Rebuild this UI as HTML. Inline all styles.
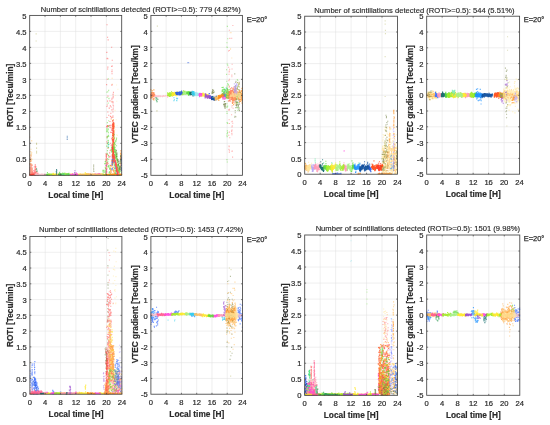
<!DOCTYPE html>
<html lang="en"><head><meta charset="utf-8"><title>ROTI and VTEC gradient</title><style>html,body{margin:0;padding:0;background:#fff}svg{display:block}text{font-family:"Liberation Sans", sans-serif}</style></head>
<body><svg width="550" height="425" viewBox="0 0 550 425"><defs><filter id="soft" x="-2%" y="-2%" width="104%" height="104%"><feGaussianBlur stdDeviation="0.35"/></filter></defs><rect width="550" height="425" fill="#fff"/><g><path d="M45.03 15.40V175.30M60.37 15.40V175.30M75.70 15.40V175.30M91.03 15.40V175.30M106.37 15.40V175.30M29.70 159.31H121.70M29.70 143.32H121.70M29.70 127.33H121.70M29.70 111.34H121.70M29.70 95.35H121.70M29.70 79.36H121.70M29.70 63.37H121.70M29.70 47.38H121.70M29.70 31.39H121.70" stroke="#dedede" stroke-width="0.5" fill="none"/><path d="M166.15 15.40V175.30M181.40 15.40V175.30M196.65 15.40V175.30M211.90 15.40V175.30M227.15 15.40V175.30M150.90 159.31H242.40M150.90 143.32H242.40M150.90 127.33H242.40M150.90 111.34H242.40M150.90 95.35H242.40M150.90 79.36H242.40M150.90 63.37H242.40M150.90 47.38H242.40M150.90 31.39H242.40" stroke="#dedede" stroke-width="0.5" fill="none"/><g filter="url(#soft)"><path d="M30.2 175.2h1.1M31.3 173.6h1.1M30.1 173.8h1.1M30.6 174.3h1.1M29.5 170.8h1.1M30.6 174.2h1.1M30.6 172.7h1.1M31.7 174.9h1.1M31.8 173.1h1.1M30.5 174.3h1.1M31.1 174.2h1.1M30.0 175.1h1.1M31.8 169.8h1.1M31.5 168.6h1.1M29.6 174.5h1.1M30.2 161.0h1.1M30.7 167.5h1.1M29.7 169.8h1.1M31.0 166.1h1.1M31.3 174.0h1.1M31.5 174.2h1.1M31.3 171.4h1.1M29.6 168.5h1.1M30.5 155.8h1.1M29.2 173.8h1.1M31.8 168.1h1.1M29.5 173.3h1.1M30.6 174.3h1.1M30.0 174.9h1.1M31.0 174.9h1.1M31.8 165.2h1.1M31.2 168.0h1.1M30.1 167.6h1.1M31.2 172.0h1.1M29.3 167.3h1.1M30.0 168.7h1.1M29.7 164.3h1.1M31.0 171.0h1.1M29.3 173.8h1.1M31.7 174.2h1.1M29.6 172.7h1.1M30.6 170.9h1.1M29.1 175.3h1.1M30.5 174.0h1.1M30.8 166.1h1.1M29.4 169.7h1.1M30.2 164.9h1.1M31.7 173.1h1.1M29.8 159.8h1.1M29.2 172.0h1.1M30.2 174.0h1.1M30.9 171.4h1.1M29.8 171.4h1.1M31.0 173.2h1.1M29.3 170.3h1.1M29.6 167.9h1.1M29.7 174.2h1.1M31.5 173.5h1.1M29.9 169.8h1.1M31.0 169.4h1.1M31.3 173.8h1.1M30.3 172.3h1.1M30.5 170.1h1.1M30.8 174.9h1.1M30.1 166.9h1.1M29.2 163.9h1.1M31.0 172.5h1.1M30.3 173.3h1.1M31.1 171.9h1.1M29.8 175.1h1.1M30.1 157.8h1.1M30.9 170.0h1.1M31.6 175.2h1.1M30.7 174.1h1.1M30.2 174.0h1.1M30.1 159.4h1.1M31.1 165.6h1.1M29.3 172.4h1.1M31.2 175.1h1.1M29.6 174.7h1.1M31.3 174.0h1.1M30.3 175.2h1.1M29.4 169.6h1.1M31.2 173.3h1.1M30.0 175.0h1.1M29.4 174.0h1.1M29.7 169.0h1.1M29.9 161.4h1.1M29.4 169.3h1.1M30.6 168.9h1.1M30.2 170.4h1.1M31.2 174.5h1.1M30.6 169.9h1.1M31.2 174.4h1.1M30.2 175.1h1.1M30.9 164.2h1.1M30.1 163.7h1.1M30.9 175.2h1.1M30.4 175.0h1.1M30.0 163.9h1.1M29.5 168.7h1.1M29.3 174.3h1.1M31.7 174.9h1.1M30.0 173.6h1.1M29.4 169.8h1.1M29.3 173.3h1.1M29.7 165.1h1.1M29.6 168.5h1.1M31.8 165.0h1.1M31.5 171.7h1.1M31.6 170.9h1.1M29.6 165.1h1.1M31.4 175.2h1.1M29.6 163.7h1.1" stroke="#ff7a5c" stroke-width="1.1" stroke-opacity="0.72" fill="none"/><path d="M30.9 156.2h1.1M29.6 161.1h1.1M29.8 159.7h1.1M30.8 153.7h1.1M30.5 154.0h1.1M31.1 140.6h1.1M29.5 163.8h1.1M31.2 141.0h1.1M30.1 159.2h1.1M30.8 158.9h1.1M29.6 161.4h1.1M30.0 156.1h1.1M29.7 151.6h1.1M31.4 159.4h1.1M30.5 154.4h1.1M31.0 154.6h1.1M30.4 151.9h1.1M29.4 137.1h1.1M31.2 152.8h1.1M29.7 154.7h1.1M29.4 159.2h1.1M29.8 156.2h1.1M29.8 163.2h1.1M31.0 161.3h1.1M30.5 163.9h1.1M30.5 149.2h1.1M31.0 160.3h1.1M29.6 155.1h1.1M30.0 160.9h1.1M110.6 119.5h1.1M111.3 101.7h1.1M111.8 121.9h1.1M111.6 78.2h1.1M111.6 126.4h1.1M111.8 84.3h1.1M111.3 117.0h1.1" stroke="#ffbf66" stroke-width="1.1" stroke-opacity="0.5" fill="none"/><path d="M32.8 174.2h1.1M35.9 174.0h1.1M35.6 171.8h1.1M36.7 173.9h1.1M37.9 175.0h1.1M34.9 171.6h1.1M37.8 174.6h1.1M37.4 175.1h1.1M34.2 171.0h1.1M36.2 171.5h1.1M33.2 174.4h1.1M34.1 173.6h1.1M32.0 174.6h1.1M35.6 171.6h1.1M32.9 173.1h1.1M36.3 175.0h1.1M31.5 175.1h1.1M35.8 169.2h1.1M33.9 174.1h1.1M35.5 174.2h1.1M31.7 175.0h1.1M35.3 173.5h1.1M33.7 173.8h1.1M32.3 172.9h1.1M33.9 171.5h1.1M35.1 167.9h1.1M36.6 175.1h1.1M34.4 175.3h1.1M36.3 174.8h1.1M37.8 175.2h1.1M34.7 172.9h1.1M36.8 173.9h1.1M37.2 174.9h1.1M32.1 175.0h1.1M31.7 174.0h1.1M35.9 171.9h1.1M36.5 175.1h1.1M31.8 174.0h1.1M31.4 175.0h1.1M35.3 172.1h1.1M35.4 166.7h1.1M37.8 175.1h1.1M33.5 175.2h1.1M32.2 174.4h1.1M35.6 174.6h1.1M32.1 173.7h1.1M35.8 173.5h1.1M32.3 174.9h1.1M33.2 170.5h1.1M37.5 175.3h1.1M37.5 173.4h1.1M36.6 174.8h1.1M37.7 174.3h1.1M32.3 175.2h1.1M33.9 172.5h1.1M31.6 172.4h1.1M35.8 173.5h1.1M34.6 174.9h1.1M36.3 172.6h1.1M31.6 173.8h1.1M33.7 167.0h1.1M33.7 174.6h1.1M32.7 174.5h1.1M31.9 175.1h1.1M34.5 172.2h1.1M35.1 174.8h1.1M31.6 175.2h1.1M37.3 175.1h1.1M35.9 173.3h1.1M35.3 167.0h1.1M33.1 172.3h1.1M34.8 173.7h1.1M34.0 174.5h1.1M32.1 171.7h1.1M35.6 174.8h1.1M36.7 175.0h1.1M35.7 173.0h1.1M36.6 174.4h1.1M37.6 174.4h1.1M34.4 174.8h1.1M33.1 175.0h1.1M34.8 169.6h1.1M36.3 173.2h1.1M34.2 174.1h1.1M36.7 173.4h1.1M35.7 173.2h1.1M36.6 173.7h1.1M33.1 174.1h1.1M33.4 174.3h1.1M37.3 174.0h1.1" stroke="#ff5a5a" stroke-width="1.1" stroke-opacity="0.61" fill="none"/><path d="M34.5 168.8h1.1M34.7 174.2h1.1M34.6 170.3h1.1M34.6 169.9h1.1M34.7 164.8h1.1M34.7 165.3h1.1M34.8 166.9h1.1M34.4 173.1h1.1M34.5 173.9h1.1M34.5 174.2h1.1M35.0 175.1h1.1M34.6 172.5h1.1M34.6 166.6h1.1M35.0 175.2h1.1M105.6 163.3h1.1M106.0 171.5h1.1M105.6 169.4h1.1M105.5 155.7h1.1M105.8 172.8h1.1M105.8 174.1h1.1M105.8 157.2h1.1M106.0 156.4h1.1M105.5 169.7h1.1M105.9 171.0h1.1M106.0 170.6h1.1M105.9 166.4h1.1M106.1 166.5h1.1M105.3 173.6h1.1M105.5 160.2h1.1M105.8 165.5h1.1M106.2 171.9h1.1M105.8 157.7h1.1M106.0 159.6h1.1M105.7 172.4h1.1M106.2 169.1h1.1M106.3 168.8h1.1M105.5 153.8h1.1M105.5 165.1h1.1M106.0 168.5h1.1M105.7 154.5h1.1M106.3 159.4h1.1M105.9 171.2h1.1M105.4 159.1h1.1M106.0 166.1h1.1M106.0 154.8h1.1M105.6 156.1h1.1M106.1 175.1h1.1M105.6 161.1h1.1M105.7 171.3h1.1M105.8 174.4h1.1M106.1 168.2h1.1M105.8 173.4h1.1M105.8 173.0h1.1M106.0 171.1h1.1M106.2 154.9h1.1M105.5 167.1h1.1M106.2 160.1h1.1M105.9 162.9h1.1M105.7 164.3h1.1M105.9 171.4h1.1M111.7 137.3h1.1M111.9 155.8h1.1M112.8 125.7h1.1M112.2 162.4h1.1M113.1 124.1h1.1M112.1 125.1h1.1M112.3 156.5h1.1M113.0 156.1h1.1M112.9 155.7h1.1M112.0 146.8h1.1M112.3 146.8h1.1M111.8 147.2h1.1M112.3 158.5h1.1M112.9 155.6h1.1M113.1 140.0h1.1M112.3 160.5h1.1M113.8 157.2h1.1M112.0 148.0h1.1M112.4 145.1h1.1M113.2 127.7h1.1M112.5 140.0h1.1M112.4 129.5h1.1M112.9 141.3h1.1M112.6 134.2h1.1M112.7 154.6h1.1M111.9 137.8h1.1M112.9 128.3h1.1M112.3 157.2h1.1M112.5 135.8h1.1M112.1 146.9h1.1" stroke="#ff5a5a" stroke-width="1.1" stroke-opacity="0.72" fill="none"/><path d="M36.4 171.5h1.1M36.4 170.2h1.1M36.0 168.9h1.1" stroke="#2f9e5a" stroke-width="1.1" stroke-opacity="0.72" fill="none"/><path d="M36.0 152.9h1.1M36.0 151.3h1.1M36.0 148.1h1.1M36.0 143.3h1.1M36.0 144.3h1.1" stroke="#a6a64a" stroke-width="1.1" stroke-opacity="0.5" fill="none"/><path d="M35.6 41.0h1.1M35.6 33.9h1.1" stroke="#a6a64a" stroke-width="1.1" stroke-opacity="0.4" fill="none"/><path d="M32.4 174.8h1.1M29.3 174.3h1.1M32.6 174.6h1.1M29.5 174.7h1.1M31.2 174.7h1.1M31.6 174.6h1.1M32.7 174.6h1.1M33.7 174.5h1.1M31.3 174.5h1.1M31.0 174.4h1.1M34.1 174.9h1.1M31.0 174.9h1.1M34.3 174.2h1.1M31.1 174.8h1.1M32.4 174.7h1.1M29.7 174.8h1.1M31.3 174.7h1.1M32.6 174.4h1.1M30.4 174.9h1.1M29.8 174.8h1.1M31.2 174.7h1.1M31.3 174.8h1.1M29.2 174.5h1.1M30.9 174.7h1.1M31.2 174.9h1.1M30.1 174.5h1.1M32.9 174.1h1.1M31.1 174.5h1.1M29.2 174.9h1.1M32.1 174.5h1.1M32.6 174.7h1.1M31.5 174.5h1.1M29.8 174.7h1.1" stroke="#ff3b30" stroke-width="1.1" stroke-opacity="0.94" fill="none"/><path d="M36.2 174.9h1.1M44.6 174.8h1.1M37.9 174.9h1.1M38.9 174.7h1.1M40.4 174.5h1.1M37.3 174.8h1.1M42.9 174.8h1.1M39.7 174.9h1.1M35.4 174.4h1.1M37.4 174.6h1.1M38.2 174.3h1.1M44.9 174.7h1.1M40.2 174.3h1.1M41.9 174.8h1.1M43.7 174.8h1.1M39.4 174.3h1.1M40.7 174.7h1.1M39.1 174.8h1.1M38.3 174.6h1.1M37.9 174.5h1.1M35.5 174.0h1.1M34.8 174.5h1.1M39.2 174.4h1.1M42.6 174.3h1.1M41.6 174.8h1.1M36.0 174.4h1.1M36.6 174.6h1.1M34.8 174.3h1.1M41.4 173.7h1.1M36.6 174.7h1.1M38.2 174.7h1.1M43.2 174.7h1.1M44.0 174.0h1.1M34.5 174.8h1.1M37.0 174.4h1.1M43.6 174.9h1.1M44.6 174.2h1.1M42.1 174.5h1.1M35.9 174.8h1.1M40.0 174.4h1.1M37.9 174.7h1.1M35.5 174.8h1.1M42.1 174.8h1.1M38.0 173.9h1.1M38.1 174.5h1.1M41.5 174.7h1.1M39.1 174.6h1.1M39.3 174.5h1.1M40.5 174.5h1.1M35.7 173.7h1.1M37.4 174.7h1.1M38.1 174.8h1.1M40.6 174.4h1.1M42.7 174.9h1.1M39.7 174.6h1.1M43.2 174.3h1.1M43.1 174.4h1.1M41.6 174.5h1.1M42.1 174.9h1.1M37.1 174.4h1.1M42.7 174.7h1.1M45.2 174.9h1.1M34.8 174.5h1.1M41.8 174.5h1.1M40.5 174.6h1.1M35.5 174.7h1.1M43.1 174.4h1.1" stroke="#ffc4cc" stroke-width="1.1" stroke-opacity="0.94" fill="none"/><path d="M46.7 174.6h1.1M47.5 174.4h1.1M46.3 174.8h1.1M47.1 174.7h1.1M48.7 174.2h1.1M46.3 174.2h1.1M48.7 174.7h1.1M48.7 174.9h1.1M48.9 174.5h1.1M46.4 174.9h1.1M48.8 174.7h1.1M48.1 174.0h1.1M49.0 174.8h1.1M48.8 174.2h1.1M47.1 174.5h1.1M48.9 174.7h1.1M47.5 174.9h1.1M46.8 174.9h1.1M46.6 174.6h1.1M46.5 174.9h1.1M46.0 174.9h1.1" stroke="#5fdc3c" stroke-width="1.1" stroke-opacity="0.94" fill="none"/><path d="M49.4 174.1h1.1M52.0 174.9h1.1M52.1 174.9h1.1M49.0 174.8h1.1M53.2 174.6h1.1M53.0 174.3h1.1M48.7 174.5h1.1M50.2 174.1h1.1M48.9 174.9h1.1M51.3 174.4h1.1M52.9 174.6h1.1M51.3 174.1h1.1M49.2 174.6h1.1M48.6 174.8h1.1M52.0 174.4h1.1M52.9 174.8h1.1M51.5 174.3h1.1M51.8 174.4h1.1M52.8 174.6h1.1M52.9 174.8h1.1M48.7 174.3h1.1M50.1 174.6h1.1M49.4 174.8h1.1M50.3 174.8h1.1M53.3 174.6h1.1M48.3 174.3h1.1M52.3 174.6h1.1M48.4 174.8h1.1M51.3 174.8h1.1M48.8 174.6h1.1M48.8 174.7h1.1M50.3 174.4h1.1M50.1 174.7h1.1" stroke="#a4ec2a" stroke-width="1.1" stroke-opacity="0.94" fill="none"/><path d="M53.8 174.6h1.1M52.2 174.4h1.1M64.9 174.1h1.1M56.9 174.8h1.1M65.2 174.5h1.1M71.6 174.6h1.1M74.6 174.7h1.1M52.3 174.1h1.1M71.9 174.1h1.1M76.6 174.7h1.1M69.7 174.4h1.1M54.3 174.5h1.1M73.3 174.7h1.1M58.8 174.8h1.1M69.0 174.6h1.1M64.4 174.7h1.1M70.6 174.5h1.1M59.1 174.2h1.1M53.4 174.7h1.1M70.4 174.8h1.1M54.2 174.9h1.1M69.0 174.9h1.1M58.2 174.5h1.1M68.2 174.4h1.1M53.9 174.5h1.1M74.4 174.9h1.1M63.5 174.9h1.1M72.3 174.4h1.1M57.2 174.3h1.1M62.5 174.3h1.1M63.0 174.8h1.1M73.3 174.6h1.1M71.8 174.9h1.1M74.7 174.2h1.1M62.4 174.7h1.1M72.7 174.9h1.1M73.0 174.9h1.1M58.8 174.6h1.1M55.5 174.7h1.1M71.5 174.3h1.1M67.9 174.9h1.1M58.5 174.7h1.1M71.5 174.4h1.1M60.0 174.9h1.1M59.2 174.6h1.1M56.3 174.4h1.1M56.0 174.5h1.1M61.0 174.4h1.1M58.2 174.1h1.1M71.5 174.4h1.1M63.0 174.7h1.1M69.5 174.6h1.1M64.8 174.3h1.1M73.5 174.8h1.1M64.0 174.7h1.1M56.8 174.6h1.1M72.7 174.9h1.1M59.5 174.6h1.1M55.2 173.9h1.1M70.7 174.5h1.1M75.1 174.1h1.1M74.5 174.5h1.1M72.0 174.3h1.1M76.1 174.3h1.1M70.3 174.5h1.1M73.7 174.9h1.1M66.8 174.8h1.1M52.6 174.8h1.1M69.3 174.9h1.1M59.7 174.7h1.1M63.5 174.6h1.1M55.3 174.5h1.1M72.5 174.7h1.1M74.2 174.5h1.1M62.1 174.8h1.1M69.2 174.8h1.1M67.4 174.9h1.1M62.3 174.9h1.1M62.9 174.8h1.1M72.1 174.9h1.1M53.2 174.7h1.1M62.5 174.6h1.1M72.7 174.8h1.1M58.7 174.4h1.1M67.1 174.3h1.1M54.5 174.7h1.1M67.6 174.8h1.1M75.9 174.8h1.1M73.0 174.7h1.1M64.4 174.2h1.1M74.6 174.5h1.1M76.1 174.3h1.1M53.7 174.3h1.1M55.6 174.0h1.1M65.8 174.7h1.1M57.3 174.7h1.1M69.7 174.6h1.1M68.1 174.0h1.1M53.4 174.8h1.1M65.9 174.6h1.1M69.8 174.4h1.1M55.7 174.8h1.1M64.7 174.3h1.1M56.8 174.7h1.1M65.7 173.8h1.1M52.7 174.5h1.1M65.4 174.8h1.1M62.0 174.6h1.1M58.3 174.9h1.1M64.4 174.6h1.1M75.6 174.9h1.1M53.2 174.7h1.1M74.6 174.8h1.1M55.8 174.1h1.1M63.0 174.7h1.1M70.1 174.5h1.1M56.9 174.5h1.1M67.1 174.6h1.1M66.5 174.9h1.1M56.1 174.9h1.1M63.9 174.4h1.1M56.8 174.6h1.1M68.9 174.4h1.1M58.6 174.6h1.1M55.2 174.5h1.1M57.3 174.2h1.1M53.0 174.4h1.1M70.9 174.4h1.1M71.5 174.0h1.1M71.9 174.4h1.1M70.7 174.1h1.1M66.0 174.6h1.1M53.5 174.5h1.1M52.5 174.7h1.1M59.8 174.7h1.1M74.9 174.4h1.1M70.7 174.7h1.1M53.3 174.3h1.1M73.5 174.6h1.1M53.3 173.9h1.1M70.3 174.2h1.1M72.2 174.4h1.1M64.7 174.6h1.1M61.1 174.8h1.1M55.8 174.7h1.1M67.7 174.8h1.1M64.2 174.7h1.1M75.5 174.6h1.1M75.4 174.5h1.1M54.1 174.9h1.1M56.1 174.7h1.1M55.7 174.6h1.1M75.6 174.8h1.1M77.1 174.9h1.1M76.9 174.3h1.1M78.5 174.6h1.1M82.3 174.5h1.1M84.8 174.7h1.1M78.5 174.0h1.1M79.3 174.7h1.1M84.5 174.6h1.1M84.4 174.8h1.1M85.3 174.8h1.1M80.0 174.5h1.1M78.6 174.5h1.1M82.4 174.2h1.1M85.1 174.4h1.1M82.2 174.6h1.1M78.8 174.5h1.1M78.9 174.9h1.1M79.8 174.0h1.1M86.3 174.4h1.1M82.1 174.9h1.1M79.6 174.5h1.1M86.2 174.4h1.1M81.8 174.4h1.1M81.5 174.8h1.1M83.8 174.0h1.1M86.1 174.3h1.1M82.7 174.4h1.1M82.1 174.7h1.1M85.1 174.5h1.1M79.2 174.3h1.1M78.6 174.8h1.1M83.5 174.9h1.1M78.0 174.7h1.1M81.0 174.6h1.1M82.1 174.8h1.1M81.0 174.6h1.1M79.7 174.4h1.1M77.1 174.5h1.1M77.1 174.3h1.1M81.2 174.7h1.1M79.8 174.4h1.1M83.6 174.0h1.1M83.1 174.7h1.1M80.6 174.6h1.1M79.8 174.3h1.1M77.6 174.6h1.1M85.3 174.6h1.1M78.2 174.5h1.1M78.7 174.2h1.1M79.2 174.7h1.1M81.5 174.7h1.1M82.0 174.7h1.1M79.5 174.8h1.1M84.7 174.9h1.1M83.6 174.7h1.1M85.4 174.1h1.1M82.5 174.2h1.1M81.3 174.5h1.1M83.2 174.6h1.1M86.5 174.7h1.1M85.6 174.6h1.1M83.5 174.7h1.1M94.8 174.3h1.1M99.2 174.4h1.1M95.5 174.5h1.1M92.0 174.8h1.1M95.3 174.7h1.1M101.6 174.9h1.1M100.8 174.9h1.1M102.0 174.8h1.1M92.1 174.9h1.1M98.3 174.1h1.1M96.6 174.7h1.1M98.3 174.0h1.1M102.5 174.5h1.1M99.6 174.7h1.1M101.6 174.3h1.1M94.8 174.8h1.1M100.2 173.8h1.1M97.7 174.3h1.1M93.6 174.8h1.1M92.8 174.5h1.1M103.0 174.7h1.1M93.7 174.9h1.1M94.3 174.2h1.1M91.7 174.6h1.1M99.8 174.7h1.1M100.3 174.5h1.1M94.8 174.7h1.1M100.9 174.0h1.1M101.4 174.9h1.1M100.5 173.9h1.1M100.4 174.8h1.1M102.7 174.3h1.1M98.2 174.9h1.1M96.9 174.7h1.1M97.7 174.9h1.1M94.1 174.4h1.1M103.3 174.7h1.1M101.5 174.9h1.1M95.7 174.8h1.1M100.6 174.9h1.1M99.6 174.9h1.1M97.4 174.8h1.1M97.4 174.9h1.1M98.7 174.7h1.1M95.7 174.6h1.1M96.0 174.9h1.1M99.3 174.8h1.1M92.3 174.7h1.1M101.6 174.9h1.1M94.7 174.7h1.1M99.4 174.8h1.1M93.5 174.9h1.1M100.8 174.9h1.1M93.2 174.2h1.1M99.0 174.6h1.1M93.4 174.4h1.1M96.9 174.9h1.1M95.3 174.5h1.1M102.4 174.8h1.1M100.8 174.5h1.1M92.2 174.8h1.1M98.8 174.0h1.1M102.6 174.2h1.1M103.4 174.7h1.1M97.3 173.9h1.1M99.8 174.6h1.1M97.4 174.4h1.1M103.2 174.5h1.1M97.4 174.4h1.1M91.7 174.8h1.1M101.3 174.8h1.1M99.8 174.3h1.1M101.1 174.4h1.1M94.2 174.7h1.1M98.1 174.6h1.1M93.6 174.5h1.1M119.7 174.7h1.1M113.6 174.4h1.1M113.9 174.9h1.1M115.4 174.6h1.1M114.3 174.5h1.1M108.0 174.8h1.1M114.2 174.2h1.1M109.6 174.7h1.1M104.2 174.7h1.1M113.1 174.6h1.1M120.8 174.5h1.1M113.7 174.4h1.1M103.9 174.8h1.1M109.7 174.1h1.1M110.4 174.9h1.1M106.9 174.7h1.1M107.4 174.8h1.1M118.5 174.5h1.1M119.9 174.2h1.1M121.0 174.6h1.1M115.4 174.3h1.1M106.2 174.8h1.1M105.4 174.3h1.1M110.9 174.8h1.1M107.5 174.5h1.1M106.8 174.3h1.1M108.7 174.9h1.1M108.9 174.5h1.1M110.8 174.4h1.1M120.6 174.7h1.1M117.4 174.7h1.1M110.8 174.5h1.1M104.9 174.3h1.1M118.9 174.6h1.1M110.3 174.3h1.1M113.0 174.7h1.1M109.9 174.1h1.1M105.5 174.2h1.1M109.1 174.6h1.1M111.1 174.7h1.1M117.5 174.8h1.1M116.8 174.8h1.1M110.0 174.7h1.1M115.5 174.3h1.1M109.5 174.5h1.1M103.5 174.4h1.1M109.9 174.2h1.1M109.1 174.6h1.1M105.2 174.7h1.1M103.7 174.5h1.1M110.5 174.3h1.1M120.1 174.4h1.1M112.0 174.9h1.1M119.2 174.5h1.1M108.7 174.9h1.1M112.4 174.5h1.1M119.4 174.7h1.1M104.0 174.7h1.1M109.9 174.9h1.1M118.5 174.5h1.1M114.6 174.8h1.1M107.5 174.8h1.1M114.2 174.9h1.1M113.6 174.6h1.1M107.0 174.3h1.1M104.7 174.9h1.1M117.6 174.6h1.1M113.2 174.8h1.1M109.8 174.7h1.1M119.2 174.5h1.1M111.0 174.6h1.1M120.0 174.7h1.1M106.4 174.4h1.1M111.5 174.8h1.1M116.6 174.7h1.1M111.2 174.8h1.1M105.6 174.1h1.1M119.8 174.5h1.1M104.1 174.8h1.1M108.1 174.7h1.1M108.4 174.8h1.1M113.3 174.1h1.1M111.7 174.4h1.1M108.0 174.4h1.1M117.7 174.8h1.1M118.6 174.5h1.1M103.8 174.6h1.1M110.4 174.7h1.1M118.1 174.9h1.1M114.8 174.7h1.1M110.6 174.5h1.1M117.2 174.8h1.1M103.5 174.4h1.1M111.2 174.9h1.1M112.6 174.7h1.1M110.4 174.6h1.1M118.7 174.9h1.1M106.2 174.5h1.1M104.0 174.8h1.1M105.2 174.2h1.1M104.0 174.6h1.1" stroke="#ffe92e" stroke-width="1.1" stroke-opacity="0.94" fill="none"/><path d="M60.0 174.4h1.1M58.3 174.4h1.1M60.8 174.4h1.1M62.8 174.7h1.1M60.1 174.9h1.1M61.4 174.6h1.1M62.5 174.7h1.1M62.7 174.8h1.1M62.0 174.7h1.1M61.2 174.9h1.1M60.9 174.2h1.1M59.8 174.4h1.1M63.3 174.1h1.1M59.4 174.9h1.1M61.7 174.7h1.1M63.4 174.9h1.1M60.8 174.5h1.1M60.0 174.5h1.1M61.1 174.8h1.1M63.5 174.8h1.1M60.1 173.9h1.1M58.4 174.8h1.1M62.2 174.6h1.1M58.9 174.0h1.1M60.1 174.6h1.1M58.9 174.0h1.1M57.9 174.2h1.1M62.5 174.6h1.1M59.7 174.9h1.1M58.7 174.8h1.1M60.2 174.2h1.1M59.4 174.3h1.1M63.6 174.2h1.1M59.5 174.9h1.1M62.3 174.6h1.1M63.1 174.8h1.1M59.5 174.7h1.1M62.6 174.3h1.1" stroke="#2f9e5a" stroke-width="1.1" stroke-opacity="0.94" fill="none"/><path d="M65.3 174.1h1.1M62.4 174.2h1.1M65.0 174.7h1.1M63.4 174.9h1.1M69.1 174.7h1.1M65.4 174.6h1.1M66.1 174.9h1.1M64.0 174.1h1.1M67.6 174.6h1.1M66.4 174.9h1.1M64.9 174.7h1.1M68.8 174.8h1.1M65.0 174.6h1.1M63.2 173.9h1.1M63.5 174.9h1.1M68.2 174.7h1.1M66.3 174.5h1.1M63.5 174.9h1.1M62.1 174.7h1.1M64.9 174.8h1.1M65.4 174.7h1.1M65.1 174.6h1.1M62.5 174.9h1.1M64.6 174.4h1.1M65.6 174.8h1.1M64.3 174.9h1.1M66.8 174.7h1.1M65.9 174.5h1.1M64.7 174.7h1.1M62.2 174.6h1.1M62.9 174.8h1.1M67.4 174.5h1.1M67.5 174.8h1.1M68.8 174.6h1.1M68.9 174.5h1.1M64.1 174.5h1.1M64.9 174.8h1.1M66.4 174.7h1.1M65.3 174.1h1.1M64.3 174.8h1.1M64.2 174.3h1.1M65.5 174.9h1.1M63.7 174.4h1.1M62.6 174.9h1.1M64.4 174.7h1.1M64.6 174.6h1.1M67.9 174.0h1.1M64.1 174.5h1.1" stroke="#5ce6a0" stroke-width="1.1" stroke-opacity="0.94" fill="none"/><path d="M69.9 174.6h1.1M73.4 174.6h1.1M77.1 174.7h1.1M73.8 174.5h1.1M72.3 174.9h1.1M71.5 174.9h1.1M74.3 174.2h1.1M76.4 174.1h1.1M76.7 174.8h1.1M70.3 174.8h1.1M72.5 174.8h1.1M70.7 174.8h1.1M70.4 174.8h1.1M75.4 174.6h1.1M76.7 174.2h1.1M75.2 174.8h1.1M73.3 174.6h1.1M73.9 174.5h1.1M73.5 174.6h1.1M73.7 174.7h1.1M75.7 174.9h1.1M76.4 174.9h1.1M71.6 174.7h1.1M76.5 173.8h1.1M73.6 174.5h1.1M70.6 174.9h1.1M75.1 174.7h1.1M77.4 174.9h1.1M73.0 174.2h1.1M70.2 174.8h1.1M75.8 174.1h1.1M74.2 174.8h1.1M76.0 174.5h1.1M70.6 174.8h1.1M75.3 174.8h1.1M69.9 174.7h1.1M74.0 174.6h1.1M70.1 174.2h1.1M72.1 173.7h1.1M76.2 174.9h1.1M74.9 174.8h1.1M71.8 174.9h1.1M70.8 174.8h1.1M72.2 174.6h1.1M70.7 174.9h1.1M70.6 174.8h1.1M73.9 174.8h1.1M70.0 174.6h1.1M96.9 174.5h1.1M99.8 174.4h1.1M95.5 174.0h1.1M95.4 174.9h1.1M94.6 174.7h1.1M94.5 174.8h1.1M96.7 174.5h1.1M99.5 174.5h1.1M96.0 174.8h1.1M94.6 174.0h1.1M97.9 174.5h1.1M95.0 174.4h1.1M99.4 174.7h1.1M98.2 174.0h1.1M99.0 174.7h1.1M98.3 174.3h1.1M96.7 174.4h1.1M99.5 174.7h1.1M100.4 174.7h1.1M94.9 174.5h1.1M98.2 174.6h1.1M95.1 174.9h1.1M95.5 174.5h1.1M95.5 174.7h1.1M99.7 174.3h1.1M97.6 174.4h1.1M97.0 174.7h1.1M97.8 174.5h1.1M94.7 174.4h1.1M95.6 174.8h1.1M95.4 174.1h1.1M100.4 174.6h1.1M98.6 174.7h1.1M100.0 174.6h1.1M95.9 174.4h1.1M96.0 174.5h1.1M100.0 174.9h1.1M98.6 173.6h1.1" stroke="#ff4ade" stroke-width="1.1" stroke-opacity="0.94" fill="none"/><path d="M85.5 174.4h1.1M86.1 174.1h1.1M86.0 174.7h1.1M87.7 174.6h1.1M85.6 174.4h1.1M85.2 174.7h1.1M87.5 174.4h1.1M85.6 174.8h1.1M90.1 174.6h1.1M90.0 174.1h1.1M85.8 174.8h1.1M87.8 174.8h1.1M85.8 174.9h1.1M90.2 174.6h1.1M91.8 174.2h1.1M91.2 174.7h1.1M89.6 174.3h1.1M86.7 174.9h1.1M89.2 174.0h1.1M90.5 174.8h1.1M87.4 174.1h1.1M87.2 174.4h1.1M88.3 174.7h1.1M90.8 174.9h1.1M91.2 174.4h1.1M87.9 174.0h1.1M87.3 174.2h1.1M86.0 174.5h1.1M87.3 174.4h1.1M90.7 174.7h1.1M88.7 174.5h1.1M91.6 174.7h1.1M88.1 174.9h1.1M87.2 174.5h1.1M87.9 174.8h1.1M90.4 174.9h1.1M89.8 174.7h1.1M91.5 174.6h1.1M91.5 174.8h1.1M85.5 174.6h1.1M88.9 174.9h1.1M87.9 174.8h1.1M88.3 174.8h1.1M115.1 174.6h1.1M120.6 174.6h1.1M105.4 174.5h1.1M119.7 174.8h1.1M111.2 174.6h1.1M112.7 174.7h1.1M116.5 174.5h1.1M111.0 174.7h1.1M120.2 174.4h1.1M113.3 174.6h1.1M114.0 174.4h1.1M114.5 174.7h1.1M119.3 174.5h1.1M113.5 174.5h1.1M116.6 174.9h1.1M115.6 174.8h1.1M110.4 174.7h1.1M106.9 174.8h1.1M113.4 174.0h1.1M113.3 174.4h1.1M108.9 174.9h1.1M117.6 174.8h1.1M103.5 174.9h1.1M106.0 174.8h1.1M108.0 174.9h1.1M110.6 174.7h1.1M104.6 174.7h1.1M108.7 174.8h1.1M104.8 174.6h1.1M118.3 174.5h1.1M104.1 174.8h1.1M120.7 174.8h1.1M106.4 174.8h1.1M119.1 173.9h1.1M118.1 174.8h1.1M103.9 174.9h1.1M112.7 174.7h1.1M109.1 174.8h1.1M112.1 174.0h1.1M108.5 174.6h1.1M109.7 174.8h1.1M109.1 174.5h1.1M113.2 174.8h1.1M120.8 174.6h1.1M105.2 174.8h1.1M108.6 174.4h1.1M112.4 174.8h1.1M106.5 174.7h1.1M107.4 174.8h1.1M121.0 174.4h1.1M109.5 174.7h1.1M120.5 174.9h1.1M115.8 174.8h1.1M117.8 174.7h1.1M118.3 174.8h1.1M118.8 174.8h1.1M113.0 174.9h1.1M117.2 173.9h1.1M106.3 174.6h1.1M114.6 174.3h1.1M118.8 174.9h1.1M114.3 174.6h1.1M114.3 173.8h1.1M112.5 174.6h1.1M111.5 174.6h1.1M111.3 174.5h1.1M106.8 174.7h1.1M110.7 174.5h1.1M112.6 174.9h1.1M108.2 174.7h1.1M117.4 174.8h1.1M119.4 174.6h1.1M103.8 174.7h1.1M120.8 174.7h1.1M120.0 174.5h1.1M113.5 174.6h1.1M114.2 174.8h1.1M118.8 174.2h1.1M114.2 174.3h1.1M110.9 174.6h1.1M112.6 174.9h1.1M115.3 174.0h1.1M114.5 174.8h1.1M116.1 174.9h1.1M105.2 174.6h1.1M109.9 174.8h1.1M118.2 174.5h1.1M114.6 174.1h1.1M119.4 174.5h1.1M113.2 174.5h1.1M119.6 174.7h1.1M107.3 174.9h1.1M119.2 174.7h1.1M108.5 174.9h1.1M111.8 174.9h1.1M106.7 174.6h1.1M117.7 174.6h1.1M118.6 174.5h1.1M107.4 174.8h1.1M105.6 174.9h1.1M111.1 174.7h1.1" stroke="#ff8c1a" stroke-width="1.1" stroke-opacity="0.94" fill="none"/><path d="M85.4 174.5h1.1M92.3 174.8h1.1M87.1 174.7h1.1M89.8 174.6h1.1M83.6 174.6h1.1M84.0 174.9h1.1M88.8 174.6h1.1M84.2 174.5h1.1M92.1 174.8h1.1M81.7 174.6h1.1M98.9 174.6h1.1M90.2 174.5h1.1M90.7 174.8h1.1M95.0 174.7h1.1M94.6 174.5h1.1M98.5 174.7h1.1M90.5 174.7h1.1M85.9 174.9h1.1M96.7 174.4h1.1M99.3 174.7h1.1M83.9 174.8h1.1M93.2 174.9h1.1M100.7 174.9h1.1M88.8 174.4h1.1M90.3 174.5h1.1M92.4 174.1h1.1M89.8 174.5h1.1M85.9 174.7h1.1M90.0 174.8h1.1M96.1 174.7h1.1M87.6 174.3h1.1M99.3 174.7h1.1M99.9 174.8h1.1M101.4 174.9h1.1M99.7 174.9h1.1M94.4 174.9h1.1M83.5 174.6h1.1M80.3 174.7h1.1M92.5 174.7h1.1M88.4 174.4h1.1M80.5 174.9h1.1M92.3 174.9h1.1M81.2 174.4h1.1M84.6 174.8h1.1M96.3 174.9h1.1M88.0 174.1h1.1M94.8 174.6h1.1M81.1 174.8h1.1M93.0 174.5h1.1M88.3 174.8h1.1M85.7 174.9h1.1M99.2 174.4h1.1M97.2 174.7h1.1M93.5 174.4h1.1M95.6 174.8h1.1M82.3 174.8h1.1M97.1 174.9h1.1M80.2 174.4h1.1M92.3 174.9h1.1M79.3 174.8h1.1M84.4 174.2h1.1M79.7 174.8h1.1M90.6 174.6h1.1M95.1 174.4h1.1M80.9 174.9h1.1M94.2 174.1h1.1M82.8 174.5h1.1M82.5 174.8h1.1M88.3 174.3h1.1M99.3 174.8h1.1M85.3 174.5h1.1M93.9 174.9h1.1M88.1 174.3h1.1M96.0 174.7h1.1M80.5 174.5h1.1M86.3 174.9h1.1M89.2 174.6h1.1M84.2 174.8h1.1M88.9 174.7h1.1M91.0 174.5h1.1M81.6 174.9h1.1M96.3 174.3h1.1M89.1 174.6h1.1M99.0 174.3h1.1M99.5 174.9h1.1M85.7 174.7h1.1M94.8 174.6h1.1M87.9 174.8h1.1M97.3 174.6h1.1M93.6 174.9h1.1M79.1 174.7h1.1M89.7 174.3h1.1M96.0 174.9h1.1M82.6 174.3h1.1M93.4 174.9h1.1M85.4 174.8h1.1M86.6 174.8h1.1M88.4 174.8h1.1M101.8 174.0h1.1M80.6 174.4h1.1M91.5 174.3h1.1M85.5 174.7h1.1M89.8 174.8h1.1M99.5 174.7h1.1M81.1 174.8h1.1M91.3 174.7h1.1M86.1 174.8h1.1M85.9 174.9h1.1M79.1 174.5h1.1M91.8 174.5h1.1M89.6 174.2h1.1M81.2 174.8h1.1M95.0 174.2h1.1M81.2 174.5h1.1M87.0 174.0h1.1M93.1 174.7h1.1M86.7 174.5h1.1M87.1 174.2h1.1M81.9 174.5h1.1M97.8 174.8h1.1M80.3 174.8h1.1M80.3 174.0h1.1M94.6 174.8h1.1M98.9 174.2h1.1M89.7 174.6h1.1M89.1 174.5h1.1M82.0 174.4h1.1M86.9 174.8h1.1M95.7 174.5h1.1M87.7 174.6h1.1M90.7 174.9h1.1M97.9 174.6h1.1M94.2 174.8h1.1M80.5 174.4h1.1M93.8 174.5h1.1M98.3 174.5h1.1M82.3 174.3h1.1M100.7 174.7h1.1M80.9 174.8h1.1M84.8 174.6h1.1M93.9 174.1h1.1M94.5 174.4h1.1M95.0 174.2h1.1M79.6 174.5h1.1" stroke="#ffbf66" stroke-width="1.1" stroke-opacity="0.94" fill="none"/><path d="M64.3 173.1h1.1M68.1 173.7h1.1M58.8 174.3h1.1M63.1 174.3h1.1M66.4 173.7h1.1M60.1 173.8h1.1M60.6 174.1h1.1M66.5 173.9h1.1M67.2 173.9h1.1M62.3 173.2h1.1M67.8 174.1h1.1M67.1 173.6h1.1M67.3 174.1h1.1M62.2 173.0h1.1M59.0 172.4h1.1M65.9 174.2h1.1M58.8 173.2h1.1M66.2 174.3h1.1M67.9 173.5h1.1M67.6 174.1h1.1M62.5 173.6h1.1M61.8 173.8h1.1M65.8 173.8h1.1M68.5 173.9h1.1M47.2 175.0h1.1M46.9 174.0h1.1M46.8 174.6h1.1M46.9 172.5h1.1M47.0 174.8h1.1M67.8 174.3h1.1M68.4 173.3h1.1M67.9 174.9h1.1M68.3 175.2h1.1M102.6 174.0h1.1M102.4 170.3h1.1M103.0 170.3h1.1M102.5 170.9h1.1M102.6 171.2h1.1M102.9 170.2h1.1M102.7 172.3h1.1M102.6 170.6h1.1M102.6 174.6h1.1M102.5 171.2h1.1M104.2 172.2h1.1M105.1 161.2h1.1M104.0 163.8h1.1M104.7 161.6h1.1M104.8 171.9h1.1M104.9 168.5h1.1M105.1 163.3h1.1M104.6 170.4h1.1M104.8 172.3h1.1M104.5 171.4h1.1M105.0 174.4h1.1M104.7 167.3h1.1M106.9 136.6h1.1M106.9 150.7h1.1M107.8 132.8h1.1M107.5 125.6h1.1M107.9 165.7h1.1M107.8 165.7h1.1M106.8 143.4h1.1M107.3 136.6h1.1M107.3 131.0h1.1M107.7 140.8h1.1M107.8 144.8h1.1M107.6 167.0h1.1M106.6 153.3h1.1M106.8 158.7h1.1M108.0 147.5h1.1M106.6 138.0h1.1M106.6 153.9h1.1M106.7 137.0h1.1M107.5 166.7h1.1M108.1 159.3h1.1M106.9 162.7h1.1M107.8 142.4h1.1M106.8 122.7h1.1M107.2 161.3h1.1M108.3 144.4h1.1M107.4 140.2h1.1M107.4 147.9h1.1M106.3 131.6h1.1M107.7 135.4h1.1M106.3 146.1h1.1M107.1 143.8h1.1M108.0 155.8h1.1M108.1 136.2h1.1M106.4 128.9h1.1M107.9 155.3h1.1M108.6 165.3h1.1M107.7 129.1h1.1M108.1 126.4h1.1M107.5 126.4h1.1M106.3 130.3h1.1M108.8 172.8h1.1M109.2 172.9h1.1M109.0 168.7h1.1M108.5 166.9h1.1M109.4 168.6h1.1M108.9 171.8h1.1M109.2 175.1h1.1M109.6 169.4h1.1M109.4 168.0h1.1M109.2 172.8h1.1M108.6 172.7h1.1M109.2 169.0h1.1M115.5 170.3h1.1M112.8 158.4h1.1M113.6 160.5h1.1M112.3 153.5h1.1M111.2 149.7h1.1M114.4 167.8h1.1M112.3 155.9h1.1M113.3 159.4h1.1M114.6 170.6h1.1M113.4 163.4h1.1M111.1 147.1h1.1M111.1 150.9h1.1M111.5 147.9h1.1M110.8 149.8h1.1M113.4 163.8h1.1M113.5 162.2h1.1M114.7 168.8h1.1M114.0 168.8h1.1M112.3 154.1h1.1M113.9 166.0h1.1M113.2 156.9h1.1M112.4 159.8h1.1M114.3 164.6h1.1M111.0 152.0h1.1M115.1 172.7h1.1M113.3 160.0h1.1M114.3 168.4h1.1M113.0 157.9h1.1M115.3 173.5h1.1M112.3 154.7h1.1M112.6 157.0h1.1M111.1 149.6h1.1M114.8 173.5h1.1M115.3 171.4h1.1M115.4 173.5h1.1M112.0 151.8h1.1M114.1 165.1h1.1M115.2 172.4h1.1M114.1 167.7h1.1" stroke="#5fdc3c" stroke-width="1.1" stroke-opacity="0.72" fill="none"/><path d="M56.2 170.8h1.1M56.0 169.6h1.1M56.1 173.2h1.1M56.0 172.1h1.1M55.9 171.2h1.1M55.9 174.2h1.1M55.7 171.8h1.1M56.1 172.7h1.1" stroke="#106a6a" stroke-width="1.1" stroke-opacity="0.72" fill="none"/><path d="M52.7 173.4h1.1M52.7 174.1h1.1M53.2 174.8h1.1M52.8 175.1h1.1M84.7 172.6h1.1M85.1 174.8h1.1M85.2 173.5h1.1M85.2 174.8h1.1M87.2 174.2h1.1M87.2 174.2h1.1M87.1 174.9h1.1M87.1 175.3h1.1" stroke="#ffe92e" stroke-width="1.1" stroke-opacity="0.72" fill="none"/><path d="M64.8 174.2h1.1M64.5 175.2h1.1M65.2 174.4h1.1M64.5 173.7h1.1" stroke="#a4ec2a" stroke-width="1.1" stroke-opacity="0.72" fill="none"/><path d="M74.1 172.5h1.1M74.5 172.9h1.1M74.3 174.9h1.1M74.4 170.7h1.1M74.0 174.7h1.1M74.2 173.3h1.1M112.0 163.3h1.1M111.7 159.3h1.1M111.7 156.6h1.1M111.6 157.1h1.1M111.7 159.0h1.1M111.8 163.7h1.1M111.7 162.5h1.1M111.9 162.2h1.1" stroke="#9a4cd0" stroke-width="1.1" stroke-opacity="0.72" fill="none"/><path d="M75.8 172.9h1.1M75.9 174.3h1.1M76.0 174.6h1.1M75.9 174.6h1.1" stroke="#ff4ade" stroke-width="1.1" stroke-opacity="0.72" fill="none"/><path d="M93.1 169.9h1.1M93.1 168.3h1.1M93.1 166.7h1.1M93.1 165.1h1.1M93.3 171.5h1.1" stroke="#6b7a3a" stroke-width="1.1" stroke-opacity="0.54" fill="none"/><path d="M66.7 139.5h1.1M66.7 137.9h1.1M66.7 136.3h1.1" stroke="#114c9c" stroke-width="1.1" stroke-opacity="0.54" fill="none"/><path d="M105.8 165.4h1.1M106.2 165.0h1.1M105.9 169.6h1.1M105.3 165.2h1.1M105.9 171.8h1.1M105.4 173.1h1.1" stroke="#9a4cd0" stroke-width="1.1" stroke-opacity="0.5" fill="none"/><path d="M106.6 92.0h1.1M108.5 98.6h1.1M108.1 90.4h1.1M108.1 120.8h1.1M107.3 91.8h1.1M107.8 78.9h1.1M106.6 97.5h1.1M107.6 103.1h1.1M108.3 98.4h1.1M106.3 92.2h1.1" stroke="#5fdc3c" stroke-width="1.1" stroke-opacity="0.47" fill="none"/><path d="M107.7 146.5h1.1M107.9 144.6h1.1M107.7 142.7h1.1" stroke="#35cdee" stroke-width="1.1" stroke-opacity="0.58" fill="none"/><path d="M106.2 52.5h1.1M106.5 58.8h1.1M107.0 37.3h1.1M106.7 58.4h1.1M106.3 141.7h1.1M107.3 58.8h1.1M106.5 24.8h1.1M107.0 101.1h1.1M106.3 52.2h1.1M106.1 84.6h1.1M107.0 125.6h1.1M107.3 112.0h1.1M107.6 39.9h1.1M106.4 106.5h1.1M107.3 67.1h1.1M107.4 96.1h1.1M106.8 143.0h1.1M106.8 105.0h1.1M107.1 69.0h1.1M106.7 79.2h1.1M106.1 126.6h1.1M106.5 117.5h1.1M111.3 85.3h1.1M111.5 73.7h1.1M110.7 107.0h1.1M111.4 98.2h1.1M111.5 101.9h1.1M111.1 66.4h1.1M111.4 71.6h1.1M111.2 129.2h1.1M111.5 70.0h1.1M110.9 132.5h1.1M111.3 99.8h1.1M111.0 138.6h1.1M110.7 118.1h1.1M111.4 84.8h1.1M110.7 145.4h1.1M111.3 109.9h1.1M111.8 66.0h1.1M111.7 60.2h1.1M111.2 130.2h1.1M110.7 125.3h1.1M111.3 117.3h1.1M111.1 47.3h1.1" stroke="#ff5a5a" stroke-width="1.1" stroke-opacity="0.58" fill="none"/><path d="M106.4 137.0h1.1M107.5 163.4h1.1M106.8 162.7h1.1M108.7 125.5h1.1M108.5 156.9h1.1M108.4 157.1h1.1M106.7 125.9h1.1M107.0 164.1h1.1M106.6 154.2h1.1M107.6 148.0h1.1M106.5 127.0h1.1M107.0 126.7h1.1M109.5 156.4h1.1M110.4 127.8h1.1M108.2 115.2h1.1M110.1 165.6h1.1M109.3 156.7h1.1M109.9 116.4h1.1M109.5 125.3h1.1M109.4 121.5h1.1M109.4 127.1h1.1M109.4 100.9h1.1M109.6 125.5h1.1M110.3 113.3h1.1M110.0 132.2h1.1M109.7 150.6h1.1M109.8 105.9h1.1M108.7 108.1h1.1M110.2 150.0h1.1M109.9 165.5h1.1M109.1 152.9h1.1M110.1 143.2h1.1" stroke="#ff5a5a" stroke-width="1.1" stroke-opacity="0.65" fill="none"/><path d="M110.6 165.2h1.1M110.4 169.0h1.1M110.0 170.7h1.1M110.7 170.1h1.1M110.2 173.7h1.1M110.5 172.4h1.1M110.6 174.3h1.1M110.1 165.3h1.1M109.9 168.2h1.1M110.4 169.0h1.1M110.6 166.2h1.1M110.2 173.1h1.1M110.6 171.8h1.1M110.2 171.3h1.1M112.5 135.6h1.1M112.3 141.9h1.1M112.6 134.3h1.1M113.1 160.8h1.1M112.0 134.6h1.1M112.1 160.7h1.1M112.3 138.9h1.1M112.8 119.9h1.1M112.4 139.9h1.1M112.0 124.0h1.1M111.8 155.4h1.1M112.6 155.1h1.1M111.9 156.3h1.1M112.5 124.8h1.1M112.5 134.8h1.1M112.9 126.5h1.1M112.3 155.5h1.1M112.9 136.6h1.1M112.8 131.6h1.1M112.9 125.3h1.1M113.1 134.1h1.1M111.8 139.8h1.1M112.3 150.6h1.1M113.0 123.4h1.1M112.6 150.4h1.1M112.2 152.2h1.1M111.8 160.2h1.1M113.0 144.5h1.1M112.8 135.7h1.1M112.7 139.9h1.1M112.3 161.9h1.1M113.3 158.1h1.1M112.3 128.5h1.1M112.2 154.8h1.1M112.1 133.6h1.1M112.3 127.7h1.1M112.9 139.0h1.1M112.3 143.3h1.1M112.2 126.6h1.1M113.2 128.8h1.1M113.5 146.5h1.1M113.0 145.3h1.1M113.1 142.3h1.1M112.9 139.8h1.1M113.4 132.7h1.1M113.3 150.0h1.1M113.2 132.0h1.1M112.9 133.8h1.1M113.0 142.7h1.1M113.3 148.5h1.1M113.4 128.3h1.1M113.4 130.3h1.1M113.6 126.7h1.1M113.5 145.6h1.1M113.9 125.2h1.1M113.7 144.5h1.1M113.4 145.2h1.1M113.1 148.0h1.1M113.6 143.7h1.1M113.1 138.1h1.1M113.5 135.8h1.1M113.5 131.3h1.1M113.5 152.8h1.1M113.8 137.9h1.1M113.1 144.9h1.1M113.1 151.4h1.1M113.1 123.9h1.1M113.5 142.0h1.1M113.1 128.3h1.1M113.5 139.2h1.1M113.3 123.3h1.1M113.2 124.6h1.1M113.4 134.8h1.1M113.5 132.4h1.1M111.7 164.7h1.1M112.2 165.1h1.1M111.8 162.0h1.1M112.9 169.8h1.1M112.3 167.0h1.1M111.2 161.0h1.1M113.8 172.8h1.1M113.4 171.6h1.1M112.8 167.8h1.1M111.4 161.5h1.1M112.1 164.7h1.1M113.2 169.9h1.1M111.4 163.5h1.1M112.2 165.2h1.1M112.4 167.8h1.1M113.7 172.4h1.1M111.1 160.4h1.1M113.4 170.8h1.1M112.2 163.9h1.1M112.6 170.5h1.1M111.1 160.5h1.1M111.7 163.1h1.1M113.1 171.2h1.1M112.2 164.8h1.1M113.9 174.6h1.1M112.1 165.1h1.1M120.5 154.9h1.1M120.2 150.7h1.1M120.1 153.1h1.1M119.9 158.7h1.1M120.0 157.0h1.1M120.2 157.4h1.1M120.3 163.7h1.1M120.2 150.9h1.1M120.4 156.2h1.1M120.0 153.9h1.1M120.1 158.0h1.1M120.1 164.2h1.1M120.1 165.5h1.1M120.2 163.2h1.1" stroke="#ff8c1a" stroke-width="1.1" stroke-opacity="0.72" fill="none"/><path d="M112.5 155.5h1.1M112.5 126.1h1.1M112.6 157.7h1.1M112.8 147.0h1.1M112.5 139.9h1.1M112.0 135.6h1.1M112.1 161.6h1.1M112.1 160.6h1.1M112.1 120.9h1.1M112.2 155.9h1.1M112.9 142.8h1.1M112.0 160.2h1.1M112.7 151.8h1.1M112.4 137.8h1.1M112.3 126.1h1.1M112.0 161.7h1.1M112.5 153.0h1.1M112.8 136.2h1.1M112.6 151.4h1.1M112.5 147.6h1.1M112.2 146.8h1.1M112.4 129.5h1.1M113.3 123.0h1.1M111.9 149.1h1.1M112.7 146.0h1.1M112.3 124.5h1.1M112.5 128.7h1.1M112.5 142.4h1.1M112.7 156.4h1.1M112.9 147.9h1.1M112.2 132.2h1.1M111.8 130.6h1.1M112.3 148.1h1.1M112.8 142.6h1.1M111.6 144.5h1.1M112.1 149.9h1.1M112.7 140.9h1.1M113.0 140.0h1.1M112.3 135.5h1.1M112.6 150.2h1.1M112.9 153.3h1.1M113.4 134.3h1.1M112.8 122.3h1.1M112.4 152.2h1.1M112.1 143.9h1.1M112.7 160.3h1.1M112.9 123.3h1.1M112.1 149.1h1.1M112.1 139.2h1.1M112.4 133.0h1.1M112.0 154.1h1.1M113.1 133.6h1.1M112.2 156.2h1.1M112.9 157.7h1.1M112.2 132.4h1.1M112.2 151.1h1.1M112.7 156.7h1.1M113.0 141.7h1.1M112.7 127.4h1.1M111.9 140.1h1.1M111.7 154.9h1.1M112.8 130.3h1.1M113.1 132.2h1.1M112.0 154.2h1.1M113.1 124.1h1.1M112.4 140.1h1.1M112.8 127.8h1.1M111.7 145.1h1.1M112.1 126.0h1.1M112.7 144.0h1.1M112.8 139.2h1.1M112.6 127.1h1.1M113.2 161.8h1.1M111.9 145.2h1.1M112.8 125.1h1.1M112.3 130.7h1.1M112.3 156.0h1.1M112.7 152.0h1.1M112.3 120.6h1.1M112.2 159.9h1.1M113.6 126.8h1.1M112.0 161.3h1.1M112.4 129.9h1.1M112.8 144.1h1.1M112.7 152.1h1.1M112.4 149.6h1.1M112.4 157.5h1.1M112.0 144.3h1.1M112.1 124.5h1.1M112.2 126.4h1.1M113.0 139.7h1.1M112.1 133.2h1.1M112.9 142.4h1.1M112.9 125.6h1.1M112.8 131.7h1.1M112.4 126.5h1.1M112.6 157.5h1.1M112.5 156.0h1.1M112.6 155.3h1.1M112.0 125.8h1.1M112.7 149.7h1.1M112.8 156.5h1.1M113.0 131.0h1.1M112.3 141.3h1.1M112.2 140.8h1.1M111.7 128.2h1.1M112.0 146.1h1.1M112.5 157.6h1.1M112.7 160.6h1.1M112.1 157.3h1.1M112.9 161.6h1.1M112.6 140.4h1.1M112.5 123.6h1.1M112.1 139.8h1.1M112.7 162.1h1.1M112.9 139.6h1.1M112.8 135.4h1.1M112.3 148.4h1.1M112.4 158.4h1.1M112.8 128.3h1.1" stroke="#ff3b30" stroke-width="1.1" stroke-opacity="0.72" fill="none"/><path d="M112.6 96.9h1.1M112.6 94.1h1.1M112.5 123.8h1.1M112.6 109.7h1.1M112.5 101.9h1.1M112.7 108.1h1.1M112.2 117.3h1.1M112.4 115.7h1.1M112.5 98.0h1.1M112.9 122.9h1.1M112.7 96.3h1.1M112.9 92.4h1.1M112.5 117.1h1.1M112.4 94.7h1.1M112.5 103.0h1.1M112.4 111.9h1.1M112.5 105.1h1.1M113.0 106.0h1.1" stroke="#ff5a5a" stroke-width="1.1" stroke-opacity="0.5" fill="none"/><path d="M111.8 160.0h1.1M111.6 165.1h1.1M111.5 161.9h1.1M111.6 169.8h1.1M111.8 168.6h1.1M111.8 162.7h1.1M111.5 164.4h1.1M111.8 168.7h1.1M111.4 168.6h1.1M111.4 168.4h1.1M111.8 164.5h1.1M111.8 159.5h1.1M111.8 161.8h1.1M111.5 169.7h1.1M115.4 166.9h1.1M116.7 171.6h1.1M117.3 175.2h1.1M116.9 173.4h1.1M116.7 169.8h1.1M114.9 162.1h1.1M114.9 166.5h1.1M117.0 175.1h1.1M115.7 169.2h1.1M117.2 175.0h1.1M115.5 168.6h1.1M116.3 173.2h1.1M115.4 168.0h1.1M115.0 166.9h1.1M114.2 161.6h1.1M114.2 162.8h1.1M114.2 162.1h1.1M113.3 159.6h1.1M116.1 169.9h1.1M115.8 167.7h1.1M120.9 170.5h1.1M120.8 168.4h1.1M120.7 159.1h1.1M120.7 167.9h1.1M120.8 157.8h1.1M120.9 165.5h1.1M120.8 161.0h1.1M120.8 165.2h1.1M120.8 163.1h1.1M120.6 165.0h1.1M120.7 160.1h1.1M120.8 169.8h1.1M120.8 170.1h1.1M120.8 168.5h1.1" stroke="#3a6cff" stroke-width="1.1" stroke-opacity="0.72" fill="none"/><path d="M113.4 155.2h1.1M116.9 173.8h1.1M112.2 147.9h1.1M116.9 174.2h1.1M115.7 168.2h1.1M113.3 152.0h1.1M115.2 163.4h1.1M111.8 148.4h1.1M116.8 169.8h1.1M114.3 161.2h1.1M115.1 161.9h1.1M113.3 155.7h1.1M111.4 148.2h1.1M112.7 152.9h1.1M115.9 168.1h1.1M114.4 161.0h1.1M115.8 169.0h1.1M116.8 167.6h1.1M116.0 169.7h1.1M115.9 166.8h1.1M116.2 167.6h1.1M116.0 168.8h1.1M114.1 156.8h1.1M113.7 156.3h1.1M114.3 161.4h1.1M113.2 155.7h1.1M114.3 160.8h1.1M113.1 152.6h1.1M116.5 171.5h1.1M117.4 174.8h1.1M115.0 163.4h1.1M115.6 163.6h1.1M115.8 168.4h1.1M113.4 156.6h1.1M114.4 157.4h1.1M112.8 149.1h1.1M115.0 161.0h1.1M112.4 151.0h1.1M112.2 149.3h1.1M115.0 165.4h1.1M116.2 171.6h1.1M115.9 164.6h1.1M116.4 174.8h1.1M113.5 154.5h1.1M112.1 149.7h1.1M115.2 163.7h1.1M114.0 156.8h1.1M113.9 157.0h1.1M114.8 164.2h1.1M113.7 159.7h1.1M116.0 166.6h1.1M112.2 148.3h1.1M116.8 171.0h1.1M113.0 154.0h1.1M117.0 172.2h1.1M113.7 158.7h1.1M116.3 169.8h1.1M113.6 159.1h1.1M114.1 158.2h1.1M114.1 157.6h1.1M117.2 172.7h1.1M115.0 162.6h1.1M113.5 154.8h1.1M116.9 172.6h1.1M116.1 170.8h1.1M114.8 163.5h1.1M113.6 156.6h1.1M115.1 164.8h1.1M116.8 170.1h1.1M113.0 154.3h1.1M112.4 151.3h1.1M115.8 170.9h1.1M113.9 159.1h1.1M116.3 168.9h1.1M115.6 165.5h1.1M114.8 163.1h1.1M115.3 165.7h1.1M111.8 147.0h1.1M115.2 163.5h1.1M116.4 172.0h1.1" stroke="#ff3b30" stroke-width="1.1" stroke-opacity="0.86" fill="none"/><path d="M117.5 169.1h1.1M117.1 170.7h1.1M118.1 171.7h1.1M115.1 164.0h1.1M115.9 166.9h1.1M116.7 169.5h1.1M113.8 160.1h1.1M117.6 175.3h1.1M113.5 154.6h1.1M116.6 167.5h1.1M117.9 171.1h1.1M116.5 166.2h1.1M116.3 169.4h1.1M115.8 166.1h1.1M116.3 168.5h1.1M116.8 167.5h1.1M117.0 173.0h1.1M114.4 159.8h1.1M117.2 169.9h1.1M113.7 155.0h1.1M115.7 166.4h1.1M116.6 166.4h1.1M116.7 169.0h1.1M117.7 175.0h1.1M116.9 167.5h1.1M115.6 162.9h1.1M116.8 168.5h1.1M118.0 172.2h1.1M116.0 166.0h1.1M114.9 161.8h1.1M117.2 167.6h1.1M115.8 164.3h1.1M114.9 160.4h1.1M116.4 165.9h1.1M115.7 165.0h1.1M114.2 157.6h1.1M115.1 160.7h1.1M114.1 156.5h1.1M114.9 165.8h1.1M114.3 157.7h1.1M113.8 158.9h1.1M113.5 156.0h1.1M115.5 166.8h1.1M116.8 171.2h1.1M117.6 170.4h1.1M115.1 163.1h1.1M117.7 172.5h1.1M117.0 171.7h1.1M118.1 173.2h1.1M116.9 171.0h1.1M113.3 157.3h1.1M114.0 155.8h1.1M115.9 167.5h1.1M113.0 155.0h1.1M116.4 171.2h1.1M114.1 158.5h1.1" stroke="#ff5a5a" stroke-width="1.1" stroke-opacity="0.86" fill="none"/><path d="M115.8 157.2h1.1M114.1 150.2h1.1M116.2 158.5h1.1M113.9 151.9h1.1M118.9 175.0h1.1M116.2 159.8h1.1M116.0 158.5h1.1M115.3 156.6h1.1M119.6 171.5h1.1M114.8 151.8h1.1M118.8 170.8h1.1M114.4 154.9h1.1M116.7 158.8h1.1M115.2 157.3h1.1M115.1 154.8h1.1M117.1 162.7h1.1M117.2 164.4h1.1M113.9 149.1h1.1M116.5 156.6h1.1M114.6 154.4h1.1M119.1 166.6h1.1M117.6 164.5h1.1M116.3 159.3h1.1M113.2 146.0h1.1M114.6 154.0h1.1M118.5 169.7h1.1M117.0 164.8h1.1M117.7 168.9h1.1M118.3 170.4h1.1M117.0 162.5h1.1M118.7 168.7h1.1M115.0 155.4h1.1M113.5 149.5h1.1M114.3 150.2h1.1M117.8 165.9h1.1M116.0 155.1h1.1M114.5 150.1h1.1M114.5 154.4h1.1M113.7 149.1h1.1M114.7 149.2h1.1M116.9 160.2h1.1M118.5 167.0h1.1M115.3 158.6h1.1M117.5 165.1h1.1M116.9 166.9h1.1M113.2 144.2h1.1M117.9 164.4h1.1M116.7 162.1h1.1M118.8 169.7h1.1M113.8 143.4h1.1M114.3 150.2h1.1M114.8 152.9h1.1M118.7 169.3h1.1M118.5 168.5h1.1M117.7 170.7h1.1M116.0 158.2h1.1M119.1 168.7h1.1M119.1 172.4h1.1M117.2 165.0h1.1M114.6 147.2h1.1M116.5 160.6h1.1M114.1 152.0h1.1M113.8 151.2h1.1M114.6 149.2h1.1M119.0 171.4h1.1M116.8 165.5h1.1M115.8 158.2h1.1M119.1 170.6h1.1M116.4 156.9h1.1M113.3 147.4h1.1" stroke="#5fdc3c" stroke-width="1.1" stroke-opacity="0.79" fill="none"/><path d="M118.2 161.0h1.1M116.4 153.0h1.1M115.6 152.8h1.1M116.2 153.9h1.1M117.4 161.1h1.1M118.3 162.8h1.1M116.3 154.3h1.1M116.9 159.2h1.1M115.2 151.0h1.1M118.6 163.5h1.1M116.3 155.3h1.1M118.9 167.6h1.1M117.1 160.7h1.1M118.6 167.4h1.1M117.9 161.4h1.1M116.0 154.4h1.1M118.4 165.6h1.1M116.0 156.6h1.1M118.4 163.8h1.1M119.1 168.4h1.1M119.2 167.2h1.1M117.3 159.6h1.1M117.7 161.4h1.1M117.9 164.6h1.1M119.0 169.1h1.1M115.8 150.4h1.1M118.1 161.3h1.1M117.4 159.5h1.1M119.9 160.5h1.1M120.0 159.4h1.1M120.0 169.1h1.1M120.1 155.5h1.1M119.6 161.8h1.1M120.1 161.5h1.1M120.0 156.6h1.1M120.2 162.7h1.1M119.9 166.6h1.1M119.8 169.9h1.1M120.2 163.1h1.1M120.2 159.7h1.1M120.1 159.6h1.1M120.2 167.8h1.1" stroke="#6b7a3a" stroke-width="1.1" stroke-opacity="0.72" fill="none"/><path d="M113.6 136.2h1.1M115.5 140.2h1.1M115.9 139.4h1.1M116.0 138.1h1.1M113.9 147.6h1.1M114.5 144.0h1.1M115.5 141.3h1.1M114.6 140.8h1.1M116.0 154.4h1.1M113.8 149.1h1.1M113.9 138.1h1.1M115.7 151.6h1.1M113.6 146.1h1.1M114.0 142.5h1.1M116.0 145.7h1.1M115.0 141.9h1.1M113.8 134.3h1.1M113.8 148.8h1.1M115.0 144.8h1.1M113.5 149.5h1.1" stroke="#5fdc3c" stroke-width="1.1" stroke-opacity="0.58" fill="none"/><path d="M117.3 89.3h1.1M115.6 137.7h1.1M115.1 129.8h1.1M114.7 110.8h1.1M116.9 135.4h1.1M116.0 134.8h1.1M114.4 110.3h1.1M116.6 125.7h1.1M116.0 85.0h1.1M115.8 119.7h1.1M114.9 95.5h1.1M116.2 101.2h1.1" stroke="#ffe9a0" stroke-width="1.1" stroke-opacity="0.43" fill="none"/><path d="M151.0 92.6h1.1M152.7 96.6h1.1M152.0 95.3h1.1M150.3 95.3h1.1M150.6 94.7h1.1M151.8 97.2h1.1M153.6 95.2h1.1M151.0 96.2h1.1M150.3 89.8h1.1M153.1 95.3h1.1M152.6 95.7h1.1M152.7 96.2h1.1M153.5 98.5h1.1M152.9 95.4h1.1M150.3 97.1h1.1M152.0 95.9h1.1M152.9 94.9h1.1M152.4 99.3h1.1M150.7 97.5h1.1M153.0 95.9h1.1M153.5 93.1h1.1M153.7 95.7h1.1M151.1 94.9h1.1M152.7 94.9h1.1M151.6 90.6h1.1M150.7 96.6h1.1M153.3 89.9h1.1M153.0 95.7h1.1M153.7 94.6h1.1M152.0 92.2h1.1M153.2 99.3h1.1M150.8 93.0h1.1M151.8 94.6h1.1M153.6 95.1h1.1M153.0 93.4h1.1M152.3 92.5h1.1M153.3 99.9h1.1M151.6 95.4h1.1M152.3 94.9h1.1M150.4 94.8h1.1M151.2 95.7h1.1M151.0 93.2h1.1M151.1 92.2h1.1M151.7 94.5h1.1M151.3 93.5h1.1M152.3 94.9h1.1M152.3 96.4h1.1M150.4 98.2h1.1M152.7 95.9h1.1M238.7 95.4h1.1M239.3 99.4h1.1M234.8 99.6h1.1M230.3 93.8h1.1M231.3 94.2h1.1M232.8 96.4h1.1M233.4 92.9h1.1M229.0 97.1h1.1M229.6 94.6h1.1M234.3 94.0h1.1M232.1 94.9h1.1M236.4 92.9h1.1M236.2 93.3h1.1M241.3 96.7h1.1M239.1 95.2h1.1M228.9 95.4h1.1M237.6 93.7h1.1M225.1 96.1h1.1M239.3 92.4h1.1M229.9 96.5h1.1M232.6 97.1h1.1M230.9 94.5h1.1M235.2 96.6h1.1M237.4 93.6h1.1M229.9 96.9h1.1M238.0 94.7h1.1M226.3 95.3h1.1M229.9 94.5h1.1M240.6 96.5h1.1M237.2 97.1h1.1M233.4 100.3h1.1M240.8 94.1h1.1M238.6 94.5h1.1M235.9 95.5h1.1M233.8 96.6h1.1M230.4 92.3h1.1M230.1 94.1h1.1M227.0 97.4h1.1M227.4 96.1h1.1M236.4 94.7h1.1M235.3 99.7h1.1M235.9 96.7h1.1M237.5 95.5h1.1M239.0 94.9h1.1M229.7 92.9h1.1M241.2 99.1h1.1M240.0 92.4h1.1M236.0 95.1h1.1M232.6 95.3h1.1M233.6 94.8h1.1M232.1 98.1h1.1M226.7 94.7h1.1M226.8 96.1h1.1M230.0 94.3h1.1M227.1 89.6h1.1M237.7 98.1h1.1M228.2 96.9h1.1M241.4 94.8h1.1M241.2 90.5h1.1M225.2 97.2h1.1M233.9 96.9h1.1M231.0 96.1h1.1M227.6 94.6h1.1M238.3 92.8h1.1M231.6 93.7h1.1M238.4 98.8h1.1M235.9 90.0h1.1M232.1 93.8h1.1M226.5 94.6h1.1M239.0 91.8h1.1M241.0 98.8h1.1M226.3 96.1h1.1M237.1 95.3h1.1M225.2 94.0h1.1M227.0 93.6h1.1M225.6 94.0h1.1M225.5 98.3h1.1M233.3 96.0h1.1M238.0 98.2h1.1M239.3 96.9h1.1M229.1 97.1h1.1M225.5 95.2h1.1M225.5 93.6h1.1M240.9 96.4h1.1M227.8 95.0h1.1M230.4 95.4h1.1M235.5 94.5h1.1M229.5 95.7h1.1M240.7 96.3h1.1M237.0 97.1h1.1M235.5 94.1h1.1M241.1 94.7h1.1M229.9 97.6h1.1M236.5 96.3h1.1M227.4 93.5h1.1M234.3 95.1h1.1M226.4 93.5h1.1M227.6 95.1h1.1M236.9 94.9h1.1M226.7 89.9h1.1M234.5 92.3h1.1M237.6 99.8h1.1M233.3 97.4h1.1M235.3 93.7h1.1M227.1 92.3h1.1M230.7 93.9h1.1M229.3 96.1h1.1M232.1 95.0h1.1M225.7 93.2h1.1M226.1 96.8h1.1M225.3 95.8h1.1M232.0 94.0h1.1M241.0 95.4h1.1M231.5 96.0h1.1M233.1 98.4h1.1M239.0 94.6h1.1M234.8 96.3h1.1M241.3 97.3h1.1M231.5 96.2h1.1M232.3 96.6h1.1M228.5 94.9h1.1M228.2 96.1h1.1M237.8 94.2h1.1M230.0 97.5h1.1M240.2 99.4h1.1M237.0 93.1h1.1M241.4 96.6h1.1M227.9 93.2h1.1M234.6 97.3h1.1M231.8 101.2h1.1M237.5 98.7h1.1M233.3 92.0h1.1M228.5 96.5h1.1M238.0 92.0h1.1M227.9 92.8h1.1M241.0 96.6h1.1M228.0 94.5h1.1M237.9 94.6h1.1M240.3 94.8h1.1M235.7 98.1h1.1M234.8 97.4h1.1M231.1 99.3h1.1M225.4 94.6h1.1M231.0 95.4h1.1M233.5 96.3h1.1M227.4 95.6h1.1M236.6 92.2h1.1M229.9 96.3h1.1M226.0 94.5h1.1M240.7 90.8h1.1M228.9 97.8h1.1M226.9 94.5h1.1M238.1 97.8h1.1M232.1 92.9h1.1M237.8 96.0h1.1M230.1 94.8h1.1M237.2 92.4h1.1M240.3 96.3h1.1M230.3 94.2h1.1M228.2 94.9h1.1M240.0 94.2h1.1M240.3 95.4h1.1M240.9 95.6h1.1M240.2 94.9h1.1M230.2 93.5h1.1M234.1 98.2h1.1M235.8 95.0h1.1M241.6 95.7h1.1M235.5 97.0h1.1M231.2 96.5h1.1M237.6 97.2h1.1M235.9 96.6h1.1M230.0 96.2h1.1M241.3 88.7h1.1M228.9 91.5h1.1M225.4 92.6h1.1M229.3 93.2h1.1M236.5 91.2h1.1M239.9 92.6h1.1M233.4 94.4h1.1M228.3 100.7h1.1M232.3 94.5h1.1M231.0 94.7h1.1M233.4 95.1h1.1M236.1 98.8h1.1M228.6 95.1h1.1M229.6 94.1h1.1M234.5 96.9h1.1M240.3 96.2h1.1M231.4 95.6h1.1M234.9 93.7h1.1M237.5 94.1h1.1M225.9 97.6h1.1M240.6 95.0h1.1M227.1 96.0h1.1M236.2 97.3h1.1M238.2 92.3h1.1M228.3 98.8h1.1M227.6 98.4h1.1M229.2 95.9h1.1M232.0 103.4h1.1M233.0 93.7h1.1M233.8 91.9h1.1M232.8 89.1h1.1M234.7 93.1h1.1M229.3 96.7h1.1M232.2 100.9h1.1M234.0 86.8h1.1M229.9 88.7h1.1M231.2 94.6h1.1M234.7 91.1h1.1M232.3 100.3h1.1M233.2 95.5h1.1M234.8 97.9h1.1M229.5 93.3h1.1M234.2 94.5h1.1M234.7 96.7h1.1M230.9 93.2h1.1M232.0 93.0h1.1M232.1 90.2h1.1M231.8 98.5h1.1M232.2 95.1h1.1M235.2 95.2h1.1M230.9 93.8h1.1M233.2 92.1h1.1M230.7 93.4h1.1M234.1 98.7h1.1M229.0 92.5h1.1M233.7 99.6h1.1M232.5 99.6h1.1M230.3 93.9h1.1M230.5 91.1h1.1M233.1 104.6h1.1M233.7 86.8h1.1M233.4 99.9h1.1M235.5 96.3h1.1M233.5 90.0h1.1M232.5 97.1h1.1M235.5 99.6h1.1M235.5 103.1h1.1M231.2 97.4h1.1M234.5 93.0h1.1M231.6 91.7h1.1M232.9 93.7h1.1M233.8 89.6h1.1M232.3 94.3h1.1M234.5 89.0h1.1M233.0 93.9h1.1M229.5 96.1h1.1M231.6 94.3h1.1M233.1 98.5h1.1M233.0 97.1h1.1M232.4 91.0h1.1M233.1 91.6h1.1M230.5 97.7h1.1M232.0 94.1h1.1M230.4 91.0h1.1M229.3 96.3h1.1M232.7 95.9h1.1M232.4 97.0h1.1M234.4 94.5h1.1M230.6 98.6h1.1M231.7 93.0h1.1M231.8 94.8h1.1M231.3 97.3h1.1M231.0 98.3h1.1M231.8 103.0h1.1M231.9 95.6h1.1M230.1 91.0h1.1M233.7 103.0h1.1M241.7 99.5h1.1M240.5 93.8h1.1M240.0 94.4h1.1M239.2 91.8h1.1M239.0 101.4h1.1M241.1 93.5h1.1M240.6 95.3h1.1M240.7 99.5h1.1M238.9 91.5h1.1M240.3 100.7h1.1M241.1 96.7h1.1M239.7 95.8h1.1M240.0 95.9h1.1M239.2 96.3h1.1M239.6 93.0h1.1M240.9 91.4h1.1M239.5 99.2h1.1M239.6 92.4h1.1M240.8 99.8h1.1M241.1 93.5h1.1M240.1 94.2h1.1M241.0 96.8h1.1M240.7 97.0h1.1M241.6 100.1h1.1M241.0 96.1h1.1M241.2 93.0h1.1M240.2 101.4h1.1M240.3 96.2h1.1M238.8 93.9h1.1M241.8 88.0h1.1M241.4 103.0h1.1M241.0 99.3h1.1M240.5 94.6h1.1M240.4 98.0h1.1M240.8 97.7h1.1M240.9 90.7h1.1M239.3 101.2h1.1M239.0 99.1h1.1M239.1 90.6h1.1M241.1 98.7h1.1" stroke="#ff8c1a" stroke-width="1.1" stroke-opacity="0.72" fill="none"/><path d="M150.6 96.0h1.1M151.0 95.7h1.1M152.8 96.1h1.1M151.5 94.7h1.1M152.3 95.5h1.1M152.7 98.3h1.1M151.8 94.6h1.1M151.2 93.7h1.1M151.1 96.5h1.1M150.6 96.0h1.1M150.3 94.5h1.1M154.1 95.3h1.1M154.0 96.1h1.1M152.3 92.8h1.1M153.0 95.4h1.1M151.2 95.9h1.1M154.2 95.5h1.1M152.4 93.5h1.1M151.8 93.8h1.1M150.7 95.9h1.1M151.6 95.1h1.1M153.2 92.7h1.1M151.3 95.8h1.1M150.4 95.0h1.1M152.8 96.2h1.1M154.1 94.8h1.1M153.9 94.3h1.1M154.6 96.7h1.1M154.2 96.9h1.1M151.3 94.4h1.1M150.7 94.1h1.1M151.5 95.3h1.1M152.0 95.4h1.1M153.4 95.6h1.1M152.1 94.1h1.1M153.8 95.0h1.1M151.0 95.9h1.1M151.3 97.7h1.1M154.5 95.4h1.1M153.4 94.3h1.1M231.4 99.7h1.1M234.3 90.4h1.1M235.5 92.0h1.1M232.3 93.2h1.1M232.4 96.9h1.1M231.8 98.0h1.1M235.7 96.6h1.1M234.8 87.3h1.1M232.1 93.3h1.1M233.8 96.3h1.1M234.1 94.4h1.1M232.4 95.5h1.1M234.4 93.7h1.1M230.4 95.4h1.1M233.0 88.0h1.1M234.8 95.1h1.1M230.0 95.4h1.1M233.5 95.6h1.1M235.6 95.6h1.1M235.6 92.0h1.1M233.4 92.6h1.1M235.7 92.2h1.1M230.2 95.1h1.1M232.7 99.2h1.1M233.3 97.8h1.1M231.5 94.3h1.1M229.8 94.2h1.1M235.6 96.6h1.1M235.3 98.0h1.1M229.4 100.3h1.1M231.4 97.1h1.1M234.9 98.5h1.1M229.8 99.7h1.1M232.6 100.6h1.1M234.9 88.6h1.1M234.8 97.8h1.1M232.5 92.1h1.1M234.0 93.9h1.1M229.1 100.3h1.1M230.5 91.2h1.1M231.1 98.7h1.1M229.5 91.0h1.1M233.7 96.7h1.1M231.8 97.8h1.1M232.1 96.7h1.1M235.6 94.9h1.1M234.5 95.1h1.1M235.1 90.6h1.1M228.9 94.2h1.1M230.0 90.1h1.1M229.9 92.2h1.1M229.0 92.2h1.1M229.3 100.1h1.1M230.5 98.3h1.1M229.6 93.4h1.1M230.9 95.9h1.1M233.1 102.1h1.1M230.7 92.6h1.1M229.7 97.1h1.1M234.1 96.1h1.1M231.2 95.9h1.1M230.7 94.6h1.1M230.7 97.5h1.1M231.6 90.5h1.1M230.8 90.5h1.1M229.6 92.8h1.1M233.9 92.3h1.1M231.4 95.2h1.1M234.0 91.9h1.1M231.7 99.2h1.1M233.9 91.4h1.1M233.4 96.8h1.1M235.3 92.4h1.1M235.2 92.6h1.1M234.1 96.8h1.1M233.3 92.5h1.1M233.8 100.7h1.1M235.3 95.0h1.1M229.4 95.1h1.1M231.1 95.7h1.1M231.7 92.8h1.1M233.6 97.5h1.1M231.7 97.5h1.1M232.3 95.0h1.1M233.5 95.7h1.1M230.5 97.4h1.1M233.0 94.2h1.1M233.9 96.5h1.1M229.1 92.3h1.1M233.3 93.4h1.1M230.8 93.8h1.1M234.5 99.4h1.1M229.3 98.3h1.1M231.7 95.7h1.1M230.2 96.1h1.1M230.5 91.9h1.1M231.3 97.7h1.1M231.1 88.0h1.1M229.4 94.8h1.1M229.4 99.4h1.1M230.0 95.2h1.1M231.0 92.9h1.1M231.9 93.5h1.1M229.7 101.2h1.1M234.2 96.9h1.1M231.7 96.6h1.1M231.7 94.5h1.1M233.0 97.1h1.1M232.3 100.3h1.1M231.2 93.2h1.1M231.9 102.6h1.1M230.7 95.1h1.1M234.2 93.6h1.1M229.1 94.0h1.1M230.5 92.3h1.1M232.2 91.8h1.1M232.0 98.5h1.1M235.5 91.9h1.1M232.9 95.1h1.1M233.2 94.2h1.1M229.3 95.3h1.1M235.4 96.2h1.1M229.7 92.7h1.1M229.4 91.5h1.1M230.8 93.8h1.1M233.3 94.3h1.1M231.5 96.1h1.1M230.8 92.7h1.1M235.4 94.6h1.1M228.9 95.5h1.1" stroke="#ff7a5c" stroke-width="1.1" stroke-opacity="0.72" fill="none"/><path d="M156.5 96.6h1.1M158.4 95.9h1.1M155.3 96.1h1.1M157.2 96.7h1.1M159.0 96.1h1.1M165.9 95.8h1.1M163.3 96.1h1.1M159.6 96.6h1.1M157.7 95.7h1.1M158.8 95.9h1.1M154.6 96.6h1.1M162.9 95.6h1.1M160.0 95.7h1.1M161.8 96.0h1.1M156.3 96.5h1.1M156.9 96.6h1.1M167.0 97.1h1.1M157.6 96.6h1.1M162.8 96.3h1.1M155.9 96.2h1.1M155.4 95.5h1.1M154.7 96.7h1.1M160.2 96.5h1.1M162.2 96.4h1.1M163.3 96.1h1.1M163.9 96.1h1.1M167.8 95.5h1.1M158.0 96.6h1.1M164.6 96.2h1.1M160.4 96.2h1.1M157.1 96.2h1.1M161.7 96.4h1.1M161.9 96.8h1.1M155.6 96.5h1.1M163.8 96.3h1.1M166.9 96.1h1.1M158.9 96.3h1.1M155.8 96.3h1.1M165.6 95.7h1.1M167.5 95.9h1.1M157.3 95.9h1.1M155.6 96.0h1.1M167.8 96.0h1.1M154.7 96.0h1.1M167.8 96.3h1.1M154.3 96.2h1.1M160.0 96.2h1.1M165.0 95.5h1.1M157.5 95.9h1.1M156.2 96.1h1.1" stroke="#ffc4cc" stroke-width="1.1" stroke-opacity="0.94" fill="none"/><path d="M155.5 99.7h1.1M156.1 97.8h1.1M157.3 99.4h1.1M156.2 101.8h1.1M156.3 98.5h1.1M156.1 100.4h1.1M155.3 97.9h1.1M156.7 101.8h1.1" stroke="#2f9e5a" stroke-width="1.1" stroke-opacity="0.72" fill="none"/><path d="M156.4 110.5h1.1M156.4 111.3h1.1M156.8 26.1h1.1" stroke="#a6a64a" stroke-width="1.1" stroke-opacity="0.4" fill="none"/><path d="M171.9 95.5h1.1M168.4 93.5h1.1M167.1 95.5h1.1M170.6 95.8h1.1M170.4 94.7h1.1M170.5 94.6h1.1M172.4 93.6h1.1M170.3 94.4h1.1M169.5 94.8h1.1M170.8 94.9h1.1M170.2 94.3h1.1M171.3 95.6h1.1M168.8 93.9h1.1M170.9 94.9h1.1M169.1 93.8h1.1M170.6 95.6h1.1M172.8 93.5h1.1M168.7 95.1h1.1M169.1 94.6h1.1M167.8 94.0h1.1M171.8 95.6h1.1M167.2 93.5h1.1M169.0 92.9h1.1M173.2 94.6h1.1M173.0 93.2h1.1M173.0 95.0h1.1M168.0 95.8h1.1M171.9 94.0h1.1M170.7 93.9h1.1M170.2 92.8h1.1M171.0 91.9h1.1M167.3 94.6h1.1M173.1 94.9h1.1M171.0 95.1h1.1M170.0 93.0h1.1M167.2 95.4h1.1M169.7 95.2h1.1M169.1 93.2h1.1M169.2 93.6h1.1M169.1 95.0h1.1M168.6 94.1h1.1M168.3 94.6h1.1M171.6 93.5h1.1M167.5 95.0h1.1M167.2 92.9h1.1M172.5 94.4h1.1M171.5 95.2h1.1M169.2 94.6h1.1M170.1 94.2h1.1M172.9 93.3h1.1M170.3 95.5h1.1M170.2 94.6h1.1M172.5 95.1h1.1M172.8 95.4h1.1M171.7 94.8h1.1M169.6 96.2h1.1M170.8 94.6h1.1M172.1 92.5h1.1M170.0 95.9h1.1M169.0 96.4h1.1M170.6 93.7h1.1M167.6 95.5h1.1M168.3 94.0h1.1M167.5 94.3h1.1M171.6 94.3h1.1M167.4 94.6h1.1M167.3 94.6h1.1M183.7 93.9h1.1M183.0 92.2h1.1M180.7 94.6h1.1M182.4 92.5h1.1M184.3 92.8h1.1M180.3 93.7h1.1M180.5 92.8h1.1M181.5 91.9h1.1M180.5 92.4h1.1M180.1 94.2h1.1M181.5 92.8h1.1M184.5 91.3h1.1M182.4 93.6h1.1M180.0 93.5h1.1M182.2 93.6h1.1M180.1 93.5h1.1M184.3 93.5h1.1M183.4 93.4h1.1M180.4 93.3h1.1M181.7 93.3h1.1M184.1 93.9h1.1M182.3 93.1h1.1M179.6 92.7h1.1M183.6 91.7h1.1M184.1 94.0h1.1M183.8 93.8h1.1M182.5 93.0h1.1M184.3 92.2h1.1M183.1 90.9h1.1M180.0 92.7h1.1M184.0 92.9h1.1M180.9 92.7h1.1M180.3 94.5h1.1M181.1 93.1h1.1M181.1 92.7h1.1M183.0 94.1h1.1M181.8 93.1h1.1M182.7 93.5h1.1M179.8 93.4h1.1M181.1 93.6h1.1M182.1 94.6h1.1M183.9 93.8h1.1M182.7 94.4h1.1M184.0 93.2h1.1M182.7 92.4h1.1M182.7 93.6h1.1M183.3 93.2h1.1M182.8 94.1h1.1M180.9 92.9h1.1M181.4 92.6h1.1M181.9 93.2h1.1M182.5 94.0h1.1M179.8 93.3h1.1M183.6 92.2h1.1M181.4 92.8h1.1M180.2 91.9h1.1M179.4 94.3h1.1M179.5 92.7h1.1" stroke="#a4ec2a" stroke-width="1.1" stroke-opacity="0.94" fill="none"/><path d="M173.4 94.4h1.1M176.1 93.4h1.1M171.4 95.0h1.1M176.2 94.9h1.1M175.3 95.5h1.1M175.6 94.8h1.1M174.8 94.8h1.1M172.0 94.3h1.1M176.6 92.3h1.1M172.2 94.0h1.1M174.5 93.3h1.1M176.3 92.5h1.1M174.1 92.2h1.1M171.6 95.2h1.1M173.6 94.2h1.1M176.4 93.0h1.1M174.4 93.9h1.1M173.3 95.5h1.1M173.9 94.0h1.1M171.8 94.6h1.1M173.3 94.3h1.1M175.6 93.8h1.1M172.4 93.6h1.1M171.4 94.9h1.1M175.5 94.1h1.1M171.7 93.5h1.1M174.8 93.1h1.1M172.9 93.2h1.1M174.8 92.6h1.1M174.0 93.5h1.1M174.8 93.3h1.1M172.1 95.9h1.1M173.6 94.7h1.1M174.4 94.4h1.1M174.4 93.8h1.1M171.8 92.8h1.1M176.6 94.9h1.1M176.3 93.7h1.1M175.6 92.6h1.1M173.8 94.5h1.1M171.7 95.5h1.1M171.6 92.8h1.1M175.4 95.0h1.1M174.3 93.5h1.1M175.6 95.7h1.1M175.2 93.2h1.1M173.2 94.0h1.1M173.9 94.5h1.1M177.0 92.1h1.1M173.5 93.9h1.1M175.8 94.5h1.1M172.8 94.6h1.1M174.3 93.5h1.1M173.1 93.8h1.1M176.4 94.0h1.1M172.5 94.0h1.1M175.2 92.6h1.1M172.1 95.0h1.1M174.8 94.4h1.1M173.7 94.5h1.1M171.8 94.3h1.1M176.2 92.7h1.1M173.1 92.9h1.1M203.4 93.8h1.1M200.3 94.1h1.1M200.9 94.5h1.1M205.0 96.5h1.1M200.8 93.9h1.1M201.7 95.0h1.1M202.8 95.2h1.1M202.2 94.3h1.1M206.7 96.7h1.1M207.5 96.5h1.1M201.4 94.3h1.1M203.8 94.9h1.1M202.8 94.7h1.1M200.5 94.5h1.1M203.0 94.9h1.1M204.6 96.1h1.1M203.9 94.4h1.1M205.6 95.2h1.1M205.6 95.4h1.1M201.1 94.4h1.1M205.2 97.3h1.1M203.5 96.1h1.1M200.7 94.9h1.1M203.2 95.3h1.1M202.9 93.9h1.1M201.3 93.8h1.1M201.8 94.6h1.1M199.9 96.5h1.1M205.0 96.3h1.1M200.2 94.5h1.1M202.8 95.4h1.1M206.6 96.1h1.1M203.9 94.3h1.1M205.1 97.2h1.1M199.9 94.1h1.1M204.7 96.6h1.1M201.1 94.1h1.1M205.3 95.7h1.1M205.8 96.3h1.1M206.2 96.0h1.1M201.7 95.2h1.1M202.1 94.4h1.1M200.1 96.3h1.1M204.1 94.4h1.1M205.7 95.9h1.1M206.8 96.4h1.1M199.9 96.1h1.1M202.8 95.0h1.1M205.4 95.7h1.1M204.3 95.2h1.1M202.2 95.5h1.1M205.0 97.1h1.1M203.0 95.7h1.1M205.5 94.9h1.1M203.6 95.0h1.1M201.7 93.6h1.1M207.5 97.1h1.1M206.8 95.9h1.1M205.4 94.0h1.1M200.5 94.4h1.1M205.0 95.3h1.1M200.8 95.0h1.1M200.5 94.2h1.1M201.9 93.8h1.1M207.0 94.6h1.1M200.9 94.1h1.1M202.5 93.1h1.1M202.0 94.5h1.1M205.9 96.7h1.1M206.1 94.9h1.1M202.5 94.5h1.1M205.3 96.6h1.1M206.4 96.1h1.1M206.4 95.2h1.1M201.5 96.5h1.1M202.4 94.0h1.1M200.3 95.3h1.1M207.3 97.2h1.1M205.1 95.1h1.1M207.4 97.5h1.1M201.6 95.2h1.1M200.7 94.5h1.1M200.4 94.6h1.1M203.3 95.9h1.1M213.5 98.7h1.1M204.1 94.5h1.1M203.4 94.6h1.1M206.5 95.7h1.1M208.7 96.5h1.1M222.9 95.9h1.1M218.5 96.5h1.1M222.4 95.7h1.1M211.6 99.2h1.1M209.9 97.2h1.1M210.7 97.1h1.1M223.7 94.5h1.1M210.1 97.3h1.1M220.8 96.5h1.1M209.1 96.1h1.1M216.2 97.6h1.1M220.2 95.1h1.1M200.4 94.0h1.1M211.3 98.4h1.1M214.2 98.2h1.1M219.1 95.8h1.1M207.5 97.8h1.1M210.8 98.4h1.1M224.0 94.7h1.1M221.4 95.7h1.1M202.9 94.8h1.1M224.4 94.6h1.1M217.1 97.8h1.1M207.3 95.9h1.1M223.9 95.4h1.1M224.9 94.9h1.1M221.6 95.9h1.1M226.0 95.0h1.1M205.1 94.7h1.1M221.2 95.4h1.1M225.1 93.9h1.1M216.7 97.2h1.1M203.3 94.2h1.1M210.8 97.4h1.1M218.7 96.2h1.1M206.3 95.8h1.1M205.2 95.0h1.1M226.4 94.0h1.1M204.0 95.3h1.1M216.0 98.5h1.1M225.1 95.0h1.1M203.1 94.8h1.1M204.5 94.4h1.1M218.2 96.9h1.1M205.7 95.3h1.1M214.0 97.9h1.1M211.5 98.4h1.1M222.1 95.1h1.1M219.2 96.8h1.1M223.9 95.6h1.1M214.3 99.1h1.1M218.4 97.5h1.1M204.2 94.9h1.1M205.2 95.3h1.1M213.1 97.9h1.1M226.2 95.3h1.1M218.0 97.5h1.1M211.3 98.4h1.1M205.5 96.0h1.1M207.0 95.8h1.1M203.8 95.2h1.1M213.6 98.2h1.1M223.9 95.0h1.1M215.9 98.5h1.1M200.4 93.9h1.1M210.9 98.4h1.1M224.4 94.8h1.1M224.7 94.4h1.1M223.3 95.2h1.1M206.9 94.8h1.1M214.0 97.8h1.1M203.0 94.5h1.1M220.1 96.1h1.1M210.2 97.5h1.1M219.0 96.8h1.1M225.4 94.7h1.1M213.9 98.1h1.1M212.7 98.5h1.1M217.2 97.7h1.1M224.9 94.5h1.1M225.2 94.7h1.1M209.1 97.2h1.1M223.7 94.6h1.1M221.7 95.5h1.1M203.1 93.9h1.1M212.4 98.3h1.1M214.0 98.9h1.1M212.0 98.2h1.1M201.2 94.5h1.1M215.8 98.5h1.1M222.1 95.1h1.1M212.3 99.1h1.1M208.5 96.7h1.1M218.6 97.2h1.1M221.6 94.0h1.1M212.5 98.4h1.1M202.2 94.8h1.1M209.8 97.1h1.1M208.8 97.9h1.1M207.8 95.0h1.1M217.6 97.3h1.1M204.5 94.9h1.1M203.6 95.3h1.1M203.7 94.4h1.1M215.1 98.5h1.1M219.8 96.2h1.1M207.5 96.6h1.1M205.8 95.8h1.1M225.2 94.1h1.1M209.8 98.0h1.1M223.9 94.4h1.1M201.1 94.6h1.1M216.1 97.6h1.1M224.6 95.4h1.1M215.0 98.5h1.1M207.6 96.2h1.1M202.2 95.1h1.1M216.5 97.3h1.1M219.4 95.6h1.1M224.2 94.9h1.1M223.1 95.1h1.1M219.8 95.8h1.1M216.5 98.1h1.1M213.9 97.7h1.1M211.7 98.3h1.1M201.6 94.2h1.1M212.1 97.8h1.1M223.7 95.0h1.1M226.5 94.8h1.1M205.9 95.2h1.1M209.3 96.5h1.1M221.8 95.3h1.1M204.6 95.4h1.1M212.5 98.3h1.1M223.3 94.8h1.1M210.9 97.2h1.1M211.3 98.4h1.1M217.2 97.0h1.1M221.6 96.2h1.1M211.6 98.6h1.1M216.9 98.1h1.1M215.6 97.5h1.1M205.5 94.6h1.1M212.5 97.9h1.1M213.3 97.7h1.1M220.5 96.0h1.1M207.7 96.4h1.1M211.2 97.7h1.1M203.7 94.7h1.1M211.3 97.8h1.1M201.8 94.5h1.1M210.6 97.8h1.1M214.4 98.3h1.1M212.7 98.2h1.1M212.4 97.9h1.1M220.6 96.1h1.1M218.1 97.6h1.1M201.3 94.3h1.1M204.3 95.0h1.1M213.5 97.6h1.1M216.2 97.6h1.1M225.9 94.3h1.1M208.5 97.3h1.1M207.7 95.6h1.1M226.5 94.8h1.1" stroke="#ffe92e" stroke-width="1.1" stroke-opacity="0.94" fill="none"/><path d="M179.5 94.2h1.1M176.7 93.1h1.1M177.0 92.8h1.1M175.2 92.6h1.1M180.8 93.0h1.1M176.4 94.4h1.1M180.4 93.7h1.1M178.6 93.1h1.1M181.1 92.4h1.1M178.7 94.2h1.1M179.9 93.4h1.1M178.5 93.2h1.1M175.8 94.0h1.1M178.6 92.7h1.1M175.4 93.8h1.1M180.6 93.0h1.1M181.5 93.1h1.1M175.9 94.0h1.1M180.0 94.6h1.1M177.4 93.4h1.1M181.1 93.5h1.1M178.8 92.3h1.1M176.8 94.1h1.1M181.1 91.0h1.1M180.6 93.3h1.1M177.2 94.7h1.1M175.8 92.4h1.1M176.8 94.3h1.1M180.8 93.5h1.1M177.2 93.8h1.1M176.6 93.5h1.1M179.2 95.0h1.1M177.9 92.9h1.1M176.0 94.5h1.1M179.3 91.8h1.1M180.5 94.2h1.1M177.9 94.7h1.1M178.6 93.3h1.1M181.1 93.9h1.1M179.1 94.9h1.1M175.5 93.3h1.1M178.9 93.0h1.1M180.8 92.2h1.1M176.8 94.4h1.1M178.9 93.3h1.1M178.3 92.4h1.1M181.2 92.9h1.1M180.4 93.3h1.1M179.0 94.1h1.1M180.9 93.7h1.1M180.1 92.7h1.1M176.7 93.0h1.1M176.5 93.3h1.1M177.5 92.3h1.1M176.7 94.5h1.1M176.1 92.3h1.1M180.7 94.0h1.1M176.2 94.3h1.1M181.6 92.5h1.1M178.6 94.5h1.1M179.1 93.5h1.1M176.3 93.6h1.1M177.3 92.4h1.1M178.7 92.5h1.1M180.6 92.3h1.1M179.4 94.1h1.1M176.5 92.6h1.1M180.8 92.3h1.1M176.5 93.2h1.1M178.9 94.1h1.1M180.8 91.8h1.1M210.9 97.4h1.1M210.5 98.5h1.1M209.7 97.8h1.1M210.1 97.0h1.1M208.7 96.6h1.1M210.7 97.8h1.1M211.2 99.1h1.1M211.7 98.8h1.1M209.6 97.3h1.1M210.8 97.9h1.1M212.0 99.1h1.1M208.7 96.3h1.1M212.1 99.5h1.1M211.3 96.9h1.1M211.4 99.7h1.1M209.4 98.5h1.1M209.2 97.1h1.1M211.8 98.7h1.1M209.6 97.1h1.1M209.0 96.2h1.1M209.7 95.7h1.1M209.0 96.4h1.1M209.0 96.2h1.1M211.6 99.1h1.1M209.0 97.0h1.1M210.9 98.7h1.1M209.3 97.9h1.1M208.9 96.8h1.1M208.7 96.3h1.1M208.9 97.3h1.1M212.0 99.5h1.1M209.5 97.9h1.1M210.7 98.5h1.1M209.5 97.9h1.1M208.7 93.6h1.1M211.1 98.9h1.1M210.7 96.8h1.1" stroke="#2a5be0" stroke-width="1.1" stroke-opacity="0.94" fill="none"/><path d="M183.7 92.7h1.1M185.4 92.8h1.1M188.4 93.0h1.1M187.8 92.4h1.1M183.9 92.6h1.1M183.6 93.9h1.1M184.5 93.3h1.1M185.6 93.2h1.1M183.2 93.0h1.1M185.1 93.4h1.1M185.0 94.5h1.1M182.8 92.9h1.1M184.3 93.1h1.1M186.1 93.7h1.1M186.2 92.9h1.1M183.7 92.9h1.1M182.9 93.2h1.1M184.6 92.4h1.1M188.0 94.7h1.1M185.1 92.2h1.1M185.7 93.4h1.1M183.9 93.4h1.1M187.8 93.6h1.1M184.6 92.0h1.1M184.9 93.5h1.1M186.5 92.9h1.1M185.3 91.9h1.1M184.1 92.5h1.1M187.3 93.0h1.1M182.8 93.3h1.1M183.3 92.5h1.1M185.6 92.3h1.1M188.2 93.8h1.1M184.2 92.9h1.1M183.7 93.1h1.1M187.0 92.1h1.1M185.5 92.7h1.1M187.3 94.0h1.1M183.1 94.1h1.1M183.7 93.9h1.1M188.0 93.6h1.1M188.1 92.4h1.1M184.3 94.3h1.1M186.0 94.3h1.1M184.3 93.0h1.1M185.2 92.8h1.1M182.9 91.5h1.1M187.4 92.8h1.1M187.5 93.4h1.1M183.8 93.1h1.1M184.3 93.2h1.1M186.0 91.8h1.1M183.8 93.3h1.1M183.0 92.7h1.1M185.3 93.6h1.1M186.8 93.2h1.1M185.7 93.5h1.1M188.3 93.7h1.1M185.1 91.9h1.1M182.9 92.2h1.1M188.4 93.5h1.1M185.5 93.7h1.1M183.1 93.2h1.1" stroke="#a8f08a" stroke-width="1.1" stroke-opacity="0.94" fill="none"/><path d="M189.1 93.3h1.1M188.6 91.5h1.1M189.6 93.7h1.1M188.7 92.5h1.1M188.1 92.3h1.1M189.2 93.6h1.1M187.1 93.3h1.1M188.3 92.0h1.1M187.1 92.7h1.1M187.5 93.0h1.1M187.5 94.0h1.1M187.4 92.7h1.1M186.9 92.9h1.1M189.8 92.3h1.1M189.8 92.7h1.1M187.4 93.4h1.1M187.1 92.1h1.1M189.8 94.4h1.1M186.7 92.1h1.1M186.5 92.9h1.1M188.0 95.3h1.1M187.9 94.6h1.1M189.0 93.2h1.1M188.3 94.5h1.1M188.6 92.8h1.1M186.3 93.5h1.1M188.9 92.3h1.1M187.8 91.9h1.1M189.7 93.7h1.1M186.7 93.7h1.1M186.3 92.2h1.1M188.9 92.7h1.1M189.9 93.4h1.1M188.4 94.2h1.1M188.4 92.0h1.1M186.4 92.6h1.1M186.8 92.4h1.1M188.7 93.7h1.1M187.4 92.8h1.1M188.4 92.2h1.1M189.7 93.7h1.1M186.2 93.2h1.1" stroke="#5fdc3c" stroke-width="1.1" stroke-opacity="0.94" fill="none"/><path d="M191.2 92.8h1.1M189.5 92.8h1.1M189.4 93.1h1.1M190.8 94.5h1.1M191.7 93.4h1.1M192.7 93.8h1.1M192.0 94.5h1.1M192.4 94.5h1.1M191.5 93.0h1.1M189.9 94.0h1.1M191.6 93.7h1.1M192.5 95.9h1.1M191.5 92.9h1.1M191.5 94.8h1.1M191.9 93.1h1.1M191.4 92.9h1.1M190.1 93.4h1.1M189.2 93.0h1.1M193.0 93.3h1.1M191.7 93.4h1.1M191.4 92.7h1.1M191.6 92.7h1.1M189.5 93.2h1.1M189.6 93.8h1.1M192.3 94.1h1.1M191.8 93.4h1.1M190.0 93.7h1.1M191.9 93.6h1.1M191.6 93.7h1.1M191.8 93.2h1.1M190.4 92.0h1.1M189.5 94.9h1.1M189.5 93.1h1.1M189.3 93.2h1.1M192.9 94.1h1.1M191.6 92.1h1.1M191.9 93.9h1.1M190.0 92.6h1.1M189.3 93.7h1.1M191.6 93.7h1.1M190.0 93.1h1.1M189.6 92.6h1.1" stroke="#106a6a" stroke-width="1.1" stroke-opacity="0.94" fill="none"/><path d="M193.8 93.7h1.1M195.1 94.4h1.1M191.7 93.5h1.1M193.4 93.1h1.1M195.6 93.2h1.1M193.5 93.7h1.1M193.0 93.4h1.1M194.5 93.4h1.1M196.0 93.5h1.1M191.8 94.0h1.1M193.0 93.9h1.1M193.7 94.6h1.1M192.6 92.8h1.1M193.9 94.8h1.1M194.1 93.0h1.1M196.2 93.8h1.1M194.7 94.3h1.1M193.9 94.6h1.1M195.1 94.7h1.1M192.3 93.6h1.1M193.2 94.6h1.1M192.4 92.8h1.1M196.0 93.9h1.1M195.0 92.8h1.1M195.4 93.6h1.1M192.2 94.9h1.1M193.5 91.9h1.1M193.1 92.6h1.1M194.6 93.1h1.1M196.5 95.2h1.1M194.0 93.2h1.1M193.3 94.8h1.1M193.6 94.0h1.1M195.0 94.4h1.1M194.3 94.2h1.1M195.0 93.8h1.1M191.7 92.3h1.1M191.7 91.2h1.1M196.5 95.0h1.1M192.3 93.6h1.1M196.3 93.7h1.1M194.1 92.7h1.1M192.3 93.3h1.1M191.9 93.1h1.1M196.8 94.1h1.1M192.9 91.6h1.1M194.2 93.3h1.1M193.1 92.6h1.1M191.6 93.0h1.1M191.9 92.8h1.1M192.0 94.4h1.1M192.8 92.8h1.1M194.8 94.7h1.1M196.8 95.5h1.1M196.6 94.8h1.1M196.5 93.3h1.1M195.8 94.0h1.1M194.2 95.7h1.1" stroke="#35cdee" stroke-width="1.1" stroke-opacity="0.94" fill="none"/><path d="M196.5 95.6h1.1M196.8 93.7h1.1M195.1 93.7h1.1M199.6 94.9h1.1M198.8 97.0h1.1M195.4 93.6h1.1M196.2 93.7h1.1M196.9 94.0h1.1M194.9 94.2h1.1M196.7 95.2h1.1M196.8 94.8h1.1M195.5 92.5h1.1M198.3 93.4h1.1M196.5 93.2h1.1M195.4 94.0h1.1M198.7 94.8h1.1M196.4 94.1h1.1M199.2 94.2h1.1M194.9 93.7h1.1M197.7 94.9h1.1M197.4 94.8h1.1M197.0 95.1h1.1M196.7 95.3h1.1M196.3 95.0h1.1M199.2 93.4h1.1M198.1 94.6h1.1M199.1 94.7h1.1M194.7 95.5h1.1M197.2 93.4h1.1M198.5 95.2h1.1M195.2 93.7h1.1M195.9 93.9h1.1M198.1 94.6h1.1M199.5 95.0h1.1M198.5 93.6h1.1M197.6 95.1h1.1M195.4 95.1h1.1M199.8 93.8h1.1M198.6 93.8h1.1M199.5 93.1h1.1M195.5 92.4h1.1M198.7 95.3h1.1M194.7 92.6h1.1M195.1 95.4h1.1M199.4 94.3h1.1M195.7 94.6h1.1M196.7 95.1h1.1M197.2 95.4h1.1M196.8 94.4h1.1M196.8 93.9h1.1M195.4 93.5h1.1M197.3 93.8h1.1M199.7 96.1h1.1M194.9 94.1h1.1M198.1 95.0h1.1M198.7 94.2h1.1M196.4 93.7h1.1M199.4 93.2h1.1" stroke="#a8e8f0" stroke-width="1.1" stroke-opacity="0.94" fill="none"/><path d="M198.6 94.6h1.1M200.9 95.9h1.1M199.2 94.7h1.1M199.0 96.5h1.1M200.7 96.0h1.1M199.2 93.5h1.1M200.8 94.5h1.1M200.1 93.5h1.1M199.0 93.5h1.1M201.2 94.8h1.1M200.4 93.5h1.1M199.5 95.3h1.1M201.1 95.3h1.1M200.3 95.6h1.1M198.9 95.5h1.1M201.1 95.1h1.1M199.3 95.1h1.1M201.1 94.4h1.1M199.6 94.3h1.1M200.9 94.9h1.1M200.4 93.9h1.1M199.4 94.7h1.1M200.1 95.0h1.1M200.8 93.5h1.1M200.2 94.0h1.1M201.1 93.6h1.1M200.9 95.2h1.1M198.6 95.4h1.1M200.4 94.8h1.1M198.5 94.2h1.1M199.8 93.9h1.1M199.8 93.9h1.1M201.3 94.4h1.1" stroke="#ff4ade" stroke-width="1.1" stroke-opacity="0.94" fill="none"/><path d="M207.8 97.4h1.1M205.2 94.2h1.1M209.2 98.3h1.1M207.7 97.8h1.1M209.0 96.7h1.1M204.8 95.1h1.1M204.9 95.4h1.1M208.2 95.3h1.1M207.7 96.6h1.1M207.6 97.1h1.1M204.7 95.1h1.1M208.7 96.1h1.1M204.9 95.5h1.1M205.2 95.2h1.1M206.2 96.8h1.1M208.5 96.4h1.1M207.3 96.0h1.1M206.4 97.2h1.1M205.3 95.4h1.1M208.2 97.0h1.1M208.7 96.2h1.1M206.1 95.0h1.1M207.9 96.9h1.1M209.2 97.2h1.1M205.5 95.9h1.1M209.7 98.0h1.1M208.1 96.0h1.1M207.8 97.1h1.1M207.5 98.0h1.1M206.0 96.0h1.1M206.0 97.0h1.1M206.4 96.8h1.1M208.4 96.4h1.1M208.6 95.5h1.1M204.8 93.7h1.1M208.4 96.0h1.1M207.2 96.8h1.1M206.6 97.7h1.1M209.8 96.6h1.1M206.6 95.6h1.1M208.6 97.2h1.1M204.8 94.9h1.1M204.7 95.9h1.1M207.7 96.1h1.1M206.7 97.2h1.1M209.7 98.4h1.1M205.9 95.7h1.1M206.8 96.1h1.1M207.5 97.3h1.1M207.0 97.2h1.1M206.8 98.1h1.1M209.5 97.4h1.1M207.3 96.0h1.1M204.6 96.6h1.1M205.4 95.7h1.1M205.6 96.6h1.1M209.1 96.0h1.1M204.6 97.9h1.1M223.2 95.0h1.1M222.7 96.9h1.1M224.9 95.9h1.1M223.9 96.1h1.1M222.5 94.9h1.1M222.3 94.4h1.1M224.5 94.6h1.1M224.2 95.0h1.1M221.8 95.8h1.1M223.2 94.0h1.1M224.3 94.6h1.1M221.7 96.6h1.1M223.9 95.8h1.1M221.6 94.5h1.1M223.3 95.5h1.1M221.8 95.7h1.1M223.1 93.2h1.1M224.8 94.3h1.1M221.8 95.6h1.1M224.5 95.2h1.1M221.9 96.4h1.1M222.8 95.9h1.1M225.0 95.4h1.1M223.6 97.0h1.1M223.6 96.8h1.1M223.9 94.2h1.1M223.5 94.1h1.1M224.4 94.4h1.1M223.5 95.8h1.1M222.2 94.7h1.1M224.0 96.3h1.1M223.2 96.0h1.1M221.7 95.5h1.1M222.6 95.8h1.1M222.6 96.9h1.1M222.2 96.4h1.1M222.5 96.9h1.1M223.2 96.2h1.1M224.8 96.2h1.1M223.1 95.4h1.1M222.0 94.6h1.1M224.2 94.9h1.1" stroke="#9a4cd0" stroke-width="1.1" stroke-opacity="0.94" fill="none"/><path d="M211.7 98.5h1.1M215.8 96.4h1.1M211.6 99.1h1.1M212.3 99.4h1.1M215.0 97.8h1.1M211.3 97.4h1.1M211.7 98.1h1.1M215.9 98.4h1.1M214.7 97.2h1.1M211.2 99.0h1.1M215.1 98.9h1.1M214.8 98.3h1.1M211.4 99.3h1.1M214.1 97.7h1.1M214.8 98.1h1.1M211.0 99.4h1.1M213.5 99.6h1.1M214.1 97.9h1.1M212.9 98.5h1.1M211.9 99.0h1.1M214.0 98.3h1.1M214.2 99.0h1.1M214.7 99.7h1.1M214.0 97.4h1.1M213.6 98.2h1.1M213.2 98.0h1.1M215.8 99.8h1.1M214.9 99.2h1.1M215.4 98.4h1.1M214.9 98.1h1.1M212.3 98.6h1.1M213.4 98.6h1.1M213.5 98.2h1.1M211.6 96.5h1.1M212.4 98.3h1.1M215.4 97.8h1.1M215.5 98.0h1.1M211.1 97.8h1.1M214.1 100.0h1.1M213.3 99.7h1.1M211.7 99.0h1.1M212.6 96.7h1.1M214.7 99.3h1.1M213.6 100.4h1.1M212.8 98.5h1.1M215.4 99.3h1.1M214.0 99.0h1.1M213.3 98.4h1.1M212.5 98.7h1.1M211.4 98.1h1.1M215.5 97.2h1.1M212.5 99.0h1.1M211.1 97.9h1.1M215.3 99.4h1.1" stroke="#114c9c" stroke-width="1.1" stroke-opacity="0.94" fill="none"/><path d="M216.9 98.5h1.1M218.1 97.5h1.1M216.7 97.1h1.1M219.7 96.6h1.1M215.5 99.7h1.1M218.1 97.5h1.1M215.1 98.0h1.1M218.8 97.2h1.1M217.2 98.1h1.1M216.5 98.6h1.1M215.9 98.3h1.1M216.2 98.1h1.1M218.3 96.1h1.1M218.1 97.3h1.1M214.9 98.2h1.1M218.0 98.6h1.1M219.2 97.3h1.1M217.4 98.1h1.1M216.5 99.0h1.1M214.4 97.5h1.1M218.3 96.5h1.1M214.7 98.7h1.1M216.6 98.0h1.1M216.6 96.8h1.1M218.2 97.2h1.1M215.5 98.1h1.1M217.5 99.8h1.1M215.1 99.0h1.1M219.0 95.9h1.1M214.6 100.2h1.1M217.9 95.6h1.1M215.2 98.0h1.1M216.6 98.3h1.1M216.9 97.7h1.1M217.5 97.5h1.1M214.6 98.5h1.1M216.1 97.9h1.1M217.0 98.3h1.1M217.2 99.5h1.1M216.3 97.2h1.1M216.2 97.9h1.1M218.4 97.3h1.1M217.7 98.4h1.1M216.6 98.9h1.1M215.7 99.2h1.1M217.8 98.0h1.1M218.4 98.1h1.1M214.8 99.5h1.1M216.7 98.7h1.1M216.4 97.9h1.1M216.5 99.3h1.1M218.2 98.1h1.1M217.9 95.8h1.1M218.4 96.8h1.1M215.5 97.1h1.1M215.3 99.5h1.1M214.8 97.2h1.1M214.7 98.1h1.1" stroke="#ffbf66" stroke-width="1.1" stroke-opacity="0.94" fill="none"/><path d="M221.6 96.7h1.1M219.0 96.5h1.1M221.0 94.9h1.1M219.8 96.7h1.1M220.1 97.5h1.1M219.1 97.1h1.1M221.3 96.7h1.1M220.1 96.4h1.1M221.3 96.4h1.1M222.8 96.4h1.1M217.9 98.3h1.1M222.6 95.5h1.1M222.4 98.0h1.1M221.9 95.2h1.1M219.7 97.7h1.1M218.7 98.3h1.1M220.8 95.2h1.1M221.2 94.9h1.1M219.3 97.8h1.1M220.3 97.1h1.1M220.0 95.7h1.1M221.9 93.7h1.1M220.4 96.2h1.1M222.0 95.4h1.1M222.5 95.8h1.1M219.3 97.0h1.1M220.3 96.3h1.1M221.0 95.8h1.1M222.2 95.2h1.1M222.4 94.9h1.1M218.1 97.4h1.1M222.6 95.3h1.1M219.2 96.1h1.1M219.6 96.1h1.1M222.2 95.4h1.1M218.5 96.5h1.1M220.9 95.4h1.1M220.0 95.7h1.1M222.2 95.4h1.1M217.6 98.5h1.1M221.0 96.4h1.1M219.3 95.2h1.1M218.3 100.2h1.1M222.0 95.9h1.1M222.3 95.9h1.1M219.4 97.1h1.1M221.9 95.1h1.1M222.4 94.5h1.1M220.2 96.8h1.1M221.6 95.7h1.1M219.0 96.4h1.1M219.2 96.3h1.1M217.8 95.6h1.1M219.4 97.9h1.1M222.0 96.3h1.1M218.1 96.8h1.1M222.1 95.1h1.1M220.7 96.1h1.1" stroke="#ff8c1a" stroke-width="1.1" stroke-opacity="0.94" fill="none"/><path d="M212.0 91.0h1.1M211.5 93.4h1.1M213.2 92.5h1.1M213.4 91.9h1.1M212.0 89.8h1.1M211.6 92.4h1.1M213.0 90.3h1.1M212.1 93.1h1.1M211.8 91.9h1.1M212.7 92.6h1.1M223.3 104.4h1.1M225.0 103.6h1.1M224.4 107.1h1.1M224.1 101.5h1.1M223.8 101.6h1.1M223.4 104.2h1.1M223.8 106.1h1.1M224.3 103.8h1.1M224.3 105.0h1.1M224.5 108.1h1.1M223.1 104.6h1.1M224.7 104.5h1.1M225.0 106.0h1.1M223.6 104.1h1.1M235.8 104.4h1.1M236.4 107.3h1.1M237.1 104.2h1.1M237.7 105.5h1.1M237.5 94.9h1.1M238.4 109.2h1.1M237.8 106.2h1.1M238.7 102.8h1.1M235.9 102.0h1.1M237.3 95.9h1.1M238.6 100.3h1.1M238.5 100.0h1.1M237.2 102.1h1.1M236.2 99.3h1.1M235.7 99.0h1.1M236.1 105.6h1.1M238.7 104.3h1.1M238.4 107.9h1.1M236.3 102.4h1.1M237.4 104.4h1.1M236.4 96.6h1.1M238.7 110.6h1.1M238.5 94.8h1.1M235.8 96.7h1.1" stroke="#6b7a3a" stroke-width="1.1" stroke-opacity="0.72" fill="none"/><path d="M176.6 98.3h1.1M177.0 98.6h1.1M173.4 97.7h1.1M176.1 100.3h1.1M176.1 98.4h1.1M173.3 100.7h1.1M176.3 100.7h1.1M173.9 99.7h1.1M225.4 95.5h1.1M223.6 92.7h1.1M225.5 88.0h1.1M225.9 92.4h1.1M224.4 90.1h1.1M224.0 89.6h1.1M224.5 91.7h1.1M226.4 89.1h1.1M225.5 93.9h1.1M225.2 94.8h1.1M224.1 90.1h1.1M225.0 95.6h1.1M225.3 96.8h1.1M224.3 92.0h1.1" stroke="#35cdee" stroke-width="1.1" stroke-opacity="0.72" fill="none"/><path d="M187.3 62.6h1.1M188.1 62.6h1.1" stroke="#2a5be0" stroke-width="1.1" stroke-opacity="0.47" fill="none"/><path d="M223.8 91.2h1.1M224.6 95.9h1.1M221.5 87.5h1.1M222.8 89.5h1.1M221.9 91.6h1.1M222.6 90.9h1.1M223.8 92.1h1.1M224.3 89.7h1.1M225.0 90.1h1.1M223.0 92.4h1.1M224.7 91.2h1.1M222.4 91.1h1.1M223.0 94.0h1.1M223.9 89.4h1.1M224.0 93.5h1.1M221.4 91.8h1.1M222.6 87.4h1.1M221.5 90.3h1.1M222.1 89.8h1.1M224.8 89.7h1.1M224.0 92.6h1.1M221.8 93.9h1.1M222.0 90.8h1.1M223.7 94.1h1.1M222.6 89.2h1.1M223.6 89.0h1.1M227.5 90.3h1.1M225.9 90.8h1.1M228.0 95.3h1.1M226.4 87.7h1.1M227.7 93.1h1.1M227.6 92.6h1.1M225.9 95.9h1.1M227.7 84.9h1.1M227.8 97.1h1.1M227.2 90.9h1.1M225.8 97.5h1.1M227.4 95.2h1.1M226.9 92.1h1.1M226.4 90.8h1.1M226.0 94.3h1.1M225.9 91.5h1.1M228.1 91.9h1.1M227.7 92.3h1.1M227.6 98.1h1.1M227.3 93.7h1.1M226.7 89.3h1.1M228.6 89.6h1.1M227.2 83.8h1.1M225.9 92.5h1.1" stroke="#5fdc3c" stroke-width="1.1" stroke-opacity="0.72" fill="none"/><path d="M222.1 96.9h1.1M222.4 99.1h1.1M223.4 98.0h1.1M224.1 99.3h1.1M222.2 97.5h1.1M222.5 98.0h1.1M224.4 99.3h1.1M224.8 98.4h1.1M224.2 98.1h1.1M224.9 97.7h1.1M222.5 97.3h1.1M224.7 98.2h1.1M224.4 97.8h1.1M223.5 98.5h1.1M223.7 99.1h1.1M224.0 99.3h1.1" stroke="#ff4ade" stroke-width="1.1" stroke-opacity="0.72" fill="none"/><path d="M226.9 95.2h1.1M227.2 65.3h1.1M226.7 95.3h1.1M226.7 64.0h1.1M226.4 47.0h1.1M226.0 69.7h1.1M226.1 74.4h1.1M226.2 81.2h1.1M226.3 88.5h1.1M226.7 47.5h1.1M226.8 26.4h1.1M226.5 86.1h1.1M226.4 42.8h1.1M226.9 88.6h1.1M226.8 95.2h1.1M227.2 38.8h1.1M225.8 95.4h1.1M226.5 113.5h1.1M226.4 103.8h1.1M226.7 162.0h1.1M226.2 97.6h1.1M226.8 130.9h1.1M226.4 135.2h1.1M226.6 98.4h1.1M226.8 98.3h1.1M226.6 136.6h1.1M226.4 107.5h1.1M226.5 95.4h1.1M226.4 111.7h1.1M227.0 132.6h1.1M227.1 123.4h1.1M226.6 133.6h1.1M227.1 106.1h1.1M226.6 106.6h1.1M226.4 159.6h1.1M226.6 122.6h1.1" stroke="#5fdc3c" stroke-width="1.1" stroke-opacity="0.5" fill="none"/><path d="M228.8 95.1h1.1M228.1 67.3h1.1M229.3 38.4h1.1M228.6 86.0h1.1M228.4 80.6h1.1M228.8 30.3h1.1M228.7 71.1h1.1M228.7 93.1h1.1M228.8 50.5h1.1M229.1 69.3h1.1M228.9 86.4h1.1M227.9 91.5h1.1M228.5 74.2h1.1M228.5 95.3h1.1M228.6 72.0h1.1M228.0 51.0h1.1M228.8 79.3h1.1M228.6 87.2h1.1M229.0 100.6h1.1M228.6 100.9h1.1M228.5 110.5h1.1M228.3 149.3h1.1M228.8 152.1h1.1M228.8 123.5h1.1M228.5 146.0h1.1M228.6 119.7h1.1M227.9 101.3h1.1M228.6 146.8h1.1M228.3 109.5h1.1M229.2 137.8h1.1M228.2 135.2h1.1M228.8 132.1h1.1M228.1 97.6h1.1M228.8 150.3h1.1M229.0 109.2h1.1M228.5 110.2h1.1" stroke="#ff5a5a" stroke-width="1.1" stroke-opacity="0.47" fill="none"/><path d="M231.0 94.5h1.1M231.5 69.0h1.1M232.1 88.4h1.1M232.3 25.5h1.1M231.1 87.7h1.1M231.2 90.2h1.1M232.0 89.8h1.1M231.8 93.9h1.1M231.3 75.1h1.1M231.6 64.2h1.1M231.1 38.3h1.1M231.2 38.2h1.1M231.8 90.2h1.1M231.3 76.8h1.1M231.3 133.4h1.1M230.8 99.4h1.1M231.3 121.8h1.1M231.2 130.3h1.1M231.8 151.1h1.1M231.3 151.2h1.1M231.4 134.7h1.1M231.7 125.9h1.1M232.6 108.2h1.1M231.0 114.8h1.1M231.4 127.0h1.1M231.8 121.2h1.1M232.0 157.1h1.1M231.1 131.4h1.1M231.7 105.5h1.1M232.2 123.3h1.1M231.6 130.0h1.1M231.3 107.0h1.1" stroke="#ff5a5a" stroke-width="1.1" stroke-opacity="0.43" fill="none"/><path d="M230.0 48.6h1.1M231.2 58.0h1.1M230.6 32.6h1.1M229.8 49.5h1.1M229.7 32.6h1.1" stroke="#ffbf66" stroke-width="1.1" stroke-opacity="0.36" fill="none"/><path d="M234.2 73.9h1.1M235.0 85.5h1.1M234.7 101.1h1.1M235.3 96.5h1.1M235.3 102.3h1.1M235.3 116.8h1.1M234.6 90.7h1.1M234.7 110.6h1.1M235.1 82.5h1.1M234.2 117.3h1.1M234.9 86.8h1.1M234.7 112.8h1.1M235.2 93.9h1.1M235.4 100.9h1.1M235.0 93.6h1.1M235.0 89.8h1.1M235.2 107.6h1.1M234.5 116.4h1.1M235.3 105.2h1.1M234.7 89.7h1.1M234.9 88.0h1.1M235.4 81.4h1.1" stroke="#6b7a3a" stroke-width="1.1" stroke-opacity="0.5" fill="none"/><path d="M236.8 102.5h1.1M237.1 97.1h1.1M236.4 96.9h1.1M237.0 110.2h1.1M236.4 103.5h1.1M236.7 95.3h1.1M236.8 79.5h1.1M236.8 86.9h1.1M237.2 80.5h1.1M236.6 98.7h1.1M237.5 107.5h1.1M236.8 107.9h1.1" stroke="#5fdc3c" stroke-width="1.1" stroke-opacity="0.47" fill="none"/><path d="M236.5 92.7h1.1M233.7 93.0h1.1M235.8 93.6h1.1M236.4 88.2h1.1M235.5 88.2h1.1M233.8 83.9h1.1M235.7 88.7h1.1M235.6 91.3h1.1M234.3 87.7h1.1M234.8 85.6h1.1M235.7 83.7h1.1M234.6 90.1h1.1M233.5 90.4h1.1M235.3 89.6h1.1M234.7 87.5h1.1M236.5 85.4h1.1M235.1 90.0h1.1M236.0 91.0h1.1M235.8 84.5h1.1M234.3 89.0h1.1M234.2 91.7h1.1M234.6 90.2h1.1M236.2 88.5h1.1M235.3 89.5h1.1M233.8 89.7h1.1M235.3 92.5h1.1M234.4 92.4h1.1M234.1 93.1h1.1M236.3 84.4h1.1M233.6 90.3h1.1M236.5 92.0h1.1M235.2 92.7h1.1M234.8 89.9h1.1M235.0 87.8h1.1M234.5 90.7h1.1M234.2 93.0h1.1M233.8 86.5h1.1M234.8 90.4h1.1M234.6 89.8h1.1M235.5 94.4h1.1M236.2 85.7h1.1M236.0 89.1h1.1M234.0 88.1h1.1M236.0 86.1h1.1M236.2 88.8h1.1M235.3 86.8h1.1M236.0 86.2h1.1M234.8 92.4h1.1M233.7 91.1h1.1M234.1 91.4h1.1" stroke="#b4a4ff" stroke-width="1.1" stroke-opacity="0.72" fill="none"/><path d="M238.0 86.1h1.1M239.5 92.2h1.1M238.2 84.7h1.1M237.3 89.5h1.1M238.6 86.9h1.1M238.6 82.4h1.1M238.1 84.0h1.1M238.6 92.9h1.1M238.8 84.0h1.1M236.9 82.6h1.1M239.0 94.9h1.1M238.5 89.6h1.1M236.8 87.8h1.1M239.1 96.7h1.1M239.5 92.9h1.1M236.5 88.6h1.1M236.6 88.8h1.1M237.7 86.1h1.1M238.3 95.1h1.1M238.6 83.1h1.1M236.8 94.4h1.1M238.4 90.2h1.1M237.6 86.0h1.1M236.9 88.9h1.1" stroke="#a6a64a" stroke-width="1.1" stroke-opacity="0.72" fill="none"/><path d="M236.3 96.1h1.1M236.1 96.7h1.1M239.2 94.8h1.1M235.0 94.4h1.1M238.6 94.9h1.1M232.2 93.7h1.1M233.0 96.5h1.1M231.0 95.0h1.1M230.0 95.2h1.1M232.2 95.0h1.1M234.8 96.8h1.1M234.7 96.0h1.1M233.2 97.1h1.1M229.7 95.7h1.1M230.3 98.3h1.1M236.5 96.3h1.1M231.9 95.8h1.1M231.1 95.2h1.1M232.4 93.6h1.1M235.0 94.2h1.1M236.6 96.0h1.1M238.1 93.2h1.1M232.5 95.7h1.1M239.3 94.4h1.1M235.2 95.7h1.1M229.8 96.6h1.1M239.7 96.5h1.1M232.8 96.0h1.1M236.9 94.4h1.1M236.3 96.2h1.1M236.8 94.9h1.1M231.6 96.0h1.1M229.9 95.8h1.1M239.8 95.4h1.1M238.2 96.1h1.1M231.9 94.0h1.1M231.9 94.7h1.1M233.3 95.3h1.1M235.3 93.3h1.1M237.0 95.4h1.1M234.5 94.3h1.1M237.6 94.5h1.1M239.2 95.3h1.1M234.9 96.5h1.1M239.0 93.2h1.1M239.5 95.1h1.1M238.9 93.8h1.1M231.4 93.3h1.1M239.6 94.1h1.1M235.5 94.7h1.1M233.8 95.8h1.1M231.0 94.7h1.1M236.9 94.4h1.1M230.4 95.5h1.1M230.8 95.4h1.1M235.4 95.0h1.1M236.5 95.5h1.1M233.4 96.4h1.1M236.6 95.3h1.1M237.5 95.0h1.1M231.8 96.1h1.1M230.6 94.7h1.1M234.9 94.0h1.1M238.4 97.1h1.1M232.3 95.4h1.1M234.7 94.4h1.1M235.0 94.2h1.1M238.3 94.9h1.1M237.1 95.1h1.1M237.4 93.3h1.1M233.2 93.8h1.1M231.3 95.5h1.1M231.9 92.6h1.1M232.8 95.6h1.1M238.4 94.7h1.1M234.7 93.9h1.1M231.8 94.9h1.1M231.4 94.9h1.1M235.2 95.4h1.1M235.8 97.6h1.1M239.3 95.9h1.1M235.5 95.1h1.1M238.0 95.2h1.1M234.8 95.8h1.1M236.8 94.6h1.1M232.7 95.2h1.1M230.4 96.3h1.1M233.4 95.1h1.1M236.7 97.2h1.1M232.7 94.4h1.1M230.3 94.9h1.1M232.9 94.5h1.1M236.7 96.5h1.1M233.7 96.2h1.1M238.3 97.0h1.1M231.0 95.9h1.1M235.5 94.9h1.1M230.6 96.4h1.1M234.4 96.4h1.1M239.9 94.0h1.1" stroke="#ffe9a0" stroke-width="1.1" stroke-opacity="0.72" fill="none"/></g><rect x="29.70" y="15.40" width="92.00" height="159.90" fill="none" stroke="#444444" stroke-width="0.85"/><path d="M45.03 175.30v-1.40M45.03 15.40v1.40M60.37 175.30v-1.40M60.37 15.40v1.40M75.70 175.30v-1.40M75.70 15.40v1.40M91.03 175.30v-1.40M91.03 15.40v1.40M106.37 175.30v-1.40M106.37 15.40v1.40M29.70 159.31h1.40M121.70 159.31h-1.40M29.70 143.32h1.40M121.70 143.32h-1.40M29.70 127.33h1.40M121.70 127.33h-1.40M29.70 111.34h1.40M121.70 111.34h-1.40M29.70 95.35h1.40M121.70 95.35h-1.40M29.70 79.36h1.40M121.70 79.36h-1.40M29.70 63.37h1.40M121.70 63.37h-1.40M29.70 47.38h1.40M121.70 47.38h-1.40M29.70 31.39h1.40M121.70 31.39h-1.40" stroke="#444444" stroke-width="0.7" fill="none"/><g font-size="7.60" fill="#2a2a2a" stroke="#2a2a2a" stroke-width="0.2"><g text-anchor="middle"><text x="29.70" y="186.20">0</text><text x="45.03" y="186.20">4</text><text x="60.37" y="186.20">8</text><text x="75.70" y="186.20">12</text><text x="91.03" y="186.20">16</text><text x="106.37" y="186.20">20</text><text x="121.70" y="186.20">24</text></g><g text-anchor="end"><text x="26.50" y="178.45">0</text><text x="26.50" y="162.46">0.5</text><text x="26.50" y="146.47">1</text><text x="26.50" y="130.48">1.5</text><text x="26.50" y="114.49">2</text><text x="26.50" y="98.50">2.5</text><text x="26.50" y="82.51">3</text><text x="26.50" y="66.52">3.5</text><text x="26.50" y="50.53">4</text><text x="26.50" y="34.54">4.5</text><text x="26.50" y="18.55">5</text></g></g><rect x="150.90" y="15.40" width="91.50" height="159.90" fill="none" stroke="#444444" stroke-width="0.85"/><path d="M166.15 175.30v-1.40M166.15 15.40v1.40M181.40 175.30v-1.40M181.40 15.40v1.40M196.65 175.30v-1.40M196.65 15.40v1.40M211.90 175.30v-1.40M211.90 15.40v1.40M227.15 175.30v-1.40M227.15 15.40v1.40M150.90 159.31h1.40M242.40 159.31h-1.40M150.90 143.32h1.40M242.40 143.32h-1.40M150.90 127.33h1.40M242.40 127.33h-1.40M150.90 111.34h1.40M242.40 111.34h-1.40M150.90 95.35h1.40M242.40 95.35h-1.40M150.90 79.36h1.40M242.40 79.36h-1.40M150.90 63.37h1.40M242.40 63.37h-1.40M150.90 47.38h1.40M242.40 47.38h-1.40M150.90 31.39h1.40M242.40 31.39h-1.40" stroke="#444444" stroke-width="0.7" fill="none"/><g font-size="7.60" fill="#2a2a2a" stroke="#2a2a2a" stroke-width="0.2"><g text-anchor="middle"><text x="150.90" y="186.20">0</text><text x="166.15" y="186.20">4</text><text x="181.40" y="186.20">8</text><text x="196.65" y="186.20">12</text><text x="211.90" y="186.20">16</text><text x="227.15" y="186.20">20</text><text x="242.40" y="186.20">24</text></g><g text-anchor="end"><text x="147.70" y="178.45">-5</text><text x="147.70" y="162.46">-4</text><text x="147.70" y="146.47">-3</text><text x="147.70" y="130.48">-2</text><text x="147.70" y="114.49">-1</text><text x="147.70" y="98.50">0</text><text x="147.70" y="82.51">1</text><text x="147.70" y="66.52">2</text><text x="147.70" y="50.53">3</text><text x="147.70" y="34.54">4</text><text x="147.70" y="18.55">5</text></g></g><g font-size="8.30" font-weight="bold" fill="#2a2a2a" stroke="#2a2a2a" stroke-width="0.18" text-anchor="middle"><text x="75.80" y="197.80">Local time [H]</text><text x="196.75" y="197.80">Local time [H]</text><text transform="translate(13.10 95.35) rotate(-90)">ROTI [Tecu/min]</text><text transform="translate(137.50 94.35) rotate(-90)">VTEC gradient [Tecu/km]</text></g><text x="140.80" y="11.60" font-size="7.60" fill="#2a2a2a" stroke="#2a2a2a" stroke-width="0.15" text-anchor="middle">Number of scintillations detected (ROTI&gt;=0.5): 779 (4.82%)</text><text x="246.80" y="21.80" font-size="7.45" fill="#2a2a2a" stroke="#2a2a2a" stroke-width="0.25">E=20°</text></g><g><path d="M320.17 16.20V174.20M335.63 16.20V174.20M351.10 16.20V174.20M366.57 16.20V174.20M382.03 16.20V174.20M304.70 158.40H397.50M304.70 142.60H397.50M304.70 126.80H397.50M304.70 111.00H397.50M304.70 95.20H397.50M304.70 79.40H397.50M304.70 63.60H397.50M304.70 47.80H397.50M304.70 32.00H397.50" stroke="#dedede" stroke-width="0.5" fill="none"/><path d="M442.18 16.20V174.20M457.67 16.20V174.20M473.15 16.20V174.20M488.63 16.20V174.20M504.12 16.20V174.20M426.70 158.40H519.60M426.70 142.60H519.60M426.70 126.80H519.60M426.70 111.00H519.60M426.70 95.20H519.60M426.70 79.40H519.60M426.70 63.60H519.60M426.70 47.80H519.60M426.70 32.00H519.60" stroke="#dedede" stroke-width="0.5" fill="none"/><g filter="url(#soft)"><path d="M307.8 168.0h1.1M304.9 166.9h1.1M305.0 163.6h1.1M308.1 170.0h1.1M305.8 168.4h1.1M305.5 166.6h1.1M304.9 166.7h1.1M304.8 168.9h1.1M307.5 171.9h1.1M305.3 165.9h1.1M305.3 168.5h1.1M304.2 168.1h1.1M305.5 167.5h1.1M305.6 165.1h1.1M309.4 164.8h1.1M304.6 165.5h1.1M306.1 167.8h1.1M306.0 170.1h1.1M309.3 166.6h1.1M308.5 168.4h1.1M309.0 167.3h1.1M308.4 167.6h1.1M306.9 167.0h1.1M304.9 165.3h1.1M306.0 168.4h1.1M305.8 168.7h1.1M307.3 167.6h1.1M305.1 169.6h1.1M309.4 167.2h1.1M307.6 167.8h1.1M306.1 166.9h1.1M307.1 167.7h1.1M309.0 167.7h1.1M304.6 167.7h1.1M308.4 168.2h1.1M305.2 166.6h1.1M308.3 167.7h1.1M309.1 165.6h1.1M306.5 166.5h1.1M307.3 170.2h1.1M306.9 166.8h1.1M306.0 167.5h1.1M305.1 166.3h1.1M306.4 166.2h1.1M306.8 166.7h1.1M308.1 169.8h1.1M309.0 166.1h1.1M309.2 168.1h1.1M307.1 169.6h1.1M309.2 166.4h1.1M308.9 166.5h1.1M306.5 167.9h1.1M307.1 167.7h1.1M304.4 166.6h1.1M305.9 166.2h1.1M304.3 167.6h1.1M306.2 166.8h1.1M305.8 168.0h1.1M307.3 167.9h1.1M308.3 170.7h1.1M308.9 168.6h1.1M304.6 165.7h1.1M304.6 166.5h1.1M309.1 166.4h1.1M307.6 168.9h1.1M306.3 167.0h1.1M306.3 167.1h1.1M305.9 165.6h1.1M308.3 168.9h1.1M306.7 166.3h1.1M306.3 168.3h1.1M306.9 167.9h1.1M306.2 166.5h1.1M305.6 167.8h1.1M308.7 168.7h1.1M309.4 166.5h1.1M307.1 168.9h1.1M308.0 168.3h1.1M305.7 166.9h1.1M304.7 168.5h1.1M306.2 167.9h1.1M306.1 166.6h1.1M306.0 166.1h1.1M308.0 168.8h1.1M306.7 168.0h1.1M306.5 167.3h1.1" stroke="#ffbf66" stroke-width="1.1" stroke-opacity="0.94" fill="none"/><path d="M308.2 165.8h1.1M307.3 166.4h1.1M306.7 165.9h1.1M309.5 166.2h1.1M304.3 163.1h1.1M307.5 166.5h1.1M308.4 165.6h1.1M304.1 166.5h1.1M308.0 165.9h1.1M309.2 166.5h1.1M383.3 151.7h1.1M383.3 156.0h1.1M382.8 171.2h1.1M383.9 157.0h1.1M383.3 151.9h1.1M382.8 154.0h1.1M383.3 158.9h1.1M383.5 173.2h1.1M383.1 150.0h1.1M383.1 167.3h1.1M382.4 148.7h1.1M383.7 161.5h1.1M383.4 167.7h1.1M383.4 165.7h1.1M383.0 169.8h1.1M383.6 152.0h1.1M383.3 168.2h1.1M383.0 170.2h1.1M383.8 157.5h1.1M383.7 150.4h1.1M382.7 150.4h1.1M382.9 162.9h1.1M382.6 161.8h1.1M382.5 165.0h1.1M382.9 166.6h1.1M383.0 151.1h1.1M383.0 169.0h1.1M383.4 156.7h1.1M383.4 173.0h1.1M383.5 161.3h1.1M384.7 151.9h1.1M385.3 154.3h1.1M385.7 170.7h1.1M385.3 166.2h1.1M385.5 165.5h1.1M385.0 161.4h1.1M385.2 148.5h1.1M384.7 153.1h1.1M385.3 157.1h1.1M385.5 158.6h1.1M385.3 160.9h1.1M385.1 170.1h1.1M384.8 156.1h1.1M385.3 154.4h1.1M385.0 157.7h1.1M384.8 157.3h1.1M384.9 165.9h1.1M384.7 171.2h1.1M385.8 157.2h1.1M384.6 161.2h1.1M385.9 167.6h1.1M385.0 161.4h1.1M385.1 167.2h1.1M385.7 168.4h1.1M384.5 156.0h1.1M385.5 168.4h1.1M385.2 152.2h1.1M385.4 147.8h1.1M385.1 152.3h1.1M384.7 151.7h1.1M387.1 152.3h1.1M387.3 165.1h1.1M386.8 168.4h1.1M386.8 164.7h1.1M387.2 158.2h1.1M387.2 156.1h1.1M386.8 168.0h1.1M387.6 151.4h1.1M387.0 151.9h1.1M387.3 168.5h1.1M387.2 157.8h1.1M386.9 159.3h1.1M386.6 162.5h1.1M386.9 163.8h1.1M387.3 162.4h1.1M387.3 152.3h1.1M387.1 153.5h1.1M387.1 160.4h1.1M386.9 173.2h1.1M387.4 148.0h1.1M386.6 155.9h1.1M387.7 153.2h1.1M387.0 152.6h1.1M387.0 156.9h1.1M387.2 173.3h1.1M387.8 149.3h1.1M386.9 164.9h1.1M387.3 162.9h1.1M387.4 173.2h1.1M387.2 155.1h1.1M388.9 151.2h1.1M389.0 163.0h1.1M389.0 161.9h1.1M388.8 173.4h1.1M389.3 164.3h1.1M388.6 161.0h1.1M389.5 158.6h1.1M388.6 149.3h1.1M388.6 155.1h1.1M389.7 158.6h1.1M389.3 164.6h1.1M389.7 150.2h1.1M388.9 159.5h1.1M389.4 167.3h1.1M388.8 148.4h1.1M389.0 148.4h1.1M388.3 157.5h1.1M388.8 168.7h1.1M388.4 170.2h1.1M389.3 157.7h1.1M388.5 148.8h1.1M388.8 148.8h1.1M389.5 147.7h1.1M388.7 173.4h1.1M388.9 160.4h1.1M388.7 152.7h1.1M389.4 159.1h1.1M389.6 168.2h1.1M389.0 172.9h1.1M388.9 167.3h1.1M390.6 170.9h1.1M390.9 161.6h1.1M390.2 148.7h1.1M391.0 167.8h1.1M391.2 155.3h1.1M391.3 148.6h1.1M391.3 173.3h1.1M390.9 159.9h1.1M390.7 164.8h1.1M390.7 149.1h1.1M390.9 158.7h1.1M390.8 153.9h1.1M391.0 152.8h1.1M391.3 150.1h1.1M390.6 161.7h1.1M391.7 150.0h1.1M390.9 161.2h1.1M390.7 157.7h1.1M391.4 163.6h1.1M390.6 170.3h1.1M390.9 151.4h1.1M390.8 155.5h1.1M390.6 156.3h1.1M391.5 148.9h1.1M390.6 164.6h1.1M390.9 168.9h1.1M391.5 150.7h1.1M390.6 155.3h1.1M391.1 168.8h1.1M391.3 166.5h1.1M393.1 158.8h1.1M392.8 162.0h1.1M393.3 170.9h1.1M392.8 160.9h1.1M392.3 159.8h1.1M392.7 154.2h1.1M393.1 162.1h1.1M393.5 170.1h1.1M393.2 152.4h1.1M393.2 150.7h1.1M392.9 159.0h1.1M392.9 161.1h1.1M393.0 157.5h1.1M393.0 170.7h1.1M392.4 157.4h1.1M393.0 160.6h1.1M392.7 164.3h1.1M392.8 159.9h1.1M392.7 164.7h1.1M393.1 162.5h1.1M392.5 166.9h1.1M393.2 155.6h1.1M393.4 165.8h1.1M393.2 156.4h1.1M392.6 148.8h1.1M392.6 169.4h1.1M393.1 152.3h1.1M393.5 147.6h1.1M392.6 167.1h1.1M393.3 149.5h1.1M394.8 173.2h1.1M395.0 158.2h1.1M394.8 172.9h1.1M394.3 160.8h1.1M394.2 170.1h1.1M394.8 170.9h1.1M394.7 162.5h1.1M394.8 154.0h1.1M394.2 160.5h1.1M395.0 169.6h1.1M395.1 173.5h1.1M394.8 150.8h1.1M394.4 161.3h1.1M394.9 153.0h1.1M395.2 162.0h1.1M394.7 160.4h1.1M395.4 162.3h1.1M395.2 160.0h1.1M395.1 173.2h1.1M395.0 171.5h1.1M394.4 173.4h1.1M395.0 147.7h1.1M394.9 164.4h1.1M394.9 163.0h1.1M395.3 147.5h1.1M394.6 160.4h1.1M395.0 162.1h1.1M394.1 159.1h1.1M395.3 148.5h1.1M395.1 150.2h1.1M396.8 165.6h1.1M396.5 154.5h1.1M396.8 152.8h1.1M396.7 156.5h1.1M396.6 162.2h1.1M396.4 169.6h1.1M395.6 155.1h1.1M396.8 165.5h1.1M396.6 149.1h1.1M396.0 148.0h1.1M396.9 162.0h1.1M396.9 153.6h1.1M396.9 172.1h1.1M396.6 151.4h1.1M396.6 165.1h1.1M396.7 156.8h1.1M396.8 159.7h1.1M396.8 168.9h1.1M396.7 164.9h1.1M396.8 169.1h1.1M396.5 162.8h1.1M396.6 159.5h1.1M396.7 151.6h1.1M396.5 164.2h1.1M388.6 161.8h1.1M388.3 163.1h1.1M389.4 144.5h1.1M388.5 164.7h1.1M388.5 152.6h1.1M388.8 144.6h1.1M388.5 154.6h1.1M389.3 164.6h1.1M388.5 152.9h1.1M388.4 156.4h1.1M388.8 161.3h1.1M388.6 147.0h1.1M388.0 145.4h1.1M389.4 129.1h1.1M387.9 155.1h1.1M388.4 167.2h1.1M389.6 148.5h1.1M388.8 160.6h1.1M389.0 139.4h1.1M388.8 147.0h1.1M389.2 146.5h1.1M388.8 148.0h1.1M388.7 135.7h1.1M388.9 149.3h1.1M388.5 153.2h1.1M388.4 144.6h1.1" stroke="#ffbf66" stroke-width="1.1" stroke-opacity="0.72" fill="none"/><path d="M310.6 166.7h1.1M309.9 167.5h1.1M306.6 169.1h1.1M307.5 168.5h1.1M309.4 166.7h1.1M312.2 169.4h1.1M306.6 166.7h1.1M309.3 167.0h1.1M311.9 171.4h1.1M307.3 168.5h1.1M309.0 167.5h1.1M306.5 167.6h1.1M307.4 169.2h1.1M311.4 167.1h1.1M307.6 170.0h1.1M308.7 168.0h1.1M310.5 167.5h1.1M309.4 165.8h1.1M310.3 166.9h1.1M311.3 167.6h1.1M307.9 166.7h1.1M308.2 169.4h1.1M308.6 168.6h1.1M308.3 170.4h1.1M310.4 166.0h1.1M311.4 167.0h1.1M309.5 166.8h1.1M308.7 166.7h1.1M308.3 168.8h1.1M306.8 168.6h1.1M311.8 169.1h1.1M309.4 168.1h1.1M310.8 166.0h1.1M312.4 170.6h1.1M308.6 167.6h1.1M311.1 168.4h1.1M312.5 169.4h1.1M310.2 166.3h1.1M308.4 169.2h1.1M311.3 166.5h1.1M308.7 167.2h1.1M307.9 169.8h1.1M309.7 168.6h1.1M312.0 169.1h1.1M308.0 168.7h1.1M312.3 170.4h1.1M310.4 166.6h1.1M307.2 167.7h1.1M309.4 167.5h1.1M307.9 170.4h1.1M310.2 168.5h1.1M312.3 167.0h1.1M307.3 170.1h1.1M307.5 168.8h1.1M309.5 167.1h1.1M311.1 167.1h1.1M311.9 169.9h1.1M307.3 170.1h1.1M308.7 167.3h1.1M311.9 169.1h1.1M312.6 168.3h1.1M312.3 169.9h1.1M312.4 170.4h1.1M309.6 166.5h1.1M312.1 169.1h1.1M309.5 166.6h1.1M309.4 167.8h1.1M309.2 169.1h1.1M306.7 166.5h1.1M307.0 167.8h1.1M307.6 169.2h1.1M307.7 169.3h1.1M309.9 165.8h1.1M308.2 168.2h1.1M307.2 168.4h1.1M311.2 167.8h1.1M311.7 167.4h1.1M308.7 167.7h1.1M310.6 167.4h1.1M310.1 168.2h1.1M309.6 166.9h1.1M311.6 168.1h1.1M308.7 165.0h1.1M310.4 167.5h1.1M310.4 168.0h1.1M307.7 170.2h1.1M311.3 168.1h1.1M312.0 167.4h1.1M307.1 169.4h1.1M309.0 168.3h1.1M309.3 166.4h1.1M311.6 168.2h1.1M307.6 168.5h1.1M311.6 166.9h1.1M307.4 168.5h1.1M309.1 168.4h1.1M312.5 169.5h1.1M309.8 167.5h1.1M310.7 166.2h1.1" stroke="#ffe9a0" stroke-width="1.1" stroke-opacity="0.94" fill="none"/><path d="M307.1 165.7h1.1M311.0 163.3h1.1M308.6 165.0h1.1M308.5 166.0h1.1M311.4 165.7h1.1M310.0 166.5h1.1M309.2 164.9h1.1M311.6 165.1h1.1M308.8 166.1h1.1M308.1 162.3h1.1M310.2 166.0h1.1M382.4 168.6h1.1M381.9 156.2h1.1M382.7 154.5h1.1M381.7 167.3h1.1M382.4 166.3h1.1M382.0 172.2h1.1M382.2 162.6h1.1M382.8 154.9h1.1M382.1 156.9h1.1M382.4 162.7h1.1M382.3 148.8h1.1M382.4 157.6h1.1M381.9 168.4h1.1M382.7 169.5h1.1M382.5 152.5h1.1M382.6 172.1h1.1M382.5 156.2h1.1M381.7 159.4h1.1M382.0 146.9h1.1M382.4 169.7h1.1M382.4 173.2h1.1M382.7 145.8h1.1M382.2 154.7h1.1M382.0 166.3h1.1M381.9 165.1h1.1M381.7 149.8h1.1M382.1 158.6h1.1M381.4 154.3h1.1M381.4 156.7h1.1M382.2 171.6h1.1M381.9 158.3h1.1M382.2 156.6h1.1M382.1 163.0h1.1M382.5 167.1h1.1M381.8 150.3h1.1M382.5 168.5h1.1M382.1 171.6h1.1M381.4 164.5h1.1M383.8 167.6h1.1M384.8 158.8h1.1M384.6 146.4h1.1M384.7 169.9h1.1M384.3 152.0h1.1M383.7 149.8h1.1M384.5 152.8h1.1M384.9 163.7h1.1M384.3 159.0h1.1M384.1 151.6h1.1M384.2 147.2h1.1M383.3 157.3h1.1M384.3 153.5h1.1M384.4 162.0h1.1M383.6 167.6h1.1M383.9 164.1h1.1M384.7 146.1h1.1M384.4 161.7h1.1M384.6 156.2h1.1M384.7 169.2h1.1M384.5 158.3h1.1M383.8 156.3h1.1M383.9 166.1h1.1M384.1 172.3h1.1M384.2 145.8h1.1M383.8 173.3h1.1M384.4 169.0h1.1M383.9 162.3h1.1M384.0 170.5h1.1M384.8 156.3h1.1M383.6 155.7h1.1M384.5 155.3h1.1M384.6 171.0h1.1M383.4 155.2h1.1M384.0 146.3h1.1M383.6 152.6h1.1M384.5 161.6h1.1M384.2 164.7h1.1M386.3 159.3h1.1M386.2 158.6h1.1M385.9 152.1h1.1M386.2 171.0h1.1M385.9 172.4h1.1M386.1 155.2h1.1M386.0 171.9h1.1M385.7 152.2h1.1M386.6 158.7h1.1M386.5 151.4h1.1M385.5 173.3h1.1M385.3 147.8h1.1M386.3 167.7h1.1M385.9 149.9h1.1M386.4 172.5h1.1M386.1 149.7h1.1M386.1 162.0h1.1M386.5 170.0h1.1M386.5 165.8h1.1M386.2 167.9h1.1M385.8 165.9h1.1M386.3 166.8h1.1M385.4 153.1h1.1M386.2 167.2h1.1M386.4 147.3h1.1M385.7 164.5h1.1M386.8 154.9h1.1M386.2 166.7h1.1M385.8 152.8h1.1M386.4 168.2h1.1M386.4 165.6h1.1M386.7 173.1h1.1M385.6 166.9h1.1M386.1 148.6h1.1M386.0 157.8h1.1M385.6 161.7h1.1M385.8 150.8h1.1M385.8 172.2h1.1M388.6 167.2h1.1M387.2 155.0h1.1M388.1 149.5h1.1M387.7 151.0h1.1M388.2 165.2h1.1M387.9 146.9h1.1M388.4 166.2h1.1M388.1 151.6h1.1M387.7 164.3h1.1M388.5 149.6h1.1M387.9 162.8h1.1M387.6 163.8h1.1M388.3 148.5h1.1M387.8 156.9h1.1M388.0 166.5h1.1M387.8 165.6h1.1M388.8 146.5h1.1M388.0 150.5h1.1M387.6 150.6h1.1M388.3 172.7h1.1M387.8 151.1h1.1M388.2 164.9h1.1M388.3 151.8h1.1M388.2 162.7h1.1M388.0 152.9h1.1M387.6 164.5h1.1M387.3 166.6h1.1M388.2 152.7h1.1M388.2 160.6h1.1M387.6 146.6h1.1M387.7 159.1h1.1M388.4 172.9h1.1M388.1 147.4h1.1M388.3 167.7h1.1M387.6 161.5h1.1M387.5 166.1h1.1M387.9 149.3h1.1M388.0 171.3h1.1M390.1 159.2h1.1M390.4 148.4h1.1M390.6 157.4h1.1M390.4 161.7h1.1M390.6 156.5h1.1M389.9 172.9h1.1M389.7 167.7h1.1M389.6 165.8h1.1M390.1 155.1h1.1M389.8 170.3h1.1M389.3 153.8h1.1M389.7 170.5h1.1M389.8 154.3h1.1M389.5 166.2h1.1M389.8 163.5h1.1M390.1 166.1h1.1M389.6 154.1h1.1M389.8 166.2h1.1M390.6 150.7h1.1M389.7 155.1h1.1M390.0 159.8h1.1M389.8 149.9h1.1M390.0 172.6h1.1M390.2 165.2h1.1M389.7 160.1h1.1M390.4 167.6h1.1M389.8 158.6h1.1M390.1 159.4h1.1M390.3 148.6h1.1M389.7 173.2h1.1M389.9 169.9h1.1M390.1 156.3h1.1M390.1 162.1h1.1M390.2 165.4h1.1M389.8 166.9h1.1M390.1 169.2h1.1M390.2 165.3h1.1M389.9 158.9h1.1M391.9 156.5h1.1M392.2 161.4h1.1M391.9 148.9h1.1M391.6 173.0h1.1M392.4 152.7h1.1M392.6 168.9h1.1M392.0 169.2h1.1M392.2 150.9h1.1M392.3 148.4h1.1M392.0 146.0h1.1M392.0 159.8h1.1M392.4 151.0h1.1M392.2 165.3h1.1M391.8 156.9h1.1M391.4 169.7h1.1M392.0 153.8h1.1M391.9 155.4h1.1M391.6 160.8h1.1M391.9 172.1h1.1M391.8 157.2h1.1M392.0 172.6h1.1M392.0 165.9h1.1M392.2 156.4h1.1M391.8 149.1h1.1M391.9 172.2h1.1M391.8 154.5h1.1M391.7 171.4h1.1M392.4 170.5h1.1M392.0 147.1h1.1M392.3 170.4h1.1M392.3 160.8h1.1M392.1 168.7h1.1M392.5 154.3h1.1M391.8 172.0h1.1M391.7 159.9h1.1M392.1 170.7h1.1M392.5 159.7h1.1M392.0 159.7h1.1M393.4 166.2h1.1M393.9 156.4h1.1M394.1 169.4h1.1M393.6 153.6h1.1M394.0 154.0h1.1M393.9 163.4h1.1M393.1 146.3h1.1M394.2 146.0h1.1M394.6 166.8h1.1M393.5 146.8h1.1M393.9 170.4h1.1M394.0 151.8h1.1M393.3 166.8h1.1M394.0 159.1h1.1M393.8 154.4h1.1M393.4 164.1h1.1M393.7 169.5h1.1M394.1 173.4h1.1M393.8 161.3h1.1M393.8 157.3h1.1M393.8 169.2h1.1M393.3 157.6h1.1M393.8 149.7h1.1M393.8 163.8h1.1M393.7 158.9h1.1M393.5 150.1h1.1M394.5 148.2h1.1M393.7 157.4h1.1M393.8 152.5h1.1M393.6 162.7h1.1M394.0 154.9h1.1M394.1 164.8h1.1M393.6 166.0h1.1M394.0 164.2h1.1M394.0 152.3h1.1M393.7 161.0h1.1M393.8 161.8h1.1M394.4 159.2h1.1M395.6 166.2h1.1M396.0 155.1h1.1M395.1 157.3h1.1M395.7 170.4h1.1M395.8 172.7h1.1M395.7 151.0h1.1M395.9 167.5h1.1M395.7 168.3h1.1M395.5 148.2h1.1M396.3 146.9h1.1M396.1 157.6h1.1M395.7 156.5h1.1M395.9 170.6h1.1M395.9 173.4h1.1M394.8 157.4h1.1M395.7 168.2h1.1M395.9 159.2h1.1M396.0 160.1h1.1M396.0 157.1h1.1M396.3 161.1h1.1M395.8 170.2h1.1M395.4 172.3h1.1M395.6 153.5h1.1M395.9 172.6h1.1M396.2 156.1h1.1M396.1 161.1h1.1M395.3 169.2h1.1M396.0 168.6h1.1M396.3 161.3h1.1M395.8 150.9h1.1M395.3 158.4h1.1M395.5 162.5h1.1M395.9 153.4h1.1M395.2 160.0h1.1M395.1 155.3h1.1M396.0 164.8h1.1M395.6 157.7h1.1M395.7 147.2h1.1" stroke="#ffe9a0" stroke-width="1.1" stroke-opacity="0.72" fill="none"/><path d="M312.0 170.5h1.1M313.1 168.6h1.1M312.5 168.5h1.1M312.7 168.4h1.1M311.5 169.6h1.1M313.5 168.8h1.1M311.5 167.1h1.1M311.9 167.6h1.1M312.0 169.6h1.1M314.8 166.9h1.1M314.0 167.0h1.1M312.6 170.1h1.1M311.6 168.6h1.1M314.5 166.4h1.1M312.7 167.2h1.1M314.3 168.4h1.1M314.2 165.7h1.1M314.7 166.0h1.1M311.8 171.5h1.1M313.9 167.9h1.1M313.7 167.2h1.1M313.4 167.1h1.1M314.5 166.3h1.1M312.8 169.1h1.1M312.0 169.5h1.1M314.4 167.6h1.1M312.6 169.7h1.1M312.5 170.4h1.1M311.1 167.1h1.1M311.2 166.6h1.1M312.0 170.7h1.1M313.5 167.6h1.1M313.3 167.1h1.1M312.7 168.1h1.1M311.4 166.9h1.1M311.3 167.3h1.1M311.7 167.8h1.1M311.3 167.2h1.1M311.3 167.7h1.1M314.3 169.2h1.1M311.2 166.2h1.1M312.6 171.2h1.1M314.8 168.2h1.1M312.3 169.9h1.1M314.2 168.2h1.1M313.4 167.4h1.1M313.1 168.5h1.1M314.2 167.2h1.1M311.8 168.2h1.1M314.9 164.7h1.1M312.0 167.5h1.1M311.8 167.2h1.1M312.6 168.2h1.1M313.4 165.1h1.1M311.9 167.9h1.1M312.3 169.8h1.1M313.0 167.9h1.1M312.0 168.3h1.1M314.3 167.2h1.1M314.5 166.8h1.1M312.2 167.3h1.1" stroke="#b4a4ff" stroke-width="1.1" stroke-opacity="0.94" fill="none"/><path d="M313.8 165.4h1.1M313.9 165.6h1.1M312.7 164.9h1.1M311.1 166.0h1.1M311.3 164.8h1.1M311.4 165.6h1.1M313.4 165.8h1.1" stroke="#b4a4ff" stroke-width="1.1" stroke-opacity="0.72" fill="none"/><path d="M317.1 171.7h1.1M318.9 166.9h1.1M317.5 167.6h1.1M319.1 167.0h1.1M315.0 168.8h1.1M313.9 168.6h1.1M315.4 164.6h1.1M317.1 167.6h1.1M317.6 168.0h1.1M315.2 166.0h1.1M318.1 169.1h1.1M314.4 166.1h1.1M315.2 165.5h1.1M313.8 167.8h1.1M314.6 168.3h1.1M317.8 167.8h1.1M314.6 166.9h1.1M316.3 168.2h1.1M314.6 165.2h1.1M316.6 168.0h1.1M313.9 167.3h1.1M317.5 168.2h1.1M318.0 165.8h1.1M315.6 166.0h1.1M318.7 167.9h1.1M318.3 169.5h1.1M319.3 167.1h1.1M317.8 170.0h1.1M318.6 167.4h1.1M316.3 170.5h1.1M316.4 167.8h1.1M317.9 168.2h1.1M319.5 167.1h1.1M318.6 169.4h1.1M316.3 167.8h1.1M313.6 167.4h1.1M314.0 168.2h1.1M318.5 169.6h1.1M319.4 167.4h1.1M319.0 166.5h1.1M316.3 170.9h1.1M316.6 168.1h1.1M315.8 166.4h1.1M315.4 168.5h1.1M315.3 167.2h1.1M315.3 167.6h1.1M317.3 169.9h1.1M317.1 168.9h1.1M316.8 170.1h1.1M317.6 166.5h1.1M318.8 169.5h1.1M318.4 168.1h1.1M319.5 166.9h1.1M319.6 166.6h1.1M316.1 169.1h1.1M313.5 165.9h1.1M315.3 165.2h1.1M316.3 168.7h1.1M317.2 168.7h1.1M315.6 166.9h1.1M319.6 167.3h1.1M318.2 166.8h1.1M314.6 167.2h1.1M317.8 168.8h1.1M316.3 168.5h1.1M316.0 166.8h1.1M316.5 169.4h1.1M317.5 168.7h1.1M314.1 168.2h1.1M314.3 169.0h1.1M316.2 169.2h1.1M314.4 167.9h1.1M314.3 167.7h1.1M317.5 169.2h1.1M317.9 165.5h1.1M316.2 168.3h1.1M319.1 167.4h1.1M318.9 165.5h1.1M318.1 167.2h1.1M314.1 168.7h1.1M319.3 165.9h1.1M315.8 166.2h1.1M317.4 169.4h1.1M314.7 165.1h1.1M317.7 169.2h1.1M319.4 165.0h1.1M318.6 167.9h1.1M317.3 166.8h1.1M319.2 166.7h1.1M315.6 167.1h1.1M313.5 168.0h1.1M316.5 171.4h1.1M315.3 167.7h1.1M315.6 165.4h1.1M316.5 169.8h1.1M316.9 169.9h1.1M318.0 168.1h1.1M317.3 169.6h1.1M314.9 166.7h1.1M346.2 167.8h1.1M345.8 168.0h1.1M343.5 166.0h1.1M344.4 168.8h1.1M345.5 169.3h1.1M344.5 166.7h1.1M343.0 167.5h1.1M344.3 167.7h1.1M344.4 167.8h1.1M343.3 165.3h1.1M344.7 169.9h1.1M344.6 169.4h1.1M347.7 167.3h1.1M343.1 164.9h1.1M343.3 164.9h1.1M345.3 168.5h1.1M343.8 167.7h1.1M344.7 169.4h1.1M344.5 168.5h1.1M344.2 167.5h1.1M343.3 165.7h1.1M345.4 166.0h1.1M346.9 168.9h1.1M345.9 168.6h1.1M345.8 169.1h1.1M345.0 168.3h1.1M344.4 167.1h1.1M343.0 165.6h1.1M343.2 167.8h1.1M344.3 169.0h1.1M346.0 170.0h1.1M345.4 168.0h1.1M345.4 169.2h1.1M346.2 170.6h1.1M344.5 169.7h1.1M344.2 168.1h1.1M344.1 167.4h1.1M342.9 166.6h1.1M347.2 167.1h1.1M343.6 168.1h1.1M344.0 167.8h1.1M346.7 168.3h1.1M343.1 164.9h1.1M344.6 167.7h1.1M343.2 167.0h1.1M344.6 169.3h1.1M343.6 166.4h1.1M344.8 166.6h1.1M345.9 169.9h1.1M346.9 168.1h1.1M345.6 168.0h1.1M343.2 166.6h1.1M346.0 169.3h1.1M344.5 169.3h1.1M346.7 169.0h1.1M347.0 167.5h1.1M345.2 169.3h1.1M343.7 166.4h1.1M343.2 166.7h1.1M342.9 166.6h1.1M344.7 167.2h1.1M342.9 165.7h1.1M346.2 169.3h1.1M347.1 167.2h1.1M346.0 168.4h1.1M344.3 167.2h1.1M343.1 169.3h1.1M344.9 170.9h1.1M347.8 167.4h1.1M343.4 166.0h1.1M344.8 167.7h1.1M344.1 167.3h1.1M343.7 165.4h1.1M343.6 167.1h1.1M346.0 169.7h1.1M343.2 167.4h1.1M346.2 168.8h1.1M343.6 167.4h1.1M347.8 165.9h1.1M346.5 169.1h1.1" stroke="#ff9ab4" stroke-width="1.1" stroke-opacity="0.94" fill="none"/><path d="M317.6 166.4h1.1M317.2 164.0h1.1M314.4 165.3h1.1M319.3 165.0h1.1M317.9 165.3h1.1M315.0 164.8h1.1M315.1 163.8h1.1M317.0 165.9h1.1M318.5 164.7h1.1M319.5 162.9h1.1M319.3 165.6h1.1M344.5 165.1h1.1M345.1 166.0h1.1M346.4 166.4h1.1M343.6 165.5h1.1M345.4 166.2h1.1M343.9 165.9h1.1M343.4 162.9h1.1M346.3 166.3h1.1M343.4 165.6h1.1" stroke="#ff9ab4" stroke-width="1.1" stroke-opacity="0.72" fill="none"/><path d="M319.9 166.8h1.1M322.2 168.5h1.1M322.7 169.6h1.1M322.4 170.0h1.1M322.6 168.0h1.1M320.1 167.3h1.1M320.5 166.4h1.1M322.6 167.5h1.1M319.3 165.5h1.1M321.8 167.5h1.1M322.7 169.6h1.1M320.0 167.9h1.1M321.2 167.9h1.1M319.2 167.0h1.1M322.1 169.4h1.1M323.3 170.4h1.1M320.7 169.0h1.1M319.6 164.8h1.1M319.2 167.0h1.1M321.0 169.8h1.1M319.2 166.6h1.1M322.5 169.1h1.1M321.1 168.6h1.1M320.2 165.5h1.1M322.0 167.4h1.1M321.3 167.5h1.1M319.7 167.2h1.1M319.9 167.3h1.1M319.5 165.5h1.1M319.4 166.1h1.1M320.1 165.1h1.1M320.0 166.4h1.1M323.3 167.5h1.1M323.1 168.9h1.1M319.8 165.5h1.1M321.5 168.3h1.1M320.0 167.4h1.1M323.0 168.5h1.1M322.6 168.7h1.1M320.7 168.5h1.1M321.4 169.3h1.1M320.4 166.9h1.1M319.9 165.4h1.1M322.5 168.4h1.1M321.0 167.9h1.1M322.7 169.7h1.1M319.7 166.3h1.1M323.2 168.8h1.1M323.0 168.2h1.1M323.1 168.4h1.1M321.9 170.2h1.1M320.2 166.4h1.1M321.6 168.9h1.1M321.0 168.8h1.1M323.4 168.4h1.1M322.0 167.4h1.1M321.1 167.9h1.1M322.2 168.0h1.1M320.9 168.3h1.1M322.8 168.8h1.1M320.4 168.4h1.1M323.0 167.2h1.1M323.0 171.5h1.1M322.8 168.7h1.1M319.4 165.2h1.1M321.5 167.4h1.1M322.7 170.9h1.1M320.5 166.4h1.1" stroke="#106a6a" stroke-width="1.1" stroke-opacity="0.94" fill="none"/><path d="M321.9 164.3h1.1M319.5 165.0h1.1M320.2 161.8h1.1M322.0 159.7h1.1M320.6 165.7h1.1M322.3 163.5h1.1M322.4 165.8h1.1M321.7 164.0h1.1" stroke="#106a6a" stroke-width="1.1" stroke-opacity="0.72" fill="none"/><path d="M324.6 166.0h1.1M324.6 166.5h1.1M324.6 167.6h1.1M325.7 167.0h1.1M323.7 166.9h1.1M324.0 167.3h1.1M323.6 166.7h1.1M323.6 167.5h1.1M326.1 168.3h1.1M323.9 165.9h1.1M324.9 169.3h1.1M326.5 168.4h1.1M323.3 167.7h1.1M326.1 167.8h1.1M323.5 167.5h1.1M326.4 168.3h1.1M324.6 167.6h1.1M323.3 169.1h1.1M326.4 169.7h1.1M326.2 167.1h1.1M325.2 167.6h1.1M324.5 165.8h1.1M326.1 169.1h1.1M325.1 167.7h1.1M326.1 168.4h1.1M323.5 167.1h1.1M325.2 166.3h1.1M324.4 166.9h1.1M326.2 169.3h1.1M323.5 166.6h1.1M324.5 167.5h1.1M325.7 167.7h1.1M326.2 168.4h1.1M323.7 166.1h1.1M323.3 166.6h1.1M323.8 167.1h1.1M326.1 170.0h1.1M324.8 167.5h1.1M325.2 167.5h1.1M325.7 165.6h1.1M324.1 165.9h1.1M323.6 167.9h1.1M324.7 168.6h1.1M326.0 169.0h1.1M325.7 168.3h1.1M323.8 167.9h1.1M326.0 166.4h1.1M325.1 167.4h1.1M326.4 167.9h1.1M326.5 170.8h1.1M325.9 168.6h1.1M323.6 167.4h1.1M323.5 166.4h1.1M325.7 166.4h1.1M324.3 166.5h1.1M353.4 166.7h1.1M353.7 167.7h1.1M350.6 168.5h1.1M352.0 166.8h1.1M351.1 168.6h1.1M351.1 169.0h1.1M351.8 166.0h1.1M354.4 167.9h1.1M351.1 170.7h1.1M351.8 168.4h1.1M352.3 166.1h1.1M354.2 166.5h1.1M354.3 167.9h1.1M351.4 167.9h1.1M352.5 164.7h1.1M352.5 167.5h1.1M352.4 167.2h1.1M353.9 165.6h1.1M351.6 167.6h1.1M353.1 166.0h1.1M352.5 167.9h1.1M354.2 169.0h1.1M351.2 170.6h1.1M351.6 167.4h1.1M350.7 168.8h1.1M352.5 168.2h1.1M351.9 166.3h1.1M352.1 165.2h1.1M352.0 166.0h1.1M353.6 166.3h1.1M351.1 171.2h1.1M354.3 166.6h1.1M353.4 166.4h1.1M354.3 168.4h1.1M350.9 170.8h1.1M350.7 169.6h1.1M354.1 167.4h1.1M351.2 169.6h1.1M351.2 168.0h1.1M350.7 171.4h1.1M353.7 167.4h1.1M353.7 167.0h1.1M352.6 166.6h1.1M354.3 166.2h1.1M352.0 167.9h1.1M352.1 166.7h1.1M353.1 165.9h1.1M351.2 168.6h1.1M353.4 166.9h1.1M351.2 168.5h1.1M351.8 168.8h1.1M353.4 166.9h1.1M351.3 169.2h1.1M354.0 167.3h1.1M352.3 166.1h1.1M352.0 168.6h1.1M353.6 167.7h1.1M353.6 169.0h1.1M353.7 166.5h1.1M352.9 167.0h1.1M351.1 168.4h1.1M352.9 166.5h1.1" stroke="#5fdc3c" stroke-width="1.1" stroke-opacity="0.94" fill="none"/><path d="M324.5 166.2h1.1M324.4 165.3h1.1M325.3 161.3h1.1M325.4 163.6h1.1M323.1 166.4h1.1M352.1 163.7h1.1M352.0 166.3h1.1M351.4 160.9h1.1M352.4 162.9h1.1M351.4 165.8h1.1M352.6 166.1h1.1M352.8 165.0h1.1" stroke="#5fdc3c" stroke-width="1.1" stroke-opacity="0.72" fill="none"/><path d="M330.9 168.4h1.1M326.1 167.5h1.1M331.7 171.1h1.1M326.7 170.0h1.1M327.2 166.9h1.1M331.1 168.9h1.1M331.4 169.8h1.1M329.2 166.5h1.1M329.4 169.4h1.1M327.7 168.4h1.1M330.7 168.7h1.1M328.0 168.7h1.1M329.5 167.2h1.1M331.8 170.4h1.1M327.9 168.0h1.1M331.9 169.7h1.1M327.7 168.3h1.1M325.9 167.5h1.1M328.6 167.8h1.1M331.2 168.6h1.1M331.7 169.1h1.1M327.2 167.3h1.1M326.7 169.5h1.1M329.9 168.8h1.1M328.6 166.4h1.1M330.5 168.2h1.1M330.2 168.4h1.1M331.0 169.0h1.1M328.3 166.8h1.1M326.9 169.2h1.1M329.5 167.1h1.1M328.8 166.8h1.1M329.9 167.5h1.1M328.8 168.2h1.1M331.5 168.3h1.1M330.8 166.5h1.1M327.0 170.2h1.1M326.9 168.6h1.1M328.5 167.8h1.1M327.6 169.4h1.1M329.0 167.2h1.1M331.5 169.9h1.1M329.1 167.3h1.1M330.4 169.0h1.1M331.9 170.4h1.1M330.4 167.7h1.1M327.9 170.8h1.1M327.7 165.7h1.1M327.3 169.2h1.1M326.5 170.4h1.1M328.0 168.0h1.1M327.9 167.5h1.1M326.8 169.7h1.1M328.0 167.6h1.1M331.1 168.3h1.1M326.9 171.1h1.1M326.1 169.8h1.1M331.7 168.4h1.1M330.9 168.0h1.1M328.0 168.1h1.1M327.4 169.1h1.1M329.7 168.8h1.1M329.7 167.9h1.1M326.3 168.4h1.1M326.5 167.5h1.1M326.3 168.3h1.1M327.9 167.2h1.1M326.6 168.4h1.1M330.6 167.6h1.1M330.2 167.7h1.1M330.0 166.2h1.1M326.5 167.2h1.1M331.9 170.8h1.1M330.4 167.5h1.1M330.7 169.8h1.1M328.0 169.1h1.1M331.7 167.5h1.1M329.7 168.4h1.1M326.0 166.8h1.1M328.3 167.4h1.1M329.9 167.2h1.1M326.0 168.4h1.1M329.0 166.8h1.1M331.9 168.2h1.1M331.0 169.2h1.1M326.8 169.6h1.1M329.9 166.5h1.1M331.8 172.2h1.1M329.5 168.1h1.1M330.8 167.1h1.1M330.6 168.7h1.1M328.5 166.2h1.1M331.1 169.3h1.1M330.2 167.1h1.1M328.1 167.1h1.1M330.8 170.0h1.1M328.7 166.4h1.1M326.6 167.4h1.1M330.8 168.0h1.1M340.6 168.6h1.1M339.1 165.4h1.1M343.0 164.8h1.1M339.7 168.6h1.1M340.9 168.3h1.1M343.5 166.7h1.1M343.4 167.8h1.1M339.6 168.9h1.1M341.0 168.4h1.1M341.7 167.8h1.1M342.8 167.3h1.1M342.6 170.1h1.1M343.4 167.6h1.1M342.2 167.7h1.1M341.9 170.2h1.1M342.7 167.4h1.1M341.2 167.7h1.1M342.0 167.3h1.1M341.9 170.2h1.1M339.8 169.4h1.1M343.5 167.6h1.1M339.6 166.9h1.1M343.0 167.0h1.1M341.4 168.9h1.1M341.1 168.6h1.1M343.1 167.1h1.1M339.5 167.9h1.1M340.9 168.7h1.1M342.9 168.7h1.1M340.1 168.8h1.1M340.8 168.1h1.1M342.3 169.1h1.1M339.6 167.6h1.1M339.5 167.8h1.1M343.1 165.2h1.1M342.1 169.3h1.1M341.6 168.5h1.1M343.3 165.4h1.1M339.5 168.7h1.1M339.0 167.5h1.1M340.3 167.1h1.1M342.1 167.8h1.1M339.4 166.4h1.1M340.1 169.2h1.1M340.5 167.7h1.1M343.0 166.3h1.1M342.5 168.1h1.1M340.8 168.7h1.1M340.4 170.5h1.1M343.0 166.7h1.1M342.9 167.6h1.1M341.1 167.7h1.1M340.7 168.3h1.1M341.8 166.9h1.1M343.4 166.7h1.1M343.0 166.6h1.1M339.4 163.9h1.1M339.8 167.6h1.1M343.1 165.0h1.1M342.2 168.4h1.1M339.7 165.3h1.1M343.1 167.8h1.1M341.7 167.1h1.1M342.1 168.7h1.1M343.4 165.8h1.1M339.2 168.1h1.1M338.9 164.7h1.1M342.9 166.7h1.1M341.7 167.1h1.1M342.0 168.3h1.1M341.5 168.6h1.1M343.1 166.0h1.1M342.8 167.0h1.1M342.1 169.5h1.1" stroke="#a4ec2a" stroke-width="1.1" stroke-opacity="0.94" fill="none"/><path d="M328.8 166.5h1.1M327.9 166.0h1.1M331.0 165.9h1.1M330.1 165.7h1.1M327.1 165.9h1.1M326.4 166.5h1.1M331.8 166.2h1.1M331.8 165.7h1.1M331.3 166.4h1.1M325.8 166.5h1.1M331.5 163.9h1.1M339.2 161.9h1.1M341.9 166.1h1.1M340.0 166.4h1.1M342.3 165.3h1.1M341.6 165.7h1.1M339.5 165.9h1.1M341.0 166.6h1.1M340.0 166.3h1.1" stroke="#a4ec2a" stroke-width="1.1" stroke-opacity="0.72" fill="none"/><path d="M332.7 168.1h1.1M331.6 170.0h1.1M334.9 164.9h1.1M333.1 165.8h1.1M332.5 168.4h1.1M334.7 167.5h1.1M336.3 168.0h1.1M330.8 166.6h1.1M334.0 167.3h1.1M335.3 166.4h1.1M331.5 169.9h1.1M335.8 168.9h1.1M333.8 168.4h1.1M330.5 166.1h1.1M331.8 169.8h1.1M332.5 165.3h1.1M333.2 167.4h1.1M332.7 166.6h1.1M336.6 169.0h1.1M333.2 167.7h1.1M335.4 168.1h1.1M332.5 168.2h1.1M331.2 166.9h1.1M331.4 170.6h1.1M333.6 167.7h1.1M330.7 166.3h1.1M331.4 171.3h1.1M336.5 169.9h1.1M331.6 170.9h1.1M332.8 169.0h1.1M333.9 167.7h1.1M332.7 167.1h1.1M331.7 169.2h1.1M330.6 168.8h1.1M335.0 167.3h1.1M330.8 169.8h1.1M331.4 168.0h1.1M335.9 168.7h1.1M336.3 168.5h1.1M332.5 168.0h1.1M335.9 169.2h1.1M336.0 169.7h1.1M333.2 167.9h1.1M334.5 168.0h1.1M332.5 167.5h1.1M331.7 170.2h1.1M333.0 167.2h1.1M335.8 167.4h1.1M331.2 168.9h1.1M334.3 165.4h1.1M333.8 166.1h1.1M330.9 169.2h1.1M332.0 168.2h1.1M333.1 167.5h1.1M333.5 167.1h1.1M331.7 168.2h1.1M335.4 170.3h1.1M335.6 169.0h1.1M331.0 167.8h1.1M336.4 168.9h1.1M330.6 168.1h1.1M336.4 168.0h1.1M335.3 168.0h1.1M331.7 169.1h1.1M335.0 166.1h1.1M332.7 168.0h1.1M332.1 168.5h1.1M336.5 168.1h1.1M332.5 165.8h1.1M336.5 168.3h1.1M333.0 167.0h1.1M334.3 167.5h1.1M335.4 168.5h1.1M332.3 168.7h1.1M332.7 167.1h1.1M332.8 168.4h1.1M331.5 168.8h1.1M332.1 169.1h1.1M336.4 170.4h1.1M333.5 167.9h1.1M332.9 167.4h1.1M331.8 168.9h1.1M332.0 169.1h1.1M334.2 166.5h1.1M333.8 166.5h1.1M336.1 169.4h1.1M331.2 170.5h1.1M335.2 167.6h1.1M334.5 166.2h1.1M335.0 167.3h1.1M330.6 167.5h1.1M332.2 167.7h1.1M336.3 169.4h1.1M332.6 166.1h1.1M330.5 168.4h1.1M332.8 167.1h1.1M336.5 169.3h1.1M332.8 169.5h1.1M332.8 168.5h1.1" stroke="#ffe92e" stroke-width="1.1" stroke-opacity="0.94" fill="none"/><path d="M334.9 166.2h1.1M330.7 166.1h1.1M331.9 165.7h1.1M335.1 163.0h1.1M332.1 165.5h1.1M331.0 164.5h1.1M335.0 164.5h1.1M334.7 164.4h1.1M336.2 165.0h1.1M331.1 164.9h1.1M336.0 165.8h1.1" stroke="#ffe92e" stroke-width="1.1" stroke-opacity="0.72" fill="none"/><path d="M337.3 167.9h1.1M337.3 166.1h1.1M338.5 165.9h1.1M339.2 166.1h1.1M336.5 169.0h1.1M338.1 167.3h1.1M336.5 169.6h1.1M339.2 166.0h1.1M338.5 168.3h1.1M336.7 167.0h1.1M335.1 167.3h1.1M337.1 165.3h1.1M336.1 170.2h1.1M335.6 168.9h1.1M335.9 169.3h1.1M336.1 169.5h1.1M336.7 168.2h1.1M336.5 168.5h1.1M336.0 170.4h1.1M335.8 168.7h1.1M339.6 166.3h1.1M338.0 166.7h1.1M337.3 166.4h1.1M336.6 169.1h1.1M337.3 167.3h1.1M336.8 169.6h1.1M336.8 166.7h1.1M339.6 165.7h1.1M336.4 169.1h1.1M335.4 167.7h1.1M336.2 167.5h1.1M336.9 170.4h1.1M335.3 168.5h1.1M338.6 168.2h1.1M336.5 168.5h1.1M339.5 166.4h1.1M336.3 167.3h1.1M339.7 166.5h1.1M339.0 166.0h1.1M338.9 167.2h1.1M339.2 167.4h1.1M335.9 168.3h1.1M338.0 169.9h1.1M335.7 170.4h1.1M339.7 166.3h1.1M336.3 170.2h1.1M336.0 169.3h1.1M339.5 166.2h1.1M338.8 166.7h1.1M339.4 167.0h1.1M339.6 168.3h1.1M336.9 167.0h1.1M338.4 166.4h1.1M338.9 165.8h1.1M336.3 168.5h1.1M337.6 168.2h1.1M339.4 167.2h1.1M335.3 169.0h1.1M337.3 168.1h1.1M335.6 169.6h1.1M336.7 169.2h1.1M337.0 168.2h1.1M336.9 166.5h1.1M336.7 167.7h1.1M335.6 168.2h1.1M337.8 166.0h1.1M339.1 166.2h1.1M339.3 167.5h1.1M338.9 166.2h1.1M338.5 166.5h1.1M336.0 168.5h1.1M336.8 168.2h1.1M335.1 167.0h1.1M338.9 165.5h1.1M348.5 166.6h1.1M350.9 170.5h1.1M349.5 167.7h1.1M349.9 167.7h1.1M348.0 166.3h1.1M350.0 168.2h1.1M346.9 170.1h1.1M348.1 167.8h1.1M348.3 164.8h1.1M349.2 165.8h1.1M349.7 166.6h1.1M347.8 166.3h1.1M349.2 166.1h1.1M350.0 168.7h1.1M348.5 167.1h1.1M351.1 169.8h1.1M347.0 167.5h1.1M347.5 167.1h1.1M346.8 168.0h1.1M349.3 169.7h1.1M347.5 166.8h1.1M348.5 168.1h1.1M346.8 167.4h1.1M347.3 167.8h1.1M347.1 168.7h1.1M349.6 167.1h1.1M350.5 168.4h1.1M348.0 164.4h1.1M348.0 165.9h1.1M348.1 168.3h1.1M349.7 168.1h1.1M350.0 170.6h1.1M348.9 168.3h1.1M347.9 165.3h1.1M350.4 170.5h1.1M347.1 169.2h1.1M348.0 167.7h1.1M349.9 168.8h1.1M349.6 166.8h1.1M350.2 170.7h1.1M348.8 167.9h1.1M347.4 165.5h1.1M351.1 168.8h1.1M348.4 166.7h1.1M347.0 167.7h1.1M347.7 166.6h1.1M349.9 167.6h1.1M350.0 167.2h1.1M348.3 168.0h1.1M348.8 168.8h1.1M348.5 167.9h1.1M349.4 170.0h1.1M350.0 169.2h1.1M350.5 167.4h1.1M347.5 168.1h1.1M350.5 170.2h1.1M348.9 168.3h1.1M347.1 167.2h1.1M349.6 168.7h1.1M349.5 167.9h1.1M346.9 169.1h1.1M350.4 169.3h1.1M348.2 166.5h1.1M347.9 166.4h1.1M348.5 167.9h1.1M348.9 168.2h1.1M349.7 168.1h1.1M348.9 168.5h1.1M350.1 168.1h1.1M349.0 168.1h1.1M347.9 166.7h1.1M350.3 170.0h1.1M351.1 168.9h1.1M348.0 165.5h1.1" stroke="#a8f08a" stroke-width="1.1" stroke-opacity="0.94" fill="none"/><path d="M335.6 165.9h1.1M337.2 165.1h1.1M338.7 165.5h1.1M338.9 165.6h1.1M335.5 165.7h1.1M336.0 164.7h1.1M338.2 166.5h1.1M335.5 164.6h1.1M346.7 165.8h1.1M349.8 166.5h1.1M346.7 164.3h1.1M350.3 165.9h1.1M347.0 166.1h1.1M348.7 163.8h1.1M347.0 164.7h1.1M349.9 166.6h1.1" stroke="#a8f08a" stroke-width="1.1" stroke-opacity="0.72" fill="none"/><path d="M354.7 169.0h1.1M359.7 170.3h1.1M358.2 165.5h1.1M355.0 169.5h1.1M357.1 168.0h1.1M357.5 167.2h1.1M359.5 168.2h1.1M354.3 167.9h1.1M358.3 167.4h1.1M355.2 169.2h1.1M354.9 167.5h1.1M354.5 167.6h1.1M356.5 166.8h1.1M359.5 169.1h1.1M355.4 169.6h1.1M357.0 167.4h1.1M354.1 166.9h1.1M359.3 167.3h1.1M353.9 166.1h1.1M353.8 165.1h1.1M358.8 167.3h1.1M356.7 166.6h1.1M356.1 167.7h1.1M357.5 169.4h1.1M354.3 165.9h1.1M356.2 167.6h1.1M354.7 168.9h1.1M359.3 167.7h1.1M353.7 167.8h1.1M357.2 167.9h1.1M359.1 170.3h1.1M356.5 168.1h1.1M358.9 168.4h1.1M356.9 168.7h1.1M355.1 169.4h1.1M358.4 167.1h1.1M359.8 167.5h1.1M355.7 167.9h1.1M359.8 168.9h1.1M356.0 169.2h1.1M354.4 167.2h1.1M356.3 168.0h1.1M356.3 167.1h1.1M355.7 168.5h1.1M354.6 168.4h1.1M355.1 172.4h1.1M357.8 168.6h1.1M359.6 171.6h1.1M358.5 166.1h1.1M355.4 168.5h1.1M359.5 168.9h1.1M357.4 168.3h1.1M353.7 165.2h1.1M354.6 168.2h1.1M354.9 169.3h1.1M354.0 168.8h1.1M358.8 168.6h1.1M359.7 170.2h1.1M359.3 168.4h1.1M355.7 167.2h1.1M358.9 167.0h1.1M359.5 168.5h1.1M354.7 167.9h1.1M356.8 166.8h1.1M356.6 168.8h1.1M357.3 166.0h1.1M355.6 169.4h1.1M359.3 169.7h1.1M359.3 168.7h1.1M357.6 164.5h1.1M358.7 166.8h1.1M358.2 166.5h1.1M358.5 164.9h1.1M353.7 166.8h1.1M358.0 166.3h1.1M357.9 167.0h1.1M355.8 169.4h1.1M354.9 169.3h1.1M358.5 167.1h1.1M354.0 166.9h1.1M355.1 169.4h1.1M353.7 167.0h1.1M359.0 168.7h1.1M355.6 169.1h1.1M355.3 171.8h1.1M358.2 166.9h1.1M359.1 169.2h1.1M354.3 167.7h1.1M357.7 166.6h1.1M356.6 166.9h1.1M354.9 168.1h1.1M358.8 166.6h1.1M356.5 167.8h1.1M357.1 168.0h1.1M359.2 169.3h1.1M356.4 168.7h1.1M358.4 168.6h1.1M359.3 169.4h1.1M358.7 166.3h1.1" stroke="#1e90ff" stroke-width="1.1" stroke-opacity="0.94" fill="none"/><path d="M357.2 165.4h1.1M359.4 163.3h1.1M359.4 164.1h1.1M357.0 166.2h1.1M354.4 166.2h1.1M359.0 164.0h1.1M354.2 165.2h1.1M354.9 166.1h1.1M354.6 164.1h1.1M356.1 166.0h1.1M355.4 166.1h1.1" stroke="#1e90ff" stroke-width="1.1" stroke-opacity="0.72" fill="none"/><path d="M360.5 169.5h1.1M366.9 166.8h1.1M366.6 168.8h1.1M360.5 168.4h1.1M367.7 167.3h1.1M360.0 168.4h1.1M362.1 168.9h1.1M359.7 170.2h1.1M361.0 168.3h1.1M360.0 169.0h1.1M359.4 170.5h1.1M363.9 168.0h1.1M368.4 168.4h1.1M364.5 170.4h1.1M368.1 168.1h1.1M367.3 166.4h1.1M365.2 169.2h1.1M359.7 170.9h1.1M363.1 166.0h1.1M367.2 165.8h1.1M360.9 167.0h1.1M362.2 167.6h1.1M366.9 166.5h1.1M368.0 167.9h1.1M364.2 171.0h1.1M366.6 167.1h1.1M361.9 167.3h1.1M360.7 168.4h1.1M359.3 169.6h1.1M359.1 168.9h1.1M365.1 168.3h1.1M360.5 167.7h1.1M362.5 165.6h1.1M369.0 167.8h1.1M369.0 169.0h1.1M359.4 168.6h1.1M360.6 168.1h1.1M364.1 168.9h1.1M360.9 168.4h1.1M363.8 169.9h1.1M367.5 167.9h1.1M360.3 169.1h1.1M364.8 170.2h1.1M366.1 168.8h1.1M360.7 167.8h1.1M368.4 168.6h1.1M368.3 168.5h1.1M363.5 167.3h1.1M361.3 167.9h1.1M368.9 167.7h1.1M363.2 166.8h1.1M359.6 169.1h1.1M361.2 168.6h1.1M368.8 169.1h1.1M366.0 166.6h1.1M364.7 168.5h1.1M361.5 167.2h1.1M362.2 168.6h1.1M366.8 166.6h1.1M363.7 167.6h1.1M362.2 167.0h1.1M364.5 170.1h1.1M364.4 170.3h1.1M363.8 167.8h1.1M363.2 166.3h1.1M359.9 169.6h1.1M359.1 170.2h1.1M360.7 168.2h1.1M360.4 167.2h1.1M361.1 168.3h1.1M366.1 168.9h1.1M364.9 168.8h1.1M367.1 165.9h1.1M368.9 169.6h1.1M368.7 168.7h1.1M361.9 166.1h1.1M365.1 166.1h1.1M361.2 168.7h1.1M363.5 167.0h1.1M361.4 168.2h1.1M364.3 168.8h1.1M361.3 168.1h1.1M364.4 168.2h1.1M361.3 169.0h1.1M364.9 167.3h1.1M361.6 168.4h1.1M362.4 165.4h1.1M366.7 166.5h1.1M366.8 166.3h1.1M365.3 168.2h1.1M368.2 169.2h1.1M365.8 169.6h1.1M364.3 169.1h1.1M366.6 167.2h1.1M361.4 167.5h1.1M363.8 167.7h1.1M361.1 166.4h1.1M368.2 168.3h1.1M360.1 170.8h1.1M361.2 168.8h1.1M368.0 169.2h1.1M367.1 165.8h1.1M362.6 166.0h1.1M361.6 168.0h1.1M362.1 165.9h1.1M360.2 167.7h1.1M361.2 169.6h1.1M368.4 168.4h1.1M361.3 165.2h1.1M368.2 167.4h1.1M365.4 167.2h1.1M359.3 170.0h1.1M359.6 170.2h1.1M364.3 169.7h1.1M361.4 168.4h1.1M361.9 167.6h1.1M364.4 167.4h1.1M363.8 169.4h1.1M362.4 164.8h1.1M364.6 169.7h1.1M360.1 168.2h1.1M366.7 166.5h1.1M361.3 168.5h1.1M359.1 167.8h1.1M359.1 168.5h1.1M359.2 168.0h1.1M368.9 167.7h1.1M360.2 170.0h1.1M361.3 166.3h1.1M362.9 165.6h1.1M368.5 166.6h1.1M365.2 168.8h1.1M366.0 169.6h1.1M367.7 165.0h1.1M360.3 168.3h1.1M367.7 165.4h1.1M364.0 168.5h1.1M366.4 167.8h1.1M360.9 167.5h1.1M359.9 169.1h1.1M365.2 169.0h1.1M367.2 169.1h1.1M363.4 166.3h1.1M365.3 168.1h1.1M363.1 168.2h1.1M366.7 169.0h1.1M366.3 166.9h1.1M367.0 166.5h1.1M362.4 164.7h1.1M368.9 168.5h1.1M366.5 167.3h1.1M366.3 167.9h1.1M366.6 167.5h1.1M360.2 169.6h1.1M363.8 168.0h1.1M367.3 167.1h1.1M366.2 168.9h1.1M369.0 167.2h1.1M361.3 168.9h1.1M363.6 167.7h1.1M360.5 168.9h1.1" stroke="#114c9c" stroke-width="1.1" stroke-opacity="0.94" fill="none"/><path d="M369.1 164.1h1.1M361.6 165.2h1.1M364.0 161.8h1.1M365.0 166.4h1.1M360.3 166.4h1.1M366.4 164.9h1.1M367.1 162.4h1.1M367.2 166.6h1.1M359.4 166.5h1.1M367.1 163.4h1.1M362.2 166.5h1.1M362.9 165.2h1.1M367.0 166.4h1.1M363.6 165.2h1.1M363.0 166.1h1.1M368.6 166.0h1.1M363.9 164.3h1.1M367.4 166.1h1.1" stroke="#114c9c" stroke-width="1.1" stroke-opacity="0.72" fill="none"/><path d="M370.2 169.2h1.1M369.2 168.1h1.1M370.3 171.6h1.1M370.5 169.8h1.1M370.0 169.7h1.1M370.5 169.2h1.1M369.8 168.0h1.1M370.3 167.9h1.1M370.5 168.6h1.1M369.1 169.0h1.1M369.6 169.1h1.1M370.0 169.3h1.1M369.4 169.8h1.1M370.0 169.4h1.1M369.4 169.1h1.1M369.7 168.5h1.1M370.2 169.2h1.1M370.2 169.7h1.1M369.6 170.1h1.1M369.8 170.7h1.1M369.5 167.9h1.1M369.9 169.0h1.1M369.9 169.2h1.1M369.3 167.9h1.1" stroke="#2a5be0" stroke-width="1.1" stroke-opacity="0.94" fill="none"/><path d="M369.1 165.3h1.1M369.2 166.5h1.1M332.5 173.6h1.1M336.8 173.8h1.1M333.6 173.7h1.1M335.1 173.6h1.1M332.1 173.7h1.1M340.3 173.9h1.1M337.6 174.0h1.1M334.4 174.0h1.1M335.3 173.7h1.1M339.9 173.8h1.1M334.0 173.8h1.1M335.7 173.9h1.1M335.4 173.9h1.1M338.3 173.9h1.1M339.5 173.8h1.1M337.0 174.0h1.1M333.7 173.9h1.1M340.5 173.9h1.1M333.6 173.9h1.1M332.4 173.9h1.1M332.9 173.9h1.1M336.0 173.8h1.1M336.2 173.3h1.1M338.6 174.0h1.1M332.5 173.8h1.1M340.3 173.3h1.1M335.8 173.9h1.1M332.6 173.9h1.1M333.2 173.9h1.1M334.4 173.7h1.1M333.7 173.8h1.1M337.1 173.0h1.1M332.6 173.7h1.1M333.1 174.0h1.1M340.2 174.0h1.1M334.9 173.7h1.1M333.8 173.5h1.1M339.2 173.7h1.1M335.1 173.6h1.1M332.2 174.0h1.1" stroke="#2a5be0" stroke-width="1.1" stroke-opacity="0.72" fill="none"/><path d="M378.6 169.8h1.1M378.7 169.2h1.1M375.4 167.5h1.1M379.3 169.0h1.1M371.6 166.2h1.1M380.6 167.7h1.1M380.7 166.6h1.1M379.0 169.2h1.1M373.6 166.1h1.1M371.8 167.6h1.1M374.7 169.4h1.1M374.2 170.4h1.1M380.4 168.2h1.1M371.6 166.7h1.1M372.6 167.6h1.1M380.1 167.6h1.1M373.9 168.8h1.1M377.3 166.2h1.1M373.5 167.8h1.1M375.0 168.5h1.1M380.0 169.3h1.1M378.9 167.9h1.1M381.8 165.1h1.1M376.8 167.7h1.1M382.2 165.8h1.1M378.3 167.3h1.1M378.8 169.5h1.1M372.5 169.1h1.1M372.0 168.6h1.1M374.3 170.6h1.1M380.8 167.1h1.1M373.7 168.0h1.1M381.7 167.3h1.1M380.8 168.0h1.1M378.5 165.8h1.1M378.2 167.1h1.1M377.6 167.5h1.1M371.9 167.2h1.1M382.0 165.1h1.1M373.7 168.5h1.1M375.8 166.6h1.1M379.1 170.1h1.1M377.9 166.5h1.1M374.9 169.1h1.1M373.7 167.9h1.1M376.7 167.2h1.1M373.5 167.2h1.1M373.1 168.3h1.1M375.7 167.5h1.1M378.2 165.2h1.1M377.5 167.2h1.1M371.5 167.4h1.1M375.4 167.4h1.1M376.9 166.1h1.1M376.3 167.2h1.1M380.4 168.0h1.1M376.8 167.8h1.1M372.4 168.1h1.1M380.1 167.2h1.1M376.3 167.8h1.1M372.2 167.1h1.1M379.8 168.4h1.1M380.1 165.7h1.1M375.1 167.6h1.1M373.9 167.5h1.1M373.0 169.4h1.1M371.0 167.3h1.1M377.3 165.6h1.1M380.5 169.3h1.1M378.2 169.2h1.1M377.0 166.9h1.1M372.2 168.9h1.1M378.4 168.2h1.1M372.5 167.3h1.1M375.1 168.7h1.1M376.7 167.7h1.1M377.7 165.1h1.1M377.2 166.4h1.1M375.2 168.6h1.1M374.9 169.5h1.1M379.2 170.1h1.1M377.8 168.7h1.1M379.6 168.1h1.1M375.0 169.1h1.1M377.8 167.3h1.1M375.7 167.1h1.1M381.5 166.7h1.1M381.3 165.7h1.1M378.1 167.8h1.1M372.8 169.2h1.1M381.5 166.8h1.1M375.8 166.6h1.1M371.6 166.3h1.1M377.0 165.6h1.1M379.9 166.4h1.1M378.3 168.6h1.1M372.5 167.1h1.1M378.7 168.4h1.1M376.0 167.9h1.1M381.0 170.3h1.1M373.0 166.9h1.1M371.3 167.1h1.1M376.6 168.4h1.1M380.0 168.7h1.1M375.7 167.1h1.1M378.5 168.3h1.1M376.0 166.7h1.1M382.1 165.8h1.1M375.9 167.4h1.1M374.0 168.2h1.1M375.5 167.5h1.1M372.2 167.9h1.1M371.8 167.1h1.1M377.5 167.4h1.1M381.6 166.7h1.1M371.3 167.4h1.1M380.3 168.7h1.1M371.7 167.0h1.1M378.2 168.1h1.1M375.5 165.0h1.1M371.7 164.7h1.1M375.4 167.6h1.1M379.3 168.1h1.1M371.7 166.2h1.1M373.9 168.4h1.1M379.9 168.3h1.1M371.4 167.3h1.1M371.7 166.8h1.1M372.5 168.9h1.1M378.2 166.9h1.1M379.6 170.3h1.1M375.4 166.1h1.1M378.2 167.3h1.1M381.0 168.3h1.1M375.3 168.2h1.1M378.4 170.3h1.1M381.1 167.6h1.1M372.8 166.5h1.1M378.3 167.7h1.1M380.6 168.6h1.1M378.0 169.9h1.1M380.8 167.6h1.1M374.8 170.0h1.1M371.9 165.2h1.1M380.1 167.5h1.1M376.4 168.3h1.1M374.8 168.8h1.1M375.9 168.2h1.1M379.1 167.3h1.1M373.0 167.5h1.1M378.3 169.3h1.1M375.4 166.7h1.1M380.4 166.5h1.1M377.4 168.6h1.1M377.5 166.4h1.1M375.7 166.5h1.1M376.1 167.7h1.1M374.3 169.7h1.1M376.6 166.2h1.1M377.2 166.3h1.1M379.6 166.8h1.1M380.9 169.4h1.1M375.0 169.9h1.1M379.6 167.8h1.1M379.1 169.6h1.1M378.1 168.2h1.1M379.6 167.7h1.1M374.6 168.0h1.1M373.8 168.8h1.1M380.5 168.0h1.1M372.6 166.2h1.1M373.6 166.8h1.1M379.1 169.5h1.1M381.7 164.9h1.1M381.2 166.6h1.1M378.4 169.6h1.1M374.2 169.2h1.1M374.0 167.6h1.1M381.4 164.3h1.1" stroke="#ff4a14" stroke-width="1.1" stroke-opacity="0.94" fill="none"/><path d="M380.6 165.6h1.1M375.5 165.5h1.1M373.8 166.2h1.1M372.5 164.7h1.1M373.5 165.5h1.1M371.5 164.0h1.1M381.8 166.4h1.1M377.2 165.6h1.1M377.3 164.9h1.1M371.3 166.5h1.1M380.9 166.0h1.1M380.3 165.6h1.1M376.8 166.4h1.1M380.7 165.6h1.1M379.7 165.9h1.1M373.4 160.9h1.1M378.9 161.7h1.1M375.5 166.1h1.1M376.3 164.8h1.1M378.2 165.5h1.1M377.8 166.4h1.1" stroke="#ff4a14" stroke-width="1.1" stroke-opacity="0.72" fill="none"/><path d="M378.7 169.8h1.1M378.4 168.5h1.1M377.6 167.1h1.1M376.9 168.3h1.1M378.6 169.8h1.1M379.7 165.1h1.1M379.5 168.2h1.1M378.4 168.4h1.1M378.6 169.6h1.1M377.8 165.7h1.1M379.6 167.2h1.1M377.5 166.8h1.1M378.8 167.8h1.1M377.4 165.9h1.1M379.9 167.9h1.1M379.4 167.7h1.1M377.1 166.4h1.1M378.2 169.0h1.1M377.8 166.4h1.1M378.3 167.6h1.1M377.7 168.3h1.1M378.9 168.8h1.1M379.4 169.3h1.1M379.8 168.8h1.1M378.6 170.6h1.1M378.0 167.5h1.1M379.8 168.8h1.1M378.0 167.2h1.1M379.5 168.1h1.1M378.1 167.1h1.1M379.2 169.0h1.1M378.1 167.6h1.1M379.6 168.3h1.1M379.5 166.7h1.1M377.8 166.5h1.1M377.1 167.2h1.1M379.8 165.9h1.1M379.6 167.8h1.1M379.6 168.8h1.1M378.5 168.5h1.1M376.9 166.6h1.1M378.6 169.9h1.1M379.1 169.9h1.1M377.9 166.2h1.1M377.1 167.0h1.1M378.8 173.3h1.1M379.9 168.0h1.1M377.7 166.8h1.1M378.1 169.6h1.1" stroke="#ff3b30" stroke-width="1.1" stroke-opacity="0.94" fill="none"/><path d="M379.8 163.5h1.1M379.5 165.5h1.1M376.9 166.3h1.1M377.9 163.3h1.1" stroke="#ff3b30" stroke-width="1.1" stroke-opacity="0.72" fill="none"/><path d="M314.6 160.9h1.1M314.6 159.0h1.1M314.8 162.8h1.1M323.1 162.8h1.1M331.2 162.8h1.1M358.3 163.1h1.1" stroke="#5ce6a0" stroke-width="1.1" stroke-opacity="0.72" fill="none"/><path d="M343.6 151.4h1.1M343.8 150.5h1.1M343.4 150.8h1.1" stroke="#ff4ade" stroke-width="1.1" stroke-opacity="0.43" fill="none"/><path d="M387.0 174.0h1.1M384.8 173.9h1.1M382.1 174.0h1.1M386.6 174.0h1.1M390.8 173.7h1.1M386.8 173.9h1.1M385.8 173.4h1.1M389.3 173.8h1.1M380.1 173.9h1.1M383.2 173.7h1.1M379.6 173.6h1.1M382.6 174.0h1.1M384.4 174.0h1.1M389.9 174.0h1.1M384.1 173.9h1.1M390.1 174.0h1.1M385.8 174.0h1.1M378.0 173.9h1.1M383.2 174.0h1.1M378.9 174.0h1.1M387.9 173.5h1.1M388.9 173.8h1.1M382.7 173.7h1.1M380.7 173.8h1.1M389.2 173.4h1.1M386.3 173.6h1.1M387.4 174.0h1.1M386.3 173.7h1.1M377.6 173.9h1.1M389.2 173.8h1.1M384.5 174.0h1.1M384.2 173.8h1.1M391.1 174.0h1.1M382.5 173.4h1.1M380.9 173.9h1.1M387.2 173.9h1.1M381.2 173.4h1.1M385.9 173.7h1.1M383.0 173.8h1.1M385.6 173.9h1.1M380.1 173.9h1.1M381.0 174.0h1.1M382.5 174.0h1.1M384.9 173.4h1.1M385.8 173.6h1.1M388.6 174.0h1.1M379.1 173.8h1.1M385.8 173.8h1.1M391.0 173.8h1.1M384.8 173.8h1.1M379.3 173.7h1.1M384.3 173.4h1.1M378.2 173.8h1.1M378.4 174.0h1.1M388.1 174.0h1.1M378.1 173.6h1.1M389.5 173.4h1.1M385.9 173.7h1.1M386.7 173.9h1.1M387.3 174.0h1.1M357.5 174.0h1.1M358.0 174.0h1.1M357.8 173.7h1.1M359.2 173.5h1.1M359.8 173.4h1.1M357.7 174.0h1.1M357.8 173.4h1.1M359.4 173.8h1.1" stroke="#ff8c1a" stroke-width="1.1" stroke-opacity="0.72" fill="none"/><path d="M382.4 137.7h1.1M383.0 137.0h1.1M382.9 148.4h1.1M381.9 141.0h1.1M382.4 147.3h1.1M382.3 140.9h1.1M383.0 135.0h1.1M381.8 148.6h1.1M382.5 134.5h1.1M382.5 139.5h1.1M384.3 144.1h1.1M385.2 141.2h1.1M383.9 135.5h1.1M384.5 127.6h1.1M383.6 142.9h1.1M384.8 127.1h1.1M384.5 129.9h1.1M384.9 135.4h1.1M385.0 131.4h1.1M383.9 129.7h1.1M386.8 127.1h1.1M386.6 133.5h1.1M387.4 134.5h1.1M386.7 134.0h1.1M387.5 143.1h1.1M386.2 137.1h1.1M386.5 142.2h1.1M386.3 132.3h1.1M385.7 129.3h1.1M386.6 128.5h1.1M389.3 130.0h1.1M388.5 134.7h1.1M388.4 143.9h1.1M388.9 132.9h1.1M388.9 132.0h1.1M388.0 138.7h1.1M387.9 140.4h1.1M387.5 139.5h1.1M388.5 141.8h1.1M388.7 136.6h1.1M389.8 142.1h1.1M390.8 143.3h1.1M390.6 128.9h1.1M390.2 143.2h1.1M389.6 138.0h1.1M391.3 146.5h1.1M390.1 138.9h1.1M389.7 134.0h1.1M390.1 144.6h1.1M390.3 135.4h1.1M393.2 140.3h1.1M392.1 140.5h1.1M391.6 141.9h1.1M392.9 143.2h1.1M393.3 133.7h1.1M392.7 146.2h1.1M393.0 143.2h1.1M392.5 141.6h1.1M391.8 138.2h1.1M392.8 133.3h1.1M394.2 134.2h1.1M394.2 144.3h1.1M394.0 127.9h1.1M394.4 135.0h1.1M394.6 140.0h1.1M394.2 136.6h1.1M393.9 142.2h1.1M393.9 144.1h1.1M394.5 140.0h1.1M394.5 143.9h1.1M396.2 129.6h1.1M396.7 135.3h1.1M396.2 134.5h1.1M396.1 143.0h1.1M396.7 148.9h1.1M395.7 127.7h1.1M396.1 143.1h1.1M395.4 145.9h1.1M395.4 143.8h1.1" stroke="#ffe9a0" stroke-width="1.1" stroke-opacity="0.5" fill="none"/><path d="M382.7 154.3h1.1M381.1 166.6h1.1M384.1 156.3h1.1M381.5 158.7h1.1M383.3 160.5h1.1M382.7 161.9h1.1M383.6 167.9h1.1M383.6 170.1h1.1M382.5 168.5h1.1M384.2 154.3h1.1M381.9 169.2h1.1M381.8 154.4h1.1M383.1 167.3h1.1M382.6 152.1h1.1M382.9 161.1h1.1M383.3 169.3h1.1M383.5 163.3h1.1M382.2 161.0h1.1M383.8 154.4h1.1M382.9 158.7h1.1M383.5 162.6h1.1M383.1 161.2h1.1M383.0 159.8h1.1M382.1 170.2h1.1M384.8 152.8h1.1M383.5 166.8h1.1" stroke="#6b7a3a" stroke-width="1.1" stroke-opacity="0.61" fill="none"/><path d="M384.8 135.4h1.1M386.1 160.9h1.1M386.4 151.9h1.1M385.1 148.5h1.1M386.0 157.3h1.1M385.9 116.6h1.1M385.4 115.3h1.1M385.3 146.3h1.1M385.9 117.6h1.1M386.4 137.3h1.1M386.8 146.8h1.1M385.4 130.9h1.1M386.9 140.6h1.1M385.9 155.0h1.1M385.8 131.0h1.1M386.0 131.3h1.1M386.6 124.3h1.1M386.4 158.0h1.1M385.8 145.6h1.1M385.4 145.2h1.1M385.4 139.0h1.1M385.7 156.8h1.1M385.2 130.4h1.1M386.4 140.3h1.1M385.9 127.6h1.1M387.2 121.3h1.1M385.6 150.8h1.1M386.3 122.5h1.1M385.4 127.0h1.1M385.3 125.0h1.1M385.9 142.8h1.1M385.3 127.2h1.1M386.4 149.7h1.1M385.5 151.4h1.1" stroke="#6b7a3a" stroke-width="1.1" stroke-opacity="0.54" fill="none"/><path d="M385.4 144.1h1.1M383.8 151.7h1.1M384.3 143.1h1.1M384.0 145.4h1.1M384.3 151.4h1.1M383.7 157.2h1.1M384.5 167.3h1.1M385.3 166.4h1.1M385.1 155.3h1.1M384.0 154.7h1.1M384.1 148.3h1.1M384.5 140.9h1.1M385.0 164.2h1.1M384.6 163.6h1.1M385.1 167.8h1.1M384.6 145.8h1.1M384.5 141.7h1.1M384.8 158.9h1.1M384.5 151.8h1.1M385.0 163.5h1.1" stroke="#a6a64a" stroke-width="1.1" stroke-opacity="0.58" fill="none"/><path d="M388.8 140.9h1.1M389.3 136.7h1.1M389.2 140.3h1.1M389.4 133.6h1.1M389.2 135.1h1.1M389.0 141.2h1.1M389.2 141.5h1.1M389.2 142.5h1.1M388.9 139.9h1.1M389.4 128.0h1.1M389.1 138.7h1.1M389.0 133.9h1.1M389.1 127.2h1.1M389.1 139.8h1.1M393.8 170.2h1.1M393.8 150.6h1.1M393.7 148.1h1.1M393.4 158.2h1.1M393.9 159.7h1.1M393.4 159.1h1.1M393.7 163.5h1.1M393.0 134.1h1.1M393.7 144.1h1.1M393.8 149.3h1.1M393.8 165.6h1.1M394.3 144.9h1.1M393.6 147.2h1.1M393.5 153.9h1.1M393.7 158.0h1.1M393.6 151.8h1.1M394.1 162.5h1.1M393.6 133.9h1.1M393.9 166.5h1.1M393.5 153.5h1.1M393.9 167.8h1.1M393.7 136.6h1.1M393.8 138.8h1.1M393.9 157.0h1.1M393.9 136.4h1.1M394.4 168.0h1.1" stroke="#ff8c1a" stroke-width="1.1" stroke-opacity="0.5" fill="none"/><path d="M393.3 131.2h1.1M393.0 128.5h1.1M393.3 162.1h1.1M393.3 144.7h1.1M393.0 152.4h1.1M392.9 156.2h1.1M393.1 143.3h1.1M393.2 143.7h1.1M393.1 135.3h1.1M393.1 131.8h1.1M392.6 129.7h1.1M393.2 137.7h1.1M393.1 155.6h1.1M393.0 143.9h1.1M393.2 134.7h1.1M393.4 157.0h1.1M392.7 161.1h1.1M393.8 146.6h1.1M393.2 161.4h1.1M393.1 152.1h1.1M393.3 141.4h1.1M392.8 159.3h1.1M392.7 145.7h1.1M393.0 147.3h1.1M392.9 163.6h1.1M393.0 148.0h1.1M393.3 157.8h1.1M392.9 161.1h1.1M392.7 135.3h1.1M392.8 162.3h1.1" stroke="#b4a4ff" stroke-width="1.1" stroke-opacity="0.61" fill="none"/><path d="M392.9 170.3h1.1M393.5 166.0h1.1M393.5 163.0h1.1M393.3 168.8h1.1M393.2 163.2h1.1M393.2 167.2h1.1M393.2 159.0h1.1M393.3 166.7h1.1M392.6 165.1h1.1M392.7 168.0h1.1M393.0 165.8h1.1M393.0 168.0h1.1" stroke="#3a6cff" stroke-width="1.1" stroke-opacity="0.58" fill="none"/><path d="M393.3 121.1h1.1M393.2 125.1h1.1M393.1 110.4h1.1M393.4 127.4h1.1M393.3 122.3h1.1M393.8 117.5h1.1M393.5 118.5h1.1M393.4 110.4h1.1M393.4 125.3h1.1M393.0 111.0h1.1M393.5 116.7h1.1M393.2 111.1h1.1M393.2 112.1h1.1M393.3 113.6h1.1M392.9 125.8h1.1M393.2 124.0h1.1M393.2 113.0h1.1M393.3 120.0h1.1" stroke="#ff8c1a" stroke-width="1.1" stroke-opacity="0.58" fill="none"/><path d="M390.3 156.4h1.1M390.9 168.8h1.1M390.1 168.6h1.1M390.0 168.5h1.1M390.5 162.5h1.1M390.8 159.4h1.1M391.2 167.8h1.1M390.8 165.2h1.1M390.8 155.4h1.1M390.4 158.6h1.1M391.7 166.9h1.1M390.3 158.4h1.1" stroke="#1e90ff" stroke-width="1.1" stroke-opacity="0.5" fill="none"/><path d="M395.9 164.8h1.1M396.2 162.2h1.1M396.0 156.4h1.1M396.2 153.3h1.1M395.8 152.7h1.1M396.3 166.0h1.1M395.7 162.1h1.1M396.2 157.7h1.1M396.2 169.7h1.1M396.0 151.1h1.1M396.3 164.0h1.1M395.9 155.2h1.1M396.1 169.8h1.1M396.1 163.8h1.1M396.2 152.3h1.1M396.1 159.2h1.1" stroke="#6b7a3a" stroke-width="1.1" stroke-opacity="0.58" fill="none"/><path d="M387.2 164.1h1.1M387.1 167.0h1.1M387.2 168.1h1.1M387.1 165.7h1.1M386.7 154.9h1.1M386.8 152.3h1.1M387.6 165.5h1.1M387.5 166.3h1.1M387.4 155.9h1.1M386.7 156.4h1.1M386.8 152.5h1.1M386.6 170.6h1.1M387.7 152.3h1.1M386.4 170.5h1.1" stroke="#b8742a" stroke-width="1.1" stroke-opacity="0.5" fill="none"/><path d="M384.6 20.9h1.1M384.6 24.1h1.1M384.9 30.4h1.1M384.9 33.6h1.1M384.6 56.6h1.1M384.6 96.5h1.1" stroke="#a6a64a" stroke-width="1.1" stroke-opacity="0.36" fill="none"/><path d="M434.8 96.5h1.1M433.6 96.8h1.1M431.4 97.6h1.1M431.4 97.8h1.1M435.4 98.8h1.1M432.5 95.2h1.1M434.5 94.1h1.1M431.3 96.1h1.1M431.2 95.5h1.1M430.6 94.9h1.1M430.2 93.2h1.1M426.5 97.2h1.1M427.3 94.2h1.1M427.3 93.2h1.1M432.4 98.7h1.1M431.6 94.9h1.1M427.9 94.8h1.1M428.1 93.8h1.1M435.3 94.1h1.1M427.9 93.6h1.1M434.5 97.1h1.1M428.2 95.7h1.1M428.7 95.3h1.1M428.0 94.1h1.1M435.1 92.5h1.1M429.9 97.1h1.1M429.5 92.7h1.1M432.4 94.5h1.1M427.9 94.6h1.1M436.2 94.1h1.1M430.5 93.3h1.1M432.8 94.8h1.1M435.7 93.8h1.1M426.5 93.4h1.1M429.9 96.2h1.1M430.6 93.4h1.1M433.0 93.4h1.1M434.1 96.6h1.1M435.9 97.7h1.1M428.6 93.4h1.1M434.4 97.0h1.1M435.4 92.4h1.1M433.3 98.5h1.1M431.7 97.9h1.1M427.1 94.9h1.1M429.1 95.1h1.1M433.0 94.8h1.1M426.2 94.3h1.1M428.8 94.3h1.1M431.3 95.6h1.1M430.2 95.3h1.1M429.0 95.0h1.1M432.0 96.7h1.1M433.3 98.0h1.1M435.1 94.7h1.1M433.3 96.0h1.1M433.9 95.9h1.1M433.0 95.4h1.1M431.7 97.7h1.1M426.7 93.4h1.1M428.9 95.4h1.1M429.5 96.7h1.1M431.3 94.4h1.1M435.4 95.1h1.1M427.2 94.3h1.1M432.9 95.9h1.1M433.1 93.8h1.1M428.2 93.9h1.1M435.6 92.1h1.1M430.5 94.8h1.1M433.0 93.5h1.1M435.9 94.8h1.1M433.1 98.8h1.1M434.3 95.1h1.1M432.3 95.3h1.1M434.7 94.7h1.1M435.0 96.3h1.1M435.2 93.3h1.1M430.6 94.0h1.1M428.1 95.4h1.1M434.4 93.5h1.1M428.9 93.1h1.1M431.3 93.0h1.1M431.0 95.3h1.1M436.2 97.0h1.1M435.9 94.2h1.1M435.2 94.0h1.1M434.4 94.3h1.1M433.6 93.5h1.1M433.3 96.0h1.1M429.3 95.8h1.1M434.7 97.9h1.1M426.5 93.3h1.1M426.6 93.5h1.1M429.2 97.9h1.1M432.1 94.0h1.1M426.8 96.0h1.1M431.4 95.0h1.1M430.8 97.3h1.1M433.5 94.8h1.1M432.0 97.2h1.1M435.5 91.8h1.1M433.5 98.0h1.1M426.5 95.6h1.1M428.8 97.3h1.1M429.8 99.8h1.1M436.0 94.7h1.1M428.8 99.4h1.1M436.0 96.9h1.1M429.4 95.3h1.1M429.4 96.9h1.1M434.4 96.8h1.1M428.6 99.8h1.1M435.1 93.8h1.1M428.6 97.7h1.1M434.2 95.3h1.1M435.7 92.6h1.1M427.2 95.8h1.1M426.9 95.0h1.1M429.4 98.4h1.1M426.8 94.5h1.1M428.4 93.0h1.1M426.4 95.7h1.1M430.8 96.8h1.1M435.2 96.8h1.1M433.6 93.9h1.1M435.1 94.7h1.1M435.6 94.2h1.1M430.7 97.2h1.1M426.4 94.4h1.1M429.2 98.8h1.1M426.9 97.1h1.1M428.9 96.6h1.1M434.6 92.2h1.1M431.2 93.1h1.1M432.0 97.8h1.1M429.1 95.0h1.1M435.3 95.0h1.1M430.8 95.5h1.1M428.3 95.6h1.1M435.8 95.4h1.1M432.9 96.5h1.1M430.7 96.0h1.1M431.4 96.1h1.1M426.9 94.9h1.1M434.5 95.0h1.1M435.8 94.3h1.1M429.6 94.9h1.1M430.1 95.1h1.1M429.5 96.8h1.1M435.0 97.0h1.1M427.3 95.4h1.1M428.0 94.6h1.1M427.5 92.5h1.1M431.8 92.4h1.1M431.9 97.6h1.1M432.7 95.1h1.1M432.2 90.9h1.1M431.2 95.8h1.1M433.2 97.9h1.1M436.1 98.1h1.1M431.1 93.0h1.1M429.8 95.2h1.1M429.2 94.1h1.1M427.8 91.9h1.1M427.7 96.7h1.1M432.9 94.8h1.1M429.6 94.4h1.1M427.3 97.1h1.1M432.2 97.3h1.1M429.4 94.1h1.1M426.3 94.4h1.1M426.2 95.3h1.1M430.7 92.8h1.1M429.4 91.9h1.1M431.6 99.0h1.1M435.9 94.0h1.1M427.7 92.6h1.1M429.9 96.5h1.1M430.4 97.1h1.1M431.9 93.6h1.1M436.2 94.1h1.1" stroke="#ffe9a0" stroke-width="1.1" stroke-opacity="0.94" fill="none"/><path d="M428.9 96.9h1.1M427.9 95.7h1.1M427.7 95.5h1.1M428.4 93.8h1.1M426.6 95.3h1.1M431.0 94.6h1.1M428.0 94.0h1.1M427.7 95.5h1.1M432.0 96.6h1.1M427.6 95.2h1.1M433.4 96.1h1.1M433.5 93.6h1.1M434.3 94.2h1.1M431.0 94.6h1.1M430.7 94.5h1.1M428.3 97.7h1.1M433.1 93.6h1.1M431.8 94.6h1.1M433.1 95.8h1.1M430.0 95.3h1.1M433.8 94.6h1.1M429.4 96.6h1.1M432.7 96.3h1.1M430.3 92.9h1.1M428.7 96.0h1.1M427.7 93.8h1.1M433.9 96.1h1.1M426.3 95.2h1.1M430.2 93.1h1.1M430.7 96.5h1.1M428.2 96.3h1.1M433.5 95.2h1.1M434.6 97.5h1.1M426.9 95.6h1.1M433.0 96.4h1.1M432.4 94.4h1.1M431.7 98.2h1.1M432.6 91.8h1.1M433.3 95.8h1.1" stroke="#ffbf66" stroke-width="1.1" stroke-opacity="0.94" fill="none"/><path d="M430.5 90.8h1.1M429.3 99.6h1.1M429.6 92.1h1.1M428.3 96.5h1.1M428.5 92.5h1.1M428.0 93.0h1.1M428.2 94.9h1.1M429.6 96.5h1.1M430.7 96.2h1.1M428.7 96.0h1.1M429.1 96.4h1.1M430.7 92.1h1.1M428.9 94.5h1.1M429.0 94.5h1.1M505.6 76.9h1.1M506.4 70.1h1.1M505.5 88.0h1.1M506.6 93.7h1.1M505.8 93.1h1.1M505.9 91.9h1.1M507.5 82.8h1.1M504.3 95.1h1.1M504.9 68.1h1.1M506.1 79.9h1.1M506.1 78.2h1.1M506.3 87.4h1.1M505.1 77.4h1.1M505.6 75.4h1.1M506.8 86.5h1.1M505.4 85.1h1.1M505.8 71.4h1.1M505.5 94.2h1.1M506.0 102.1h1.1M507.1 104.6h1.1M506.0 114.3h1.1M505.7 96.8h1.1M505.9 102.8h1.1M505.4 108.2h1.1M506.9 95.6h1.1M506.3 106.7h1.1M505.4 102.9h1.1M505.3 111.8h1.1M506.2 96.3h1.1M506.3 108.3h1.1M505.8 99.7h1.1M506.0 117.8h1.1M506.0 110.9h1.1M506.0 101.8h1.1M505.6 99.1h1.1M505.6 99.5h1.1" stroke="#6b7a3a" stroke-width="1.1" stroke-opacity="0.5" fill="none"/><path d="M435.0 96.0h1.1M436.0 95.6h1.1M436.2 94.2h1.1M437.5 96.6h1.1M435.1 95.7h1.1M437.3 95.2h1.1M434.8 96.5h1.1M435.9 95.8h1.1M434.9 95.3h1.1M436.6 95.2h1.1M435.5 96.1h1.1M435.1 93.2h1.1M437.7 95.7h1.1M434.9 92.4h1.1M436.9 94.3h1.1M436.0 93.7h1.1M436.1 95.1h1.1M436.9 95.0h1.1M435.5 93.8h1.1M435.1 95.0h1.1M436.2 96.1h1.1M437.7 96.0h1.1M436.1 96.5h1.1M435.4 94.5h1.1M435.7 95.1h1.1M435.5 94.2h1.1M436.5 94.7h1.1M435.3 94.7h1.1M434.7 95.7h1.1M437.3 95.4h1.1M436.6 95.5h1.1M435.3 95.3h1.1M437.1 95.9h1.1M436.3 94.1h1.1M436.5 95.5h1.1M436.3 95.1h1.1M436.9 94.5h1.1M435.2 94.2h1.1M434.8 95.4h1.1M437.4 95.3h1.1M436.0 96.8h1.1M437.4 95.8h1.1M437.2 94.6h1.1M437.3 97.6h1.1M435.3 96.3h1.1M437.5 94.8h1.1M436.0 95.3h1.1M437.0 97.0h1.1M435.9 93.9h1.1M436.2 95.1h1.1M436.1 95.7h1.1M435.2 95.6h1.1" stroke="#3a6cff" stroke-width="1.1" stroke-opacity="0.94" fill="none"/><path d="M438.0 94.1h1.1M438.1 94.7h1.1M437.8 95.3h1.1M439.2 94.5h1.1M439.0 93.9h1.1M437.7 94.6h1.1M440.2 95.6h1.1M439.0 95.5h1.1M439.0 95.5h1.1M439.1 94.3h1.1M437.5 95.8h1.1M442.0 96.0h1.1M440.1 95.9h1.1M440.4 95.6h1.1M441.5 93.3h1.1M438.6 97.1h1.1M437.3 95.4h1.1M439.7 94.3h1.1M438.7 94.9h1.1M439.6 94.3h1.1M438.9 93.9h1.1M442.0 93.8h1.1M438.0 95.5h1.1M440.3 94.2h1.1M441.5 95.0h1.1M437.6 95.5h1.1M440.4 94.4h1.1M440.3 95.6h1.1M442.1 95.2h1.1M437.4 94.9h1.1M441.5 95.2h1.1M441.2 95.5h1.1M440.9 95.6h1.1M440.9 94.4h1.1M439.3 94.4h1.1M440.1 94.0h1.1M442.1 96.4h1.1M439.8 95.6h1.1M438.4 96.6h1.1M440.2 93.5h1.1M441.4 95.1h1.1M441.8 94.6h1.1M438.4 94.8h1.1M438.1 94.7h1.1M440.9 94.3h1.1M437.3 96.5h1.1M439.3 94.4h1.1M441.3 95.5h1.1M439.3 95.2h1.1M439.6 96.6h1.1M440.2 95.9h1.1M440.9 96.1h1.1M439.1 96.3h1.1M437.6 93.8h1.1M441.0 94.4h1.1M437.5 96.1h1.1M439.0 94.3h1.1M438.8 95.5h1.1M437.3 95.3h1.1M437.5 96.4h1.1M441.8 95.5h1.1M441.9 94.6h1.1M438.8 96.9h1.1M439.4 94.1h1.1M439.4 94.7h1.1M438.8 94.9h1.1M441.7 95.3h1.1M438.2 96.7h1.1M442.3 94.1h1.1M437.9 94.9h1.1M441.5 94.5h1.1M439.4 95.0h1.1M442.3 95.7h1.1M437.8 95.0h1.1M440.0 94.1h1.1M437.2 95.0h1.1M437.0 94.4h1.1M441.9 96.4h1.1M437.9 94.7h1.1M438.6 95.6h1.1M441.6 94.9h1.1M437.0 94.6h1.1M437.1 94.3h1.1M441.1 96.2h1.1M439.7 95.8h1.1M437.5 95.6h1.1M437.2 95.3h1.1M439.5 95.3h1.1M437.9 96.6h1.1M441.9 96.6h1.1M438.5 92.8h1.1M441.3 96.7h1.1M467.4 94.9h1.1M468.7 94.3h1.1M466.2 96.5h1.1M470.7 94.6h1.1M470.4 94.6h1.1M465.8 96.7h1.1M468.6 94.1h1.1M466.0 94.5h1.1M464.5 95.1h1.1M466.0 95.3h1.1M467.4 95.5h1.1M467.8 94.5h1.1M468.1 93.5h1.1M470.0 95.0h1.1M466.3 95.9h1.1M468.7 95.9h1.1M464.6 96.9h1.1M465.9 96.1h1.1M470.0 95.9h1.1M467.6 95.3h1.1M466.1 94.2h1.1M464.9 93.2h1.1M470.1 93.7h1.1M465.0 96.7h1.1M465.6 95.1h1.1M470.0 93.9h1.1M468.4 94.4h1.1M465.7 95.2h1.1M468.2 94.5h1.1M464.2 96.0h1.1M469.5 94.3h1.1M468.4 96.0h1.1M469.7 96.9h1.1M470.1 96.4h1.1M465.1 95.2h1.1M468.3 95.1h1.1M465.0 95.5h1.1M466.0 95.6h1.1M470.5 95.0h1.1M469.4 95.6h1.1M467.6 95.7h1.1M468.1 95.7h1.1M466.8 96.7h1.1M470.9 97.1h1.1M464.3 93.7h1.1M469.8 94.2h1.1M469.1 96.5h1.1M467.7 96.4h1.1M468.6 95.7h1.1M468.5 94.5h1.1M469.5 95.3h1.1M466.4 93.9h1.1M468.8 95.6h1.1M464.8 95.3h1.1M465.2 95.1h1.1M465.7 96.1h1.1M465.4 94.9h1.1M466.2 94.9h1.1M470.2 95.7h1.1M464.8 94.8h1.1M467.6 95.8h1.1M469.0 95.6h1.1M469.2 96.0h1.1M470.3 94.4h1.1M466.7 95.0h1.1M471.0 95.9h1.1M467.7 94.1h1.1M465.0 97.6h1.1M466.2 96.3h1.1M468.4 95.9h1.1M465.9 96.3h1.1M467.1 95.9h1.1M467.9 94.3h1.1M468.0 93.5h1.1M469.7 94.6h1.1M468.8 94.5h1.1M466.0 95.1h1.1M466.4 96.5h1.1M464.6 94.5h1.1M469.5 95.0h1.1M468.7 96.1h1.1M468.1 93.6h1.1M470.4 95.7h1.1M467.8 96.2h1.1M467.3 94.9h1.1M465.2 93.8h1.1M469.7 96.1h1.1M469.8 95.6h1.1M465.7 95.9h1.1M466.4 95.2h1.1M466.4 95.7h1.1M467.0 95.8h1.1M471.0 94.6h1.1M468.7 94.6h1.1M469.6 95.2h1.1M466.7 93.4h1.1M466.5 95.5h1.1M467.7 95.1h1.1M466.1 95.3h1.1M470.7 95.6h1.1M465.1 97.2h1.1M471.0 96.2h1.1M465.6 94.7h1.1M466.0 94.3h1.1M470.6 94.5h1.1M470.2 94.6h1.1M467.9 93.7h1.1M468.3 95.2h1.1M470.1 94.4h1.1M470.3 96.7h1.1M467.1 94.4h1.1M470.1 95.1h1.1M465.6 94.1h1.1M470.0 94.4h1.1M466.7 94.1h1.1M465.7 94.4h1.1M469.7 94.6h1.1M465.1 96.1h1.1" stroke="#ff9ab4" stroke-width="1.1" stroke-opacity="0.94" fill="none"/><path d="M440.9 95.5h1.1M441.0 94.7h1.1M443.3 95.4h1.1M441.1 95.2h1.1M442.8 94.4h1.1M442.2 95.5h1.1M445.5 96.8h1.1M444.1 93.8h1.1M444.6 95.6h1.1M444.5 95.0h1.1M440.9 96.6h1.1M444.6 94.9h1.1M442.3 93.3h1.1M443.9 95.0h1.1M441.8 94.6h1.1M445.1 95.9h1.1M445.3 94.4h1.1M444.5 95.9h1.1M445.1 96.0h1.1M444.7 95.9h1.1M444.0 95.4h1.1M442.1 95.2h1.1M442.1 96.1h1.1M441.4 94.7h1.1M442.4 93.5h1.1M442.8 93.4h1.1M444.1 95.3h1.1M443.8 96.0h1.1M441.6 94.9h1.1M443.7 95.2h1.1M442.7 95.9h1.1M440.9 94.1h1.1M441.4 96.4h1.1M443.8 95.7h1.1M441.4 93.5h1.1M444.5 95.7h1.1M442.9 95.7h1.1M442.0 95.5h1.1M442.9 95.7h1.1M445.3 95.6h1.1M444.9 93.7h1.1M444.7 95.5h1.1M441.7 94.5h1.1M443.4 96.4h1.1M445.3 95.6h1.1M442.5 95.1h1.1M442.0 92.1h1.1M444.9 94.6h1.1M440.9 94.9h1.1M442.8 96.8h1.1M444.6 93.7h1.1M443.1 95.4h1.1M443.8 95.5h1.1M442.2 94.8h1.1M441.4 93.6h1.1M444.7 95.4h1.1M441.6 96.7h1.1M445.0 95.1h1.1M445.3 95.5h1.1M442.3 94.7h1.1M441.9 95.9h1.1M443.2 95.8h1.1M443.9 93.7h1.1M442.9 95.6h1.1M441.6 95.6h1.1M444.5 94.4h1.1M445.3 95.6h1.1M444.7 95.9h1.1M444.3 95.1h1.1M444.2 95.6h1.1M443.0 94.5h1.1M445.4 93.7h1.1M441.8 95.5h1.1M442.3 95.4h1.1M445.3 95.3h1.1M445.0 95.9h1.1M444.3 95.5h1.1M442.4 95.0h1.1M444.0 94.4h1.1" stroke="#106a6a" stroke-width="1.1" stroke-opacity="0.94" fill="none"/><path d="M448.0 95.3h1.1M448.4 95.4h1.1M448.1 95.4h1.1M445.0 93.9h1.1M445.7 95.4h1.1M446.5 94.9h1.1M448.7 93.4h1.1M447.8 94.2h1.1M447.1 94.3h1.1M448.7 94.9h1.1M445.2 94.6h1.1M446.7 94.6h1.1M447.4 95.3h1.1M447.3 94.5h1.1M449.1 95.5h1.1M449.2 93.0h1.1M445.3 95.6h1.1M448.9 94.4h1.1M445.5 95.0h1.1M448.9 95.1h1.1M446.2 96.3h1.1M446.2 95.2h1.1M447.6 95.6h1.1M445.0 97.2h1.1M448.4 94.8h1.1M444.8 94.6h1.1M446.8 94.0h1.1M446.8 95.3h1.1M448.4 94.2h1.1M446.2 96.3h1.1M448.0 96.1h1.1M447.0 94.4h1.1M445.5 95.1h1.1M448.2 92.9h1.1M446.1 96.1h1.1M445.8 95.1h1.1M445.5 96.8h1.1M445.7 94.5h1.1M447.6 94.8h1.1M449.1 95.2h1.1M446.1 96.2h1.1M447.1 94.1h1.1M445.8 95.8h1.1M448.1 95.4h1.1M447.2 95.7h1.1M445.8 96.9h1.1M445.8 94.4h1.1M447.5 95.6h1.1M448.3 95.1h1.1M445.0 93.3h1.1M446.3 94.7h1.1M446.4 96.2h1.1M445.3 95.5h1.1M446.5 95.0h1.1M449.1 96.6h1.1M447.9 96.2h1.1M446.3 94.7h1.1M445.9 97.3h1.1M446.6 94.3h1.1M445.4 95.4h1.1M447.6 95.5h1.1M445.5 94.4h1.1M447.8 95.8h1.1M447.6 96.0h1.1M444.8 95.5h1.1M448.0 94.3h1.1M448.3 95.1h1.1M448.2 94.2h1.1M446.2 96.1h1.1M445.7 95.6h1.1M445.1 94.8h1.1M445.3 92.2h1.1M447.2 95.6h1.1M446.8 93.8h1.1M448.0 96.7h1.1M446.6 96.0h1.1M447.1 95.6h1.1M446.9 95.3h1.1M445.3 95.4h1.1M474.1 95.5h1.1M475.2 95.2h1.1M474.1 95.8h1.1M472.1 95.2h1.1M475.7 94.3h1.1M475.0 96.3h1.1M472.9 97.3h1.1M474.0 94.0h1.1M475.8 94.1h1.1M475.1 95.3h1.1M474.6 94.7h1.1M476.2 95.0h1.1M474.8 95.7h1.1M475.9 93.4h1.1M472.0 96.4h1.1M474.1 93.4h1.1M473.0 95.4h1.1M472.8 96.6h1.1M475.2 93.3h1.1M474.6 95.6h1.1M473.4 96.0h1.1M474.9 94.5h1.1M472.3 94.8h1.1M473.0 95.6h1.1M474.8 93.1h1.1M472.3 95.5h1.1M475.8 93.5h1.1M475.7 94.6h1.1M476.0 93.8h1.1M474.8 95.4h1.1M474.5 95.6h1.1M472.5 94.0h1.1M473.4 95.6h1.1M473.0 95.4h1.1M472.2 96.2h1.1M474.2 96.8h1.1M475.9 96.2h1.1M472.1 95.7h1.1M472.9 96.8h1.1M473.7 96.5h1.1M474.1 95.0h1.1M475.5 95.3h1.1M473.9 94.9h1.1M473.6 94.8h1.1M473.1 95.9h1.1M475.6 95.1h1.1M476.1 95.1h1.1M476.4 95.3h1.1M473.8 96.3h1.1M473.7 95.9h1.1M475.3 94.1h1.1M476.1 94.5h1.1M475.7 93.9h1.1M475.8 94.6h1.1M472.3 95.2h1.1M473.7 95.9h1.1M474.3 96.5h1.1M475.9 96.0h1.1M476.2 96.5h1.1M472.3 96.2h1.1M474.1 96.0h1.1M474.2 95.3h1.1M472.1 94.8h1.1M472.3 95.0h1.1M475.1 95.0h1.1M475.0 95.6h1.1M475.2 95.9h1.1M471.9 96.1h1.1M475.4 94.3h1.1M473.3 94.1h1.1M474.8 94.7h1.1M471.8 93.4h1.1M472.3 94.0h1.1M474.3 94.2h1.1M476.4 94.3h1.1M473.3 95.9h1.1M472.8 94.4h1.1M475.6 95.3h1.1M475.1 95.9h1.1" stroke="#5fdc3c" stroke-width="1.1" stroke-opacity="0.94" fill="none"/><path d="M448.9 94.9h1.1M447.3 96.8h1.1M448.7 94.1h1.1M450.2 93.3h1.1M449.2 96.5h1.1M448.3 94.8h1.1M449.1 94.9h1.1M452.8 95.2h1.1M448.4 95.3h1.1M452.3 95.9h1.1M454.3 94.4h1.1M451.7 94.4h1.1M450.7 96.3h1.1M447.1 94.4h1.1M454.5 95.3h1.1M449.3 94.5h1.1M452.5 94.2h1.1M448.8 94.2h1.1M452.5 95.3h1.1M452.8 94.6h1.1M449.1 96.8h1.1M452.4 95.7h1.1M452.3 96.2h1.1M449.7 95.9h1.1M450.9 92.3h1.1M448.0 94.8h1.1M451.1 92.8h1.1M447.2 94.4h1.1M450.3 95.0h1.1M450.2 93.4h1.1M447.5 93.6h1.1M450.4 95.5h1.1M453.5 95.6h1.1M447.0 95.9h1.1M448.4 97.5h1.1M448.2 93.3h1.1M450.2 96.1h1.1M447.6 95.7h1.1M450.2 95.9h1.1M448.0 94.4h1.1M452.2 96.3h1.1M454.0 95.7h1.1M453.3 94.0h1.1M447.8 96.6h1.1M449.5 94.6h1.1M450.8 94.8h1.1M454.2 97.3h1.1M454.1 96.3h1.1M452.2 96.6h1.1M452.1 94.3h1.1M449.7 95.0h1.1M452.2 96.3h1.1M447.3 95.7h1.1M453.3 94.8h1.1M454.6 96.6h1.1M452.2 94.4h1.1M452.2 95.6h1.1M447.5 95.3h1.1M451.4 95.6h1.1M450.3 95.5h1.1M452.4 93.4h1.1M451.6 93.7h1.1M451.4 96.1h1.1M449.3 94.0h1.1M453.5 95.7h1.1M447.0 94.1h1.1M447.6 96.8h1.1M454.2 95.7h1.1M451.4 94.5h1.1M447.0 94.9h1.1M451.8 95.0h1.1M448.5 95.6h1.1M451.0 95.9h1.1M448.3 95.9h1.1M454.3 94.0h1.1M452.0 94.2h1.1M453.8 94.6h1.1M450.0 96.6h1.1M448.8 96.4h1.1M447.2 95.3h1.1M453.2 96.2h1.1M447.5 95.6h1.1M448.4 94.1h1.1M452.1 94.4h1.1M454.4 94.8h1.1M453.7 95.0h1.1M452.1 95.0h1.1M449.9 95.3h1.1M451.7 95.4h1.1M447.8 93.9h1.1M452.7 96.8h1.1M453.9 95.4h1.1M453.0 96.3h1.1M449.0 95.0h1.1M450.3 95.6h1.1M453.8 94.9h1.1M449.0 97.2h1.1M448.3 94.9h1.1M452.3 95.3h1.1M454.3 95.3h1.1M449.5 94.1h1.1M447.5 97.4h1.1M450.3 95.3h1.1M450.6 96.4h1.1M450.1 96.6h1.1M450.6 93.2h1.1M451.3 96.1h1.1M447.8 95.0h1.1M449.3 94.6h1.1M452.5 93.6h1.1M453.5 95.7h1.1M452.3 95.9h1.1M451.5 95.4h1.1M448.9 95.4h1.1M453.8 96.1h1.1M450.1 96.2h1.1M453.5 95.2h1.1M453.2 95.7h1.1M447.7 94.8h1.1M451.4 96.6h1.1M454.8 95.0h1.1M452.4 94.6h1.1M448.6 94.6h1.1M451.9 95.3h1.1M448.4 94.5h1.1M450.5 96.1h1.1M447.6 94.0h1.1M452.0 94.8h1.1M452.1 95.2h1.1M448.6 96.3h1.1M448.1 96.0h1.1M449.9 96.2h1.1M469.7 94.5h1.1M472.4 95.1h1.1M470.9 95.7h1.1M471.5 94.2h1.1M470.8 96.2h1.1M472.5 95.6h1.1M472.5 95.7h1.1M471.8 93.4h1.1M470.3 94.6h1.1M470.3 95.6h1.1M471.1 96.9h1.1M472.9 96.2h1.1M471.4 95.4h1.1M470.8 96.9h1.1M470.6 93.1h1.1M470.4 94.4h1.1M471.7 93.2h1.1M469.5 95.5h1.1M472.9 97.0h1.1M472.5 97.2h1.1M472.9 95.7h1.1M470.3 93.5h1.1M469.9 95.2h1.1M469.6 94.7h1.1M469.8 95.3h1.1M472.7 93.6h1.1M470.8 95.2h1.1M469.9 94.5h1.1M472.3 94.0h1.1M472.8 95.1h1.1M469.8 94.7h1.1M471.9 96.3h1.1M472.4 95.3h1.1M473.3 95.7h1.1M472.0 95.0h1.1M471.0 92.4h1.1M472.1 96.1h1.1M470.9 94.2h1.1M469.5 93.8h1.1M472.9 96.2h1.1M470.5 95.3h1.1M473.0 95.5h1.1M471.7 94.1h1.1M470.4 96.1h1.1M473.3 95.3h1.1M471.0 94.5h1.1M471.3 94.6h1.1M473.1 95.6h1.1M470.1 93.0h1.1M472.3 95.0h1.1M472.9 96.5h1.1M471.7 94.3h1.1M473.0 97.0h1.1M472.7 95.3h1.1M471.5 95.6h1.1M469.7 96.5h1.1M469.6 96.2h1.1M471.2 94.8h1.1M471.7 97.2h1.1M472.4 96.3h1.1M472.9 94.6h1.1M470.8 94.1h1.1M472.5 94.8h1.1M471.1 96.1h1.1M469.7 95.0h1.1M469.7 95.8h1.1" stroke="#a4ec2a" stroke-width="1.1" stroke-opacity="0.94" fill="none"/><path d="M453.5 95.0h1.1M458.4 94.4h1.1M454.8 94.7h1.1M452.3 95.4h1.1M453.9 93.6h1.1M457.5 95.3h1.1M457.8 95.4h1.1M457.8 94.9h1.1M453.8 95.9h1.1M458.3 94.6h1.1M458.6 95.8h1.1M452.4 94.8h1.1M453.5 95.8h1.1M453.9 94.4h1.1M458.1 93.8h1.1M456.1 94.7h1.1M452.6 96.7h1.1M457.8 95.8h1.1M457.6 94.2h1.1M452.8 94.6h1.1M453.9 94.7h1.1M456.6 95.0h1.1M457.7 95.3h1.1M456.3 94.4h1.1M457.6 94.8h1.1M458.3 95.3h1.1M458.1 94.5h1.1M454.1 95.9h1.1M455.2 94.6h1.1M457.1 94.6h1.1M454.4 93.8h1.1M454.3 95.4h1.1M455.4 94.6h1.1M457.5 95.4h1.1M455.4 96.4h1.1M458.2 94.1h1.1M452.0 95.2h1.1M456.2 96.7h1.1M457.9 94.7h1.1M457.1 94.5h1.1M458.6 95.0h1.1M457.1 95.7h1.1M457.8 96.0h1.1M456.1 94.5h1.1M455.2 94.0h1.1M452.5 94.2h1.1M455.0 95.2h1.1M454.8 95.0h1.1M452.5 95.1h1.1M454.8 94.5h1.1M456.8 95.3h1.1M457.6 95.7h1.1M454.8 96.4h1.1M457.3 95.5h1.1M453.9 94.6h1.1M454.4 94.3h1.1M455.2 95.8h1.1M455.0 95.9h1.1M452.5 95.0h1.1M457.1 96.5h1.1M456.4 95.1h1.1M457.4 95.1h1.1M452.5 96.7h1.1M452.6 93.2h1.1M453.4 95.6h1.1M452.8 97.1h1.1M452.8 96.8h1.1M453.0 94.5h1.1M452.4 94.9h1.1M455.0 92.4h1.1M453.3 95.0h1.1M451.7 95.5h1.1M455.0 94.8h1.1M453.7 94.9h1.1M453.0 97.6h1.1M457.4 95.3h1.1M456.0 94.4h1.1M452.1 94.6h1.1M457.4 97.7h1.1M452.6 97.1h1.1M457.3 94.6h1.1M452.2 95.4h1.1M456.6 95.0h1.1M458.0 96.8h1.1M455.5 95.3h1.1M453.9 94.0h1.1M455.6 95.1h1.1M456.2 95.2h1.1M456.3 93.9h1.1M457.8 96.1h1.1M454.5 95.5h1.1M457.0 95.7h1.1M455.7 95.4h1.1M456.6 95.4h1.1M457.7 96.5h1.1M452.8 93.5h1.1M452.9 94.6h1.1M458.6 94.7h1.1M452.0 94.9h1.1M451.8 94.9h1.1M453.7 94.9h1.1M454.8 96.0h1.1M455.3 94.2h1.1M457.7 95.5h1.1M458.0 95.7h1.1M457.3 95.2h1.1M454.1 95.7h1.1M453.5 94.1h1.1M455.7 95.4h1.1M453.5 95.7h1.1M454.6 97.1h1.1M454.7 94.8h1.1M454.3 95.3h1.1M452.3 94.6h1.1M455.1 94.7h1.1M453.7 94.5h1.1M454.1 94.3h1.1M453.7 94.3h1.1M462.3 94.5h1.1M462.2 96.6h1.1M460.7 94.4h1.1M463.7 95.3h1.1M465.4 94.7h1.1M464.8 95.2h1.1M460.2 94.8h1.1M465.0 94.9h1.1M461.7 95.0h1.1M460.8 95.4h1.1M465.2 94.3h1.1M460.6 95.1h1.1M465.0 94.4h1.1M463.9 95.5h1.1M460.6 96.4h1.1M461.0 94.3h1.1M462.9 95.4h1.1M461.9 96.0h1.1M460.4 93.5h1.1M464.8 94.0h1.1M463.3 96.6h1.1M465.1 95.2h1.1M463.6 94.4h1.1M463.9 95.1h1.1M465.5 94.9h1.1M461.0 94.2h1.1M464.1 95.2h1.1M461.7 93.7h1.1M461.5 94.6h1.1M463.9 95.1h1.1M463.2 94.8h1.1M465.5 96.0h1.1M461.2 94.8h1.1M460.9 95.2h1.1M460.5 95.7h1.1M462.1 95.4h1.1M463.9 95.0h1.1M463.2 93.6h1.1M463.6 95.3h1.1M464.4 95.8h1.1M462.3 96.7h1.1M463.7 93.3h1.1M464.0 95.5h1.1M460.9 94.0h1.1M465.5 95.3h1.1M464.5 94.9h1.1M461.5 95.9h1.1M460.2 92.7h1.1M464.9 94.2h1.1M463.2 96.2h1.1M461.5 96.1h1.1M461.6 95.3h1.1M462.1 96.5h1.1M461.0 95.1h1.1M465.6 94.6h1.1M460.3 95.0h1.1M463.0 95.4h1.1M464.9 95.2h1.1M461.1 93.8h1.1M464.8 96.4h1.1M462.5 93.8h1.1M461.1 97.3h1.1M460.5 94.9h1.1M462.9 96.3h1.1M460.4 96.5h1.1M461.4 94.6h1.1M461.2 93.6h1.1M465.5 95.3h1.1M460.9 96.0h1.1M461.1 95.2h1.1M462.0 94.8h1.1M464.9 95.2h1.1M462.7 95.0h1.1M462.7 96.5h1.1M464.8 96.2h1.1M462.0 96.0h1.1M463.0 94.0h1.1M462.3 94.9h1.1M464.8 94.8h1.1M462.0 95.9h1.1M464.0 94.5h1.1M464.3 96.1h1.1M463.2 96.6h1.1M465.6 94.7h1.1M462.7 93.6h1.1M462.0 95.9h1.1M461.2 96.2h1.1M462.6 93.5h1.1M464.8 96.1h1.1M463.1 94.2h1.1M464.7 95.1h1.1M463.3 96.2h1.1" stroke="#ffe92e" stroke-width="1.1" stroke-opacity="0.94" fill="none"/><path d="M460.1 95.3h1.1M459.9 93.9h1.1M456.7 95.2h1.1M460.4 94.5h1.1M461.0 96.9h1.1M457.7 96.0h1.1M461.5 94.4h1.1M456.9 94.7h1.1M458.1 95.1h1.1M459.7 95.4h1.1M458.7 94.1h1.1M456.3 95.6h1.1M458.3 94.6h1.1M457.7 96.4h1.1M460.1 94.1h1.1M461.7 94.4h1.1M460.7 95.9h1.1M456.8 95.7h1.1M458.9 95.0h1.1M459.3 96.1h1.1M459.1 95.3h1.1M461.3 94.5h1.1M456.5 95.9h1.1M460.2 94.7h1.1M457.3 95.5h1.1M456.8 96.1h1.1M457.7 94.9h1.1M460.8 94.3h1.1M457.8 93.9h1.1M456.9 95.2h1.1M457.5 96.0h1.1M460.5 95.0h1.1M457.9 97.1h1.1M461.2 95.3h1.1M457.8 93.9h1.1M456.0 95.3h1.1M459.4 94.8h1.1M456.5 95.6h1.1M456.4 96.3h1.1M459.1 95.5h1.1M460.2 94.9h1.1M457.6 94.4h1.1M457.7 96.6h1.1M461.3 93.9h1.1M458.9 95.3h1.1M457.7 96.8h1.1M459.9 95.7h1.1M461.1 95.2h1.1M460.5 96.2h1.1M456.5 96.2h1.1M458.8 94.4h1.1M456.9 95.2h1.1M457.5 93.6h1.1M460.8 93.4h1.1M458.1 96.4h1.1M455.7 95.7h1.1M456.9 93.3h1.1M456.6 95.8h1.1M461.0 94.2h1.1M455.6 96.1h1.1M456.0 96.3h1.1M461.4 97.4h1.1M456.0 94.9h1.1M459.4 95.1h1.1M459.1 96.5h1.1M460.7 96.9h1.1M457.3 95.4h1.1M461.7 96.1h1.1M457.7 96.2h1.1M461.7 95.3h1.1M456.9 93.9h1.1M456.9 95.6h1.1M458.0 94.8h1.1M459.6 94.4h1.1M457.3 96.1h1.1M458.0 95.3h1.1M461.0 94.9h1.1M460.3 95.0h1.1M460.8 94.7h1.1M460.9 94.0h1.1M459.4 94.4h1.1M461.0 95.4h1.1M459.7 94.7h1.1M461.3 95.8h1.1M458.5 93.8h1.1M461.1 94.4h1.1M459.0 94.5h1.1M459.7 92.6h1.1M461.5 94.0h1.1M456.1 95.2h1.1M455.7 94.9h1.1M460.1 95.7h1.1M459.8 94.4h1.1M458.2 92.9h1.1M456.9 96.2h1.1M456.0 94.1h1.1M461.0 94.7h1.1M459.3 94.5h1.1M460.0 95.8h1.1M455.9 94.8h1.1M456.8 95.0h1.1M455.9 95.8h1.1M456.8 95.2h1.1M459.7 94.5h1.1M459.4 94.2h1.1" stroke="#a8f08a" stroke-width="1.1" stroke-opacity="0.94" fill="none"/><path d="M479.1 94.8h1.1M475.6 95.4h1.1M479.4 95.3h1.1M476.7 95.3h1.1M480.2 95.6h1.1M478.3 95.9h1.1M481.1 94.8h1.1M476.6 94.1h1.1M480.8 94.4h1.1M477.6 96.5h1.1M481.6 96.0h1.1M481.8 94.7h1.1M475.1 94.9h1.1M480.8 96.3h1.1M477.1 94.5h1.1M476.0 95.5h1.1M475.5 96.9h1.1M478.2 95.0h1.1M481.7 96.1h1.1M476.9 94.6h1.1M481.3 94.4h1.1M481.0 94.6h1.1M476.5 95.4h1.1M481.3 96.6h1.1M481.4 97.3h1.1M479.8 95.6h1.1M476.7 95.0h1.1M475.5 95.8h1.1M477.6 96.5h1.1M476.9 95.3h1.1M477.0 94.8h1.1M480.8 94.6h1.1M479.9 97.5h1.1M481.1 94.3h1.1M476.5 95.8h1.1M481.4 94.5h1.1M481.2 96.3h1.1M477.5 95.0h1.1M480.9 95.4h1.1M477.7 94.9h1.1M476.1 92.5h1.1M475.1 94.7h1.1M480.8 93.8h1.1M480.3 94.8h1.1M476.3 94.9h1.1M478.3 96.7h1.1M481.3 96.3h1.1M475.4 95.9h1.1M476.0 95.7h1.1M476.0 94.4h1.1M475.7 94.1h1.1M480.7 95.2h1.1M480.7 95.2h1.1M481.7 95.4h1.1M477.9 95.7h1.1M476.6 95.5h1.1M476.4 94.7h1.1M479.4 95.1h1.1M479.0 95.5h1.1M476.3 94.2h1.1M475.6 95.0h1.1M477.4 93.9h1.1M481.4 97.8h1.1M477.4 94.6h1.1M480.1 95.1h1.1M476.8 95.0h1.1M478.8 94.5h1.1M478.9 95.5h1.1M477.4 94.0h1.1M475.7 95.2h1.1M476.5 94.2h1.1M481.6 94.0h1.1M479.8 96.3h1.1M476.5 96.1h1.1M481.1 94.4h1.1M481.5 96.5h1.1M478.3 94.1h1.1M481.2 96.1h1.1M481.9 95.1h1.1M476.0 95.0h1.1M476.5 96.7h1.1M477.4 94.4h1.1M477.3 94.0h1.1M475.1 95.3h1.1M477.0 95.3h1.1M477.2 95.3h1.1M481.8 94.3h1.1M474.9 94.9h1.1M477.9 95.6h1.1M478.5 95.9h1.1M481.4 96.8h1.1M479.8 93.9h1.1M475.8 96.5h1.1M475.6 95.9h1.1M476.0 94.8h1.1M479.2 96.6h1.1M475.6 96.5h1.1M476.6 95.7h1.1M475.9 95.8h1.1M481.2 93.8h1.1M478.1 94.3h1.1M479.6 95.2h1.1M475.4 94.4h1.1M480.6 95.3h1.1M475.6 95.8h1.1M477.6 95.3h1.1M480.4 94.0h1.1M479.2 95.6h1.1M479.5 96.4h1.1M480.4 95.0h1.1M475.5 95.1h1.1M478.2 96.9h1.1M478.7 93.9h1.1M475.1 95.2h1.1M476.0 96.2h1.1M479.9 96.0h1.1M475.0 96.2h1.1M475.1 94.4h1.1" stroke="#1e90ff" stroke-width="1.1" stroke-opacity="0.94" fill="none"/><path d="M484.9 94.2h1.1M488.2 96.5h1.1M485.1 95.2h1.1M488.4 96.4h1.1M481.7 95.5h1.1M490.4 95.6h1.1M483.3 95.1h1.1M486.9 94.1h1.1M484.6 95.8h1.1M488.3 93.9h1.1M484.7 95.4h1.1M490.1 94.9h1.1M482.6 96.8h1.1M490.8 95.5h1.1M481.7 94.9h1.1M490.7 96.1h1.1M482.6 95.0h1.1M485.8 94.9h1.1M490.9 94.8h1.1M481.7 96.0h1.1M484.7 94.7h1.1M488.6 94.0h1.1M486.9 96.2h1.1M487.0 94.9h1.1M483.6 94.8h1.1M481.3 96.3h1.1M491.8 95.9h1.1M481.2 95.7h1.1M481.6 95.0h1.1M482.8 95.6h1.1M486.4 94.1h1.1M481.8 94.5h1.1M485.7 95.8h1.1M482.3 96.9h1.1M488.8 95.7h1.1M490.6 94.3h1.1M489.1 95.6h1.1M486.8 95.0h1.1M488.9 95.8h1.1M488.8 95.4h1.1M490.5 96.5h1.1M488.7 94.1h1.1M483.4 93.6h1.1M486.6 94.5h1.1M488.9 94.5h1.1M485.6 95.4h1.1M482.1 95.9h1.1M483.1 95.1h1.1M490.1 94.6h1.1M484.0 94.8h1.1M481.5 97.3h1.1M482.5 95.3h1.1M483.9 97.0h1.1M484.7 95.8h1.1M489.2 95.9h1.1M488.4 96.8h1.1M484.6 95.1h1.1M488.5 93.5h1.1M483.4 94.9h1.1M489.0 95.1h1.1M487.4 96.6h1.1M484.9 95.3h1.1M482.8 94.2h1.1M483.9 95.6h1.1M485.8 94.4h1.1M489.9 94.4h1.1M490.3 95.9h1.1M488.2 95.7h1.1M484.5 95.2h1.1M482.9 94.4h1.1M487.0 94.7h1.1M482.3 94.3h1.1M482.0 95.3h1.1M489.3 95.0h1.1M483.1 94.2h1.1M489.3 94.7h1.1M491.4 95.5h1.1M490.8 94.3h1.1M485.9 94.0h1.1M486.7 96.0h1.1M485.0 96.3h1.1M485.8 94.5h1.1M488.8 96.5h1.1M482.2 95.1h1.1M484.0 95.0h1.1M488.2 96.0h1.1M488.6 95.2h1.1M481.2 96.1h1.1M485.4 94.4h1.1M481.1 96.1h1.1M482.6 96.4h1.1M482.6 95.3h1.1M482.2 95.6h1.1M491.5 95.1h1.1M489.3 95.6h1.1M485.6 96.3h1.1M486.7 94.9h1.1M487.7 96.2h1.1M486.2 95.2h1.1M487.4 95.4h1.1M490.0 94.9h1.1M482.0 95.7h1.1M486.9 93.9h1.1M485.2 95.4h1.1M488.9 94.9h1.1M487.9 94.9h1.1M491.5 94.9h1.1M490.7 95.5h1.1M490.5 95.7h1.1M486.5 95.4h1.1M483.2 94.5h1.1M482.1 95.4h1.1M489.9 95.0h1.1M482.2 96.1h1.1M482.1 96.2h1.1M481.7 96.4h1.1M484.2 95.5h1.1M486.5 95.1h1.1M487.9 95.4h1.1M489.1 95.0h1.1M485.6 96.0h1.1M483.0 95.9h1.1M482.8 94.2h1.1M489.0 95.3h1.1M484.7 96.0h1.1M489.8 94.7h1.1M490.2 95.7h1.1M488.0 94.5h1.1M482.7 96.5h1.1M486.1 95.7h1.1M487.3 96.0h1.1M481.8 94.6h1.1M483.0 94.8h1.1M484.4 94.1h1.1M481.3 94.3h1.1M487.0 94.9h1.1M483.2 96.0h1.1M484.8 94.7h1.1M485.0 94.8h1.1M486.2 96.1h1.1M488.5 95.9h1.1M489.3 95.5h1.1M482.8 96.3h1.1M483.1 94.2h1.1M484.7 93.5h1.1M484.7 94.6h1.1M488.4 94.4h1.1M484.4 94.5h1.1M491.5 94.4h1.1M488.6 95.8h1.1M484.7 95.5h1.1M488.5 93.3h1.1M489.8 95.4h1.1M482.7 94.2h1.1M490.5 97.1h1.1M483.0 95.6h1.1M488.8 95.8h1.1M481.8 94.7h1.1M481.7 95.2h1.1M482.5 94.3h1.1M482.2 96.4h1.1M491.9 94.1h1.1M490.6 95.3h1.1M489.6 95.5h1.1M488.5 94.5h1.1M488.9 94.6h1.1M483.3 96.5h1.1M491.1 95.1h1.1M486.5 95.7h1.1M483.6 93.6h1.1M485.2 94.2h1.1M490.1 96.4h1.1M486.0 93.7h1.1M484.3 95.5h1.1M483.7 95.7h1.1M486.8 93.7h1.1M485.6 94.9h1.1M485.4 96.0h1.1M490.2 95.5h1.1M487.2 95.6h1.1M485.2 95.2h1.1M487.0 95.9h1.1M488.9 95.1h1.1M484.8 94.4h1.1" stroke="#114c9c" stroke-width="1.1" stroke-opacity="0.94" fill="none"/><path d="M494.1 95.0h1.1M499.4 95.8h1.1M497.8 94.8h1.1M501.9 94.7h1.1M497.8 94.7h1.1M496.1 95.5h1.1M498.6 94.7h1.1M496.7 93.4h1.1M500.4 94.2h1.1M501.4 95.1h1.1M499.0 95.1h1.1M499.5 95.1h1.1M497.3 95.4h1.1M496.9 95.7h1.1M498.7 96.2h1.1M493.9 95.0h1.1M501.1 95.8h1.1M499.0 95.1h1.1M495.1 94.9h1.1M494.6 94.5h1.1M500.3 95.3h1.1M501.5 95.6h1.1M501.6 97.3h1.1M498.7 96.1h1.1M501.5 93.8h1.1M495.8 97.3h1.1M501.3 94.7h1.1M502.0 96.2h1.1M496.4 95.1h1.1M499.4 95.7h1.1M499.7 93.7h1.1M493.8 97.1h1.1M501.4 94.9h1.1M497.3 95.8h1.1M495.6 94.0h1.1M499.7 95.2h1.1M499.7 95.3h1.1M493.9 94.4h1.1M497.9 92.8h1.1M496.1 94.7h1.1M501.8 95.1h1.1M498.0 94.8h1.1M497.5 95.5h1.1M494.0 95.8h1.1M501.3 93.6h1.1M494.7 95.9h1.1M501.3 94.9h1.1M501.8 95.5h1.1M501.7 94.4h1.1M501.6 95.4h1.1M501.6 96.8h1.1M493.9 94.8h1.1M497.7 95.4h1.1M496.9 95.5h1.1M497.8 93.7h1.1M496.8 95.3h1.1M500.9 94.6h1.1M497.9 93.5h1.1M501.5 95.8h1.1M497.4 95.2h1.1M498.4 95.5h1.1M501.0 97.7h1.1M501.8 95.5h1.1M497.3 94.6h1.1M501.8 95.7h1.1M494.6 93.7h1.1M500.2 95.0h1.1M495.3 95.4h1.1M500.2 95.4h1.1M497.7 95.3h1.1M501.8 95.3h1.1M500.5 94.8h1.1M494.1 95.3h1.1M499.7 96.9h1.1M499.2 95.8h1.1M496.0 94.2h1.1M494.2 93.3h1.1M499.5 93.4h1.1M495.6 96.1h1.1M494.2 96.2h1.1M497.4 96.9h1.1M499.5 94.5h1.1M496.7 95.7h1.1M495.4 94.6h1.1M496.7 95.0h1.1M501.8 94.2h1.1M496.3 96.2h1.1M500.4 94.4h1.1M496.1 95.0h1.1M497.1 96.3h1.1M495.9 95.6h1.1M498.4 95.4h1.1M499.0 94.8h1.1M499.5 95.8h1.1M497.1 95.7h1.1M498.9 96.4h1.1M495.8 95.0h1.1M495.4 92.7h1.1M498.0 94.4h1.1M501.8 94.5h1.1M499.4 94.3h1.1M501.1 94.2h1.1M495.6 94.9h1.1M496.3 96.1h1.1M497.2 95.3h1.1M496.3 95.4h1.1M500.2 95.1h1.1M496.4 96.3h1.1M493.7 94.7h1.1M497.4 95.5h1.1M497.0 94.0h1.1M500.9 94.9h1.1M499.0 95.4h1.1M497.2 92.5h1.1M498.9 95.4h1.1M497.4 94.2h1.1M501.5 95.8h1.1M496.5 96.3h1.1M500.5 96.7h1.1M498.0 95.2h1.1M495.5 94.4h1.1M497.9 96.0h1.1M494.8 95.0h1.1M493.7 96.8h1.1M498.2 98.2h1.1M499.2 95.5h1.1M496.7 95.1h1.1M496.4 93.5h1.1M494.5 95.5h1.1M495.0 94.5h1.1M498.3 95.2h1.1M493.7 95.7h1.1M495.3 96.0h1.1M497.1 93.7h1.1M497.2 96.4h1.1M496.8 95.4h1.1M500.7 95.0h1.1M497.0 95.0h1.1M496.4 95.0h1.1M496.9 93.6h1.1M497.8 94.8h1.1M499.4 96.6h1.1M497.9 95.4h1.1M494.9 96.0h1.1M495.7 93.9h1.1" stroke="#ff4a14" stroke-width="1.1" stroke-opacity="0.94" fill="none"/><path d="M502.4 95.1h1.1M501.8 93.2h1.1M501.6 95.6h1.1M499.9 95.5h1.1M501.8 96.1h1.1M499.2 94.0h1.1M502.5 94.6h1.1M500.8 95.9h1.1M502.4 94.8h1.1M499.4 96.5h1.1M498.6 95.1h1.1M498.4 95.4h1.1M500.5 95.1h1.1M499.8 95.7h1.1M498.8 94.5h1.1M501.8 96.0h1.1M502.6 95.6h1.1M498.3 96.2h1.1M499.3 95.8h1.1M499.2 92.3h1.1M499.8 93.4h1.1M501.7 95.0h1.1M501.5 95.5h1.1M501.2 96.4h1.1M502.8 94.0h1.1M502.6 95.9h1.1M498.2 95.1h1.1M500.4 94.5h1.1M501.2 93.8h1.1M502.0 94.9h1.1M500.4 93.1h1.1M499.8 93.4h1.1M501.0 96.0h1.1M501.2 95.6h1.1M501.7 95.6h1.1M501.2 96.8h1.1M501.1 93.7h1.1M499.4 94.8h1.1M500.2 94.5h1.1M499.4 96.0h1.1M501.7 96.9h1.1M500.0 95.4h1.1M498.5 96.0h1.1M499.7 97.5h1.1M500.1 95.2h1.1M498.4 94.9h1.1M502.2 95.2h1.1M499.9 94.2h1.1M501.6 93.2h1.1M501.1 93.5h1.1M502.5 97.7h1.1M498.6 94.6h1.1M500.7 95.8h1.1M500.1 93.9h1.1M499.1 94.7h1.1M502.4 95.4h1.1M501.8 96.7h1.1M500.9 95.4h1.1M499.8 94.2h1.1M501.6 95.9h1.1M499.6 96.3h1.1M501.7 94.4h1.1M498.6 96.2h1.1M499.3 93.9h1.1M499.5 93.5h1.1M501.6 94.2h1.1M501.0 94.1h1.1M501.9 95.5h1.1M499.9 94.9h1.1M502.2 93.9h1.1M498.9 95.3h1.1M501.6 95.3h1.1M500.9 95.2h1.1M502.6 95.6h1.1M499.0 94.7h1.1M499.2 94.3h1.1M499.0 94.2h1.1M500.5 95.8h1.1M500.3 94.6h1.1" stroke="#ff8c1a" stroke-width="1.1" stroke-opacity="0.94" fill="none"/><path d="M502.9 96.0h1.1M503.8 94.3h1.1M502.8 93.4h1.1M501.3 95.6h1.1M502.0 94.4h1.1M500.7 95.7h1.1M501.6 95.6h1.1M503.8 93.6h1.1M502.9 94.6h1.1M502.8 96.1h1.1M502.8 95.4h1.1M503.2 97.4h1.1M500.6 94.5h1.1M499.9 93.8h1.1M500.4 95.8h1.1M502.7 93.6h1.1M503.7 96.1h1.1M499.8 95.8h1.1M504.2 94.3h1.1M501.5 95.4h1.1M502.1 94.6h1.1M501.7 96.2h1.1M503.2 96.5h1.1M502.4 95.3h1.1M502.2 94.9h1.1M499.9 94.3h1.1M500.8 95.1h1.1M500.8 95.9h1.1M503.8 95.2h1.1M502.5 95.8h1.1M500.6 94.0h1.1M503.7 95.0h1.1M499.8 95.6h1.1M501.6 94.9h1.1M500.4 97.1h1.1M500.1 95.8h1.1M500.2 95.8h1.1M502.7 94.9h1.1M500.7 95.3h1.1M501.2 96.4h1.1M502.3 95.1h1.1M501.7 96.5h1.1M502.6 96.6h1.1M503.2 98.3h1.1M499.9 94.5h1.1M504.3 94.7h1.1M504.1 96.5h1.1M501.9 95.6h1.1M503.6 94.5h1.1M503.1 95.8h1.1M499.9 97.5h1.1M500.1 93.4h1.1M503.9 95.4h1.1M502.3 96.5h1.1M500.1 94.5h1.1M500.2 94.2h1.1M500.4 95.9h1.1M499.8 94.6h1.1M502.4 95.9h1.1M503.6 96.9h1.1M502.2 96.3h1.1M500.7 96.3h1.1M503.1 95.2h1.1M501.2 95.2h1.1M504.1 95.3h1.1M502.9 95.0h1.1M501.1 94.6h1.1M503.1 93.8h1.1M502.3 94.4h1.1M500.0 95.6h1.1M500.0 93.9h1.1M504.2 95.0h1.1M502.4 93.8h1.1M501.8 95.1h1.1M501.8 94.7h1.1M499.7 97.0h1.1M504.0 97.6h1.1M502.9 94.3h1.1M503.1 94.9h1.1" stroke="#a6a64a" stroke-width="1.1" stroke-opacity="0.94" fill="none"/><path d="M478.0 95.7h1.1M476.9 96.0h1.1M479.1 100.3h1.1M477.4 93.7h1.1M475.9 93.2h1.1M479.4 99.9h1.1M477.0 95.9h1.1M478.6 94.3h1.1M476.5 95.1h1.1M477.0 97.9h1.1M478.3 92.5h1.1M477.1 93.6h1.1M478.1 92.3h1.1M476.8 91.5h1.1M479.3 93.4h1.1M476.2 96.9h1.1M479.6 95.0h1.1M480.4 99.0h1.1M476.8 94.7h1.1M477.2 94.0h1.1M477.1 95.1h1.1M480.5 104.0h1.1M479.3 95.2h1.1M480.0 93.1h1.1M476.4 95.1h1.1M479.9 97.8h1.1M479.7 89.4h1.1M477.7 95.6h1.1M475.9 89.2h1.1M479.3 93.6h1.1M477.3 93.0h1.1M477.8 100.6h1.1M476.1 89.5h1.1M480.8 94.6h1.1M480.7 100.8h1.1M476.1 98.9h1.1M478.4 96.6h1.1M479.9 94.6h1.1M476.6 93.2h1.1M477.9 93.4h1.1M477.1 88.8h1.1M480.4 96.1h1.1M477.6 100.4h1.1M476.8 95.4h1.1" stroke="#1e90ff" stroke-width="1.1" stroke-opacity="0.72" fill="none"/><path d="M454.2 93.8h1.1M452.5 93.3h1.1M453.2 90.8h1.1M453.8 92.3h1.1M453.4 94.5h1.1M451.8 90.4h1.1M453.3 92.1h1.1M454.1 93.8h1.1M452.0 91.2h1.1M452.1 92.5h1.1M454.0 91.5h1.1M454.3 90.4h1.1M454.0 93.3h1.1M453.3 94.6h1.1M451.9 92.4h1.1M453.1 91.4h1.1M453.8 92.4h1.1M452.8 95.3h1.1M454.5 92.5h1.1M452.4 93.4h1.1" stroke="#5ce6a0" stroke-width="1.1" stroke-opacity="0.72" fill="none"/><path d="M502.1 100.8h1.1M500.8 99.9h1.1M502.3 98.7h1.1M501.3 98.2h1.1M501.1 98.5h1.1M501.4 101.5h1.1M502.6 97.8h1.1M500.6 99.9h1.1M501.7 100.8h1.1M500.5 95.9h1.1M501.4 102.0h1.1M501.6 98.3h1.1M500.8 99.2h1.1M502.7 103.2h1.1" stroke="#9a4cd0" stroke-width="1.1" stroke-opacity="0.72" fill="none"/><path d="M507.0 90.0h1.1M508.5 95.7h1.1M510.2 93.0h1.1M507.3 93.5h1.1M509.8 97.3h1.1M508.7 96.9h1.1M512.2 99.8h1.1M506.7 97.6h1.1M515.1 92.9h1.1M518.6 99.6h1.1M509.4 99.9h1.1M503.5 92.7h1.1M510.2 92.2h1.1M507.1 95.7h1.1M512.4 94.7h1.1M508.9 95.9h1.1M518.5 91.6h1.1M503.3 98.5h1.1M509.9 96.2h1.1M510.3 93.9h1.1M515.8 94.1h1.1M513.1 97.4h1.1M504.1 95.0h1.1M507.6 100.4h1.1M506.3 93.5h1.1M504.8 96.0h1.1M502.9 94.1h1.1M511.2 92.0h1.1M509.9 94.8h1.1M513.4 97.2h1.1M517.6 96.2h1.1M504.5 99.5h1.1M509.0 96.1h1.1M517.7 94.4h1.1M505.9 92.9h1.1M507.7 91.4h1.1M513.4 99.1h1.1M510.8 90.2h1.1M515.7 92.6h1.1M512.9 90.1h1.1M512.1 92.4h1.1M504.6 98.6h1.1M508.3 95.9h1.1M511.6 92.5h1.1M518.9 99.8h1.1M507.3 99.3h1.1M508.1 104.8h1.1M515.6 97.6h1.1M503.0 93.0h1.1M517.5 96.4h1.1M503.3 97.7h1.1M512.8 98.1h1.1M504.9 92.8h1.1M504.4 93.8h1.1M511.6 93.6h1.1M503.0 91.1h1.1M516.2 88.4h1.1M518.7 96.0h1.1M515.8 92.0h1.1M516.8 90.7h1.1M504.8 101.8h1.1M503.8 91.1h1.1M515.1 99.3h1.1M503.9 91.8h1.1M503.5 93.2h1.1M503.3 95.2h1.1M509.5 97.0h1.1M517.6 100.0h1.1M508.2 95.9h1.1M506.5 97.4h1.1M506.7 98.4h1.1M516.3 96.9h1.1M516.2 92.2h1.1M513.3 94.6h1.1M512.7 95.5h1.1M512.2 93.3h1.1M517.4 95.8h1.1M513.6 100.4h1.1M508.5 91.7h1.1M508.3 96.9h1.1M517.4 96.4h1.1M518.3 94.9h1.1M512.4 99.1h1.1M511.2 90.9h1.1M512.3 95.4h1.1M514.4 88.0h1.1M516.0 97.8h1.1M503.4 98.5h1.1M513.1 93.4h1.1M508.4 94.3h1.1M509.9 91.8h1.1M504.0 94.2h1.1M504.1 98.5h1.1M503.9 94.2h1.1M509.1 96.3h1.1M503.7 93.2h1.1M510.7 97.2h1.1M512.8 91.0h1.1M509.5 101.5h1.1M509.4 93.9h1.1M509.3 94.5h1.1M506.0 95.1h1.1M506.8 90.6h1.1M511.9 96.6h1.1M512.8 95.7h1.1M505.3 90.5h1.1M505.2 102.2h1.1M515.6 88.9h1.1M506.0 93.5h1.1M506.1 96.6h1.1M515.0 97.5h1.1M513.7 96.1h1.1M511.7 95.6h1.1M516.1 96.3h1.1M516.8 91.9h1.1M507.2 97.7h1.1M510.2 95.0h1.1M514.8 92.3h1.1M507.8 95.5h1.1M510.4 92.2h1.1M514.1 92.2h1.1M517.2 99.1h1.1M509.1 95.8h1.1M509.6 98.2h1.1M507.2 93.3h1.1M508.9 89.6h1.1M512.9 92.4h1.1M513.5 93.6h1.1M503.8 96.8h1.1M513.4 92.4h1.1M511.4 103.5h1.1M505.8 95.6h1.1M502.9 92.9h1.1M514.1 97.8h1.1M514.7 96.9h1.1M503.7 95.8h1.1M506.7 91.2h1.1M503.1 92.6h1.1M508.3 94.9h1.1M517.6 92.1h1.1M504.6 95.0h1.1M507.4 97.5h1.1M514.8 98.5h1.1M514.5 91.4h1.1M503.5 89.0h1.1M505.5 93.7h1.1M504.5 95.8h1.1M518.1 92.7h1.1M507.8 97.4h1.1M518.2 98.4h1.1M509.3 96.8h1.1M505.1 91.7h1.1M517.0 94.8h1.1M505.0 94.0h1.1M518.2 95.0h1.1M508.4 92.0h1.1M513.2 96.3h1.1M515.1 96.2h1.1M507.6 90.9h1.1M504.2 100.9h1.1M518.7 102.0h1.1M507.2 95.8h1.1M510.0 97.0h1.1M510.3 91.0h1.1M511.5 96.3h1.1M505.8 93.8h1.1M516.7 96.5h1.1M517.2 93.6h1.1M510.5 93.8h1.1M512.0 93.8h1.1M510.9 95.7h1.1M505.0 95.6h1.1M509.3 94.2h1.1M516.0 91.9h1.1M510.1 94.7h1.1M508.3 101.9h1.1M505.8 95.7h1.1M509.8 95.8h1.1M516.7 94.6h1.1M513.7 91.6h1.1M516.4 92.1h1.1M503.3 94.7h1.1M514.9 98.3h1.1M507.3 97.5h1.1M510.5 99.9h1.1M502.9 98.1h1.1M503.1 99.4h1.1M504.6 96.7h1.1M513.6 96.7h1.1M505.0 93.2h1.1M514.8 95.9h1.1M504.8 96.9h1.1M518.3 100.9h1.1M510.9 92.1h1.1M509.2 90.8h1.1M507.6 96.6h1.1M509.9 92.9h1.1M509.6 93.5h1.1M506.3 93.8h1.1M517.9 93.3h1.1M517.7 96.9h1.1M513.5 97.9h1.1M509.6 99.2h1.1M506.3 96.3h1.1M515.3 97.0h1.1M515.7 99.2h1.1M503.9 90.8h1.1M517.3 97.2h1.1M503.1 96.3h1.1M508.9 96.2h1.1M513.0 95.4h1.1M514.7 92.6h1.1M513.1 89.5h1.1M508.8 89.9h1.1M510.4 92.2h1.1M515.2 95.2h1.1M504.9 96.5h1.1M516.5 91.7h1.1M504.4 95.7h1.1M516.4 97.7h1.1M514.3 97.6h1.1M513.5 96.3h1.1M503.1 99.2h1.1M506.6 93.0h1.1M513.1 95.2h1.1M507.0 95.7h1.1M505.8 96.8h1.1M515.0 99.7h1.1M513.7 91.6h1.1M516.4 92.1h1.1M509.5 92.1h1.1M504.3 97.7h1.1M506.4 98.7h1.1M516.5 100.9h1.1M519.0 94.0h1.1M502.9 95.1h1.1M514.8 96.3h1.1M518.7 96.5h1.1M508.7 96.4h1.1M503.2 93.8h1.1M518.4 97.1h1.1M508.7 99.7h1.1M515.5 96.5h1.1M516.0 97.5h1.1M518.7 96.4h1.1M515.3 89.9h1.1M509.6 86.8h1.1M511.1 94.5h1.1M503.0 99.4h1.1M507.9 95.1h1.1M513.9 91.9h1.1M506.5 93.8h1.1M508.1 94.0h1.1M504.8 90.3h1.1M503.5 95.4h1.1M503.5 91.5h1.1M504.4 90.7h1.1M510.2 98.8h1.1M503.2 93.1h1.1M515.3 92.6h1.1M509.0 96.3h1.1M508.7 91.4h1.1M514.6 92.6h1.1M503.5 95.3h1.1M517.8 93.3h1.1M509.9 93.9h1.1M517.7 97.7h1.1M512.2 95.6h1.1M516.5 90.6h1.1M508.8 91.6h1.1M516.8 97.6h1.1M515.6 99.7h1.1M509.8 97.2h1.1M512.3 97.2h1.1M508.5 95.5h1.1M511.8 97.3h1.1M503.0 89.3h1.1M518.9 100.4h1.1M504.4 93.3h1.1M506.8 99.4h1.1M515.6 93.1h1.1M518.1 92.3h1.1M516.3 93.0h1.1M517.2 96.6h1.1M517.4 99.4h1.1M503.9 95.2h1.1M507.5 95.4h1.1M513.3 94.1h1.1M506.7 95.2h1.1M514.9 95.6h1.1M508.2 101.0h1.1M515.4 94.4h1.1M505.3 93.8h1.1M508.5 96.8h1.1M509.8 91.9h1.1M509.6 94.3h1.1M502.8 93.9h1.1M507.1 90.3h1.1M509.4 96.9h1.1M505.4 98.1h1.1M517.2 97.6h1.1M503.4 92.3h1.1M508.8 99.3h1.1M513.9 91.2h1.1M512.6 95.5h1.1M518.7 93.0h1.1M514.8 96.5h1.1M518.6 94.5h1.1M502.8 96.1h1.1M510.5 93.6h1.1M510.2 97.0h1.1M514.8 96.1h1.1M513.9 98.3h1.1M513.5 95.2h1.1M512.4 97.2h1.1M510.1 92.8h1.1M514.0 94.3h1.1M518.5 97.4h1.1M516.9 96.7h1.1M508.9 93.3h1.1M515.4 96.2h1.1M514.0 96.1h1.1M506.8 94.1h1.1M514.4 93.9h1.1M505.8 87.3h1.1M514.8 89.4h1.1M517.8 94.0h1.1M511.3 97.6h1.1M516.5 102.2h1.1M510.9 91.6h1.1M518.8 98.1h1.1M515.9 90.4h1.1M514.6 96.7h1.1M514.4 112.9h1.1M515.2 96.5h1.1M507.5 93.4h1.1M506.4 87.9h1.1M505.5 94.4h1.1M516.4 95.8h1.1M516.1 97.2h1.1M506.3 101.2h1.1M518.2 110.7h1.1M507.6 97.7h1.1M517.6 96.0h1.1M513.6 102.3h1.1M509.6 92.1h1.1M509.2 90.6h1.1M511.9 96.8h1.1M519.0 96.2h1.1M509.3 101.1h1.1M508.4 88.0h1.1M506.2 95.3h1.1M518.6 95.0h1.1M513.9 83.2h1.1M514.2 102.6h1.1M517.6 89.1h1.1M508.2 93.3h1.1M516.8 90.9h1.1M516.5 95.9h1.1M517.1 96.6h1.1M515.6 94.0h1.1M507.4 96.8h1.1M509.5 104.5h1.1M514.5 103.8h1.1M510.6 91.3h1.1M518.2 88.5h1.1M507.7 97.4h1.1M510.0 98.3h1.1M510.4 95.8h1.1M514.5 94.3h1.1M518.9 96.5h1.1M511.7 91.0h1.1M509.8 97.0h1.1M504.4 94.3h1.1M515.6 96.2h1.1M516.3 101.4h1.1M507.1 105.5h1.1M507.6 99.3h1.1M515.7 92.5h1.1M513.4 94.7h1.1M506.2 79.6h1.1M509.6 91.3h1.1M506.7 87.7h1.1M514.9 99.7h1.1M511.4 100.1h1.1M510.3 96.8h1.1M513.7 96.9h1.1M510.6 93.0h1.1M511.0 99.6h1.1M515.3 96.4h1.1M514.2 96.0h1.1M511.9 97.3h1.1M516.5 95.0h1.1M505.8 88.6h1.1M517.2 87.8h1.1M507.8 85.8h1.1M514.0 86.0h1.1M511.3 93.5h1.1M512.2 111.7h1.1M508.1 98.9h1.1M511.0 100.4h1.1M508.8 99.4h1.1M505.6 100.2h1.1M517.1 79.8h1.1M507.2 92.1h1.1M516.5 103.0h1.1M515.3 92.9h1.1M508.5 110.1h1.1M517.4 96.0h1.1M511.5 96.5h1.1M515.4 99.3h1.1M518.7 93.4h1.1M505.5 94.3h1.1M505.9 98.6h1.1M515.2 95.1h1.1M510.3 104.8h1.1M506.8 88.1h1.1M514.4 81.6h1.1M517.5 109.4h1.1M505.4 97.6h1.1M515.6 79.0h1.1M509.7 98.9h1.1M509.2 97.8h1.1M517.2 100.4h1.1M514.8 106.2h1.1M513.1 96.0h1.1M510.5 92.0h1.1M506.5 95.6h1.1M513.5 97.6h1.1M506.6 106.2h1.1M508.8 102.3h1.1M509.0 82.0h1.1M514.4 97.8h1.1M509.5 105.6h1.1M510.4 95.2h1.1M516.9 91.5h1.1M513.7 93.0h1.1" stroke="#ffe9a0" stroke-width="1.1" stroke-opacity="0.72" fill="none"/><path d="M515.6 96.0h1.1M516.2 94.3h1.1M516.2 95.5h1.1M517.2 95.7h1.1M510.3 93.3h1.1M505.1 98.6h1.1M503.4 94.5h1.1M516.7 95.3h1.1M518.3 93.3h1.1M515.6 91.8h1.1M509.5 95.5h1.1M505.9 95.6h1.1M503.9 96.9h1.1M506.2 95.1h1.1M508.5 95.8h1.1M513.2 97.2h1.1M507.1 93.1h1.1M517.0 94.9h1.1M503.2 92.9h1.1M504.3 97.0h1.1M507.2 97.5h1.1M518.8 99.5h1.1M514.1 99.3h1.1M518.9 91.6h1.1M516.0 96.1h1.1M503.6 93.7h1.1M512.3 93.7h1.1M510.2 93.9h1.1M509.5 95.4h1.1M512.0 93.9h1.1M504.0 94.1h1.1M510.8 89.8h1.1M509.8 98.4h1.1M518.0 95.6h1.1M508.2 94.8h1.1M508.3 93.5h1.1M507.7 97.9h1.1M506.6 91.0h1.1M514.0 96.1h1.1M507.0 94.0h1.1M511.6 96.1h1.1M513.9 97.2h1.1M515.3 97.0h1.1M503.9 95.2h1.1M517.8 98.1h1.1M503.4 95.5h1.1M503.8 91.1h1.1M504.4 96.6h1.1M504.0 96.4h1.1M516.4 92.0h1.1M505.1 92.7h1.1M509.4 94.6h1.1M515.2 93.2h1.1M511.7 94.8h1.1M515.3 95.6h1.1M513.3 97.1h1.1M503.4 93.2h1.1M515.0 95.8h1.1M517.9 93.3h1.1M516.5 97.2h1.1" stroke="#ffbf66" stroke-width="1.1" stroke-opacity="0.72" fill="none"/><path d="M506.3 85.1h1.1M506.2 100.3h1.1M504.8 84.6h1.1M505.6 92.4h1.1M506.5 80.6h1.1M506.1 94.6h1.1M505.4 84.1h1.1M506.6 83.7h1.1M504.8 92.3h1.1M506.6 85.5h1.1M506.6 84.2h1.1M505.1 92.4h1.1" stroke="#9a4cd0" stroke-width="1.1" stroke-opacity="0.58" fill="none"/><path d="M515.1 98.9h1.1M513.0 97.0h1.1M514.7 93.0h1.1M516.6 98.3h1.1M515.6 101.9h1.1M515.4 97.6h1.1M514.4 100.7h1.1M513.9 98.9h1.1M513.6 96.0h1.1M516.2 97.6h1.1M514.4 98.2h1.1M515.7 99.2h1.1M514.0 99.3h1.1M516.4 101.3h1.1M515.7 96.3h1.1M514.6 94.3h1.1M514.5 96.3h1.1M514.5 100.2h1.1M512.9 97.2h1.1M514.2 96.0h1.1M515.4 97.3h1.1M516.0 98.9h1.1M514.1 97.9h1.1M514.9 93.7h1.1" stroke="#b4a4ff" stroke-width="1.1" stroke-opacity="0.72" fill="none"/><path d="M512.2 99.3h1.1M512.1 98.0h1.1M513.1 102.7h1.1M513.8 97.8h1.1M513.5 95.3h1.1M512.4 100.0h1.1M511.7 102.6h1.1M513.0 98.1h1.1M513.2 99.7h1.1M512.0 100.4h1.1M510.7 97.1h1.1M513.1 97.1h1.1M511.6 100.4h1.1M511.5 94.7h1.1M512.9 98.7h1.1M510.6 97.8h1.1" stroke="#ff8c1a" stroke-width="1.1" stroke-opacity="0.72" fill="none"/><path d="M507.0 36.7h1.1M507.0 50.2h1.1M506.3 126.0h1.1M506.6 77.8h1.1M504.3 79.4h1.1" stroke="#a6a64a" stroke-width="1.1" stroke-opacity="0.36" fill="none"/></g><rect x="304.70" y="16.20" width="92.80" height="158.00" fill="none" stroke="#444444" stroke-width="0.85"/><path d="M320.17 174.20v-1.40M320.17 16.20v1.40M335.63 174.20v-1.40M335.63 16.20v1.40M351.10 174.20v-1.40M351.10 16.20v1.40M366.57 174.20v-1.40M366.57 16.20v1.40M382.03 174.20v-1.40M382.03 16.20v1.40M304.70 158.40h1.40M397.50 158.40h-1.40M304.70 142.60h1.40M397.50 142.60h-1.40M304.70 126.80h1.40M397.50 126.80h-1.40M304.70 111.00h1.40M397.50 111.00h-1.40M304.70 95.20h1.40M397.50 95.20h-1.40M304.70 79.40h1.40M397.50 79.40h-1.40M304.70 63.60h1.40M397.50 63.60h-1.40M304.70 47.80h1.40M397.50 47.80h-1.40M304.70 32.00h1.40M397.50 32.00h-1.40" stroke="#444444" stroke-width="0.7" fill="none"/><g font-size="7.60" fill="#2a2a2a" stroke="#2a2a2a" stroke-width="0.2"><g text-anchor="middle"><text x="304.70" y="185.10">0</text><text x="320.17" y="185.10">4</text><text x="335.63" y="185.10">8</text><text x="351.10" y="185.10">12</text><text x="366.57" y="185.10">16</text><text x="382.03" y="185.10">20</text><text x="397.50" y="185.10">24</text></g><g text-anchor="end"><text x="301.50" y="177.35">0</text><text x="301.50" y="161.55">0.5</text><text x="301.50" y="145.75">1</text><text x="301.50" y="129.95">1.5</text><text x="301.50" y="114.15">2</text><text x="301.50" y="98.35">2.5</text><text x="301.50" y="82.55">3</text><text x="301.50" y="66.75">3.5</text><text x="301.50" y="50.95">4</text><text x="301.50" y="35.15">4.5</text><text x="301.50" y="19.35">5</text></g></g><rect x="426.70" y="16.20" width="92.90" height="158.00" fill="none" stroke="#444444" stroke-width="0.85"/><path d="M442.18 174.20v-1.40M442.18 16.20v1.40M457.67 174.20v-1.40M457.67 16.20v1.40M473.15 174.20v-1.40M473.15 16.20v1.40M488.63 174.20v-1.40M488.63 16.20v1.40M504.12 174.20v-1.40M504.12 16.20v1.40M426.70 158.40h1.40M519.60 158.40h-1.40M426.70 142.60h1.40M519.60 142.60h-1.40M426.70 126.80h1.40M519.60 126.80h-1.40M426.70 111.00h1.40M519.60 111.00h-1.40M426.70 95.20h1.40M519.60 95.20h-1.40M426.70 79.40h1.40M519.60 79.40h-1.40M426.70 63.60h1.40M519.60 63.60h-1.40M426.70 47.80h1.40M519.60 47.80h-1.40M426.70 32.00h1.40M519.60 32.00h-1.40" stroke="#444444" stroke-width="0.7" fill="none"/><g font-size="7.60" fill="#2a2a2a" stroke="#2a2a2a" stroke-width="0.2"><g text-anchor="middle"><text x="426.70" y="185.10">0</text><text x="442.18" y="185.10">4</text><text x="457.67" y="185.10">8</text><text x="473.15" y="185.10">12</text><text x="488.63" y="185.10">16</text><text x="504.12" y="185.10">20</text><text x="519.60" y="185.10">24</text></g><g text-anchor="end"><text x="423.50" y="177.35">-5</text><text x="423.50" y="161.55">-4</text><text x="423.50" y="145.75">-3</text><text x="423.50" y="129.95">-2</text><text x="423.50" y="114.15">-1</text><text x="423.50" y="98.35">0</text><text x="423.50" y="82.55">1</text><text x="423.50" y="66.75">2</text><text x="423.50" y="50.95">3</text><text x="423.50" y="35.15">4</text><text x="423.50" y="19.35">5</text></g></g><g font-size="8.30" font-weight="bold" fill="#2a2a2a" stroke="#2a2a2a" stroke-width="0.18" text-anchor="middle"><text x="351.20" y="196.70">Local time [H]</text><text x="473.25" y="196.70">Local time [H]</text><text transform="translate(288.10 95.20) rotate(-90)">ROTI [Tecu/min]</text><text transform="translate(413.30 94.20) rotate(-90)">VTEC gradient [Tecu/km]</text></g><text x="414.40" y="12.60" font-size="7.60" fill="#2a2a2a" stroke="#2a2a2a" stroke-width="0.15" text-anchor="middle">Number of scintillations detected (ROTI&gt;=0.5): 544 (5.51%)</text><text x="523.80" y="22.20" font-size="7.45" fill="#2a2a2a" stroke="#2a2a2a" stroke-width="0.25">E=20°</text></g><g><path d="M45.23 236.50V394.20M60.57 236.50V394.20M75.90 236.50V394.20M91.23 236.50V394.20M106.57 236.50V394.20M29.90 378.43H121.90M29.90 362.66H121.90M29.90 346.89H121.90M29.90 331.12H121.90M29.90 315.35H121.90M29.90 299.58H121.90M29.90 283.81H121.90M29.90 268.04H121.90M29.90 252.27H121.90" stroke="#dedede" stroke-width="0.5" fill="none"/><path d="M166.17 236.50V394.20M181.43 236.50V394.20M196.70 236.50V394.20M211.97 236.50V394.20M227.23 236.50V394.20M150.90 378.43H242.50M150.90 362.66H242.50M150.90 346.89H242.50M150.90 331.12H242.50M150.90 315.35H242.50M150.90 299.58H242.50M150.90 283.81H242.50M150.90 268.04H242.50M150.90 252.27H242.50" stroke="#dedede" stroke-width="0.5" fill="none"/><g filter="url(#soft)"><path d="M31.5 387.7h1.1M31.8 369.9h1.1M31.6 386.2h1.1M31.6 371.8h1.1M31.8 388.2h1.1M31.6 388.1h1.1M31.5 388.8h1.1M31.5 385.5h1.1M31.3 379.9h1.1M32.0 383.8h1.1M31.4 373.7h1.1M31.6 374.5h1.1M31.7 364.1h1.1M31.4 367.2h1.1M31.7 384.5h1.1M31.5 382.9h1.1M31.6 375.2h1.1M32.0 379.8h1.1M31.7 382.0h1.1M31.2 383.6h1.1M31.4 386.7h1.1M31.5 389.8h1.1M31.7 389.6h1.1M31.6 365.5h1.1M31.7 373.0h1.1M31.4 382.5h1.1M31.7 385.6h1.1M31.4 374.6h1.1M31.7 379.4h1.1M31.5 372.7h1.1M31.5 369.9h1.1M31.8 390.1h1.1M34.1 385.6h1.1M34.3 361.6h1.1M34.1 388.6h1.1M34.1 380.1h1.1M34.0 377.2h1.1M34.3 371.8h1.1M33.8 365.7h1.1M34.0 380.3h1.1M34.0 380.8h1.1M34.0 369.7h1.1M33.7 363.7h1.1M33.9 389.8h1.1M34.0 378.0h1.1M33.7 364.2h1.1M34.1 367.4h1.1M34.0 383.5h1.1M34.0 369.6h1.1M34.0 378.4h1.1M34.2 373.7h1.1M34.0 382.6h1.1M34.0 367.7h1.1M34.0 367.8h1.1M34.1 379.1h1.1M34.2 372.5h1.1M33.9 379.7h1.1M34.2 378.4h1.1M34.0 388.6h1.1M33.9 380.5h1.1M35.5 385.5h1.1M32.5 388.1h1.1M35.3 392.1h1.1M35.2 382.5h1.1M31.3 393.5h1.1M35.9 391.7h1.1M34.2 389.1h1.1M33.5 388.8h1.1M30.7 393.7h1.1M32.7 393.0h1.1M32.2 391.0h1.1M35.6 394.1h1.1M32.9 393.0h1.1M35.2 390.5h1.1M34.7 391.6h1.1M36.9 393.9h1.1M31.6 389.6h1.1M35.9 391.8h1.1M33.2 394.1h1.1M33.8 387.4h1.1M36.2 385.6h1.1M31.1 392.3h1.1M30.6 391.9h1.1M36.2 393.2h1.1M35.0 386.9h1.1M35.4 393.7h1.1M30.3 380.7h1.1M32.2 385.0h1.1M52.1 390.3h1.1M52.5 391.1h1.1M52.5 391.4h1.1M52.5 393.9h1.1M52.5 391.0h1.1M53.0 391.7h1.1M53.1 393.7h1.1M52.5 393.3h1.1M53.2 391.9h1.1M52.6 393.1h1.1M52.8 393.2h1.1M52.3 393.8h1.1M60.3 392.3h1.1M59.6 393.9h1.1M59.9 393.9h1.1M59.8 392.0h1.1M60.3 392.8h1.1M60.2 394.1h1.1M60.5 392.3h1.1M60.0 392.6h1.1M115.5 389.1h1.1M114.5 379.7h1.1M114.1 387.3h1.1M117.7 382.8h1.1M120.1 376.4h1.1M120.1 388.5h1.1M118.6 378.5h1.1M116.0 386.0h1.1M113.7 375.6h1.1M115.7 390.1h1.1M116.4 391.3h1.1M116.7 388.7h1.1M121.0 381.3h1.1M120.0 391.0h1.1M116.8 378.8h1.1M118.8 382.7h1.1M116.5 382.1h1.1M120.9 376.7h1.1M120.5 393.3h1.1M117.0 382.9h1.1M116.5 380.9h1.1M113.0 381.8h1.1M119.9 383.5h1.1M117.2 380.1h1.1M120.6 392.8h1.1M114.9 392.5h1.1M114.9 387.5h1.1M118.4 390.4h1.1M115.3 384.3h1.1M120.0 391.9h1.1M114.0 393.5h1.1M112.2 391.3h1.1M118.0 379.1h1.1M119.7 387.2h1.1M117.7 376.1h1.1M118.7 386.1h1.1M117.0 385.3h1.1M112.4 376.9h1.1M114.7 377.0h1.1M117.4 379.5h1.1" stroke="#3a6cff" stroke-width="1.1" stroke-opacity="0.72" fill="none"/><path d="M29.6 370.2h1.1M30.2 373.9h1.1M29.8 371.4h1.1M29.9 382.1h1.1M29.7 381.5h1.1M29.8 379.9h1.1M29.8 373.7h1.1M29.7 371.2h1.1M29.8 391.5h1.1M29.8 379.2h1.1M29.7 390.5h1.1M29.8 375.9h1.1M29.7 377.7h1.1M29.9 387.5h1.1M29.6 375.6h1.1M29.9 373.3h1.1M29.9 385.3h1.1M30.3 384.9h1.1M29.9 382.5h1.1M29.6 377.2h1.1M30.1 376.0h1.1M30.1 376.8h1.1M29.8 376.5h1.1M29.9 377.3h1.1M29.8 375.5h1.1M30.1 376.5h1.1" stroke="#3a6cff" stroke-width="1.1" stroke-opacity="0.43" fill="none"/><path d="M37.5 390.5h1.1M35.2 384.5h1.1M34.9 382.1h1.1M34.3 378.3h1.1M35.7 384.8h1.1M34.5 378.6h1.1M34.5 379.5h1.1M37.4 390.0h1.1M36.7 387.3h1.1M35.4 384.3h1.1M34.2 379.8h1.1M36.3 382.9h1.1M34.5 379.4h1.1M37.9 391.3h1.1M34.9 381.0h1.1M36.3 384.9h1.1M35.2 383.2h1.1M35.1 379.7h1.1M37.3 387.1h1.1M37.7 388.6h1.1M36.8 386.8h1.1M35.1 386.4h1.1M34.9 384.6h1.1M34.7 379.4h1.1M36.4 383.3h1.1M35.0 382.0h1.1M34.7 381.1h1.1M35.9 384.7h1.1M38.2 391.8h1.1M36.2 387.6h1.1M35.5 381.3h1.1M35.1 382.0h1.1M35.8 385.0h1.1M36.2 384.9h1.1" stroke="#3a6cff" stroke-width="1.1" stroke-opacity="0.86" fill="none"/><path d="M33.5 382.2h1.1M36.1 388.4h1.1M33.3 385.1h1.1M32.8 377.4h1.1M35.4 387.9h1.1M33.2 381.9h1.1M37.0 392.6h1.1M32.7 381.3h1.1M35.0 385.4h1.1M34.5 382.9h1.1M34.0 384.6h1.1M34.3 382.4h1.1M34.5 385.2h1.1M32.7 382.0h1.1M35.3 390.8h1.1M32.8 381.8h1.1M36.3 392.6h1.1M33.3 384.1h1.1M35.9 390.3h1.1M33.2 383.8h1.1M35.1 385.4h1.1M36.2 389.2h1.1M35.8 387.9h1.1M35.1 388.1h1.1M33.0 381.0h1.1M36.4 390.2h1.1" stroke="#2a5be0" stroke-width="1.1" stroke-opacity="0.72" fill="none"/><path d="M30.2 393.3h1.1M30.4 389.2h1.1M32.1 391.6h1.1M30.4 393.4h1.1M30.6 391.0h1.1M31.8 387.6h1.1M30.2 393.3h1.1M32.3 390.6h1.1M30.3 390.3h1.1M31.1 393.4h1.1M30.4 393.3h1.1M31.3 394.1h1.1M32.4 393.3h1.1M32.4 392.6h1.1M29.6 392.5h1.1M30.9 389.8h1.1M31.0 392.0h1.1M31.6 393.2h1.1M31.7 388.5h1.1M31.1 391.6h1.1M29.6 390.1h1.1M30.8 394.0h1.1M32.1 390.9h1.1M31.3 391.3h1.1M29.6 392.8h1.1M32.3 391.5h1.1M29.5 391.7h1.1M31.6 391.0h1.1M30.8 392.3h1.1M31.4 393.0h1.1" stroke="#ffc4cc" stroke-width="1.1" stroke-opacity="0.72" fill="none"/><path d="M33.6 393.4h1.1M32.1 393.3h1.1M31.5 393.7h1.1M31.0 393.7h1.1M29.6 393.7h1.1M32.3 393.5h1.1M33.2 393.7h1.1M32.3 393.2h1.1M33.7 393.7h1.1M33.8 393.5h1.1M32.2 393.5h1.1M33.7 393.1h1.1M32.1 393.7h1.1M32.4 393.6h1.1M30.9 393.5h1.1M29.9 393.4h1.1M31.7 393.4h1.1M33.6 393.5h1.1M32.0 393.3h1.1M29.8 393.5h1.1M30.8 393.5h1.1M33.4 393.6h1.1M32.8 393.4h1.1M33.4 392.9h1.1M32.0 393.1h1.1M30.0 393.0h1.1M32.2 392.9h1.1M33.4 393.7h1.1M33.6 393.8h1.1M33.7 393.1h1.1M31.4 393.0h1.1M31.6 393.2h1.1M30.6 393.7h1.1" stroke="#ff5a5a" stroke-width="1.1" stroke-opacity="0.94" fill="none"/><path d="M37.9 393.7h1.1M40.0 393.4h1.1M37.5 393.6h1.1M37.3 393.5h1.1M34.1 393.5h1.1M39.5 393.0h1.1M40.1 393.8h1.1M34.4 393.8h1.1M33.3 393.8h1.1M35.2 393.7h1.1M37.3 393.2h1.1M37.8 393.8h1.1M35.3 392.9h1.1M37.8 393.5h1.1M34.5 393.0h1.1M36.4 393.5h1.1M40.4 393.1h1.1M40.1 393.6h1.1M34.2 393.3h1.1M34.0 393.3h1.1M34.4 392.2h1.1M36.8 393.6h1.1M33.6 393.6h1.1M36.4 393.2h1.1M39.9 393.1h1.1M33.8 393.5h1.1M40.2 393.8h1.1M36.8 393.6h1.1M34.3 393.2h1.1M36.4 393.3h1.1M35.5 392.5h1.1M34.0 393.6h1.1M40.7 393.5h1.1M40.6 393.2h1.1M33.6 393.8h1.1M38.9 393.5h1.1M40.2 393.5h1.1M36.2 393.7h1.1M39.7 393.4h1.1M35.0 393.7h1.1M39.7 393.3h1.1M39.8 392.6h1.1M33.6 393.3h1.1M37.2 393.7h1.1M40.7 393.5h1.1M33.3 393.0h1.1M36.9 393.7h1.1M33.6 393.4h1.1M40.2 393.8h1.1M36.0 393.7h1.1M35.9 393.2h1.1M40.6 393.7h1.1M36.4 393.4h1.1M35.1 393.5h1.1M37.3 393.0h1.1M35.9 393.8h1.1M44.8 393.5h1.1M44.2 393.6h1.1M43.7 393.4h1.1M45.3 393.7h1.1M43.5 392.9h1.1M43.5 393.0h1.1M43.3 393.3h1.1M43.4 393.7h1.1M42.4 393.1h1.1M44.6 393.8h1.1M44.3 393.5h1.1M44.2 393.6h1.1M43.1 393.6h1.1M43.0 393.7h1.1M44.0 393.2h1.1M45.0 393.1h1.1M44.2 393.4h1.1M42.7 393.1h1.1M45.3 393.5h1.1M43.5 393.1h1.1M43.3 393.5h1.1M43.8 393.4h1.1" stroke="#ff5f8f" stroke-width="1.1" stroke-opacity="0.94" fill="none"/><path d="M40.1 393.5h1.1M41.5 393.5h1.1M40.5 393.5h1.1M42.4 393.6h1.1M40.3 392.7h1.1M40.6 393.5h1.1M42.4 393.6h1.1M42.5 393.6h1.1M40.5 393.8h1.1M41.8 393.5h1.1M41.8 393.3h1.1M42.3 393.3h1.1M40.6 393.3h1.1M41.5 393.6h1.1M43.1 393.2h1.1M42.3 393.6h1.1M41.8 393.6h1.1M41.4 393.0h1.1M42.0 393.4h1.1M40.7 393.3h1.1M41.7 393.4h1.1M42.0 393.2h1.1" stroke="#106a6a" stroke-width="1.1" stroke-opacity="0.94" fill="none"/><path d="M47.6 393.6h1.1M46.4 393.5h1.1M49.3 393.7h1.1M45.0 393.5h1.1M50.4 393.1h1.1M46.7 393.5h1.1M48.2 393.7h1.1M44.8 393.6h1.1M48.7 393.7h1.1M46.9 393.4h1.1M47.5 392.5h1.1M48.7 393.5h1.1M46.8 392.8h1.1M47.6 393.6h1.1M48.6 393.8h1.1M49.9 393.4h1.1M47.9 393.6h1.1M49.5 393.6h1.1M48.8 393.6h1.1M48.7 393.2h1.1M45.6 393.5h1.1M47.6 393.2h1.1M49.1 393.6h1.1M50.7 392.9h1.1M47.8 393.6h1.1M47.7 393.1h1.1M45.2 393.4h1.1M46.2 393.5h1.1M49.8 393.3h1.1M45.1 393.7h1.1M46.0 393.6h1.1M46.7 393.0h1.1M44.8 393.5h1.1M45.9 393.3h1.1M45.8 393.3h1.1M50.0 393.0h1.1M45.6 393.5h1.1M48.1 393.1h1.1M49.3 393.2h1.1M45.2 393.3h1.1M49.4 393.0h1.1M50.6 393.4h1.1M46.7 393.7h1.1M47.6 393.7h1.1M63.5 393.7h1.1M64.4 393.3h1.1M65.5 393.6h1.1M61.2 393.8h1.1M66.1 393.3h1.1M63.3 393.5h1.1M63.9 393.3h1.1M65.1 393.6h1.1M59.5 393.8h1.1M63.9 393.2h1.1M59.5 393.5h1.1M66.6 393.5h1.1M61.7 393.5h1.1M62.3 393.8h1.1M58.4 393.4h1.1M62.4 393.4h1.1M61.3 393.0h1.1M62.5 393.7h1.1M59.3 393.7h1.1M65.2 393.3h1.1M60.7 393.8h1.1M59.7 392.9h1.1M60.1 393.3h1.1M60.8 393.7h1.1M60.3 393.0h1.1M62.9 393.0h1.1M63.7 393.8h1.1M59.4 393.7h1.1M57.7 393.6h1.1M62.4 393.8h1.1M59.8 393.7h1.1M64.0 393.7h1.1M64.6 393.8h1.1M66.0 393.2h1.1M59.7 393.2h1.1M64.0 392.9h1.1M58.8 392.8h1.1M65.7 393.0h1.1M58.7 393.2h1.1M66.1 393.6h1.1M58.1 393.8h1.1M64.9 393.4h1.1M60.6 393.1h1.1M62.6 393.7h1.1M66.1 392.8h1.1M61.6 393.5h1.1M64.1 393.2h1.1M58.6 393.7h1.1M62.2 393.5h1.1M58.8 393.7h1.1M62.2 393.5h1.1M64.5 393.5h1.1M65.2 393.8h1.1M67.2 393.5h1.1M65.5 392.9h1.1M60.9 392.7h1.1M67.4 393.5h1.1M66.2 393.7h1.1M64.6 393.6h1.1M63.3 393.8h1.1M60.5 393.3h1.1M63.4 393.6h1.1M61.7 393.1h1.1M65.5 393.4h1.1M58.6 393.6h1.1M64.5 393.8h1.1M60.9 393.4h1.1M67.5 393.6h1.1M66.1 393.6h1.1M63.8 393.8h1.1M58.5 393.2h1.1M64.8 393.4h1.1M78.5 393.6h1.1M85.4 393.2h1.1M85.5 393.7h1.1M84.1 393.8h1.1M88.5 393.7h1.1M88.1 393.7h1.1M80.7 393.6h1.1M89.0 393.8h1.1M82.1 393.7h1.1M78.9 393.5h1.1M84.3 393.8h1.1M79.9 393.5h1.1M87.2 392.8h1.1M88.4 393.7h1.1M81.7 393.2h1.1M82.8 393.3h1.1M87.7 393.7h1.1M83.9 393.0h1.1M78.7 393.7h1.1M84.8 393.6h1.1M78.7 393.7h1.1M86.3 393.0h1.1M84.8 393.0h1.1M85.4 393.6h1.1M82.7 393.3h1.1M82.9 393.7h1.1M83.7 393.6h1.1M87.5 393.6h1.1M88.1 393.3h1.1M82.8 393.4h1.1M83.6 393.8h1.1M81.1 392.9h1.1M81.6 393.2h1.1M83.1 393.6h1.1M82.8 393.4h1.1M79.8 393.7h1.1M80.7 393.5h1.1M83.7 393.6h1.1M85.6 393.3h1.1M82.7 393.5h1.1M78.4 393.6h1.1M82.1 392.9h1.1M87.9 392.9h1.1M83.5 393.2h1.1M87.8 393.4h1.1M81.3 393.6h1.1M87.6 393.4h1.1M82.8 393.1h1.1M86.1 393.7h1.1M80.3 393.8h1.1M87.5 393.8h1.1M87.2 393.6h1.1M78.4 393.7h1.1M86.8 393.8h1.1M83.4 393.6h1.1M87.4 393.1h1.1M87.1 393.5h1.1M79.7 393.2h1.1M77.9 393.5h1.1M85.5 393.2h1.1M86.9 393.7h1.1M78.9 393.6h1.1M81.6 393.8h1.1M83.4 393.3h1.1M81.8 393.8h1.1M83.6 393.4h1.1M83.4 393.6h1.1M87.0 393.3h1.1M81.7 393.0h1.1M80.7 392.6h1.1M80.3 392.9h1.1M82.3 393.2h1.1M78.7 392.4h1.1M78.6 392.8h1.1M83.5 393.0h1.1M79.2 392.9h1.1M85.6 393.6h1.1M86.3 393.7h1.1M81.7 393.5h1.1M86.1 393.3h1.1M82.5 393.6h1.1M78.0 393.6h1.1M80.6 393.4h1.1M87.2 392.9h1.1M103.3 393.2h1.1M101.4 393.7h1.1M101.5 393.6h1.1M101.7 393.8h1.1M103.3 393.8h1.1M98.9 392.6h1.1M103.7 393.3h1.1M101.3 393.8h1.1M99.9 393.7h1.1M100.3 393.3h1.1M103.1 393.7h1.1M99.3 393.2h1.1M101.3 393.6h1.1M100.5 393.6h1.1M102.3 393.6h1.1M99.4 393.8h1.1M101.4 393.5h1.1M100.3 393.3h1.1M98.7 393.4h1.1M99.5 393.1h1.1M98.6 393.2h1.1M100.2 392.5h1.1M101.8 393.3h1.1M103.3 393.1h1.1M101.5 393.4h1.1M102.1 393.8h1.1M98.4 393.4h1.1M103.3 393.4h1.1M99.4 393.4h1.1M102.5 393.5h1.1M102.1 393.4h1.1M103.4 393.8h1.1M103.6 393.5h1.1M99.5 393.8h1.1M102.5 393.5h1.1M99.8 393.3h1.1M102.2 393.7h1.1M100.8 393.5h1.1M98.7 393.1h1.1" stroke="#ffe92e" stroke-width="1.1" stroke-opacity="0.94" fill="none"/><path d="M55.3 392.9h1.1M56.0 393.4h1.1M53.2 393.7h1.1M54.9 393.4h1.1M53.2 393.0h1.1M52.6 393.3h1.1M50.2 393.6h1.1M53.6 393.5h1.1M51.6 393.4h1.1M51.9 393.5h1.1M54.3 393.5h1.1M52.0 393.8h1.1M55.0 393.7h1.1M55.1 393.4h1.1M52.7 392.5h1.1M52.8 393.5h1.1M54.6 393.7h1.1M53.6 392.9h1.1M51.0 393.4h1.1M53.3 393.4h1.1M50.9 393.2h1.1M55.4 393.6h1.1M55.0 393.2h1.1M52.0 393.5h1.1M54.8 393.6h1.1M50.9 393.7h1.1M55.2 393.2h1.1M51.4 393.6h1.1M55.4 393.2h1.1M53.7 393.6h1.1M53.3 392.6h1.1M54.4 393.7h1.1M53.4 393.8h1.1M54.7 393.6h1.1M54.9 393.3h1.1M52.7 393.3h1.1M55.1 393.6h1.1M55.6 393.8h1.1M52.3 393.5h1.1M55.9 393.6h1.1M51.5 392.9h1.1M50.2 393.8h1.1M51.6 393.4h1.1M52.0 393.5h1.1M97.2 393.0h1.1M99.3 393.3h1.1M99.8 393.7h1.1M98.1 393.1h1.1M94.7 393.5h1.1M93.6 393.8h1.1M94.7 393.6h1.1M96.2 393.5h1.1M93.0 393.8h1.1M95.3 393.4h1.1M99.3 393.6h1.1M96.1 393.5h1.1M98.6 393.7h1.1M99.6 393.6h1.1M95.9 393.3h1.1M98.6 393.7h1.1M98.2 393.8h1.1M96.2 393.6h1.1M99.6 393.6h1.1M94.5 393.7h1.1M95.3 393.8h1.1M98.9 393.7h1.1M99.4 393.3h1.1M98.5 393.7h1.1M95.6 393.4h1.1M99.8 393.5h1.1M96.7 393.1h1.1M96.8 393.5h1.1M98.5 393.4h1.1M99.2 393.6h1.1M93.8 393.7h1.1M97.3 393.3h1.1M94.6 393.8h1.1M96.7 393.0h1.1M95.1 393.8h1.1M96.2 393.4h1.1M97.5 393.3h1.1M93.8 393.5h1.1M95.6 393.0h1.1M99.2 393.6h1.1M94.6 393.5h1.1M96.5 393.8h1.1M94.3 393.3h1.1M93.9 393.6h1.1M94.9 392.8h1.1M98.2 393.4h1.1M97.1 393.3h1.1M95.2 393.6h1.1M98.5 393.4h1.1M93.3 393.5h1.1" stroke="#ff4ade" stroke-width="1.1" stroke-opacity="0.94" fill="none"/><path d="M55.1 393.7h1.1M55.8 393.3h1.1M58.7 393.7h1.1M56.3 393.7h1.1M59.2 393.6h1.1M55.3 393.2h1.1M54.7 393.8h1.1M59.0 393.7h1.1M58.2 393.7h1.1M54.4 392.7h1.1M55.4 393.5h1.1M57.0 393.7h1.1M55.8 393.3h1.1M59.7 393.2h1.1M57.3 393.1h1.1M55.9 393.0h1.1M57.9 393.7h1.1M57.7 392.9h1.1M55.1 393.7h1.1M56.8 393.3h1.1M56.1 393.5h1.1M54.0 393.6h1.1M56.3 393.4h1.1M58.3 393.1h1.1M55.8 393.0h1.1M59.5 393.4h1.1M58.0 393.7h1.1M56.4 392.6h1.1M55.2 393.8h1.1M55.4 393.4h1.1M58.6 393.6h1.1M55.0 393.2h1.1M57.7 393.3h1.1M56.4 393.5h1.1M57.4 393.7h1.1M54.6 393.4h1.1M56.4 393.2h1.1M54.6 393.7h1.1M59.6 393.1h1.1M55.1 393.3h1.1M57.8 393.2h1.1M59.6 393.7h1.1M57.7 393.4h1.1M58.1 393.5h1.1" stroke="#a4ec2a" stroke-width="1.1" stroke-opacity="0.94" fill="none"/><path d="M70.0 393.4h1.1M70.4 393.1h1.1M68.0 393.7h1.1M69.2 393.6h1.1M70.6 393.3h1.1M70.3 393.6h1.1M68.5 393.8h1.1M68.1 393.2h1.1M66.3 393.3h1.1M67.2 393.5h1.1M70.3 393.7h1.1M66.4 393.7h1.1M70.8 393.5h1.1M69.8 393.4h1.1M68.6 393.1h1.1M71.4 393.4h1.1M66.2 393.8h1.1M66.6 393.4h1.1M69.8 393.6h1.1M70.5 393.5h1.1M67.1 393.7h1.1M67.9 393.7h1.1M68.7 393.6h1.1M70.4 393.7h1.1M70.1 393.4h1.1M71.4 393.1h1.1M69.9 393.6h1.1M68.1 393.0h1.1M66.3 392.7h1.1M69.7 393.8h1.1M66.5 392.6h1.1M68.6 393.8h1.1M66.1 393.8h1.1M69.7 393.7h1.1M70.5 393.1h1.1M69.2 393.7h1.1M68.0 393.3h1.1M71.5 393.8h1.1M70.4 393.7h1.1" stroke="#9a4cd0" stroke-width="1.1" stroke-opacity="0.94" fill="none"/><path d="M72.6 393.7h1.1M74.7 393.2h1.1M78.1 393.4h1.1M78.7 393.1h1.1M75.2 393.8h1.1M74.6 393.4h1.1M78.1 393.6h1.1M76.9 392.9h1.1M77.8 393.7h1.1M74.1 393.7h1.1M70.9 393.8h1.1M78.8 393.2h1.1M76.2 393.5h1.1M75.6 393.7h1.1M77.6 393.4h1.1M78.9 393.5h1.1M73.0 393.4h1.1M73.5 393.7h1.1M76.4 393.1h1.1M70.8 393.5h1.1M77.2 393.7h1.1M78.0 393.5h1.1M73.9 393.6h1.1M74.2 393.4h1.1M77.2 393.3h1.1M74.7 392.9h1.1M76.2 393.2h1.1M78.3 393.5h1.1M74.5 393.3h1.1M78.9 393.4h1.1M74.2 393.3h1.1M73.2 393.1h1.1M76.0 393.6h1.1M77.6 393.8h1.1M77.3 393.8h1.1M71.5 393.2h1.1M72.1 393.5h1.1M76.5 393.3h1.1M73.8 393.8h1.1M74.9 393.6h1.1M75.1 393.7h1.1M72.6 393.7h1.1M71.7 393.8h1.1M77.9 393.1h1.1M79.0 393.3h1.1M76.6 393.8h1.1M76.1 393.3h1.1M77.6 393.4h1.1M73.2 393.6h1.1M74.6 393.0h1.1M74.5 393.7h1.1M73.3 393.8h1.1M72.3 393.5h1.1M75.0 393.8h1.1M73.5 393.2h1.1M75.7 392.6h1.1M78.6 393.2h1.1M71.4 393.8h1.1M75.3 393.8h1.1M76.3 393.6h1.1M71.6 393.5h1.1" stroke="#ffbf66" stroke-width="1.1" stroke-opacity="0.94" fill="none"/><path d="M91.4 393.7h1.1M92.7 393.5h1.1M87.0 392.9h1.1M91.8 393.6h1.1M88.6 393.1h1.1M92.9 393.7h1.1M91.5 393.3h1.1M88.1 393.7h1.1M87.1 393.3h1.1M93.8 393.7h1.1M87.1 393.5h1.1M88.9 393.5h1.1M89.4 393.0h1.1M94.5 393.8h1.1M87.3 393.6h1.1M91.2 393.2h1.1M90.6 393.6h1.1M87.7 393.8h1.1M92.4 393.5h1.1M89.7 393.8h1.1M90.8 393.4h1.1M88.1 393.3h1.1M94.1 393.3h1.1M86.9 393.2h1.1M92.1 392.7h1.1M89.8 393.8h1.1M93.1 393.4h1.1M88.1 393.4h1.1M90.5 393.0h1.1M93.7 393.7h1.1M91.3 393.6h1.1M88.9 393.4h1.1M90.0 393.3h1.1M92.4 393.5h1.1M90.6 393.5h1.1M87.1 392.6h1.1M89.7 393.4h1.1M90.1 393.4h1.1M88.6 393.7h1.1M91.0 393.6h1.1M91.8 393.7h1.1M87.3 393.7h1.1M88.2 393.6h1.1M91.0 393.7h1.1M92.0 393.8h1.1M90.2 393.4h1.1M92.3 393.6h1.1M88.8 393.1h1.1M93.2 393.7h1.1M90.3 392.7h1.1M90.4 393.6h1.1M94.1 393.4h1.1M92.3 393.6h1.1M92.4 393.7h1.1M89.3 393.5h1.1M93.1 393.2h1.1M104.0 393.8h1.1M111.0 393.5h1.1M105.0 393.8h1.1M116.6 393.5h1.1M119.7 393.1h1.1M119.6 393.5h1.1M110.3 393.4h1.1M104.7 393.0h1.1M117.6 393.6h1.1M104.6 393.6h1.1M116.0 393.3h1.1M107.8 392.8h1.1M119.5 393.7h1.1M113.5 393.6h1.1M112.8 393.8h1.1M109.4 393.3h1.1M120.8 393.7h1.1M111.8 393.8h1.1M112.7 393.7h1.1M116.1 393.4h1.1M120.1 393.3h1.1M106.1 393.4h1.1M106.9 393.2h1.1M108.1 393.5h1.1M118.1 393.6h1.1M107.9 393.4h1.1M103.9 393.2h1.1M106.9 393.8h1.1M117.7 393.8h1.1M113.8 393.3h1.1M107.9 393.7h1.1M105.6 393.3h1.1M107.3 393.5h1.1M111.8 393.8h1.1M112.0 393.8h1.1M103.9 393.5h1.1M121.2 393.4h1.1M111.6 393.6h1.1M119.3 393.6h1.1M106.2 393.3h1.1M115.1 393.1h1.1M120.2 392.9h1.1M105.3 393.7h1.1M116.2 393.6h1.1M113.9 393.8h1.1M118.8 393.0h1.1M105.3 393.5h1.1M118.8 393.6h1.1M111.3 393.8h1.1M104.7 393.8h1.1M114.5 393.0h1.1M108.4 393.7h1.1M112.4 393.5h1.1M120.3 393.8h1.1M113.2 393.1h1.1M114.0 393.4h1.1M110.4 393.5h1.1M112.2 393.7h1.1M113.8 393.8h1.1M114.8 393.4h1.1M120.9 393.8h1.1M118.8 393.5h1.1M120.7 393.3h1.1M106.6 393.5h1.1M117.2 393.8h1.1M117.2 393.6h1.1M112.4 393.7h1.1M108.6 393.8h1.1M107.3 393.0h1.1M118.4 393.8h1.1M114.4 393.7h1.1M104.3 393.6h1.1M109.7 393.6h1.1M104.8 393.6h1.1M115.4 393.5h1.1M117.5 392.8h1.1M114.2 393.8h1.1M111.9 393.6h1.1M110.0 393.4h1.1M112.5 393.4h1.1M118.0 393.7h1.1M109.7 393.6h1.1M119.1 393.8h1.1M114.1 393.7h1.1M121.2 393.8h1.1M119.2 393.5h1.1M110.4 393.7h1.1M111.8 393.8h1.1M110.4 393.4h1.1M118.0 393.7h1.1M118.5 393.6h1.1M108.8 393.1h1.1M110.2 393.5h1.1M104.7 393.3h1.1M105.2 393.4h1.1M120.6 393.6h1.1M111.6 392.8h1.1M104.7 393.4h1.1M105.6 393.6h1.1M108.7 393.2h1.1M109.9 393.3h1.1M114.8 393.4h1.1M109.7 393.1h1.1M121.2 393.4h1.1M120.1 393.0h1.1M115.2 393.7h1.1M110.3 393.8h1.1M105.7 393.5h1.1M114.3 393.3h1.1M117.4 393.6h1.1M109.6 393.1h1.1M107.6 393.6h1.1M110.9 393.4h1.1M105.1 393.8h1.1M112.5 393.6h1.1M110.1 393.5h1.1M112.1 393.2h1.1M114.3 393.5h1.1M108.7 393.4h1.1M112.6 393.3h1.1M119.3 393.5h1.1M109.7 393.6h1.1M103.7 393.2h1.1M112.3 393.2h1.1M119.1 393.6h1.1M110.0 392.9h1.1M117.3 392.8h1.1M115.2 393.5h1.1M105.7 393.8h1.1M120.7 393.8h1.1M117.7 393.8h1.1M120.0 393.7h1.1M111.1 393.8h1.1M113.2 393.8h1.1M115.4 393.6h1.1M110.9 393.1h1.1M107.8 393.7h1.1M106.9 393.5h1.1" stroke="#ff8c1a" stroke-width="1.1" stroke-opacity="0.94" fill="none"/><path d="M61.0 393.7h1.1M63.1 393.4h1.1M68.2 393.1h1.1M71.1 393.7h1.1M65.2 393.2h1.1M61.0 393.8h1.1M68.6 393.2h1.1M65.4 393.0h1.1M70.3 393.8h1.1M70.8 393.8h1.1M67.5 393.6h1.1M67.3 393.3h1.1M74.7 393.2h1.1M71.1 393.5h1.1M70.3 393.5h1.1M62.8 393.4h1.1M62.3 393.5h1.1M67.4 393.8h1.1M62.2 392.7h1.1M74.7 393.8h1.1M66.7 393.1h1.1M60.8 393.4h1.1M71.7 393.7h1.1M71.4 393.7h1.1M66.1 393.8h1.1M65.8 393.7h1.1M62.2 393.0h1.1M70.3 392.7h1.1M66.0 393.0h1.1M69.1 393.3h1.1M62.8 393.6h1.1M62.2 393.6h1.1M75.2 393.4h1.1M65.5 393.6h1.1M68.4 392.6h1.1M65.0 393.4h1.1M61.6 393.3h1.1M64.4 393.2h1.1M71.7 393.8h1.1M71.1 393.6h1.1M63.5 393.5h1.1M63.9 393.5h1.1M63.2 393.6h1.1M60.3 393.8h1.1M61.6 393.4h1.1M65.8 393.8h1.1M60.6 393.5h1.1M70.2 392.9h1.1M64.9 393.7h1.1M75.2 393.8h1.1M60.2 393.5h1.1M61.9 393.3h1.1M60.8 393.8h1.1M73.1 393.5h1.1M65.8 393.5h1.1M65.0 393.6h1.1M70.9 393.3h1.1M60.8 393.5h1.1M69.2 393.8h1.1M67.3 393.5h1.1M68.0 393.4h1.1M66.8 393.8h1.1M61.5 393.5h1.1M66.2 393.6h1.1M66.1 393.7h1.1M73.5 393.4h1.1M64.9 393.4h1.1M73.8 393.5h1.1M64.4 393.6h1.1M65.7 393.7h1.1M64.8 393.7h1.1M61.8 393.8h1.1M65.5 393.2h1.1M72.4 393.1h1.1M73.6 392.7h1.1M73.2 393.5h1.1M62.7 393.6h1.1M63.6 393.0h1.1M74.3 393.8h1.1M65.5 393.5h1.1M64.9 393.5h1.1M62.9 393.6h1.1M65.4 393.6h1.1M68.1 393.7h1.1M63.0 393.4h1.1M63.6 392.6h1.1M67.9 393.7h1.1M74.3 393.7h1.1M61.5 393.3h1.1M64.8 393.1h1.1M67.1 393.5h1.1M60.3 392.8h1.1M61.7 393.3h1.1M71.5 393.7h1.1M73.6 393.3h1.1M64.5 393.4h1.1M60.9 393.7h1.1M65.1 393.6h1.1M71.9 393.5h1.1M73.2 393.3h1.1M62.8 393.2h1.1M60.6 393.3h1.1M65.2 393.3h1.1M71.8 393.8h1.1M66.9 393.5h1.1M70.9 393.7h1.1M60.0 393.3h1.1M70.2 393.7h1.1M62.8 393.8h1.1M72.3 393.2h1.1M61.8 393.4h1.1M63.3 393.6h1.1" stroke="#ff9ab4" stroke-width="1.1" stroke-opacity="0.94" fill="none"/><path d="M36.2 392.0h1.1M33.7 392.1h1.1M38.7 392.5h1.1M38.8 391.7h1.1M39.0 392.6h1.1M37.0 390.8h1.1M34.1 392.2h1.1M40.5 392.2h1.1M36.8 392.0h1.1M32.0 391.9h1.1M31.4 392.6h1.1M32.5 391.5h1.1M41.4 392.0h1.1M31.3 391.6h1.1M38.5 392.5h1.1M40.2 392.2h1.1M34.5 392.5h1.1M34.5 392.4h1.1M31.4 392.5h1.1M34.1 391.2h1.1M35.6 392.3h1.1M34.2 390.2h1.1M40.0 392.2h1.1M39.3 391.1h1.1M34.4 391.8h1.1M35.0 392.1h1.1M38.9 392.1h1.1M40.6 390.7h1.1M36.5 391.9h1.1M34.0 392.2h1.1M40.1 392.4h1.1M41.4 391.5h1.1M40.8 392.2h1.1M38.7 391.2h1.1M37.9 391.4h1.1M36.5 392.3h1.1M34.5 391.6h1.1M36.0 392.5h1.1M31.4 392.1h1.1M35.4 391.9h1.1M38.3 391.6h1.1M37.9 392.1h1.1M37.9 392.2h1.1M41.1 392.4h1.1M32.9 392.2h1.1M39.9 392.2h1.1M32.9 392.3h1.1M35.4 391.5h1.1M32.2 391.8h1.1M35.6 392.1h1.1M38.7 392.1h1.1M33.1 392.5h1.1M31.3 392.6h1.1M31.3 391.9h1.1M38.6 391.9h1.1M40.4 392.3h1.1M34.3 392.5h1.1M37.0 392.4h1.1M40.9 391.3h1.1M40.5 391.7h1.1M39.0 392.6h1.1M39.9 392.3h1.1M40.6 392.0h1.1M34.3 392.0h1.1M39.7 392.5h1.1M38.5 392.4h1.1M34.2 392.5h1.1M31.8 391.7h1.1M32.0 391.5h1.1M37.6 392.4h1.1" stroke="#ff5f8f" stroke-width="1.1" stroke-opacity="0.86" fill="none"/><path d="M66.1 392.8h1.1M66.4 392.6h1.1M66.2 393.0h1.1M66.2 394.0h1.1M66.3 392.9h1.1M66.3 393.8h1.1M66.2 393.6h1.1M65.7 394.1h1.1" stroke="#106a6a" stroke-width="1.1" stroke-opacity="0.72" fill="none"/><path d="M69.9 389.8h1.1M69.2 386.9h1.1M69.6 392.0h1.1M69.2 386.6h1.1M68.8 390.1h1.1M70.0 389.4h1.1M69.4 393.9h1.1M69.5 394.2h1.1M69.5 390.7h1.1M69.7 386.3h1.1M69.7 388.0h1.1M69.1 386.3h1.1M69.9 387.4h1.1M69.0 390.0h1.1M69.4 394.0h1.1M69.6 392.7h1.1" stroke="#9a4cd0" stroke-width="1.1" stroke-opacity="0.72" fill="none"/><path d="M85.1 385.4h1.1M85.3 393.0h1.1M84.5 386.8h1.1M84.9 389.2h1.1M84.9 388.2h1.1M84.8 387.3h1.1M85.0 391.8h1.1M84.8 386.5h1.1M85.2 385.0h1.1M84.8 388.1h1.1M85.0 387.4h1.1M85.0 393.4h1.1" stroke="#ffe92e" stroke-width="1.1" stroke-opacity="0.72" fill="none"/><path d="M75.0 393.4h1.1M75.2 392.9h1.1M75.3 392.8h1.1M75.4 391.8h1.1M46.2 393.0h1.1M45.8 392.2h1.1M46.3 392.8h1.1M46.9 392.4h1.1" stroke="#ff4ade" stroke-width="1.1" stroke-opacity="0.72" fill="none"/><path d="M103.1 372.8h1.1M103.1 385.7h1.1M103.2 380.1h1.1M103.2 381.1h1.1M103.3 389.0h1.1M103.2 376.6h1.1M104.1 392.2h1.1M102.9 373.6h1.1M103.0 373.5h1.1M103.6 376.3h1.1M103.3 379.6h1.1M103.3 378.7h1.1M104.5 381.0h1.1M103.0 387.3h1.1" stroke="#9a4cd0" stroke-width="1.1" stroke-opacity="0.5" fill="none"/><path d="M108.3 377.5h1.1M106.4 383.1h1.1M107.4 382.2h1.1M107.8 380.0h1.1M109.6 373.9h1.1M108.0 377.3h1.1M105.9 394.1h1.1M109.1 374.2h1.1M107.0 385.1h1.1M106.5 384.3h1.1M106.6 387.8h1.1M107.6 382.0h1.1M106.0 390.7h1.1M105.4 388.9h1.1M108.7 372.0h1.1M105.3 392.4h1.1M106.1 392.9h1.1M105.4 391.6h1.1M106.6 388.3h1.1M106.0 386.8h1.1M109.2 375.7h1.1M106.1 387.4h1.1M107.3 380.0h1.1M105.7 391.0h1.1M109.3 370.9h1.1M105.3 388.3h1.1M108.2 385.4h1.1M107.2 382.5h1.1M105.3 391.2h1.1M108.1 380.7h1.1M106.3 389.0h1.1M109.9 373.2h1.1M104.9 392.2h1.1M108.4 375.7h1.1M109.6 372.9h1.1M104.6 394.0h1.1M107.1 383.1h1.1M107.9 377.8h1.1M106.6 385.9h1.1M106.6 388.3h1.1M108.2 377.2h1.1M108.1 379.3h1.1M107.3 382.8h1.1M109.7 369.7h1.1M108.1 376.7h1.1M107.9 379.4h1.1M108.1 378.3h1.1M106.1 392.9h1.1M109.1 375.5h1.1M108.0 382.1h1.1M106.3 387.4h1.1M105.7 390.3h1.1M107.0 388.8h1.1M109.4 370.0h1.1M108.4 373.8h1.1M108.9 374.5h1.1M108.8 378.5h1.1M106.9 387.5h1.1M106.2 387.1h1.1M106.4 387.8h1.1M107.0 383.0h1.1M107.4 380.5h1.1M108.6 372.8h1.1M107.1 385.5h1.1M105.6 386.4h1.1M106.9 382.6h1.1M106.2 389.2h1.1M108.3 377.5h1.1M105.0 392.9h1.1M107.0 382.7h1.1M107.7 381.8h1.1M109.3 374.6h1.1M109.2 375.3h1.1M108.4 379.7h1.1M106.3 384.8h1.1M107.0 382.0h1.1M105.8 392.3h1.1M108.9 374.7h1.1M107.7 385.5h1.1M110.0 370.4h1.1M104.4 391.6h1.1M104.9 392.9h1.1M109.4 369.9h1.1M107.4 385.4h1.1M110.2 370.5h1.1M107.9 381.5h1.1M106.4 391.8h1.1M106.0 387.9h1.1M108.4 379.5h1.1M106.4 386.2h1.1M108.2 374.1h1.1M105.5 385.8h1.1M106.4 387.1h1.1M108.7 375.4h1.1M108.1 377.4h1.1M108.8 373.1h1.1M105.0 392.5h1.1M104.8 393.0h1.1M108.1 382.2h1.1M108.2 374.2h1.1M108.1 376.2h1.1M105.6 389.6h1.1M106.2 386.0h1.1M109.1 376.2h1.1M108.6 377.4h1.1M106.9 384.9h1.1M107.1 376.2h1.1M107.3 382.8h1.1M106.9 387.6h1.1M106.7 381.1h1.1M107.6 383.1h1.1M106.6 384.4h1.1M109.1 378.6h1.1M108.9 376.7h1.1M106.4 383.9h1.1M107.4 383.5h1.1M107.6 379.9h1.1M108.6 377.6h1.1M108.7 372.9h1.1M108.1 380.4h1.1M104.8 391.9h1.1M108.8 379.9h1.1M108.6 374.3h1.1M107.9 377.1h1.1M106.9 384.8h1.1M106.0 387.0h1.1M105.7 390.2h1.1M104.8 393.7h1.1M105.7 389.5h1.1M108.8 371.7h1.1M105.6 387.5h1.1M108.5 378.2h1.1M109.3 375.3h1.1M108.6 378.0h1.1M108.7 377.3h1.1M109.4 374.3h1.1M107.1 381.5h1.1M107.5 387.0h1.1M108.1 381.2h1.1M107.8 381.6h1.1M109.2 372.4h1.1M108.8 376.3h1.1M106.1 383.9h1.1M105.8 392.3h1.1M109.2 375.3h1.1M106.0 390.2h1.1M106.4 385.7h1.1M106.4 394.0h1.1M105.5 390.0h1.1M107.8 394.0h1.1M105.5 393.6h1.1M106.4 392.3h1.1M108.1 392.4h1.1M108.0 393.7h1.1M106.0 393.0h1.1M105.1 391.9h1.1M107.6 391.4h1.1M104.7 392.6h1.1M105.2 388.2h1.1M107.2 393.8h1.1M108.1 391.3h1.1M104.6 387.2h1.1M105.9 393.9h1.1M106.7 391.3h1.1M104.9 388.9h1.1M106.4 391.8h1.1M106.1 394.2h1.1M106.9 392.1h1.1M108.3 393.3h1.1M106.5 391.9h1.1M106.0 380.4h1.1M104.7 385.5h1.1M105.2 392.3h1.1M107.5 388.4h1.1M108.0 389.2h1.1M107.9 388.9h1.1M104.9 390.5h1.1M104.6 384.7h1.1M107.2 390.8h1.1M106.0 391.4h1.1M107.4 394.2h1.1M107.8 394.2h1.1M106.5 388.6h1.1M105.5 386.4h1.1M105.1 392.2h1.1M108.0 391.9h1.1M105.0 391.0h1.1M107.4 389.6h1.1M105.6 392.2h1.1M104.5 389.9h1.1M106.1 390.9h1.1M105.8 393.2h1.1M105.7 392.3h1.1M106.3 390.4h1.1M106.4 383.6h1.1M107.1 387.7h1.1M104.7 392.8h1.1M108.0 388.2h1.1M107.6 387.4h1.1M106.4 388.4h1.1M107.6 392.4h1.1M106.6 389.9h1.1M104.5 384.4h1.1M107.3 388.4h1.1M107.1 380.3h1.1M105.7 385.6h1.1M107.1 385.7h1.1M105.9 390.0h1.1M105.0 386.6h1.1M107.3 391.6h1.1M108.0 389.2h1.1M108.0 386.5h1.1M107.6 390.3h1.1M107.6 392.2h1.1M106.3 391.0h1.1M108.1 393.5h1.1M106.6 392.4h1.1M105.1 392.8h1.1M106.0 387.4h1.1M107.0 391.2h1.1M107.0 385.0h1.1M107.4 392.4h1.1M107.4 391.4h1.1M105.4 386.6h1.1M106.3 386.4h1.1M108.2 392.8h1.1M105.7 386.7h1.1M106.2 385.5h1.1M106.5 389.7h1.1M104.6 391.7h1.1M107.1 382.4h1.1M105.4 382.7h1.1M107.9 393.0h1.1M104.8 390.7h1.1M105.6 386.3h1.1M107.2 390.8h1.1M107.9 393.7h1.1M107.1 391.2h1.1M107.9 385.8h1.1M108.0 394.0h1.1M106.2 391.8h1.1M106.4 392.2h1.1M106.3 393.7h1.1M107.0 387.0h1.1M105.0 393.3h1.1M107.6 394.1h1.1M108.1 393.9h1.1M105.2 392.5h1.1M106.7 379.5h1.1M106.3 390.3h1.1M111.6 375.9h1.1M111.7 368.7h1.1M113.0 365.9h1.1M110.5 373.1h1.1M113.0 367.6h1.1M112.1 354.0h1.1M112.3 349.3h1.1M111.7 376.4h1.1M110.4 360.2h1.1M111.9 357.3h1.1M111.3 359.1h1.1M112.6 349.8h1.1M111.8 350.4h1.1M113.7 369.9h1.1M110.6 346.2h1.1M113.2 353.5h1.1M111.8 367.2h1.1M111.9 378.2h1.1M113.1 352.1h1.1M110.8 364.6h1.1M110.8 362.7h1.1M113.0 368.9h1.1M112.0 356.7h1.1M111.9 367.3h1.1M113.5 351.7h1.1M109.9 347.3h1.1M112.2 347.5h1.1M111.0 346.0h1.1M110.3 370.9h1.1M110.1 374.6h1.1M113.6 356.4h1.1M112.7 376.3h1.1M112.9 345.9h1.1M113.4 359.8h1.1M112.0 348.4h1.1M112.7 358.8h1.1M111.0 358.5h1.1M109.9 364.1h1.1M112.0 355.5h1.1M111.8 357.1h1.1M112.2 366.0h1.1M110.6 355.0h1.1M111.8 354.6h1.1M112.5 376.0h1.1M110.8 374.1h1.1M111.0 364.8h1.1M112.1 361.3h1.1M112.9 369.7h1.1M112.2 358.2h1.1M111.2 359.9h1.1M111.3 349.5h1.1M112.7 359.3h1.1M112.3 358.4h1.1M111.9 356.3h1.1M111.3 358.0h1.1M109.5 369.8h1.1M111.8 354.0h1.1M111.8 354.3h1.1M111.7 369.7h1.1M112.1 356.2h1.1M111.9 350.2h1.1M111.6 355.0h1.1M112.3 359.9h1.1M112.8 350.2h1.1M111.8 374.9h1.1M112.2 346.9h1.1M111.7 362.5h1.1M111.5 366.1h1.1M112.4 371.6h1.1M112.8 366.7h1.1M112.0 356.8h1.1M112.4 376.5h1.1M112.2 378.3h1.1M112.8 353.4h1.1M111.5 369.3h1.1M111.4 371.6h1.1M111.8 361.7h1.1M110.7 360.6h1.1M112.4 354.5h1.1M111.9 345.8h1.1M110.8 360.3h1.1M112.2 374.5h1.1M111.6 351.0h1.1M111.7 361.4h1.1M111.7 349.5h1.1M111.2 373.1h1.1M112.1 352.8h1.1M110.9 360.2h1.1M111.7 356.9h1.1M112.6 353.9h1.1M113.1 366.3h1.1M113.4 373.0h1.1M111.5 363.3h1.1M112.1 355.9h1.1M113.0 364.4h1.1M112.7 363.2h1.1M113.1 375.3h1.1M111.1 350.4h1.1M111.7 357.8h1.1M113.1 361.2h1.1M113.3 359.1h1.1M111.8 346.3h1.1M111.4 350.4h1.1M112.0 348.6h1.1M113.5 353.9h1.1M111.4 360.2h1.1M112.5 366.2h1.1M112.5 365.9h1.1M112.9 357.8h1.1M112.5 371.7h1.1M111.9 361.8h1.1M113.0 377.9h1.1M112.8 370.2h1.1M111.9 370.3h1.1M112.0 369.0h1.1M112.4 350.7h1.1M111.8 375.5h1.1M111.2 359.6h1.1M111.8 348.9h1.1M112.0 378.0h1.1M112.1 359.3h1.1M112.0 365.4h1.1M111.9 346.1h1.1M113.4 367.2h1.1M112.3 373.4h1.1M112.5 363.1h1.1M112.8 373.9h1.1M111.6 348.2h1.1M109.6 364.3h1.1M112.1 346.1h1.1M111.4 376.3h1.1M111.8 357.4h1.1M110.9 354.3h1.1M112.5 363.3h1.1M112.0 368.4h1.1M111.7 356.8h1.1M112.3 362.9h1.1M112.8 353.6h1.1M112.1 369.3h1.1M112.8 350.3h1.1M112.0 374.3h1.1M111.7 348.9h1.1M110.8 347.7h1.1M111.2 347.3h1.1M110.6 349.8h1.1M111.9 357.8h1.1M111.8 375.3h1.1M113.1 345.7h1.1M112.1 357.2h1.1M113.1 356.4h1.1M112.1 346.0h1.1M112.2 374.3h1.1M112.1 349.8h1.1M111.5 346.4h1.1M112.4 347.9h1.1M112.5 368.8h1.1M111.1 346.5h1.1M111.6 357.9h1.1M112.0 370.1h1.1M111.7 346.6h1.1M112.1 364.4h1.1M111.5 369.6h1.1M112.9 376.6h1.1M112.0 359.7h1.1M112.8 349.5h1.1M112.3 347.9h1.1M113.3 364.7h1.1M113.4 354.6h1.1M111.6 354.4h1.1M111.9 368.0h1.1" stroke="#ff8c1a" stroke-width="1.1" stroke-opacity="0.72" fill="none"/><path d="M111.6 376.1h1.1M108.8 357.0h1.1M110.6 351.9h1.1M110.7 359.4h1.1M109.4 373.6h1.1M108.4 374.9h1.1M110.4 352.9h1.1M109.7 375.9h1.1M109.6 355.3h1.1M111.6 372.4h1.1M110.9 366.3h1.1M109.8 374.9h1.1M109.2 347.9h1.1M109.1 366.0h1.1M111.4 359.1h1.1M111.2 379.5h1.1M110.0 369.8h1.1M109.0 366.2h1.1M108.6 368.6h1.1M111.1 352.8h1.1M109.6 351.7h1.1M109.8 359.7h1.1M110.9 372.3h1.1M110.2 357.2h1.1M109.0 361.9h1.1M108.3 344.6h1.1M110.1 380.4h1.1M108.4 353.4h1.1M110.0 349.6h1.1M108.2 348.3h1.1M110.7 362.9h1.1M109.3 352.4h1.1M107.7 379.9h1.1M110.4 348.4h1.1M110.9 368.3h1.1M110.6 349.1h1.1M109.2 357.0h1.1M111.3 356.9h1.1M110.3 366.6h1.1M109.1 371.3h1.1M109.7 352.9h1.1M110.8 366.7h1.1M110.4 349.4h1.1M111.3 358.8h1.1M109.3 358.7h1.1M109.4 367.9h1.1M110.5 373.3h1.1M111.9 375.8h1.1M109.5 371.7h1.1M108.9 350.5h1.1M109.5 352.3h1.1M110.6 350.1h1.1M109.0 354.4h1.1M110.4 375.3h1.1M110.6 344.6h1.1M110.2 377.8h1.1M110.3 373.1h1.1M109.6 376.3h1.1M109.0 348.1h1.1M110.6 372.6h1.1M108.1 380.5h1.1M111.1 367.6h1.1M109.5 373.3h1.1M108.6 345.1h1.1M109.5 354.6h1.1M108.9 359.8h1.1M109.6 351.5h1.1M109.1 360.0h1.1M110.3 374.2h1.1M109.8 380.4h1.1M109.8 356.8h1.1M110.7 355.4h1.1M109.4 378.8h1.1M108.9 360.4h1.1M108.1 372.3h1.1M109.6 368.9h1.1M109.5 375.4h1.1M110.9 380.4h1.1M109.7 371.6h1.1M111.4 359.8h1.1M110.0 360.4h1.1M110.8 367.1h1.1M108.8 375.3h1.1M108.5 359.1h1.1M110.5 370.8h1.1M108.6 354.2h1.1M111.4 363.0h1.1M109.5 372.6h1.1M109.8 348.4h1.1M109.0 365.4h1.1M120.0 386.2h1.1M115.6 373.7h1.1M110.5 389.2h1.1M114.8 382.7h1.1M118.6 387.5h1.1M115.4 391.0h1.1M120.8 374.4h1.1M112.8 381.7h1.1M120.7 379.5h1.1M119.2 382.6h1.1M109.8 374.0h1.1M119.4 380.9h1.1M118.8 389.7h1.1M120.3 389.2h1.1M107.9 391.9h1.1M117.5 373.7h1.1M116.8 371.2h1.1M121.3 388.2h1.1M107.0 370.9h1.1M113.5 385.7h1.1M120.1 384.1h1.1M117.0 377.9h1.1M108.5 375.9h1.1M120.7 381.5h1.1M114.5 375.8h1.1M116.5 373.8h1.1M112.0 372.3h1.1M109.3 374.0h1.1M117.3 385.2h1.1M119.4 371.0h1.1M119.3 373.2h1.1M111.0 387.9h1.1M111.9 380.3h1.1M112.0 389.5h1.1M118.9 385.0h1.1M109.4 371.0h1.1M118.8 371.0h1.1M120.7 376.9h1.1M117.4 378.9h1.1M117.9 375.7h1.1M115.4 392.6h1.1M114.6 374.0h1.1M107.3 386.3h1.1M118.9 383.6h1.1M114.5 382.8h1.1M113.6 384.0h1.1M116.3 390.4h1.1M109.4 372.7h1.1M116.6 392.5h1.1M114.5 390.0h1.1M111.7 385.8h1.1M113.9 386.5h1.1M111.5 379.6h1.1M118.3 379.9h1.1M107.9 379.5h1.1M116.3 378.8h1.1M110.3 385.1h1.1M114.6 377.1h1.1M112.6 378.0h1.1M119.3 389.5h1.1M114.7 378.9h1.1M109.3 371.4h1.1M113.0 374.6h1.1M115.5 380.2h1.1M118.2 392.8h1.1M111.5 375.1h1.1M112.6 379.7h1.1M114.7 373.6h1.1M112.1 376.2h1.1M115.9 371.6h1.1M113.9 379.7h1.1M110.3 389.4h1.1M109.6 379.3h1.1M111.3 370.7h1.1M112.8 391.2h1.1M115.9 373.5h1.1M109.3 384.4h1.1M118.0 391.6h1.1M108.9 380.8h1.1M120.0 386.8h1.1M113.3 380.8h1.1M107.9 383.9h1.1M107.1 390.4h1.1M110.5 374.5h1.1M114.4 381.5h1.1M119.5 376.3h1.1M107.0 389.7h1.1M113.9 383.2h1.1M115.0 385.3h1.1M118.5 381.8h1.1M114.4 379.4h1.1M111.5 389.7h1.1M111.0 387.7h1.1M115.6 389.9h1.1M120.0 379.8h1.1M111.4 374.0h1.1M111.9 386.8h1.1M119.5 380.1h1.1M118.1 379.8h1.1M120.2 383.0h1.1M107.9 378.4h1.1M110.4 373.6h1.1M111.0 386.8h1.1M116.8 387.2h1.1M107.4 390.1h1.1M108.3 392.2h1.1M121.3 371.3h1.1M121.3 391.7h1.1M120.3 393.3h1.1M117.2 373.3h1.1M117.2 376.7h1.1M107.0 391.7h1.1M111.0 372.4h1.1M119.1 386.1h1.1M110.4 384.9h1.1M111.0 373.2h1.1M120.1 381.5h1.1M107.4 393.0h1.1M121.0 388.3h1.1M117.0 390.2h1.1" stroke="#ffbf66" stroke-width="1.1" stroke-opacity="0.72" fill="none"/><path d="M105.7 381.3h1.1M105.8 351.9h1.1M105.9 380.0h1.1M105.6 378.5h1.1M106.8 358.5h1.1M106.1 383.9h1.1M106.6 389.4h1.1M105.3 363.5h1.1M105.4 373.3h1.1M105.8 384.9h1.1M106.1 352.3h1.1M105.2 352.7h1.1M105.6 373.4h1.1M106.7 351.4h1.1M106.2 377.8h1.1M105.8 363.7h1.1M105.3 388.0h1.1M106.0 372.1h1.1M105.8 374.6h1.1M105.6 373.1h1.1M106.4 380.3h1.1M106.1 383.5h1.1M106.0 353.6h1.1M106.8 381.5h1.1M106.1 369.3h1.1M106.1 387.0h1.1M105.7 383.4h1.1M105.9 349.2h1.1M105.6 377.0h1.1M106.0 377.1h1.1M105.3 362.7h1.1M106.8 371.5h1.1M105.4 351.8h1.1M105.9 366.7h1.1M106.5 361.6h1.1M105.5 375.2h1.1M105.8 387.7h1.1M105.7 366.2h1.1M106.1 355.9h1.1M106.5 366.3h1.1M106.1 389.2h1.1M106.0 380.7h1.1M105.7 360.6h1.1M106.1 357.1h1.1M106.5 386.1h1.1M106.0 362.1h1.1M106.6 375.1h1.1M105.9 390.6h1.1M106.5 372.9h1.1M106.6 371.1h1.1M106.4 368.9h1.1M105.8 353.0h1.1M105.2 389.0h1.1M106.3 354.2h1.1M106.7 363.6h1.1M106.6 359.3h1.1M106.2 368.1h1.1M106.2 359.7h1.1M106.3 390.1h1.1M106.2 379.7h1.1M106.9 367.3h1.1M105.4 390.2h1.1M106.1 380.9h1.1M106.0 358.6h1.1M106.1 369.0h1.1M107.0 361.0h1.1M106.1 383.7h1.1M105.5 383.4h1.1M105.9 362.4h1.1M105.6 361.6h1.1" stroke="#ff5a5a" stroke-width="1.1" stroke-opacity="0.72" fill="none"/><path d="M106.7 368.7h1.1M106.4 358.6h1.1M106.2 374.3h1.1M106.7 366.3h1.1M106.6 374.8h1.1M106.6 366.1h1.1M106.7 362.1h1.1M106.1 364.0h1.1M107.0 360.4h1.1M106.8 365.6h1.1M106.2 364.9h1.1M106.5 373.2h1.1M106.7 363.1h1.1M106.4 371.9h1.1M106.1 365.1h1.1M106.2 364.8h1.1M106.3 359.4h1.1M106.5 360.8h1.1M105.8 368.5h1.1M107.1 365.8h1.1M106.6 368.0h1.1M105.9 364.1h1.1M107.0 360.3h1.1M106.4 360.2h1.1M106.0 365.3h1.1M106.4 369.5h1.1" stroke="#ff3b30" stroke-width="1.1" stroke-opacity="0.72" fill="none"/><path d="M105.3 351.3h1.1M106.0 354.2h1.1M106.2 354.0h1.1M105.3 364.0h1.1M105.2 349.7h1.1M104.6 348.9h1.1M105.6 355.3h1.1M105.5 357.6h1.1M105.2 353.3h1.1M105.3 347.7h1.1M105.2 351.6h1.1M106.2 365.8h1.1M105.4 371.6h1.1M105.8 356.0h1.1M105.6 361.2h1.1M106.2 360.1h1.1M105.5 367.9h1.1M105.9 353.3h1.1M106.2 358.8h1.1M105.8 363.7h1.1M105.2 360.4h1.1M104.7 354.6h1.1" stroke="#6b7a3a" stroke-width="1.1" stroke-opacity="0.5" fill="none"/><path d="M107.2 343.9h1.1M109.7 360.4h1.1M109.5 338.3h1.1M110.2 306.2h1.1M109.4 313.6h1.1M109.8 309.6h1.1M109.6 300.8h1.1M108.2 340.3h1.1M108.1 304.2h1.1M109.5 342.2h1.1M109.7 368.7h1.1M108.4 309.4h1.1M109.6 310.2h1.1M107.4 345.2h1.1M109.5 315.8h1.1M111.2 334.5h1.1M107.4 368.4h1.1M108.2 316.4h1.1M109.2 350.2h1.1M108.0 367.4h1.1M105.9 352.6h1.1M109.7 336.9h1.1M108.1 367.2h1.1M107.6 329.9h1.1M109.5 366.2h1.1M108.5 357.2h1.1M107.3 329.3h1.1M107.6 320.7h1.1M107.5 336.9h1.1M107.3 355.4h1.1M106.7 361.7h1.1M107.1 350.9h1.1M108.1 310.0h1.1M110.5 320.3h1.1M106.7 336.5h1.1M111.0 294.6h1.1M107.7 358.6h1.1M108.0 356.9h1.1M110.4 367.9h1.1M109.3 325.6h1.1M109.1 366.3h1.1M108.5 361.7h1.1M107.9 367.5h1.1M108.0 328.1h1.1M107.6 359.3h1.1M106.6 304.8h1.1M108.4 309.4h1.1M109.3 352.6h1.1M107.5 367.7h1.1M108.3 368.9h1.1M108.1 337.6h1.1M107.8 342.4h1.1M108.1 351.9h1.1M107.1 326.8h1.1M109.6 303.8h1.1M106.9 304.9h1.1M107.2 344.4h1.1M108.2 356.5h1.1M107.9 362.1h1.1M107.6 317.0h1.1M107.2 297.4h1.1M108.2 365.9h1.1M106.8 366.5h1.1M111.1 294.0h1.1M109.0 309.8h1.1M110.2 346.5h1.1M108.7 314.4h1.1M110.2 344.7h1.1M109.4 333.3h1.1M108.3 363.5h1.1M111.4 361.9h1.1M109.2 341.9h1.1M107.3 326.2h1.1M110.5 326.7h1.1M106.0 327.2h1.1M109.2 320.2h1.1M106.9 320.9h1.1M107.3 334.2h1.1M107.9 294.2h1.1M107.4 367.9h1.1M109.3 358.7h1.1M109.1 361.4h1.1M109.7 313.0h1.1M110.6 312.4h1.1M108.7 302.4h1.1M106.6 357.6h1.1M109.3 345.5h1.1M110.2 302.0h1.1M108.5 328.3h1.1M109.8 295.0h1.1M108.1 334.4h1.1M106.5 348.1h1.1M107.5 350.9h1.1M108.4 368.9h1.1M107.8 362.5h1.1M109.9 342.9h1.1M110.4 368.8h1.1M109.4 364.3h1.1M109.5 330.3h1.1M109.1 302.0h1.1M110.4 327.0h1.1M109.4 359.1h1.1M110.1 364.7h1.1M109.6 365.2h1.1M107.7 343.6h1.1M108.9 368.6h1.1M106.5 368.2h1.1M109.9 297.1h1.1M105.9 368.9h1.1M106.6 353.3h1.1M108.2 366.2h1.1M107.4 294.4h1.1M111.8 353.8h1.1M107.0 344.2h1.1M111.0 368.3h1.1M109.7 357.2h1.1M109.0 315.2h1.1M107.2 293.9h1.1M111.0 363.9h1.1M107.2 317.0h1.1M109.0 343.0h1.1M108.9 368.2h1.1M108.0 351.6h1.1M108.4 366.5h1.1M109.8 334.8h1.1M108.8 354.2h1.1M109.7 341.8h1.1M108.0 343.6h1.1M108.2 359.3h1.1M107.6 352.9h1.1M110.5 315.3h1.1M106.9 338.8h1.1M107.2 319.6h1.1M106.7 293.5h1.1M112.7 303.3h1.1M108.1 303.0h1.1M107.8 346.9h1.1M108.6 295.4h1.1M109.4 324.0h1.1M108.1 359.0h1.1M109.5 323.8h1.1M108.2 305.4h1.1M106.7 321.9h1.1M109.4 346.7h1.1M108.8 355.8h1.1M109.2 368.7h1.1M107.8 362.6h1.1M106.3 364.4h1.1M109.0 336.0h1.1M110.1 339.4h1.1M109.4 362.0h1.1M110.1 358.9h1.1M110.2 323.9h1.1M109.4 338.0h1.1M107.6 309.0h1.1M109.6 335.3h1.1M110.0 343.7h1.1M108.7 361.6h1.1M108.0 312.6h1.1M110.9 321.9h1.1M109.3 368.3h1.1M106.0 304.4h1.1M106.7 356.5h1.1M108.7 352.0h1.1M106.8 354.1h1.1M108.2 297.2h1.1M109.0 298.3h1.1M108.5 316.8h1.1M106.4 356.3h1.1M106.9 299.6h1.1M109.2 360.8h1.1M109.6 364.4h1.1M108.2 357.8h1.1M108.7 347.2h1.1M107.6 311.8h1.1M107.6 349.9h1.1M109.4 331.1h1.1M110.1 292.4h1.1M107.6 299.0h1.1M107.9 356.5h1.1M110.4 351.8h1.1M111.0 299.3h1.1M107.2 320.9h1.1M108.9 335.2h1.1M108.7 360.9h1.1M109.4 336.4h1.1M109.4 329.8h1.1M107.9 306.8h1.1M108.3 360.1h1.1M108.6 345.9h1.1M109.7 314.3h1.1M106.7 367.6h1.1M107.3 334.5h1.1M108.6 341.4h1.1M109.7 333.0h1.1M107.2 322.0h1.1M110.6 346.9h1.1M109.0 357.5h1.1M110.0 354.7h1.1M109.1 364.7h1.1M108.6 341.3h1.1M107.5 349.7h1.1M108.7 364.6h1.1M107.9 363.5h1.1M109.7 303.5h1.1M108.6 316.5h1.1M109.5 368.5h1.1M108.4 355.7h1.1M109.2 310.9h1.1M110.4 359.4h1.1M106.7 301.1h1.1M108.6 362.0h1.1M110.1 331.8h1.1M109.7 295.4h1.1M108.4 365.5h1.1M107.7 368.7h1.1M106.1 367.2h1.1M108.6 332.1h1.1M108.0 368.9h1.1M108.7 320.8h1.1M108.8 324.5h1.1M107.2 365.3h1.1M108.9 332.5h1.1M110.1 342.2h1.1M105.2 350.3h1.1M107.2 368.9h1.1M109.5 321.6h1.1M109.3 300.3h1.1M108.6 340.8h1.1M108.7 357.0h1.1M109.9 329.9h1.1M107.9 341.4h1.1M107.1 363.2h1.1M107.3 337.7h1.1M107.3 364.7h1.1M108.9 366.5h1.1M108.9 354.9h1.1M108.6 354.8h1.1M108.6 366.4h1.1M110.4 313.2h1.1M108.4 295.2h1.1M107.2 299.4h1.1M106.5 368.7h1.1M109.9 356.4h1.1M109.8 290.7h1.1M109.0 355.9h1.1M110.2 360.8h1.1M109.5 315.6h1.1M107.9 368.8h1.1M108.0 320.9h1.1M108.9 352.8h1.1M107.8 342.9h1.1M106.8 348.2h1.1M109.6 367.1h1.1M108.3 302.9h1.1M110.0 297.8h1.1M109.2 362.1h1.1M110.2 312.1h1.1M107.2 363.5h1.1M110.1 348.5h1.1M113.0 381.0h1.1M115.1 390.8h1.1M118.9 388.0h1.1M109.2 387.1h1.1M109.9 387.1h1.1M108.0 374.5h1.1M110.9 373.2h1.1M119.2 373.7h1.1M110.9 390.6h1.1M118.5 374.6h1.1M118.7 379.7h1.1M107.1 376.5h1.1M107.2 389.8h1.1M115.9 377.2h1.1M111.6 377.2h1.1M111.5 381.9h1.1M106.1 382.2h1.1M110.9 381.0h1.1M115.6 376.6h1.1M113.9 379.1h1.1M119.2 379.6h1.1M113.0 372.4h1.1M115.4 382.4h1.1M106.0 390.8h1.1M107.0 381.6h1.1M115.5 384.1h1.1M109.5 386.4h1.1M116.5 387.6h1.1M112.7 372.7h1.1M112.8 383.1h1.1M117.9 377.6h1.1M118.5 371.5h1.1M106.9 390.8h1.1M115.1 385.5h1.1M115.8 389.1h1.1M117.7 386.6h1.1M108.9 385.2h1.1M108.4 378.2h1.1M114.8 377.8h1.1M114.3 386.6h1.1M111.7 378.0h1.1M108.4 387.1h1.1M107.9 386.2h1.1M112.1 388.0h1.1M108.0 375.0h1.1M118.8 388.6h1.1M108.2 391.6h1.1M109.2 376.1h1.1M106.3 387.7h1.1M107.0 393.2h1.1M119.5 379.6h1.1M112.4 387.8h1.1M116.5 378.2h1.1M112.1 375.3h1.1M118.6 387.8h1.1M112.7 388.8h1.1M111.4 386.8h1.1M114.1 374.7h1.1M119.2 385.3h1.1M107.3 382.6h1.1M117.7 391.2h1.1M106.4 390.3h1.1M112.8 378.1h1.1M106.8 390.4h1.1M119.7 378.9h1.1M106.2 379.9h1.1M116.6 390.5h1.1M112.8 376.8h1.1M107.3 378.8h1.1M108.0 379.5h1.1M111.2 380.1h1.1M118.5 371.0h1.1M114.0 378.8h1.1M109.3 388.5h1.1M107.8 377.0h1.1M116.5 387.9h1.1M115.9 384.4h1.1M108.1 388.7h1.1M112.7 390.8h1.1M112.2 385.7h1.1M116.3 379.4h1.1M110.3 371.2h1.1M106.4 372.5h1.1M109.7 381.6h1.1M119.0 382.7h1.1M116.5 384.1h1.1M114.2 389.4h1.1M114.5 371.1h1.1M115.7 372.4h1.1M115.2 391.6h1.1M118.4 389.7h1.1M115.5 377.0h1.1M113.6 381.3h1.1M117.4 391.6h1.1M112.8 382.9h1.1M106.9 391.1h1.1M118.7 381.5h1.1M107.5 373.3h1.1M116.9 376.5h1.1M107.8 388.7h1.1M111.5 388.2h1.1M116.3 373.5h1.1M119.3 382.5h1.1M117.2 380.9h1.1M106.8 381.1h1.1M120.3 391.0h1.1M114.2 378.4h1.1M110.4 380.5h1.1M117.7 391.4h1.1M117.4 391.6h1.1M117.0 382.9h1.1M106.7 387.3h1.1M108.2 379.2h1.1M118.1 371.7h1.1M112.5 374.8h1.1M106.0 373.0h1.1M106.8 392.9h1.1M112.6 372.1h1.1M111.4 380.6h1.1M119.5 385.3h1.1M116.2 389.7h1.1M107.5 386.7h1.1M111.6 382.5h1.1M107.2 381.2h1.1M117.9 390.4h1.1M118.8 372.5h1.1M107.9 378.5h1.1M110.5 376.8h1.1M108.8 385.0h1.1M110.9 373.6h1.1M113.7 374.7h1.1M109.4 388.4h1.1M114.3 381.5h1.1M111.0 372.0h1.1M115.0 381.3h1.1M107.2 386.5h1.1M119.5 378.7h1.1M111.5 373.8h1.1M114.1 390.6h1.1M115.2 372.8h1.1M118.2 389.0h1.1M106.3 370.8h1.1M113.8 379.9h1.1M113.2 385.7h1.1M109.2 377.9h1.1M109.5 370.9h1.1M117.2 380.9h1.1M116.1 383.3h1.1M113.9 388.1h1.1M117.6 376.5h1.1" stroke="#ff5a5a" stroke-width="1.1" stroke-opacity="0.61" fill="none"/><path d="M108.5 252.6h1.1M109.3 255.5h1.1M108.9 280.1h1.1M108.7 271.2h1.1M108.7 291.7h1.1M107.7 297.3h1.1M108.3 282.3h1.1M107.3 296.8h1.1M107.3 267.7h1.1M108.9 260.0h1.1" stroke="#ff5a5a" stroke-width="1.1" stroke-opacity="0.4" fill="none"/><path d="M110.4 341.3h1.1M109.6 353.1h1.1M109.2 347.3h1.1M108.9 323.4h1.1M111.3 331.0h1.1M110.2 345.4h1.1M110.1 334.6h1.1M110.7 351.9h1.1M109.0 337.5h1.1M109.5 323.4h1.1M109.6 320.2h1.1M108.9 345.5h1.1M109.2 348.9h1.1M109.4 326.1h1.1M109.5 355.8h1.1M109.7 325.4h1.1M109.0 334.1h1.1M109.5 331.8h1.1M110.8 325.0h1.1M108.9 330.0h1.1M108.4 357.1h1.1M108.5 318.9h1.1M108.6 344.8h1.1M109.9 337.8h1.1M109.1 340.1h1.1M109.4 343.8h1.1M108.2 350.7h1.1M107.7 332.6h1.1M109.3 330.9h1.1M108.2 354.1h1.1M110.3 335.6h1.1M109.2 354.3h1.1M110.0 340.9h1.1M108.7 354.2h1.1M110.1 358.9h1.1M111.4 340.8h1.1M109.6 358.0h1.1M109.1 337.1h1.1M109.2 361.1h1.1M109.5 348.7h1.1M109.3 351.2h1.1M108.0 356.3h1.1M112.0 340.0h1.1M109.9 321.9h1.1M109.0 361.6h1.1M110.0 349.7h1.1M110.6 361.2h1.1M108.4 326.7h1.1M108.6 354.9h1.1M109.2 339.8h1.1M111.5 349.9h1.1M110.2 333.0h1.1M109.3 343.2h1.1M109.8 339.1h1.1M108.6 359.9h1.1M107.7 332.3h1.1M109.1 342.7h1.1M107.8 353.8h1.1M106.6 326.1h1.1M109.4 362.4h1.1" stroke="#ffbf66" stroke-width="1.1" stroke-opacity="0.65" fill="none"/><path d="M110.5 335.7h1.1M110.3 340.3h1.1M110.1 334.6h1.1M111.1 340.3h1.1M110.8 354.9h1.1M110.9 358.9h1.1M111.2 342.4h1.1M110.4 367.9h1.1M111.8 331.5h1.1M111.3 331.6h1.1M108.6 340.9h1.1M110.6 341.5h1.1M110.1 327.6h1.1M110.6 362.6h1.1M107.3 367.8h1.1M108.0 325.1h1.1M110.7 364.5h1.1M110.8 345.6h1.1M111.6 332.5h1.1M109.4 363.4h1.1M109.7 368.0h1.1M111.6 351.7h1.1M108.6 333.0h1.1M109.1 326.5h1.1M109.7 351.2h1.1M110.3 331.8h1.1M111.6 351.8h1.1M109.2 363.5h1.1M110.8 356.7h1.1M109.2 345.6h1.1M110.3 347.6h1.1M110.6 339.4h1.1M109.7 359.8h1.1M111.6 350.2h1.1M109.3 356.0h1.1M108.6 339.2h1.1M111.5 368.7h1.1M110.1 366.8h1.1M110.1 335.5h1.1M109.7 343.9h1.1M110.7 368.9h1.1M109.8 343.0h1.1M110.7 341.5h1.1M111.4 329.5h1.1M111.8 337.4h1.1M110.8 361.6h1.1M109.9 335.0h1.1M109.0 330.4h1.1M111.1 338.0h1.1M113.0 350.1h1.1" stroke="#ffe92e" stroke-width="1.1" stroke-opacity="0.58" fill="none"/><path d="M107.6 238.5h1.1M107.3 316.1h1.1M107.3 301.8h1.1M107.6 285.1h1.1M107.3 308.5h1.1M107.3 265.5h1.1M107.0 350.1h1.1M107.4 275.1h1.1M107.1 304.0h1.1M107.5 288.1h1.1M107.3 320.2h1.1M107.7 352.6h1.1M107.2 250.1h1.1M107.2 311.9h1.1M107.4 318.2h1.1M107.1 342.8h1.1M107.3 282.7h1.1M107.3 284.9h1.1M107.3 339.8h1.1M107.4 266.0h1.1M107.4 321.7h1.1M107.4 351.2h1.1" stroke="#6b7a3a" stroke-width="1.1" stroke-opacity="0.43" fill="none"/><path d="M115.9 296.8h1.1M114.6 291.2h1.1M112.9 269.4h1.1M115.4 276.6h1.1M114.1 269.9h1.1M113.8 266.4h1.1M112.6 283.3h1.1M115.3 303.1h1.1M114.2 280.5h1.1M115.6 261.7h1.1M114.4 298.1h1.1M115.0 251.8h1.1M114.4 289.6h1.1M115.3 248.4h1.1M112.9 276.0h1.1M115.3 285.5h1.1M113.3 251.1h1.1M115.1 303.7h1.1M114.0 290.5h1.1M112.5 303.9h1.1" stroke="#ffe9a0" stroke-width="1.1" stroke-opacity="0.54" fill="none"/><path d="M109.3 371.7h1.1M112.1 371.8h1.1M108.7 375.7h1.1M109.5 383.7h1.1M109.8 375.2h1.1M114.1 378.8h1.1M110.9 390.8h1.1M112.6 389.5h1.1M108.7 373.6h1.1M113.9 391.1h1.1M108.5 370.0h1.1M111.7 376.2h1.1M110.0 384.5h1.1M110.2 376.4h1.1M112.0 378.9h1.1M109.5 371.7h1.1M116.1 379.2h1.1M117.5 371.2h1.1M114.1 387.9h1.1M115.3 386.1h1.1M113.5 385.0h1.1M116.0 376.3h1.1M114.0 378.2h1.1M115.4 386.1h1.1M110.8 386.7h1.1M113.0 370.6h1.1M117.3 369.5h1.1M115.9 380.2h1.1M114.5 390.4h1.1M114.5 369.7h1.1M112.9 372.1h1.1M115.7 391.1h1.1M115.9 379.7h1.1M109.7 369.9h1.1M115.5 372.9h1.1M109.0 370.4h1.1M115.8 388.7h1.1M109.7 374.4h1.1M110.1 379.1h1.1M112.1 385.5h1.1M108.7 389.0h1.1M111.2 390.7h1.1M111.0 389.8h1.1M117.1 383.8h1.1M114.9 371.5h1.1M109.9 386.5h1.1M108.4 373.0h1.1M115.1 373.9h1.1M117.0 371.7h1.1M114.9 386.0h1.1M108.7 382.9h1.1M112.0 377.4h1.1M114.0 376.6h1.1M112.5 385.1h1.1M116.7 385.1h1.1M108.7 376.4h1.1M114.3 381.2h1.1M112.0 376.2h1.1M116.1 374.5h1.1M113.6 389.1h1.1M110.3 383.0h1.1M115.8 371.1h1.1M111.1 377.3h1.1M113.3 374.9h1.1M117.0 376.5h1.1M114.1 383.4h1.1M117.1 379.1h1.1M109.4 384.9h1.1M114.0 387.9h1.1M109.9 371.3h1.1M115.2 384.9h1.1M109.1 380.2h1.1M115.0 377.9h1.1M113.7 371.0h1.1M114.6 386.4h1.1M116.6 382.6h1.1M114.6 386.8h1.1M109.0 381.8h1.1M110.4 387.9h1.1M110.1 387.4h1.1M112.0 389.3h1.1M110.3 376.8h1.1M115.5 386.8h1.1M117.0 381.9h1.1M114.9 371.3h1.1M108.4 379.1h1.1M109.1 391.1h1.1M112.9 370.9h1.1M110.9 370.1h1.1M114.6 375.3h1.1" stroke="#5fdc3c" stroke-width="1.1" stroke-opacity="0.61" fill="none"/><path d="M115.6 387.1h1.1M118.3 393.2h1.1M111.2 388.3h1.1M117.8 387.2h1.1M111.0 392.8h1.1M118.0 389.3h1.1M113.1 371.3h1.1M113.8 376.1h1.1M120.4 392.9h1.1M116.6 384.4h1.1M114.3 374.2h1.1M112.3 372.4h1.1M116.3 385.7h1.1M110.4 385.5h1.1M116.6 380.9h1.1M114.2 387.8h1.1M119.1 376.8h1.1M110.0 374.7h1.1M117.3 388.9h1.1M120.4 381.5h1.1M115.8 392.7h1.1M120.1 389.9h1.1M113.7 373.0h1.1M121.2 371.3h1.1M120.4 378.5h1.1M115.0 377.6h1.1M111.9 384.6h1.1M120.9 390.8h1.1M121.3 389.5h1.1M112.3 385.6h1.1M119.8 383.5h1.1M111.7 378.3h1.1M110.9 383.3h1.1M120.5 382.6h1.1M111.9 382.5h1.1M118.5 388.7h1.1M115.7 393.0h1.1M114.4 372.6h1.1M115.3 376.4h1.1M119.2 378.8h1.1M115.3 386.7h1.1M119.8 381.9h1.1M110.5 375.5h1.1M119.8 376.1h1.1M119.5 382.2h1.1M116.9 378.5h1.1M111.0 389.8h1.1M113.5 382.5h1.1M116.0 372.1h1.1M116.8 378.1h1.1M110.6 375.1h1.1M114.8 382.7h1.1M110.7 375.9h1.1M117.9 391.6h1.1M116.8 374.4h1.1M117.4 374.7h1.1M114.6 388.7h1.1M111.9 375.0h1.1M113.0 371.6h1.1M116.4 380.4h1.1" stroke="#ffe9a0" stroke-width="1.1" stroke-opacity="0.72" fill="none"/><path d="M118.3 391.1h1.1M120.4 385.4h1.1M117.0 386.0h1.1M119.7 389.5h1.1M114.8 385.8h1.1M117.9 392.3h1.1M116.2 391.1h1.1M118.4 390.2h1.1M112.2 383.4h1.1M114.5 389.6h1.1M119.3 384.8h1.1M114.7 392.0h1.1M117.2 390.9h1.1M113.8 388.6h1.1M113.2 388.2h1.1M116.1 391.2h1.1M117.0 383.0h1.1M117.0 383.8h1.1M118.8 384.2h1.1M113.7 384.7h1.1M117.4 393.3h1.1M114.7 384.5h1.1M112.4 392.3h1.1M119.6 381.9h1.1M117.4 383.0h1.1M120.3 386.4h1.1M114.0 393.2h1.1M118.4 382.0h1.1M117.1 392.7h1.1M120.5 385.4h1.1" stroke="#ff4ade" stroke-width="1.1" stroke-opacity="0.58" fill="none"/><path d="M116.1 359.8h1.1M116.5 379.8h1.1M116.6 361.3h1.1M117.3 371.6h1.1M116.6 359.8h1.1M116.7 363.9h1.1M116.6 379.7h1.1M116.1 363.3h1.1M116.4 371.4h1.1M117.7 360.2h1.1M116.9 363.3h1.1M117.3 368.9h1.1M117.3 363.5h1.1M116.5 372.7h1.1M115.8 363.4h1.1M116.4 375.7h1.1M116.2 373.4h1.1M116.9 365.0h1.1M117.0 374.9h1.1M115.7 373.6h1.1M117.3 360.5h1.1M116.0 361.6h1.1M116.8 382.5h1.1M116.3 384.1h1.1M117.1 360.5h1.1M116.7 381.0h1.1M116.8 361.6h1.1M116.9 379.6h1.1M117.2 366.8h1.1M116.2 377.2h1.1M117.0 384.2h1.1M117.2 384.3h1.1M116.4 381.2h1.1M116.7 367.6h1.1M116.3 368.9h1.1M116.8 384.6h1.1M117.1 377.5h1.1M116.2 383.4h1.1M116.1 383.4h1.1M117.2 381.6h1.1M116.5 374.4h1.1M116.8 378.8h1.1M117.4 378.8h1.1M116.5 372.6h1.1M116.6 367.8h1.1M116.4 379.1h1.1M117.1 376.5h1.1M116.3 377.7h1.1M116.8 368.2h1.1M117.0 381.6h1.1M118.4 374.4h1.1M118.2 387.3h1.1M118.1 382.3h1.1M118.4 385.7h1.1M118.3 373.9h1.1M118.2 384.8h1.1M117.8 369.6h1.1M118.4 371.4h1.1M117.6 368.7h1.1M118.7 365.5h1.1M118.2 381.9h1.1M117.8 375.7h1.1M118.1 385.7h1.1M118.5 370.0h1.1M118.3 369.9h1.1M117.6 383.1h1.1M118.2 364.7h1.1M117.7 379.8h1.1M118.3 377.3h1.1M118.6 362.9h1.1M118.6 377.6h1.1M118.3 381.2h1.1M118.4 384.2h1.1M118.2 377.8h1.1M118.3 368.8h1.1M119.1 381.0h1.1M118.1 377.4h1.1M118.0 368.9h1.1M118.5 378.8h1.1M118.9 384.0h1.1M118.3 387.6h1.1M118.5 366.5h1.1M119.5 382.2h1.1M118.9 371.5h1.1M117.9 371.2h1.1M117.8 368.3h1.1M118.4 383.2h1.1M118.7 376.8h1.1M118.4 364.6h1.1M118.7 370.9h1.1M118.1 385.9h1.1M117.5 377.8h1.1M117.9 375.3h1.1M117.7 376.9h1.1" stroke="#3a6cff" stroke-width="1.1" stroke-opacity="0.61" fill="none"/><path d="M115.1 377.2h1.1M114.2 370.2h1.1M114.9 364.9h1.1M114.4 380.9h1.1M114.8 370.9h1.1M114.5 380.1h1.1M115.2 375.6h1.1M115.1 370.8h1.1M114.9 365.5h1.1M114.6 365.5h1.1M114.5 377.5h1.1M114.7 371.4h1.1M114.9 366.2h1.1M114.9 364.7h1.1M114.5 384.5h1.1M115.1 365.8h1.1M114.9 376.2h1.1M114.9 372.8h1.1M114.9 378.0h1.1M114.9 367.5h1.1M114.5 383.8h1.1M114.8 364.2h1.1M115.0 381.2h1.1M114.9 375.7h1.1" stroke="#3a6cff" stroke-width="1.1" stroke-opacity="0.5" fill="none"/><path d="M119.2 376.2h1.1M119.9 372.2h1.1M119.4 357.9h1.1M119.0 367.3h1.1M118.9 352.4h1.1M119.0 345.3h1.1M118.6 371.7h1.1M119.5 360.5h1.1M119.5 351.6h1.1M119.3 378.4h1.1M119.1 352.3h1.1M119.4 348.7h1.1" stroke="#b4a4ff" stroke-width="1.1" stroke-opacity="0.5" fill="none"/><path d="M120.6 371.8h1.1M120.3 371.3h1.1M120.6 367.1h1.1M120.7 390.5h1.1M121.0 386.4h1.1M120.2 385.7h1.1M121.1 378.0h1.1M120.8 387.1h1.1M120.6 382.1h1.1M120.5 381.2h1.1M120.7 383.3h1.1M120.7 371.1h1.1M120.2 382.1h1.1M120.7 377.9h1.1M120.7 382.3h1.1M120.5 378.8h1.1M120.6 376.9h1.1M120.6 387.6h1.1M120.7 367.7h1.1M120.7 384.7h1.1" stroke="#b4a4ff" stroke-width="1.1" stroke-opacity="0.72" fill="none"/><path d="M157.2 321.2h1.1M156.8 315.5h1.1M157.1 317.1h1.1M156.6 315.2h1.1M156.4 313.5h1.1M151.9 321.4h1.1M157.8 320.0h1.1M153.6 318.7h1.1M152.2 318.0h1.1M157.1 323.3h1.1M157.1 324.9h1.1M152.0 320.4h1.1M154.1 319.6h1.1M155.7 316.8h1.1M152.8 322.4h1.1M154.9 314.8h1.1M156.6 312.6h1.1M157.7 312.8h1.1M150.6 318.0h1.1M156.6 318.5h1.1M151.7 311.6h1.1M154.6 316.4h1.1M156.2 322.6h1.1M156.0 314.5h1.1M156.0 307.2h1.1M150.7 317.9h1.1M150.7 320.0h1.1M155.8 325.9h1.1M154.6 315.3h1.1M157.0 311.3h1.1M155.5 316.6h1.1M151.7 318.8h1.1M156.9 313.5h1.1M157.0 321.4h1.1M157.9 311.9h1.1M155.9 313.2h1.1M151.0 313.5h1.1M152.1 316.8h1.1M154.5 310.7h1.1M155.3 318.6h1.1M153.2 315.2h1.1M154.7 319.2h1.1M154.0 310.5h1.1M153.9 327.2h1.1M152.3 319.9h1.1M156.9 315.6h1.1M151.9 308.8h1.1M151.9 317.4h1.1M151.4 318.4h1.1M156.4 322.4h1.1M150.6 324.2h1.1M150.5 314.3h1.1M152.1 317.0h1.1M156.4 322.0h1.1M153.6 326.2h1.1M155.6 318.1h1.1M154.3 312.8h1.1M151.0 322.3h1.1M150.5 315.8h1.1M155.2 316.8h1.1M151.5 320.1h1.1M152.1 321.6h1.1M152.7 309.1h1.1M154.9 319.3h1.1M175.3 312.2h1.1M174.5 312.5h1.1M174.9 311.6h1.1M175.1 311.3h1.1M178.0 311.7h1.1M176.3 311.5h1.1M177.0 312.4h1.1M174.5 311.5h1.1M177.1 312.8h1.1M177.3 312.5h1.1M174.8 313.0h1.1M175.3 311.1h1.1M178.4 310.7h1.1M177.3 313.0h1.1M174.6 312.0h1.1M175.5 313.2h1.1M174.2 312.4h1.1M176.0 312.0h1.1M175.2 312.1h1.1M176.3 311.9h1.1M176.3 311.8h1.1M175.3 312.0h1.1M173.9 313.0h1.1M174.8 312.8h1.1M241.2 313.8h1.1M239.7 314.1h1.1M240.3 316.3h1.1M241.8 305.3h1.1M237.9 320.8h1.1M241.8 327.2h1.1M238.7 313.2h1.1M238.7 316.3h1.1M239.5 312.1h1.1M237.6 315.0h1.1M239.7 304.2h1.1M240.0 310.2h1.1M237.8 311.0h1.1M238.5 312.0h1.1M241.7 317.9h1.1M237.6 308.4h1.1M241.1 321.0h1.1M239.0 317.4h1.1M237.7 312.8h1.1M238.8 309.8h1.1M237.4 310.1h1.1M240.9 315.8h1.1M239.3 315.4h1.1M237.4 315.4h1.1M241.2 320.5h1.1M240.7 318.7h1.1M237.9 316.9h1.1M240.8 318.2h1.1M237.6 319.8h1.1M239.2 318.4h1.1M239.0 309.7h1.1M237.5 312.3h1.1M237.8 307.9h1.1M239.8 314.3h1.1M239.6 323.9h1.1M238.8 312.7h1.1M240.1 308.7h1.1M241.2 313.7h1.1M239.5 307.4h1.1M238.1 316.5h1.1M241.3 316.8h1.1M238.3 319.6h1.1M240.6 314.0h1.1M239.1 312.7h1.1M241.6 316.1h1.1M239.3 311.6h1.1M237.6 319.8h1.1M239.7 313.9h1.1M241.1 319.2h1.1M239.4 312.6h1.1M239.3 314.3h1.1M241.5 305.1h1.1M241.5 314.4h1.1M238.8 318.6h1.1M239.3 319.0h1.1M241.1 319.3h1.1M238.7 311.0h1.1M238.4 315.0h1.1M240.1 315.5h1.1M239.8 319.2h1.1" stroke="#3a6cff" stroke-width="1.1" stroke-opacity="0.72" fill="none"/><path d="M150.5 316.4h1.1M152.3 312.7h1.1M151.0 312.9h1.1M153.0 317.3h1.1M151.9 314.7h1.1M153.0 313.9h1.1M153.4 311.7h1.1M151.9 308.9h1.1M150.9 314.8h1.1M151.2 314.3h1.1M150.8 316.9h1.1M151.3 312.1h1.1M152.7 313.8h1.1M153.1 311.9h1.1M151.1 318.1h1.1M152.8 311.1h1.1M152.9 315.4h1.1M152.1 315.9h1.1M150.5 312.8h1.1M151.5 312.4h1.1M153.4 317.8h1.1M151.9 319.3h1.1M151.8 312.9h1.1M151.9 309.7h1.1M153.2 313.5h1.1M151.5 312.5h1.1M191.3 315.1h1.1M190.9 313.4h1.1M192.9 315.0h1.1M194.1 316.6h1.1M191.8 314.6h1.1M192.7 314.6h1.1M192.5 313.5h1.1M192.7 314.0h1.1M190.9 313.5h1.1M191.1 313.6h1.1M193.6 315.3h1.1M191.1 315.8h1.1M193.6 316.2h1.1M191.5 316.4h1.1" stroke="#1e90ff" stroke-width="1.1" stroke-opacity="0.72" fill="none"/><path d="M157.1 314.9h1.1M154.0 314.5h1.1M153.7 314.5h1.1M151.6 314.3h1.1M152.3 314.6h1.1M155.2 313.8h1.1M154.1 315.2h1.1M156.1 314.9h1.1M154.5 314.7h1.1M152.6 315.1h1.1M158.3 314.5h1.1M153.9 315.9h1.1M155.6 313.9h1.1M157.8 314.7h1.1M158.7 314.8h1.1M151.9 315.0h1.1M152.0 314.4h1.1M150.6 314.5h1.1M157.8 314.1h1.1M150.9 315.2h1.1M151.2 314.6h1.1M156.4 314.5h1.1M154.9 314.6h1.1M151.3 314.6h1.1M155.1 314.5h1.1M158.3 314.4h1.1M157.6 314.5h1.1M157.8 314.3h1.1M151.1 315.0h1.1M157.3 314.8h1.1M153.9 314.8h1.1M154.8 315.4h1.1M151.5 314.1h1.1M153.4 314.3h1.1M152.2 314.8h1.1M161.1 314.8h1.1M159.3 315.3h1.1M152.2 314.9h1.1M152.5 314.8h1.1M158.2 315.2h1.1M153.4 314.6h1.1M158.1 314.1h1.1M159.9 314.4h1.1M159.8 314.7h1.1M155.7 314.5h1.1M158.3 314.3h1.1M158.5 314.9h1.1M154.9 314.3h1.1M151.3 314.6h1.1M155.2 314.7h1.1M159.9 314.4h1.1M154.3 314.8h1.1M154.0 314.8h1.1M159.9 315.2h1.1M158.5 314.2h1.1M158.8 314.6h1.1M154.5 314.6h1.1M154.9 315.2h1.1M160.6 314.1h1.1M156.6 314.7h1.1M157.7 314.7h1.1M154.3 314.9h1.1M161.0 314.9h1.1M155.7 314.8h1.1M159.5 314.4h1.1M159.2 315.8h1.1M150.4 313.9h1.1M159.2 314.4h1.1M161.4 314.8h1.1M150.6 315.4h1.1M159.9 315.5h1.1M151.6 314.2h1.1M159.0 314.6h1.1M160.8 315.4h1.1M159.7 314.4h1.1M152.6 314.7h1.1M161.2 315.1h1.1M156.8 313.7h1.1M151.3 315.1h1.1M153.9 314.8h1.1M159.9 314.4h1.1M154.0 315.2h1.1M150.6 314.8h1.1M156.8 315.0h1.1M151.3 314.0h1.1M156.9 315.1h1.1M152.1 313.8h1.1M158.4 314.5h1.1M155.4 314.3h1.1M153.7 314.4h1.1M150.6 314.7h1.1M161.4 315.4h1.1M157.4 314.3h1.1M150.5 314.8h1.1M157.6 315.3h1.1M156.2 314.0h1.1M156.8 314.9h1.1M152.2 315.9h1.1M154.2 315.5h1.1M151.0 315.2h1.1M157.3 314.1h1.1M157.2 314.0h1.1" stroke="#ffc4cc" stroke-width="1.1" stroke-opacity="0.94" fill="none"/><path d="M165.0 314.8h1.1M164.5 315.1h1.1M165.3 314.5h1.1M159.8 315.4h1.1M160.9 314.3h1.1M161.8 314.5h1.1M165.1 314.7h1.1M158.9 314.3h1.1M164.7 315.1h1.1M164.2 314.5h1.1M157.1 314.3h1.1M159.9 314.5h1.1M156.9 314.2h1.1M162.0 314.3h1.1M160.9 314.3h1.1M158.1 314.4h1.1M164.5 314.6h1.1M160.3 314.5h1.1M163.0 314.2h1.1M160.8 315.2h1.1M158.1 314.7h1.1M160.0 315.2h1.1M158.8 314.1h1.1M163.1 314.9h1.1M161.0 313.3h1.1M156.9 314.5h1.1M158.6 315.2h1.1M157.7 314.4h1.1M161.6 315.5h1.1M164.9 313.8h1.1M164.2 314.9h1.1M162.3 314.3h1.1M159.0 314.7h1.1M163.0 314.4h1.1M161.2 314.5h1.1M157.7 315.4h1.1M162.4 314.1h1.1M157.2 314.0h1.1M160.3 315.0h1.1M165.0 315.5h1.1M163.9 314.7h1.1M162.7 314.7h1.1M162.4 315.3h1.1M160.7 315.0h1.1M162.4 314.6h1.1M160.9 315.0h1.1M161.0 314.9h1.1M165.1 315.2h1.1M162.0 314.6h1.1M164.2 315.5h1.1M161.5 313.9h1.1M160.5 313.9h1.1M162.6 314.3h1.1M156.6 314.6h1.1M163.2 315.0h1.1M156.7 313.8h1.1M160.1 314.9h1.1M162.0 314.3h1.1M160.1 314.8h1.1M162.3 314.6h1.1M161.7 313.7h1.1M161.7 315.7h1.1M159.6 314.9h1.1M161.2 314.7h1.1M163.2 313.9h1.1M165.0 314.7h1.1M163.6 315.6h1.1M163.0 314.5h1.1M164.5 315.4h1.1M160.0 314.4h1.1M163.9 315.2h1.1M157.3 313.8h1.1M162.2 314.7h1.1M164.6 314.8h1.1M164.7 314.6h1.1M163.8 315.0h1.1M157.4 316.4h1.1M158.7 315.0h1.1M160.8 315.2h1.1M160.6 314.4h1.1M164.3 315.1h1.1" stroke="#ff5f8f" stroke-width="1.1" stroke-opacity="0.94" fill="none"/><path d="M164.9 314.2h1.1M171.0 314.0h1.1M165.9 314.2h1.1M166.4 313.9h1.1M169.2 314.0h1.1M171.9 314.1h1.1M169.7 315.3h1.1M172.6 314.2h1.1M166.1 314.9h1.1M172.9 313.7h1.1M164.5 313.9h1.1M167.7 314.8h1.1M166.1 315.3h1.1M172.8 313.4h1.1M166.6 314.8h1.1M167.4 314.8h1.1M168.0 314.1h1.1M172.4 314.7h1.1M164.2 314.5h1.1M172.0 313.9h1.1M168.3 314.6h1.1M169.8 314.0h1.1M169.2 314.7h1.1M171.7 313.5h1.1M172.3 314.1h1.1M173.2 314.4h1.1M167.2 314.7h1.1M166.8 314.7h1.1M166.2 314.6h1.1M171.0 314.3h1.1M168.0 313.6h1.1M165.1 314.5h1.1M172.4 314.9h1.1M168.3 315.5h1.1M171.1 314.3h1.1M168.3 314.2h1.1M170.8 313.0h1.1M166.6 314.6h1.1M167.9 315.0h1.1M171.5 313.8h1.1M167.1 314.1h1.1M171.0 314.5h1.1M166.6 314.9h1.1M172.0 314.5h1.1M166.9 314.1h1.1M171.2 314.7h1.1M164.4 314.2h1.1M168.7 314.1h1.1M173.2 314.2h1.1M164.5 313.8h1.1M169.0 314.5h1.1M169.1 314.2h1.1M169.8 314.2h1.1M166.3 314.9h1.1M164.7 315.1h1.1M170.7 314.0h1.1M166.9 315.1h1.1M172.2 314.2h1.1M167.0 314.7h1.1M168.6 314.2h1.1M170.2 313.9h1.1M166.9 314.3h1.1M172.5 314.1h1.1M171.5 313.7h1.1M171.3 314.1h1.1M168.0 314.5h1.1M167.4 315.0h1.1M167.1 313.7h1.1M168.1 314.6h1.1M169.5 314.4h1.1M171.0 314.1h1.1M166.3 314.1h1.1M172.5 314.0h1.1M166.5 313.6h1.1M169.6 314.1h1.1M172.0 314.1h1.1M167.6 314.1h1.1M165.2 314.3h1.1M167.2 314.5h1.1M170.9 315.1h1.1M164.8 314.3h1.1M216.0 315.2h1.1M214.1 315.4h1.1M218.1 316.5h1.1M217.3 315.7h1.1M215.7 316.1h1.1M213.3 316.3h1.1M211.7 315.6h1.1M218.3 315.5h1.1M215.7 316.2h1.1M216.9 315.5h1.1M218.4 314.8h1.1M218.4 315.1h1.1M216.8 315.7h1.1M217.2 315.1h1.1M215.2 315.4h1.1M214.4 315.4h1.1M214.0 316.2h1.1M212.5 315.4h1.1M216.5 315.1h1.1M217.6 315.4h1.1M217.2 315.1h1.1M218.7 315.5h1.1M212.9 316.8h1.1M213.5 316.3h1.1M213.7 315.5h1.1M215.2 316.3h1.1M211.6 315.9h1.1M217.2 315.9h1.1M211.8 315.9h1.1M214.6 315.9h1.1M216.3 316.8h1.1M212.8 315.8h1.1M214.9 316.5h1.1M215.4 316.0h1.1M218.3 315.3h1.1M215.4 315.6h1.1M214.4 316.5h1.1M214.5 315.4h1.1M212.7 316.2h1.1M212.0 316.3h1.1M211.4 315.5h1.1M217.0 315.7h1.1M213.9 316.4h1.1M216.0 314.7h1.1M214.9 316.9h1.1M211.6 315.2h1.1M212.7 316.1h1.1M218.4 315.5h1.1M212.0 315.2h1.1M218.3 315.1h1.1M212.1 316.7h1.1M213.1 316.5h1.1M218.0 314.7h1.1M218.0 315.8h1.1M214.5 316.4h1.1M211.9 315.9h1.1M217.4 314.6h1.1M218.6 316.1h1.1M216.2 316.1h1.1M214.6 315.4h1.1M218.4 315.3h1.1M215.0 315.8h1.1M215.8 316.1h1.1M215.4 315.3h1.1M212.7 315.9h1.1M213.5 316.9h1.1M218.7 314.8h1.1M216.5 316.0h1.1" stroke="#ff4ade" stroke-width="1.1" stroke-opacity="0.94" fill="none"/><path d="M180.4 314.2h1.1M171.7 314.0h1.1M173.2 314.4h1.1M173.7 314.5h1.1M177.0 314.3h1.1M174.2 315.2h1.1M173.6 314.6h1.1M175.4 313.5h1.1M172.9 314.1h1.1M176.7 314.5h1.1M178.4 314.1h1.1M177.4 314.2h1.1M177.5 313.1h1.1M175.3 314.1h1.1M174.4 313.9h1.1M173.7 313.5h1.1M173.1 314.4h1.1M177.8 314.2h1.1M172.9 313.6h1.1M175.3 314.3h1.1M178.6 315.0h1.1M174.8 314.9h1.1M172.2 314.0h1.1M175.6 314.5h1.1M178.4 314.8h1.1M173.0 313.6h1.1M174.2 314.3h1.1M172.0 314.2h1.1M178.1 314.0h1.1M180.7 313.5h1.1M179.6 314.4h1.1M177.3 314.0h1.1M178.0 314.6h1.1M179.9 314.2h1.1M174.6 315.3h1.1M178.0 314.0h1.1M180.1 313.9h1.1M176.6 313.7h1.1M180.2 314.5h1.1M174.0 313.9h1.1M176.5 314.3h1.1M179.7 313.9h1.1M178.1 314.7h1.1M178.4 314.5h1.1M179.1 314.3h1.1M173.5 314.7h1.1M176.0 314.3h1.1M178.6 314.6h1.1M171.3 314.5h1.1M172.0 314.2h1.1M175.0 314.6h1.1M176.3 314.3h1.1M172.8 314.3h1.1M171.3 314.3h1.1M171.9 315.3h1.1M173.3 314.5h1.1M174.5 314.5h1.1M174.5 314.8h1.1M172.7 313.5h1.1M171.7 314.0h1.1M180.8 314.3h1.1M171.0 314.8h1.1M177.4 314.9h1.1M176.9 314.2h1.1M173.2 314.7h1.1M178.1 314.0h1.1M179.8 314.0h1.1M175.3 314.3h1.1M174.0 314.6h1.1M177.6 314.6h1.1M180.5 314.4h1.1M174.5 314.2h1.1M178.0 314.8h1.1M175.8 313.3h1.1M180.4 313.6h1.1M172.3 314.8h1.1M172.3 314.6h1.1M172.3 313.6h1.1M172.5 315.0h1.1M171.4 315.3h1.1M179.2 314.1h1.1M177.1 313.9h1.1M176.5 313.6h1.1M174.0 313.9h1.1M175.6 313.9h1.1M172.2 314.1h1.1M171.3 315.3h1.1M180.2 313.3h1.1" stroke="#a4ec2a" stroke-width="1.1" stroke-opacity="0.94" fill="none"/><path d="M185.3 314.2h1.1M179.2 314.1h1.1M185.1 314.0h1.1M181.9 313.6h1.1M179.6 314.7h1.1M180.4 313.8h1.1M182.3 313.9h1.1M180.8 313.8h1.1M180.5 313.5h1.1M178.8 313.9h1.1M181.9 314.6h1.1M183.8 313.9h1.1M183.7 313.7h1.1M185.4 314.7h1.1M181.0 314.7h1.1M180.6 314.4h1.1M182.8 314.0h1.1M183.8 313.6h1.1M185.0 313.8h1.1M185.5 314.6h1.1M182.2 313.4h1.1M184.0 314.0h1.1M178.8 314.2h1.1M182.8 314.0h1.1M179.4 314.5h1.1M182.8 314.0h1.1M181.0 313.2h1.1M184.5 314.5h1.1M180.6 314.6h1.1M178.8 314.0h1.1M178.6 314.7h1.1M181.2 314.2h1.1M180.6 314.4h1.1M179.8 313.6h1.1M183.2 314.2h1.1M183.1 313.6h1.1M181.2 314.8h1.1M179.6 313.6h1.1M181.7 313.1h1.1M180.3 313.6h1.1M183.3 314.5h1.1M180.9 313.7h1.1M184.8 313.2h1.1M181.6 313.9h1.1M182.5 313.4h1.1M185.4 313.5h1.1M182.1 313.5h1.1M181.8 314.5h1.1M179.5 314.0h1.1M179.0 313.5h1.1M185.3 313.4h1.1M180.3 314.1h1.1M181.1 314.9h1.1M180.5 314.4h1.1M186.0 315.0h1.1M185.8 312.9h1.1M180.4 314.0h1.1M180.3 314.5h1.1M182.1 313.9h1.1M185.9 313.8h1.1M184.3 314.0h1.1M186.0 314.4h1.1M183.7 314.6h1.1M182.8 313.7h1.1M180.9 314.1h1.1M185.8 314.4h1.1M184.6 314.2h1.1M184.8 314.0h1.1M203.2 315.5h1.1M205.3 315.4h1.1M201.8 315.2h1.1M208.2 316.3h1.1M207.0 315.2h1.1M201.3 315.0h1.1M207.8 315.9h1.1M203.2 315.6h1.1M208.9 315.7h1.1M202.4 315.7h1.1M201.2 315.3h1.1M207.1 316.0h1.1M203.0 314.6h1.1M207.0 316.2h1.1M208.0 315.8h1.1M202.9 314.0h1.1M207.5 315.2h1.1M201.7 315.1h1.1M206.8 316.5h1.1M207.0 315.6h1.1M200.9 314.7h1.1M201.9 314.9h1.1M206.2 315.9h1.1M201.7 315.0h1.1M203.0 315.3h1.1M208.5 316.7h1.1M205.9 316.8h1.1M206.9 315.5h1.1M203.9 316.2h1.1M209.1 315.4h1.1M209.0 316.0h1.1M206.3 315.9h1.1M201.7 314.3h1.1M209.1 316.6h1.1M204.1 316.4h1.1M200.9 315.4h1.1M201.2 314.8h1.1M200.3 315.3h1.1M204.4 315.5h1.1M208.2 314.4h1.1M207.8 316.2h1.1M202.2 316.6h1.1M209.0 315.5h1.1M205.2 315.4h1.1M201.2 315.4h1.1M200.2 315.1h1.1M207.7 316.2h1.1M204.0 314.9h1.1M203.9 315.6h1.1M208.4 315.6h1.1M200.8 315.2h1.1M204.8 314.9h1.1M208.2 315.3h1.1M208.1 315.8h1.1M205.3 315.3h1.1M200.0 314.8h1.1M205.1 315.6h1.1M205.8 315.0h1.1M205.1 315.0h1.1M202.7 315.2h1.1M202.1 315.0h1.1M203.7 315.5h1.1M202.8 314.7h1.1M201.8 314.6h1.1M200.7 314.9h1.1M202.1 315.1h1.1M207.2 315.1h1.1M200.9 315.9h1.1M208.4 315.4h1.1M203.4 315.7h1.1M209.0 316.2h1.1M200.0 314.6h1.1M207.9 315.8h1.1M202.2 314.9h1.1M205.1 315.3h1.1M209.0 316.6h1.1M201.7 315.6h1.1M203.5 315.2h1.1M206.7 316.3h1.1M203.4 314.8h1.1M204.1 315.0h1.1" stroke="#ffe92e" stroke-width="1.1" stroke-opacity="0.94" fill="none"/><path d="M189.6 314.1h1.1M187.8 314.3h1.1M186.4 315.2h1.1M186.8 313.8h1.1M189.3 314.3h1.1M185.7 314.1h1.1M188.2 314.5h1.1M189.1 314.8h1.1M186.7 313.3h1.1M188.6 314.6h1.1M186.0 313.8h1.1M185.5 314.6h1.1M185.0 313.9h1.1M188.0 314.4h1.1M185.9 313.5h1.1M187.8 313.9h1.1M188.7 313.8h1.1M188.1 313.9h1.1M185.5 313.0h1.1M188.4 313.6h1.1M187.6 314.2h1.1M187.0 313.9h1.1M189.2 313.3h1.1M185.3 313.9h1.1M186.5 314.0h1.1M189.5 313.5h1.1M189.1 313.4h1.1M186.8 314.4h1.1M185.2 313.5h1.1M185.7 313.2h1.1M186.2 314.0h1.1M189.3 313.6h1.1M186.9 314.2h1.1M188.0 314.0h1.1M188.9 314.6h1.1M185.4 314.8h1.1M186.0 313.7h1.1M189.6 313.3h1.1M188.9 314.1h1.1M188.8 314.1h1.1M187.9 314.2h1.1M184.7 313.6h1.1M189.9 314.2h1.1M187.1 313.1h1.1M187.6 314.1h1.1M189.2 314.2h1.1M185.2 313.4h1.1" stroke="#a8f08a" stroke-width="1.1" stroke-opacity="0.94" fill="none"/><path d="M195.3 313.8h1.1M191.8 314.2h1.1M194.7 314.4h1.1M189.9 314.1h1.1M194.0 314.5h1.1M189.5 313.2h1.1M192.1 313.8h1.1M191.1 314.1h1.1M195.8 314.4h1.1M189.4 314.6h1.1M190.0 313.6h1.1M191.2 314.6h1.1M192.9 314.2h1.1M195.4 315.2h1.1M195.4 314.8h1.1M193.3 314.8h1.1M193.7 314.5h1.1M193.2 314.9h1.1M190.9 313.6h1.1M194.0 314.3h1.1M192.2 314.3h1.1M193.0 315.2h1.1M192.7 313.8h1.1M193.9 314.8h1.1M190.4 314.6h1.1M190.1 314.4h1.1M190.7 314.2h1.1M192.6 313.9h1.1M190.6 313.7h1.1M193.9 314.9h1.1M191.4 314.1h1.1M194.7 314.3h1.1M192.0 314.4h1.1M192.4 314.1h1.1M190.4 314.7h1.1M193.7 314.9h1.1M194.4 313.8h1.1M190.4 314.4h1.1M189.9 314.0h1.1M192.3 313.0h1.1M193.5 314.5h1.1M194.9 314.3h1.1M196.0 313.9h1.1M194.8 314.4h1.1M195.8 314.8h1.1M191.0 313.8h1.1M193.6 314.4h1.1M192.7 313.5h1.1M189.4 314.2h1.1M193.4 314.8h1.1M189.9 314.2h1.1M190.8 313.6h1.1M191.5 313.5h1.1M189.7 314.4h1.1M193.1 313.9h1.1M192.6 314.3h1.1M194.9 314.8h1.1M191.5 315.8h1.1M190.6 315.3h1.1M192.0 314.2h1.1M191.8 314.6h1.1" stroke="#35cdee" stroke-width="1.1" stroke-opacity="0.94" fill="none"/><path d="M195.2 315.0h1.1M196.7 315.4h1.1M197.2 314.7h1.1M193.9 314.3h1.1M196.0 313.7h1.1M194.0 314.9h1.1M198.0 314.8h1.1M198.7 315.2h1.1M200.5 314.3h1.1M195.9 315.3h1.1M199.3 315.5h1.1M197.8 315.3h1.1M194.7 314.0h1.1M201.0 315.4h1.1M201.4 315.6h1.1M196.3 314.4h1.1M200.9 315.0h1.1M197.0 314.7h1.1M199.8 315.1h1.1M200.4 315.0h1.1M201.4 315.4h1.1M200.1 314.9h1.1M194.7 314.4h1.1M199.6 314.7h1.1M194.3 314.7h1.1M199.2 314.8h1.1M196.5 314.5h1.1M200.7 314.3h1.1M195.1 314.2h1.1M197.4 314.5h1.1M201.2 315.4h1.1M197.1 314.7h1.1M201.2 315.0h1.1M200.2 314.4h1.1M198.5 314.3h1.1M200.6 315.4h1.1M197.7 314.2h1.1M198.3 314.1h1.1M199.3 313.8h1.1M197.5 314.3h1.1M199.1 315.4h1.1M200.1 314.7h1.1M196.1 313.6h1.1M198.8 313.9h1.1M199.4 315.1h1.1M198.5 314.1h1.1M199.0 314.8h1.1M194.3 313.8h1.1M197.7 314.8h1.1M201.2 314.5h1.1M198.9 314.5h1.1M200.8 315.4h1.1M200.5 314.0h1.1M199.6 314.8h1.1M196.1 314.4h1.1M201.5 315.2h1.1M196.4 314.0h1.1M195.4 313.8h1.1M199.7 315.7h1.1M195.8 315.2h1.1M195.7 314.5h1.1M199.4 314.6h1.1M197.5 314.3h1.1M200.6 314.8h1.1M197.4 315.3h1.1M200.6 315.1h1.1M197.6 314.7h1.1M195.2 314.3h1.1" stroke="#ffbf66" stroke-width="1.1" stroke-opacity="0.94" fill="none"/><path d="M211.8 315.9h1.1M210.4 316.4h1.1M209.6 315.7h1.1M209.7 316.4h1.1M212.7 315.8h1.1M212.5 316.9h1.1M209.4 315.8h1.1M212.2 316.4h1.1M207.8 315.7h1.1M208.7 316.3h1.1M210.5 316.6h1.1M212.6 316.1h1.1M211.0 315.6h1.1M211.7 316.1h1.1M212.4 315.9h1.1M207.9 315.0h1.1M208.6 315.5h1.1M211.3 315.9h1.1M211.2 316.0h1.1M212.4 315.8h1.1M209.3 314.9h1.1M211.1 315.8h1.1M212.5 315.0h1.1M211.7 315.1h1.1M210.6 315.9h1.1M208.4 315.1h1.1M207.8 316.1h1.1M208.5 315.0h1.1M210.5 316.6h1.1M209.7 315.2h1.1M209.3 316.5h1.1M210.4 315.4h1.1M207.6 315.8h1.1M211.2 316.0h1.1M211.5 315.9h1.1M209.4 315.5h1.1M210.8 316.3h1.1M209.3 315.5h1.1M207.8 315.5h1.1M208.4 315.6h1.1M208.3 315.4h1.1M208.2 316.2h1.1M210.2 316.9h1.1M211.9 315.8h1.1M208.5 315.6h1.1M212.3 315.7h1.1M209.4 315.4h1.1" stroke="#5fdc3c" stroke-width="1.1" stroke-opacity="0.94" fill="none"/><path d="M221.1 316.2h1.1M218.3 316.1h1.1M222.6 314.7h1.1M223.2 314.8h1.1M223.4 315.8h1.1M218.1 315.8h1.1M220.3 315.5h1.1M218.8 315.3h1.1M222.3 314.8h1.1M220.0 315.4h1.1M222.7 315.4h1.1M220.2 315.2h1.1M221.7 315.1h1.1M220.8 314.5h1.1M217.7 316.3h1.1M218.8 314.9h1.1M219.3 315.6h1.1M218.5 316.5h1.1M217.7 315.9h1.1M223.7 315.1h1.1M218.9 314.9h1.1M221.1 315.5h1.1M224.2 314.8h1.1M223.5 315.7h1.1M219.0 315.8h1.1M219.3 315.7h1.1M219.0 315.2h1.1M223.7 315.4h1.1M221.6 315.0h1.1M217.8 316.0h1.1M219.4 315.5h1.1M219.5 316.3h1.1M223.1 314.4h1.1M217.7 315.9h1.1M218.6 315.6h1.1M219.7 315.8h1.1M218.0 315.6h1.1M222.5 316.0h1.1M218.4 315.2h1.1M218.0 314.6h1.1M220.2 315.2h1.1M220.0 314.7h1.1M218.5 315.7h1.1M223.0 315.2h1.1M219.5 315.7h1.1M223.5 315.3h1.1M218.5 315.1h1.1M218.5 315.5h1.1M219.9 315.1h1.1M223.7 314.7h1.1M218.5 315.2h1.1M223.5 315.5h1.1M221.8 316.4h1.1M222.5 315.6h1.1M220.6 315.3h1.1M223.6 315.5h1.1M217.8 315.0h1.1M221.9 316.4h1.1M218.6 315.2h1.1M222.0 315.0h1.1M217.9 315.3h1.1" stroke="#ff9ab4" stroke-width="1.1" stroke-opacity="0.94" fill="none"/><path d="M174.0 320.9h1.1M174.4 319.8h1.1M167.5 320.1h1.1" stroke="#35cdee" stroke-width="1.1" stroke-opacity="0.5" fill="none"/><path d="M224.0 319.2h1.1M223.0 303.3h1.1M223.2 304.1h1.1M224.9 305.5h1.1M223.7 309.3h1.1M224.9 310.1h1.1M223.0 306.6h1.1M224.4 309.2h1.1M224.8 314.1h1.1M223.9 309.2h1.1M223.9 307.3h1.1M223.0 307.2h1.1M225.5 312.2h1.1M223.7 306.9h1.1M224.7 308.9h1.1M223.1 303.8h1.1M224.0 308.2h1.1M224.3 313.4h1.1M225.0 311.4h1.1M224.0 308.1h1.1M225.5 310.9h1.1M225.3 311.1h1.1M223.7 312.8h1.1M224.4 316.2h1.1M223.5 312.4h1.1M223.1 315.0h1.1M223.1 302.6h1.1M223.6 315.5h1.1M223.2 314.9h1.1M224.2 308.0h1.1M224.0 306.3h1.1M224.6 310.3h1.1M223.5 301.7h1.1M225.5 306.2h1.1M225.1 312.5h1.1M223.4 309.1h1.1M223.9 312.0h1.1M224.9 311.3h1.1M224.1 310.4h1.1M225.4 316.2h1.1" stroke="#9a4cd0" stroke-width="1.1" stroke-opacity="0.61" fill="none"/><path d="M223.8 318.9h1.1M221.5 317.3h1.1M223.7 317.8h1.1M222.3 317.8h1.1M224.2 317.5h1.1M222.2 319.3h1.1M225.0 319.8h1.1M224.1 319.2h1.1M223.1 319.4h1.1M224.0 318.1h1.1M224.7 318.8h1.1M222.0 320.3h1.1M225.1 320.2h1.1M222.8 319.2h1.1M222.2 319.1h1.1M222.8 319.2h1.1" stroke="#35cdee" stroke-width="1.1" stroke-opacity="0.72" fill="none"/><path d="M232.6 311.5h1.1M235.3 310.2h1.1M234.6 312.7h1.1M231.0 313.8h1.1M227.2 317.1h1.1M225.5 319.8h1.1M232.3 317.0h1.1M227.1 309.5h1.1M229.4 313.6h1.1M229.9 312.9h1.1M235.4 315.0h1.1M229.5 321.2h1.1M230.9 312.9h1.1M231.7 319.6h1.1M234.7 315.7h1.1M234.4 317.3h1.1M228.4 314.7h1.1M227.7 319.0h1.1M231.8 324.6h1.1M227.4 310.6h1.1M233.3 316.0h1.1M234.4 313.9h1.1M232.8 317.1h1.1M231.4 317.8h1.1M229.4 309.5h1.1M235.0 308.9h1.1M231.0 314.9h1.1M228.2 308.9h1.1M234.2 312.9h1.1M228.1 311.1h1.1M233.6 315.4h1.1M235.2 317.0h1.1M232.3 313.7h1.1M234.6 313.3h1.1M229.0 305.1h1.1M227.6 323.3h1.1M232.6 317.4h1.1M225.9 319.0h1.1M228.7 312.1h1.1M233.6 316.3h1.1M231.3 319.7h1.1M233.3 309.0h1.1M232.4 319.8h1.1M228.9 315.9h1.1M233.4 314.4h1.1M228.1 318.9h1.1M225.6 316.9h1.1M226.4 311.9h1.1M230.6 316.3h1.1M230.3 314.3h1.1M230.6 321.7h1.1M233.4 319.9h1.1M234.0 312.0h1.1M225.9 311.8h1.1M230.8 317.6h1.1M235.6 317.7h1.1M229.7 316.7h1.1M226.8 314.8h1.1M234.6 308.7h1.1M229.3 314.4h1.1M229.6 313.5h1.1M225.2 314.7h1.1M233.2 319.3h1.1M232.2 314.2h1.1M226.1 313.1h1.1M227.2 313.7h1.1M227.9 320.2h1.1M234.0 324.6h1.1M231.8 316.9h1.1M232.1 319.9h1.1M227.7 314.2h1.1M231.1 318.0h1.1M234.4 315.3h1.1M235.2 307.3h1.1M226.3 318.1h1.1M228.5 320.7h1.1M233.7 316.1h1.1M226.3 313.9h1.1M235.0 315.9h1.1M231.4 314.7h1.1M232.0 311.2h1.1M232.1 315.0h1.1M233.9 310.7h1.1M226.9 314.3h1.1M226.4 313.8h1.1M233.1 314.8h1.1M229.1 311.7h1.1M230.5 318.1h1.1M233.0 317.4h1.1M234.2 323.3h1.1M230.1 313.4h1.1M231.0 316.2h1.1M231.9 312.1h1.1M235.8 322.4h1.1M230.5 319.6h1.1M228.4 310.6h1.1M228.5 313.4h1.1M230.9 318.2h1.1M226.7 317.8h1.1M233.1 316.0h1.1M233.6 318.6h1.1M231.0 313.3h1.1M229.2 310.7h1.1M226.7 306.5h1.1M230.6 312.6h1.1M230.6 312.5h1.1M228.3 316.3h1.1M231.3 316.1h1.1M227.7 318.2h1.1M230.8 313.2h1.1M235.7 313.1h1.1M228.6 313.3h1.1M226.3 316.2h1.1M234.4 316.9h1.1M230.4 314.0h1.1M227.2 308.7h1.1M231.6 308.6h1.1M233.6 318.8h1.1M234.0 307.9h1.1M228.1 319.6h1.1M225.2 319.4h1.1M231.1 313.0h1.1M234.8 315.5h1.1M227.7 316.3h1.1M233.2 309.7h1.1M230.7 317.2h1.1M235.6 316.5h1.1M232.8 317.0h1.1M232.1 308.5h1.1M234.4 309.5h1.1M228.3 308.6h1.1M228.0 321.6h1.1M233.4 319.0h1.1M233.0 316.2h1.1M233.9 313.5h1.1M232.2 310.6h1.1M233.4 321.4h1.1M230.7 320.9h1.1M226.2 312.3h1.1M235.4 325.7h1.1M232.3 314.6h1.1M233.0 316.3h1.1M227.3 313.9h1.1M231.8 314.3h1.1M233.3 320.5h1.1M228.9 311.7h1.1M230.7 318.8h1.1M234.4 318.8h1.1M227.4 311.5h1.1M231.9 320.8h1.1M231.1 310.8h1.1M229.7 319.9h1.1M232.9 321.7h1.1M227.9 309.0h1.1M235.0 313.0h1.1M227.8 325.9h1.1M228.0 317.9h1.1M233.7 315.7h1.1M230.1 312.7h1.1M227.5 313.6h1.1M232.3 304.9h1.1M226.2 325.3h1.1M230.5 310.9h1.1M225.7 317.7h1.1M232.7 313.4h1.1M226.8 315.6h1.1M234.3 314.9h1.1M235.1 319.3h1.1M227.7 317.3h1.1M230.5 318.0h1.1M228.2 312.5h1.1M232.9 312.5h1.1M228.3 317.3h1.1M233.0 316.0h1.1M232.0 308.0h1.1M228.6 313.5h1.1M234.6 314.7h1.1M226.1 310.3h1.1M226.1 313.5h1.1M227.0 319.6h1.1M229.0 311.4h1.1M235.6 312.0h1.1M235.3 314.5h1.1M228.3 314.2h1.1M225.2 312.4h1.1M235.3 313.8h1.1M234.3 322.0h1.1M232.4 319.6h1.1M233.4 316.4h1.1M230.4 310.3h1.1M226.7 309.5h1.1M232.1 314.5h1.1M229.5 312.5h1.1M229.0 312.1h1.1M234.4 314.5h1.1M232.4 316.8h1.1M227.8 312.7h1.1M227.2 313.1h1.1M229.5 311.5h1.1M228.2 313.6h1.1M235.1 312.6h1.1M234.9 313.6h1.1M230.8 319.0h1.1M225.8 314.4h1.1M234.0 314.6h1.1M230.7 318.4h1.1M231.7 315.6h1.1M230.7 321.6h1.1M228.0 315.1h1.1M231.8 309.5h1.1M233.2 322.6h1.1M233.2 317.7h1.1M235.4 314.5h1.1M230.5 321.2h1.1M228.4 313.9h1.1M234.6 317.9h1.1M228.9 306.4h1.1M225.5 319.4h1.1M229.8 314.4h1.1M231.3 322.2h1.1M229.1 313.6h1.1M233.1 312.9h1.1M233.7 314.0h1.1M230.5 317.8h1.1M226.2 321.1h1.1M230.1 322.2h1.1M230.2 308.6h1.1M235.1 314.5h1.1M234.1 315.2h1.1M230.7 315.7h1.1M226.8 315.9h1.1M233.6 316.3h1.1M228.6 305.4h1.1M226.0 319.6h1.1M233.9 313.4h1.1M225.6 311.1h1.1M227.5 312.4h1.1M232.0 314.0h1.1M228.0 312.2h1.1M225.4 320.7h1.1M230.1 310.8h1.1M234.3 310.4h1.1M233.4 313.2h1.1M229.8 312.7h1.1M234.9 320.5h1.1M233.0 313.6h1.1M231.9 312.0h1.1M229.7 314.2h1.1M225.8 320.0h1.1M233.1 312.6h1.1M234.8 310.7h1.1M230.7 315.6h1.1M225.6 313.0h1.1M226.8 313.7h1.1M227.4 314.1h1.1M230.8 316.5h1.1M232.5 314.7h1.1M226.8 311.1h1.1M235.7 318.1h1.1M234.9 314.0h1.1M227.7 316.3h1.1M225.3 313.7h1.1M230.7 321.7h1.1M227.0 322.8h1.1M235.4 318.6h1.1M228.2 323.9h1.1M230.9 314.0h1.1M233.8 322.1h1.1M225.8 315.0h1.1M230.9 320.0h1.1M228.3 320.4h1.1M235.4 311.8h1.1M234.5 306.5h1.1M235.1 310.7h1.1M227.6 307.1h1.1M230.2 311.8h1.1M225.8 318.8h1.1M226.9 309.4h1.1M226.4 311.6h1.1M233.9 318.4h1.1M228.5 319.4h1.1M235.1 318.0h1.1M235.2 316.2h1.1M234.7 320.0h1.1M235.5 314.3h1.1M226.5 311.1h1.1M227.4 315.5h1.1M233.9 319.3h1.1M226.0 319.1h1.1M235.0 315.6h1.1M228.8 319.2h1.1M228.7 318.1h1.1M230.3 317.0h1.1M233.6 318.1h1.1M230.5 319.3h1.1M234.8 310.7h1.1M226.9 318.0h1.1M232.9 312.2h1.1M235.4 319.7h1.1M227.7 317.4h1.1M226.6 317.8h1.1M229.9 326.2h1.1M232.4 317.9h1.1M235.1 317.9h1.1M230.5 311.9h1.1M226.9 316.9h1.1M228.0 317.0h1.1M231.4 318.7h1.1M227.3 317.2h1.1M227.8 313.8h1.1M226.2 311.1h1.1M234.1 323.2h1.1M226.5 317.4h1.1M233.9 310.6h1.1M230.6 312.4h1.1M225.9 311.4h1.1M231.5 308.9h1.1M234.5 313.4h1.1M228.0 308.6h1.1M233.7 315.1h1.1M232.0 313.1h1.1M229.7 315.3h1.1M231.9 315.5h1.1M229.4 321.7h1.1M229.4 308.3h1.1M229.6 309.6h1.1M232.8 321.2h1.1M233.6 312.8h1.1M229.7 314.8h1.1M235.0 315.1h1.1M234.8 311.5h1.1M228.8 314.9h1.1M227.9 313.6h1.1M225.3 314.2h1.1M228.0 313.8h1.1M233.0 314.3h1.1M234.5 312.4h1.1M227.0 316.6h1.1M233.2 314.2h1.1M227.8 309.0h1.1M227.2 314.6h1.1M234.6 313.7h1.1M225.1 314.3h1.1M229.3 317.8h1.1M225.9 314.8h1.1M226.8 316.6h1.1M226.4 314.1h1.1M228.7 307.0h1.1M226.4 314.3h1.1M230.5 317.8h1.1M226.3 312.7h1.1M233.6 315.3h1.1M229.3 309.0h1.1M226.9 309.8h1.1M225.7 318.0h1.1M228.8 325.8h1.1M235.1 312.7h1.1M233.2 313.0h1.1M227.2 311.9h1.1M235.5 308.6h1.1M228.1 317.7h1.1M228.0 313.7h1.1M232.0 309.2h1.1M235.6 322.1h1.1M227.6 316.6h1.1M234.8 313.0h1.1M229.4 315.5h1.1M229.2 313.4h1.1M225.8 310.1h1.1M235.1 315.1h1.1M233.2 322.1h1.1M233.7 311.8h1.1M227.9 315.9h1.1M226.8 314.8h1.1M230.0 313.6h1.1M228.9 309.8h1.1M235.0 316.8h1.1M234.1 310.7h1.1M225.1 319.8h1.1M225.2 316.4h1.1M233.9 314.0h1.1M230.4 316.5h1.1M233.4 318.1h1.1M227.3 319.3h1.1M234.8 314.7h1.1M226.0 312.7h1.1M231.0 312.6h1.1M229.4 317.3h1.1M232.3 315.3h1.1M231.5 316.9h1.1M234.0 317.7h1.1M227.0 316.4h1.1M231.1 319.4h1.1M233.9 316.6h1.1M226.2 323.0h1.1M228.2 322.9h1.1M229.2 312.3h1.1M233.4 312.8h1.1M229.1 328.4h1.1M225.2 316.3h1.1M225.7 317.9h1.1M227.2 323.9h1.1M228.8 313.9h1.1M227.4 311.8h1.1M233.4 324.0h1.1M230.0 320.8h1.1M225.8 319.1h1.1M234.3 321.9h1.1M232.2 322.2h1.1M231.6 317.5h1.1M231.4 319.7h1.1M232.5 307.9h1.1M227.2 320.0h1.1M229.7 312.4h1.1M235.6 314.8h1.1M229.2 323.8h1.1M234.2 310.9h1.1M234.7 307.4h1.1M230.2 315.4h1.1M235.5 316.4h1.1M228.7 310.2h1.1M229.9 317.0h1.1M233.2 319.9h1.1M230.6 313.1h1.1M225.7 315.1h1.1M226.1 319.9h1.1M232.2 317.9h1.1M229.4 315.6h1.1M235.5 318.0h1.1M231.9 314.3h1.1M227.2 323.4h1.1M227.7 312.8h1.1M231.9 318.7h1.1M232.7 317.0h1.1M235.4 310.4h1.1M231.1 311.9h1.1M234.5 314.8h1.1M233.2 316.2h1.1M227.5 318.3h1.1M235.2 317.5h1.1M232.3 312.9h1.1M235.6 315.7h1.1M225.4 323.5h1.1M231.2 321.1h1.1M235.7 317.2h1.1M228.6 316.3h1.1M232.5 318.4h1.1M228.3 313.0h1.1M234.4 318.2h1.1M231.3 316.8h1.1M230.4 315.3h1.1M231.2 312.3h1.1M230.3 316.1h1.1M229.8 318.8h1.1M229.0 319.1h1.1M230.0 316.0h1.1M230.0 311.7h1.1M235.5 313.0h1.1M230.0 313.4h1.1M231.5 313.4h1.1M234.6 314.8h1.1M229.3 311.3h1.1M227.9 319.6h1.1M227.4 317.9h1.1M231.9 314.8h1.1M230.1 316.4h1.1M228.3 314.0h1.1M235.3 311.5h1.1M234.8 308.6h1.1M234.5 316.3h1.1M226.7 315.2h1.1M235.1 310.7h1.1M235.1 322.4h1.1M228.8 307.8h1.1M230.0 316.2h1.1M229.2 318.8h1.1M235.4 311.6h1.1M235.2 315.7h1.1M233.7 309.0h1.1M226.9 313.5h1.1M232.1 321.3h1.1M232.0 313.9h1.1M234.6 317.4h1.1M231.9 318.5h1.1M232.8 315.8h1.1M229.3 315.0h1.1M232.9 313.2h1.1M228.5 317.0h1.1M228.9 313.3h1.1M233.4 316.8h1.1M230.2 314.0h1.1M227.7 313.3h1.1M228.5 311.5h1.1M228.3 320.2h1.1M233.2 315.2h1.1M230.0 310.8h1.1M225.9 310.0h1.1M235.3 316.4h1.1M228.3 311.6h1.1M226.5 315.9h1.1M230.1 313.1h1.1M230.4 315.6h1.1M226.7 318.6h1.1M226.8 309.1h1.1M233.8 313.0h1.1M226.0 319.8h1.1M229.2 318.3h1.1M233.5 317.3h1.1M229.5 317.1h1.1M231.6 312.6h1.1M229.1 309.3h1.1M234.7 322.9h1.1M235.1 312.3h1.1M235.3 309.1h1.1M230.8 322.1h1.1M227.7 317.8h1.1M225.6 319.5h1.1M226.4 316.5h1.1M229.5 313.6h1.1M234.6 315.2h1.1" stroke="#ffbf66" stroke-width="1.1" stroke-opacity="0.72" fill="none"/><path d="M227.0 316.7h1.1M233.0 318.7h1.1M233.8 312.5h1.1M232.3 313.7h1.1M227.1 317.0h1.1M231.7 316.9h1.1M233.3 316.9h1.1M229.5 314.7h1.1M227.5 310.8h1.1M231.8 302.7h1.1M231.4 313.8h1.1M230.4 314.6h1.1M232.1 317.3h1.1M229.2 318.6h1.1M226.1 319.2h1.1M231.4 316.2h1.1M226.5 318.5h1.1M230.9 309.2h1.1M227.9 313.2h1.1M228.7 314.2h1.1M228.3 322.5h1.1M231.6 316.1h1.1M228.7 312.3h1.1M232.0 316.6h1.1M232.1 311.7h1.1M227.7 316.4h1.1M233.3 316.5h1.1M227.0 317.5h1.1M232.7 316.0h1.1M228.7 317.3h1.1M230.7 314.1h1.1M230.2 316.9h1.1M228.6 315.2h1.1M228.9 319.0h1.1M228.5 316.2h1.1M231.4 315.1h1.1M226.6 312.2h1.1M232.4 318.1h1.1M229.2 312.3h1.1M230.1 317.3h1.1M233.8 309.1h1.1M228.8 316.6h1.1M230.7 311.7h1.1M229.7 317.9h1.1M227.0 316.4h1.1M233.2 308.9h1.1M227.1 312.0h1.1M231.8 311.0h1.1M232.0 318.4h1.1M231.8 314.9h1.1M230.6 311.5h1.1M232.9 309.9h1.1M229.1 323.4h1.1M226.7 310.4h1.1M233.3 315.8h1.1M233.1 319.2h1.1M232.2 317.8h1.1M226.3 318.7h1.1M227.0 317.2h1.1M231.8 311.5h1.1M226.0 319.4h1.1M231.6 318.8h1.1M229.9 319.8h1.1M227.6 309.0h1.1M228.1 317.8h1.1M226.3 320.7h1.1M233.7 310.2h1.1M234.0 314.7h1.1M227.6 313.1h1.1M232.9 310.5h1.1M231.8 315.7h1.1M234.3 314.8h1.1M227.6 316.1h1.1M227.4 317.6h1.1M230.1 311.2h1.1M233.0 316.2h1.1M231.1 316.8h1.1M228.6 312.9h1.1M232.4 314.2h1.1M232.8 319.9h1.1M228.2 314.8h1.1M228.0 318.8h1.1M230.0 315.3h1.1M227.0 316.0h1.1M232.5 314.6h1.1M227.0 316.8h1.1M229.5 315.7h1.1M230.0 315.3h1.1M232.6 314.1h1.1M226.0 310.8h1.1M229.3 317.7h1.1M233.1 312.5h1.1M226.5 314.3h1.1M229.4 313.4h1.1M231.3 313.1h1.1M233.3 317.5h1.1M232.0 320.4h1.1M229.7 315.0h1.1M226.8 315.1h1.1M231.1 317.0h1.1M230.0 314.2h1.1M234.1 315.5h1.1M232.4 311.0h1.1M230.3 320.1h1.1M229.8 317.8h1.1M229.7 316.4h1.1M229.6 317.4h1.1M233.5 317.9h1.1M234.0 308.4h1.1M228.5 312.8h1.1M228.6 313.5h1.1M226.6 317.1h1.1M234.2 316.1h1.1M229.7 319.1h1.1M232.1 317.2h1.1M229.1 312.3h1.1M231.5 307.0h1.1M231.0 316.0h1.1M226.3 312.1h1.1M231.2 313.0h1.1M231.8 312.7h1.1M226.1 314.3h1.1M225.9 311.3h1.1M226.3 316.0h1.1M227.4 318.7h1.1M234.0 316.7h1.1M233.6 316.2h1.1M229.1 316.8h1.1M231.1 318.0h1.1M231.5 312.8h1.1M228.3 314.5h1.1M227.0 314.1h1.1M231.9 320.0h1.1M233.2 316.3h1.1M232.5 312.1h1.1M233.4 316.7h1.1M231.0 312.2h1.1M228.6 310.9h1.1M231.1 316.8h1.1M227.2 316.0h1.1M230.4 318.4h1.1M233.7 316.3h1.1M232.0 313.7h1.1M234.0 319.1h1.1M232.6 315.4h1.1M234.1 310.1h1.1M231.0 318.4h1.1M228.6 314.8h1.1M233.6 316.6h1.1M231.4 313.3h1.1M226.7 311.6h1.1M227.0 311.2h1.1M226.2 318.9h1.1M228.1 311.1h1.1M228.5 315.5h1.1M228.1 310.7h1.1M230.7 319.6h1.1M227.2 317.4h1.1M233.6 310.7h1.1M228.1 316.3h1.1M234.1 316.1h1.1M231.8 319.1h1.1M226.0 308.6h1.1M227.1 309.3h1.1M233.0 311.0h1.1M228.9 307.3h1.1M233.5 314.0h1.1M233.8 313.8h1.1M227.2 314.1h1.1M231.7 316.2h1.1M231.1 319.8h1.1M234.1 317.0h1.1M228.1 316.2h1.1M228.1 312.3h1.1M233.7 318.4h1.1M228.2 314.8h1.1M233.3 315.7h1.1M230.5 310.3h1.1M227.9 315.8h1.1M226.7 318.8h1.1M231.5 313.5h1.1M229.6 315.5h1.1M230.1 316.5h1.1M226.5 317.3h1.1M234.3 319.1h1.1M233.1 315.1h1.1M225.9 316.8h1.1M227.0 315.3h1.1M226.4 312.5h1.1M232.4 313.1h1.1M230.0 311.2h1.1M226.2 319.0h1.1M227.4 316.3h1.1M234.0 317.8h1.1M228.4 314.1h1.1M233.6 313.6h1.1M234.3 316.0h1.1M228.6 311.6h1.1M226.4 317.2h1.1M227.7 317.1h1.1" stroke="#ff8c1a" stroke-width="1.1" stroke-opacity="0.72" fill="none"/><path d="M227.1 311.6h1.1M226.6 328.3h1.1M229.0 305.2h1.1M227.3 283.8h1.1M232.4 307.4h1.1M230.4 293.5h1.1M234.9 304.2h1.1M226.5 323.3h1.1M232.4 311.9h1.1M228.2 307.9h1.1M234.8 326.0h1.1M226.1 315.3h1.1M231.7 317.0h1.1M228.1 292.5h1.1M226.7 316.9h1.1M231.8 314.7h1.1M234.8 305.2h1.1M232.5 317.5h1.1M232.6 295.5h1.1M228.9 313.2h1.1M233.3 337.5h1.1M234.4 332.1h1.1M226.8 341.2h1.1M231.1 310.0h1.1M226.2 305.4h1.1M234.4 314.2h1.1M227.3 322.5h1.1M234.4 282.1h1.1M228.7 314.4h1.1M228.8 311.0h1.1M227.8 316.2h1.1M230.2 321.2h1.1M229.7 314.9h1.1M229.9 318.0h1.1M229.3 308.8h1.1M226.9 317.4h1.1M228.6 310.1h1.1M232.5 349.2h1.1M232.7 306.9h1.1M231.8 307.7h1.1M233.3 314.3h1.1M231.0 313.1h1.1M234.4 307.4h1.1M234.7 303.0h1.1M232.5 300.6h1.1M233.5 315.0h1.1M234.3 303.4h1.1M231.1 310.5h1.1M233.7 328.6h1.1M230.8 338.2h1.1M234.1 324.9h1.1M228.5 323.9h1.1M232.4 316.6h1.1M233.7 344.6h1.1M230.7 315.5h1.1M229.1 308.1h1.1M234.5 307.0h1.1M232.8 323.3h1.1M226.8 300.5h1.1M233.9 288.4h1.1M234.8 316.1h1.1M231.2 293.7h1.1M233.4 313.8h1.1M229.3 319.2h1.1M228.4 308.1h1.1M230.7 315.4h1.1M231.8 315.6h1.1M229.1 332.9h1.1M233.0 315.4h1.1M226.1 334.2h1.1M234.1 328.5h1.1M233.6 318.9h1.1M232.1 316.0h1.1M229.4 320.3h1.1M235.0 310.5h1.1M229.2 325.2h1.1M226.9 308.1h1.1M232.0 320.9h1.1M232.8 319.0h1.1M232.6 310.3h1.1M229.6 305.4h1.1M232.5 315.1h1.1M234.7 313.7h1.1M228.2 307.6h1.1M234.8 315.4h1.1M233.2 322.8h1.1M233.6 313.2h1.1M232.3 318.4h1.1M232.5 288.4h1.1M231.4 310.5h1.1M234.1 313.8h1.1M231.1 313.0h1.1M231.2 328.4h1.1M229.1 316.8h1.1M234.0 306.9h1.1M229.7 317.4h1.1M234.2 321.4h1.1M231.1 314.3h1.1M228.3 342.9h1.1M229.8 304.5h1.1M228.4 302.6h1.1M233.7 315.7h1.1M227.0 293.2h1.1M232.2 319.4h1.1M228.2 320.6h1.1M233.3 327.3h1.1M228.3 310.1h1.1M233.7 299.8h1.1M229.0 311.8h1.1M231.4 312.1h1.1M231.1 315.0h1.1M234.0 305.5h1.1M228.8 322.2h1.1M228.8 331.5h1.1M231.2 308.8h1.1M233.4 318.2h1.1M228.4 300.8h1.1M234.6 305.8h1.1M227.7 317.4h1.1M234.3 318.6h1.1M230.5 330.5h1.1M226.0 316.8h1.1M234.2 324.5h1.1M232.1 313.7h1.1M231.6 334.3h1.1M226.2 330.9h1.1M230.9 314.3h1.1M234.7 310.2h1.1M230.1 316.4h1.1M232.4 315.7h1.1M226.6 312.0h1.1M231.8 323.0h1.1M233.1 309.2h1.1M234.2 290.1h1.1M228.8 301.8h1.1M226.5 319.7h1.1M232.2 328.1h1.1M227.1 324.9h1.1M234.0 310.0h1.1M228.5 306.8h1.1M226.2 319.7h1.1M234.6 316.1h1.1M234.7 317.0h1.1M227.5 313.5h1.1M231.0 327.2h1.1M227.6 299.2h1.1M233.9 309.7h1.1M228.6 308.0h1.1M227.3 313.0h1.1" stroke="#ffbf66" stroke-width="1.1" stroke-opacity="0.58" fill="none"/><path d="M231.5 353.2h1.1M230.1 326.1h1.1M227.4 322.2h1.1M231.1 315.3h1.1M230.9 305.2h1.1M227.1 281.5h1.1M226.6 342.4h1.1M226.7 331.3h1.1M226.5 316.0h1.1M232.0 310.9h1.1M228.7 304.1h1.1M226.4 328.0h1.1M228.8 318.8h1.1M230.7 310.0h1.1M231.2 334.0h1.1M227.1 299.3h1.1M227.3 316.0h1.1M227.4 315.5h1.1M229.1 299.6h1.1M231.7 299.2h1.1M226.8 309.9h1.1M232.3 306.4h1.1M229.9 292.3h1.1M226.8 316.2h1.1M232.3 308.2h1.1M226.4 332.6h1.1M229.5 359.4h1.1M232.5 312.5h1.1M231.9 303.9h1.1M227.2 304.5h1.1M227.4 314.9h1.1M228.7 318.7h1.1M227.5 293.2h1.1M228.0 321.6h1.1M232.6 316.4h1.1M226.9 306.9h1.1M230.3 355.8h1.1M228.0 297.8h1.1M232.4 306.5h1.1M227.7 313.2h1.1M230.8 312.1h1.1M227.6 317.8h1.1M231.1 347.4h1.1M230.5 315.5h1.1M231.4 315.0h1.1M227.5 322.9h1.1M227.2 330.9h1.1M232.1 304.5h1.1M231.0 307.2h1.1M232.0 321.0h1.1M228.9 314.0h1.1M227.2 320.2h1.1M226.4 302.4h1.1M229.9 276.4h1.1M226.4 346.7h1.1M231.4 326.9h1.1M229.5 325.0h1.1M229.3 315.4h1.1M230.2 317.7h1.1" stroke="#6b7a3a" stroke-width="1.1" stroke-opacity="0.47" fill="none"/><path d="M240.1 315.7h1.1M236.6 314.2h1.1M239.5 315.7h1.1M238.9 314.2h1.1M236.9 315.6h1.1M236.1 316.1h1.1M239.2 316.2h1.1M240.5 315.5h1.1M237.7 317.2h1.1M239.5 317.2h1.1M236.6 315.2h1.1M237.4 315.8h1.1M240.2 315.0h1.1M241.1 314.9h1.1M238.2 315.2h1.1M237.7 314.5h1.1M239.3 315.1h1.1M239.7 316.1h1.1M241.2 316.0h1.1M236.2 312.9h1.1M238.4 315.9h1.1M240.1 314.6h1.1M238.1 315.9h1.1M239.0 316.0h1.1M240.5 315.3h1.1M241.3 315.2h1.1M241.5 315.4h1.1M240.5 315.0h1.1M239.1 315.3h1.1M241.5 314.5h1.1M238.2 314.1h1.1M239.2 314.6h1.1M237.6 316.3h1.1M237.3 316.5h1.1M239.2 315.0h1.1M239.0 316.5h1.1M236.2 314.9h1.1M241.5 315.6h1.1M236.4 315.4h1.1M238.1 315.0h1.1M241.0 315.4h1.1M238.9 316.2h1.1M237.4 315.7h1.1M236.7 315.7h1.1M237.0 316.4h1.1M236.3 315.2h1.1M237.2 315.7h1.1M236.7 314.3h1.1M241.8 315.1h1.1M237.4 315.8h1.1M237.4 315.0h1.1M237.5 315.6h1.1M238.4 315.3h1.1M236.4 315.9h1.1M238.5 315.1h1.1M238.9 315.9h1.1M237.5 315.4h1.1M237.7 314.6h1.1M240.9 314.8h1.1M241.9 315.9h1.1" stroke="#ffc4cc" stroke-width="1.1" stroke-opacity="0.72" fill="none"/><path d="M227.8 252.3h1.1M230.1 376.1h1.1M228.9 268.0h1.1M230.5 269.6h1.1M228.2 280.7h1.1M229.7 351.6h1.1" stroke="#a6a64a" stroke-width="1.1" stroke-opacity="0.36" fill="none"/><path d="M234.8 313.2h1.1M227.2 316.4h1.1M233.5 316.6h1.1M235.1 315.9h1.1M229.2 313.4h1.1M226.1 316.2h1.1M227.4 315.7h1.1M227.8 313.8h1.1M233.5 314.4h1.1M230.4 317.7h1.1M230.1 314.9h1.1M231.4 315.9h1.1M227.2 316.7h1.1M228.6 314.1h1.1M236.2 315.6h1.1M236.0 317.2h1.1M235.8 317.3h1.1M236.9 315.7h1.1M237.1 313.4h1.1M231.0 316.7h1.1M229.2 316.0h1.1M235.4 312.9h1.1M229.0 314.1h1.1M235.2 314.0h1.1M236.6 315.8h1.1M229.0 315.4h1.1M227.0 313.1h1.1M227.1 316.6h1.1M234.4 315.0h1.1M231.5 313.6h1.1M233.4 315.2h1.1M231.0 314.2h1.1M231.3 317.2h1.1M229.9 315.5h1.1M225.2 314.2h1.1M233.3 314.1h1.1M235.3 315.7h1.1M231.3 316.5h1.1M236.1 313.9h1.1M227.6 317.5h1.1M235.5 315.0h1.1M229.6 314.4h1.1M228.7 315.6h1.1M230.7 315.7h1.1M237.0 314.5h1.1M231.5 316.7h1.1M231.4 313.6h1.1M237.1 314.1h1.1M226.6 315.8h1.1M229.9 315.4h1.1M235.8 314.7h1.1M234.6 315.4h1.1M235.5 314.0h1.1M227.0 317.9h1.1M227.8 316.3h1.1M225.7 314.2h1.1M225.2 314.2h1.1M231.9 316.8h1.1M231.3 315.4h1.1M235.5 314.8h1.1M229.9 316.2h1.1M234.4 311.7h1.1M231.3 316.1h1.1M232.0 314.8h1.1M228.4 314.8h1.1M229.5 315.8h1.1M232.5 314.7h1.1M226.6 317.5h1.1M233.0 317.8h1.1M236.8 316.7h1.1M234.5 316.6h1.1M236.3 315.0h1.1M228.1 315.8h1.1M233.2 313.8h1.1M225.9 315.6h1.1M232.2 313.8h1.1M230.8 316.3h1.1M235.9 315.8h1.1M230.8 315.0h1.1M227.5 314.5h1.1M230.8 314.4h1.1M231.6 314.8h1.1M233.1 314.4h1.1M234.6 314.8h1.1M230.6 314.5h1.1M236.5 317.1h1.1M231.6 315.6h1.1M237.3 315.0h1.1M232.1 315.8h1.1M234.6 314.7h1.1M234.4 314.8h1.1M235.9 313.7h1.1M231.7 314.0h1.1M226.9 317.2h1.1M235.4 318.0h1.1M232.6 315.4h1.1M231.5 316.8h1.1M226.5 315.6h1.1M234.9 314.9h1.1M233.7 315.5h1.1M234.1 316.9h1.1M232.2 316.8h1.1M227.5 314.4h1.1M226.4 315.5h1.1M234.7 315.0h1.1M230.6 315.6h1.1M229.4 315.7h1.1M230.5 314.4h1.1M234.3 312.6h1.1M230.6 315.8h1.1M226.1 315.0h1.1M233.1 317.1h1.1M225.4 317.0h1.1M231.2 316.9h1.1M232.3 314.0h1.1M236.6 313.3h1.1M229.7 313.6h1.1M230.2 318.6h1.1M227.1 313.7h1.1M229.7 317.4h1.1M236.9 316.8h1.1M236.5 315.6h1.1M232.7 315.2h1.1M226.6 317.4h1.1M226.4 316.1h1.1M228.3 314.8h1.1M228.6 314.8h1.1M231.7 315.8h1.1M232.8 315.8h1.1M225.2 315.1h1.1M225.8 315.7h1.1M233.0 315.5h1.1M237.3 318.2h1.1M227.8 315.9h1.1M236.0 313.3h1.1M237.3 317.5h1.1M235.6 314.8h1.1M226.2 314.3h1.1M234.6 314.9h1.1M231.6 315.5h1.1M228.8 315.2h1.1M232.8 317.2h1.1M229.9 315.1h1.1M228.1 315.3h1.1M235.7 316.7h1.1M236.5 315.3h1.1M231.7 315.2h1.1M229.5 315.8h1.1M236.0 315.2h1.1M227.7 313.4h1.1M228.5 314.7h1.1M234.0 314.1h1.1M230.3 313.1h1.1M226.5 313.9h1.1M232.5 314.9h1.1M225.3 317.8h1.1M234.7 312.9h1.1M225.8 315.2h1.1M227.0 314.6h1.1M227.5 316.0h1.1" stroke="#ffe9a0" stroke-width="1.1" stroke-opacity="0.72" fill="none"/></g><rect x="29.90" y="236.50" width="92.00" height="157.70" fill="none" stroke="#444444" stroke-width="0.85"/><path d="M45.23 394.20v-1.40M45.23 236.50v1.40M60.57 394.20v-1.40M60.57 236.50v1.40M75.90 394.20v-1.40M75.90 236.50v1.40M91.23 394.20v-1.40M91.23 236.50v1.40M106.57 394.20v-1.40M106.57 236.50v1.40M29.90 378.43h1.40M121.90 378.43h-1.40M29.90 362.66h1.40M121.90 362.66h-1.40M29.90 346.89h1.40M121.90 346.89h-1.40M29.90 331.12h1.40M121.90 331.12h-1.40M29.90 315.35h1.40M121.90 315.35h-1.40M29.90 299.58h1.40M121.90 299.58h-1.40M29.90 283.81h1.40M121.90 283.81h-1.40M29.90 268.04h1.40M121.90 268.04h-1.40M29.90 252.27h1.40M121.90 252.27h-1.40" stroke="#444444" stroke-width="0.7" fill="none"/><g font-size="7.60" fill="#2a2a2a" stroke="#2a2a2a" stroke-width="0.2"><g text-anchor="middle"><text x="29.90" y="405.10">0</text><text x="45.23" y="405.10">4</text><text x="60.57" y="405.10">8</text><text x="75.90" y="405.10">12</text><text x="91.23" y="405.10">16</text><text x="106.57" y="405.10">20</text><text x="121.90" y="405.10">24</text></g><g text-anchor="end"><text x="26.70" y="397.35">0</text><text x="26.70" y="381.58">0.5</text><text x="26.70" y="365.81">1</text><text x="26.70" y="350.04">1.5</text><text x="26.70" y="334.27">2</text><text x="26.70" y="318.50">2.5</text><text x="26.70" y="302.73">3</text><text x="26.70" y="286.96">3.5</text><text x="26.70" y="271.19">4</text><text x="26.70" y="255.42">4.5</text><text x="26.70" y="239.65">5</text></g></g><rect x="150.90" y="236.50" width="91.60" height="157.70" fill="none" stroke="#444444" stroke-width="0.85"/><path d="M166.17 394.20v-1.40M166.17 236.50v1.40M181.43 394.20v-1.40M181.43 236.50v1.40M196.70 394.20v-1.40M196.70 236.50v1.40M211.97 394.20v-1.40M211.97 236.50v1.40M227.23 394.20v-1.40M227.23 236.50v1.40M150.90 378.43h1.40M242.50 378.43h-1.40M150.90 362.66h1.40M242.50 362.66h-1.40M150.90 346.89h1.40M242.50 346.89h-1.40M150.90 331.12h1.40M242.50 331.12h-1.40M150.90 315.35h1.40M242.50 315.35h-1.40M150.90 299.58h1.40M242.50 299.58h-1.40M150.90 283.81h1.40M242.50 283.81h-1.40M150.90 268.04h1.40M242.50 268.04h-1.40M150.90 252.27h1.40M242.50 252.27h-1.40" stroke="#444444" stroke-width="0.7" fill="none"/><g font-size="7.60" fill="#2a2a2a" stroke="#2a2a2a" stroke-width="0.2"><g text-anchor="middle"><text x="150.90" y="405.10">0</text><text x="166.17" y="405.10">4</text><text x="181.43" y="405.10">8</text><text x="196.70" y="405.10">12</text><text x="211.97" y="405.10">16</text><text x="227.23" y="405.10">20</text><text x="242.50" y="405.10">24</text></g><g text-anchor="end"><text x="147.70" y="397.35">-5</text><text x="147.70" y="381.58">-4</text><text x="147.70" y="365.81">-3</text><text x="147.70" y="350.04">-2</text><text x="147.70" y="334.27">-1</text><text x="147.70" y="318.50">0</text><text x="147.70" y="302.73">1</text><text x="147.70" y="286.96">2</text><text x="147.70" y="271.19">3</text><text x="147.70" y="255.42">4</text><text x="147.70" y="239.65">5</text></g></g><g font-size="8.30" font-weight="bold" fill="#2a2a2a" stroke="#2a2a2a" stroke-width="0.18" text-anchor="middle"><text x="76.00" y="416.70">Local time [H]</text><text x="196.80" y="416.70">Local time [H]</text><text transform="translate(13.30 315.35) rotate(-90)">ROTI [Tecu/min]</text><text transform="translate(137.50 314.35) rotate(-90)">VTEC gradient [Tecu/km]</text></g><text x="141.10" y="232.20" font-size="7.60" fill="#2a2a2a" stroke="#2a2a2a" stroke-width="0.15" text-anchor="middle">Number of scintillations detected (ROTI&gt;=0.5): 1453 (7.42%)</text><text x="246.80" y="242.20" font-size="7.45" fill="#2a2a2a" stroke="#2a2a2a" stroke-width="0.25">E=20°</text></g><g><path d="M320.17 235.00V395.30M335.63 235.00V395.30M351.10 235.00V395.30M366.57 235.00V395.30M382.03 235.00V395.30M304.70 379.27H397.50M304.70 363.24H397.50M304.70 347.21H397.50M304.70 331.18H397.50M304.70 315.15H397.50M304.70 299.12H397.50M304.70 283.09H397.50M304.70 267.06H397.50M304.70 251.03H397.50" stroke="#dedede" stroke-width="0.5" fill="none"/><path d="M442.22 235.00V395.30M457.73 235.00V395.30M473.25 235.00V395.30M488.77 235.00V395.30M504.28 235.00V395.30M426.70 379.27H519.80M426.70 363.24H519.80M426.70 347.21H519.80M426.70 331.18H519.80M426.70 315.15H519.80M426.70 299.12H519.80M426.70 283.09H519.80M426.70 267.06H519.80M426.70 251.03H519.80" stroke="#dedede" stroke-width="0.5" fill="none"/><g filter="url(#soft)"><path d="M305.7 386.4h1.1M304.8 394.0h1.1M305.0 395.1h1.1M304.3 391.3h1.1M304.6 390.3h1.1M304.1 392.2h1.1M304.3 392.5h1.1M304.1 389.1h1.1M304.7 388.5h1.1M304.3 395.3h1.1M305.7 393.2h1.1M304.8 387.8h1.1M304.5 394.0h1.1M305.1 380.4h1.1M304.6 390.6h1.1M304.9 388.3h1.1M304.9 391.7h1.1M304.8 389.9h1.1M304.7 378.6h1.1M305.7 386.2h1.1M305.0 375.8h1.1M305.4 391.6h1.1M305.3 380.4h1.1M305.1 384.1h1.1M305.3 377.2h1.1M305.3 391.8h1.1M304.8 389.5h1.1M305.8 391.9h1.1M304.5 391.2h1.1M304.8 384.9h1.1M305.2 385.4h1.1M305.9 392.9h1.1M305.5 382.0h1.1M304.7 388.0h1.1M305.3 389.0h1.1M305.5 386.4h1.1M304.5 391.5h1.1M304.7 394.4h1.1M305.0 381.8h1.1M305.1 379.8h1.1M305.4 387.2h1.1M305.7 389.6h1.1M305.1 380.3h1.1M304.9 395.3h1.1M305.2 377.5h1.1M305.5 389.3h1.1M305.2 394.6h1.1M305.2 378.3h1.1M305.1 385.7h1.1M305.2 387.3h1.1M305.2 390.5h1.1M305.9 386.9h1.1M304.6 380.8h1.1M304.9 382.7h1.1M305.2 394.9h1.1M305.4 378.5h1.1M305.8 387.6h1.1M305.5 395.0h1.1M304.3 393.6h1.1M304.7 394.1h1.1M305.1 386.8h1.1M304.8 395.2h1.1M304.7 390.2h1.1M306.1 383.6h1.1M304.6 386.9h1.1M304.5 386.3h1.1M305.1 375.5h1.1" stroke="#3a6cff" stroke-width="1.1" stroke-opacity="0.86" fill="none"/><path d="M308.4 393.3h1.1M308.2 394.2h1.1M306.4 383.6h1.1M307.4 387.0h1.1M308.6 394.9h1.1M307.8 393.7h1.1M305.3 391.9h1.1M307.8 393.8h1.1M304.7 391.7h1.1M306.5 392.1h1.1M307.6 393.3h1.1M306.9 387.5h1.1M308.3 392.4h1.1M306.4 386.3h1.1M306.2 394.3h1.1M306.9 391.3h1.1M307.9 393.1h1.1M308.5 387.4h1.1M305.0 393.1h1.1M306.4 387.4h1.1M306.5 393.9h1.1M306.2 395.0h1.1M307.0 390.8h1.1M306.4 390.0h1.1M308.3 394.9h1.1M305.8 384.1h1.1M305.9 395.1h1.1M306.6 384.7h1.1M307.3 394.8h1.1M305.2 391.1h1.1M308.3 394.2h1.1M308.7 394.5h1.1M306.2 381.6h1.1M307.4 394.5h1.1M305.8 383.8h1.1M307.5 392.7h1.1M304.3 393.9h1.1M306.8 385.7h1.1M305.5 392.4h1.1M307.1 394.6h1.1M308.4 395.0h1.1M306.3 392.9h1.1M306.5 392.2h1.1M305.0 392.7h1.1M304.9 385.0h1.1M307.8 392.6h1.1M305.4 395.2h1.1M304.7 388.0h1.1M307.6 393.7h1.1M308.7 391.7h1.1M307.7 393.3h1.1M306.0 388.7h1.1M305.0 394.8h1.1M305.2 395.2h1.1M307.0 393.0h1.1M305.1 386.2h1.1M307.9 387.2h1.1M308.5 385.2h1.1M305.2 395.3h1.1M305.8 393.7h1.1M308.3 393.1h1.1M305.1 384.5h1.1M305.6 390.1h1.1M305.7 392.4h1.1M307.6 394.0h1.1M305.7 393.4h1.1M305.9 393.1h1.1M306.4 395.0h1.1M306.7 383.5h1.1M396.3 385.6h1.1M396.3 380.4h1.1M396.3 380.1h1.1M396.4 386.3h1.1M396.4 373.7h1.1M396.0 376.3h1.1M396.3 385.5h1.1M396.5 382.3h1.1M396.3 382.3h1.1M396.5 384.6h1.1M396.2 374.8h1.1M396.3 390.5h1.1M396.4 387.8h1.1M396.2 392.0h1.1M396.5 380.6h1.1M396.5 373.4h1.1M396.3 385.7h1.1M396.4 374.9h1.1M396.2 389.5h1.1M396.4 373.3h1.1M396.2 373.9h1.1M396.2 385.3h1.1M396.2 386.0h1.1M396.6 378.8h1.1M396.6 388.2h1.1M396.4 372.7h1.1" stroke="#114c9c" stroke-width="1.1" stroke-opacity="0.72" fill="none"/><path d="M308.6 390.2h1.1M308.0 393.5h1.1M309.9 385.3h1.1M308.9 372.8h1.1M309.2 383.3h1.1M309.0 374.9h1.1M308.3 389.7h1.1M308.7 387.2h1.1M308.7 375.1h1.1M309.5 375.3h1.1M309.4 376.2h1.1M308.1 374.7h1.1M308.4 383.4h1.1M308.9 392.0h1.1M308.9 383.1h1.1M308.9 375.9h1.1M308.6 390.4h1.1M308.6 371.6h1.1M308.7 385.9h1.1M309.2 392.1h1.1M308.3 382.3h1.1M308.7 393.4h1.1M308.4 393.7h1.1M309.3 378.0h1.1M308.9 387.1h1.1M309.3 382.0h1.1M309.1 370.8h1.1M308.2 388.3h1.1M309.3 374.2h1.1M308.2 374.2h1.1M309.3 381.5h1.1M308.7 370.8h1.1M308.8 384.4h1.1M308.5 373.9h1.1M308.8 393.3h1.1M309.0 371.1h1.1M308.7 384.0h1.1M309.0 370.4h1.1M308.8 372.6h1.1M308.4 371.4h1.1M309.0 378.0h1.1M309.0 377.9h1.1M308.6 380.2h1.1M308.9 390.0h1.1M309.0 386.8h1.1M308.5 392.0h1.1M308.2 391.0h1.1M308.8 387.8h1.1M308.3 385.8h1.1M308.6 374.4h1.1M309.1 391.4h1.1M308.9 384.2h1.1M308.8 394.4h1.1M310.3 394.9h1.1M311.5 393.5h1.1M309.8 387.0h1.1M310.4 393.4h1.1M310.7 392.4h1.1M309.2 386.5h1.1M311.4 394.4h1.1M309.2 390.5h1.1M307.9 388.7h1.1M313.4 391.2h1.1M307.7 392.9h1.1M310.2 387.7h1.1M312.2 391.3h1.1M312.1 380.1h1.1M310.6 389.8h1.1M312.1 395.1h1.1M311.8 394.7h1.1M310.2 394.2h1.1M311.5 393.7h1.1M311.3 395.1h1.1M306.9 391.6h1.1M307.7 394.3h1.1M311.8 393.7h1.1M307.7 394.3h1.1M311.6 395.1h1.1M310.8 392.4h1.1M309.8 389.5h1.1M311.2 391.7h1.1M310.4 393.5h1.1M313.4 394.8h1.1M307.1 385.5h1.1M307.6 393.9h1.1M309.8 394.5h1.1M307.7 394.2h1.1M311.6 384.2h1.1M307.2 386.5h1.1M308.3 392.8h1.1M310.0 384.0h1.1M307.0 388.6h1.1M309.4 392.6h1.1M306.9 392.9h1.1M307.6 387.4h1.1M310.5 394.4h1.1M312.9 395.0h1.1M307.3 386.0h1.1M309.4 391.6h1.1M310.0 387.8h1.1M311.1 394.9h1.1M310.8 390.9h1.1M312.3 389.2h1.1M310.4 395.1h1.1M309.0 393.7h1.1M307.4 393.7h1.1M307.9 392.5h1.1M311.4 394.4h1.1M310.8 393.6h1.1M306.8 389.4h1.1M308.4 393.5h1.1M311.6 394.9h1.1M309.2 394.6h1.1M311.9 392.2h1.1M309.6 384.5h1.1M309.9 394.4h1.1M310.3 391.7h1.1M308.9 392.2h1.1M313.2 393.6h1.1M312.6 393.0h1.1M307.1 393.3h1.1M306.9 392.9h1.1M310.8 391.6h1.1M307.5 388.7h1.1M311.2 395.1h1.1M307.2 393.8h1.1M307.9 392.4h1.1M309.7 393.4h1.1" stroke="#2ee070" stroke-width="1.1" stroke-opacity="0.86" fill="none"/><path d="M310.8 373.4h1.1M311.1 366.7h1.1M310.5 369.9h1.1M310.6 367.6h1.1M310.8 377.7h1.1M310.6 381.7h1.1M310.4 380.6h1.1M310.8 375.4h1.1M310.5 384.7h1.1M310.4 366.3h1.1M310.5 378.2h1.1M310.5 380.3h1.1M310.7 375.4h1.1M310.6 376.8h1.1M310.6 372.5h1.1M310.8 381.2h1.1M310.7 371.0h1.1M310.7 376.2h1.1M310.8 367.6h1.1M310.8 369.6h1.1M310.8 384.6h1.1M310.6 378.6h1.1M310.6 375.0h1.1M310.4 374.4h1.1M311.0 384.5h1.1M310.7 380.2h1.1M310.5 372.7h1.1M311.0 371.1h1.1M310.6 373.1h1.1M310.8 373.9h1.1" stroke="#ff5a5a" stroke-width="1.1" stroke-opacity="0.72" fill="none"/><path d="M313.5 370.8h1.1M313.7 372.3h1.1M313.9 374.7h1.1M313.8 367.9h1.1M313.7 374.5h1.1M313.8 383.8h1.1M314.0 371.1h1.1M313.9 376.1h1.1M313.6 367.7h1.1M313.7 379.2h1.1M313.9 364.9h1.1M313.7 363.5h1.1M313.9 384.1h1.1M313.4 384.8h1.1M313.7 374.3h1.1M313.6 384.0h1.1M313.8 367.2h1.1M313.5 367.9h1.1M313.6 362.4h1.1M313.7 370.9h1.1M313.8 375.2h1.1M313.7 378.6h1.1M313.9 380.6h1.1M313.8 383.0h1.1M313.7 382.6h1.1M314.0 378.1h1.1M313.6 360.8h1.1M313.9 363.0h1.1M313.4 385.7h1.1M313.8 362.4h1.1M313.8 375.1h1.1M313.5 372.7h1.1M313.7 380.5h1.1M313.7 366.2h1.1M314.1 373.9h1.1M313.7 370.1h1.1M313.9 369.8h1.1M313.9 373.9h1.1" stroke="#ff5f8f" stroke-width="1.1" stroke-opacity="0.79" fill="none"/><path d="M311.9 393.7h1.1M315.3 383.8h1.1M310.3 389.5h1.1M312.7 392.8h1.1M310.3 387.8h1.1M315.3 393.2h1.1M312.6 391.1h1.1M315.2 385.5h1.1M312.4 382.0h1.1M310.1 379.8h1.1M311.9 393.8h1.1M312.9 387.7h1.1M313.8 390.1h1.1M315.3 391.3h1.1M313.1 380.2h1.1M314.2 386.1h1.1M313.1 394.0h1.1M314.4 391.7h1.1M315.5 393.1h1.1M310.0 388.2h1.1M313.9 381.7h1.1M313.3 388.8h1.1M310.0 392.7h1.1M315.1 387.7h1.1M313.6 386.1h1.1M315.3 384.3h1.1M314.6 390.4h1.1M314.3 394.1h1.1M311.9 393.6h1.1M312.7 380.9h1.1M314.8 388.0h1.1M310.2 381.5h1.1M310.3 391.2h1.1M315.1 391.7h1.1M314.3 382.8h1.1M312.5 386.0h1.1M312.8 389.1h1.1M313.2 385.0h1.1M311.8 392.6h1.1M311.9 391.3h1.1M310.9 381.9h1.1M310.6 381.8h1.1M312.7 382.4h1.1M310.0 382.2h1.1M313.6 391.7h1.1M311.2 382.2h1.1M310.3 389.1h1.1M311.0 391.7h1.1M312.8 381.6h1.1M311.4 387.5h1.1M312.0 389.6h1.1M314.9 389.6h1.1M314.7 393.8h1.1M311.4 385.5h1.1M310.6 384.8h1.1M315.2 387.0h1.1M311.5 386.4h1.1M313.5 379.3h1.1M315.6 379.9h1.1M314.2 389.9h1.1M315.0 382.6h1.1M311.6 382.6h1.1M311.8 380.8h1.1M313.0 391.5h1.1M312.2 383.1h1.1M311.8 383.3h1.1M315.0 389.3h1.1M312.5 391.5h1.1M311.6 383.5h1.1M314.8 393.6h1.1M310.1 383.4h1.1M311.8 386.1h1.1M315.9 387.6h1.1M315.2 382.2h1.1M314.5 394.0h1.1M314.7 394.6h1.1M311.5 392.0h1.1M314.7 380.5h1.1M312.8 390.6h1.1M313.5 387.0h1.1M314.5 390.7h1.1M315.4 385.8h1.1M314.9 385.3h1.1M314.8 381.2h1.1M313.2 394.2h1.1M315.0 386.5h1.1M310.9 384.2h1.1M311.5 384.1h1.1M315.0 394.5h1.1M314.3 384.4h1.1M314.1 387.6h1.1M315.3 388.7h1.1M313.5 382.0h1.1M315.2 393.1h1.1M312.2 387.0h1.1M311.1 388.4h1.1M314.4 380.0h1.1M312.4 383.3h1.1M313.3 389.0h1.1M314.1 392.3h1.1M314.8 385.0h1.1M312.7 390.4h1.1M310.3 383.8h1.1M311.3 384.9h1.1M311.5 387.2h1.1M312.0 381.8h1.1M313.6 382.1h1.1M310.4 385.1h1.1M314.8 383.7h1.1M310.0 394.1h1.1M315.7 393.8h1.1M314.5 382.5h1.1M313.1 388.4h1.1M314.6 379.5h1.1M313.3 393.7h1.1M311.2 384.3h1.1M310.4 385.1h1.1M312.2 391.9h1.1M310.7 385.3h1.1M313.7 388.0h1.1M310.8 392.5h1.1M313.4 392.7h1.1M310.4 393.2h1.1M316.1 382.5h1.1M311.3 385.1h1.1M312.5 388.9h1.1M314.5 392.0h1.1M316.0 384.7h1.1M311.6 393.7h1.1M311.7 382.6h1.1M311.2 380.6h1.1M315.0 387.2h1.1M311.8 394.4h1.1M310.7 386.7h1.1M314.0 387.6h1.1M314.2 379.6h1.1M313.8 381.3h1.1M311.5 389.5h1.1M312.3 383.2h1.1M315.5 385.1h1.1M313.1 384.5h1.1M312.8 383.0h1.1M315.0 388.3h1.1M311.6 393.7h1.1M315.8 392.8h1.1M315.1 381.4h1.1M311.7 388.2h1.1M312.7 393.3h1.1M314.1 383.3h1.1M315.9 387.5h1.1M314.4 382.3h1.1M314.5 384.4h1.1M314.6 391.7h1.1M314.3 383.8h1.1M313.8 391.5h1.1M315.4 392.9h1.1M315.0 381.1h1.1M313.5 391.3h1.1M313.0 387.3h1.1M311.2 386.7h1.1M314.7 394.3h1.1M311.9 386.5h1.1M310.1 387.1h1.1M312.0 382.3h1.1M314.4 389.6h1.1M311.3 389.4h1.1M313.4 394.0h1.1M314.0 387.7h1.1M313.2 383.9h1.1M312.7 385.9h1.1" stroke="#ffc4cc" stroke-width="1.1" stroke-opacity="0.94" fill="none"/><path d="M313.9 386.7h1.1M311.1 385.4h1.1M315.3 394.1h1.1M316.7 395.2h1.1M313.1 382.6h1.1M316.9 394.1h1.1M316.4 392.3h1.1M312.5 388.1h1.1M313.0 379.5h1.1M311.0 393.4h1.1M311.0 391.1h1.1M311.7 388.0h1.1M311.3 395.0h1.1M311.9 388.8h1.1M316.0 385.7h1.1M313.7 390.6h1.1M312.6 392.9h1.1M314.5 389.8h1.1M314.7 389.0h1.1M313.6 395.3h1.1M314.4 394.1h1.1M316.2 395.1h1.1M315.9 391.6h1.1M316.3 394.6h1.1M311.3 391.9h1.1M311.8 391.7h1.1M312.7 382.6h1.1M316.5 394.1h1.1M310.7 393.2h1.1M315.3 394.8h1.1M311.5 393.5h1.1M316.8 394.4h1.1M314.8 389.6h1.1M313.1 394.8h1.1M315.5 393.1h1.1M311.1 394.7h1.1M313.8 379.9h1.1M311.8 393.2h1.1M316.1 390.6h1.1M313.2 389.3h1.1M313.5 392.0h1.1M312.4 391.9h1.1M315.7 394.3h1.1M313.6 391.0h1.1M313.2 386.1h1.1M315.5 395.3h1.1M311.6 392.5h1.1M314.7 393.2h1.1M312.5 395.2h1.1M316.3 394.3h1.1M311.1 394.5h1.1M311.0 386.3h1.1M311.3 389.7h1.1M311.0 391.4h1.1M310.8 389.1h1.1M315.8 387.8h1.1M311.2 383.2h1.1M316.3 392.7h1.1M310.6 391.1h1.1M311.8 391.3h1.1M316.4 390.7h1.1M316.1 394.5h1.1M313.4 390.0h1.1M316.8 394.5h1.1M310.0 392.2h1.1M310.9 394.4h1.1M311.1 387.4h1.1M313.2 391.0h1.1M311.0 393.9h1.1M316.1 385.0h1.1M310.4 391.8h1.1M313.2 385.5h1.1M313.7 394.0h1.1M311.7 391.9h1.1M310.9 385.7h1.1M312.7 393.7h1.1M310.6 394.4h1.1M312.0 390.0h1.1M314.7 381.4h1.1M310.9 394.2h1.1M311.9 391.2h1.1M313.4 376.0h1.1M316.2 388.9h1.1M311.0 392.7h1.1M315.9 388.8h1.1M311.1 394.3h1.1M315.2 377.3h1.1M315.3 389.4h1.1M311.6 387.1h1.1M312.7 386.4h1.1M310.9 394.6h1.1M311.1 394.0h1.1M312.5 392.5h1.1M313.9 394.1h1.1M314.4 393.7h1.1M314.5 392.8h1.1M316.8 395.2h1.1M310.2 390.7h1.1M313.2 391.5h1.1M316.9 392.6h1.1M310.4 393.2h1.1M310.0 393.2h1.1M315.7 391.1h1.1M312.9 394.0h1.1M316.8 395.0h1.1M313.5 394.8h1.1M314.6 392.2h1.1M316.7 394.9h1.1M312.1 394.5h1.1M312.5 390.6h1.1M315.3 393.9h1.1M314.7 379.1h1.1M315.4 392.6h1.1M312.0 386.8h1.1M312.3 394.5h1.1" stroke="#ff9ab4" stroke-width="1.1" stroke-opacity="0.86" fill="none"/><path d="M307.4 394.7h1.1M307.3 394.7h1.1M316.1 389.5h1.1M310.3 394.9h1.1M310.8 394.3h1.1M310.3 382.8h1.1M308.9 387.5h1.1M307.5 392.8h1.1M310.8 384.8h1.1M315.8 390.5h1.1M316.5 385.0h1.1M312.6 384.8h1.1M307.7 395.1h1.1M309.2 394.5h1.1M308.9 393.0h1.1M316.1 395.1h1.1M312.6 394.4h1.1M313.5 395.1h1.1M313.0 390.8h1.1M309.1 392.3h1.1M313.8 390.3h1.1M311.1 387.5h1.1M315.8 389.5h1.1M312.1 384.8h1.1M312.4 392.2h1.1M313.9 392.8h1.1M310.8 395.2h1.1M315.7 394.1h1.1M311.4 393.2h1.1M314.6 385.4h1.1M309.0 392.4h1.1M312.9 384.3h1.1M315.0 389.6h1.1M307.9 393.0h1.1M312.9 394.2h1.1M309.7 390.1h1.1M308.5 383.0h1.1M315.9 391.9h1.1M307.7 387.4h1.1M307.6 393.9h1.1M310.9 394.4h1.1M310.1 391.0h1.1M309.4 391.9h1.1M307.4 393.1h1.1M311.3 388.3h1.1M315.4 394.9h1.1M316.3 394.2h1.1M313.5 392.9h1.1M312.5 395.1h1.1M309.3 393.9h1.1M307.4 393.9h1.1M308.9 383.7h1.1M314.4 395.0h1.1M307.5 392.2h1.1M312.5 393.6h1.1M315.8 390.9h1.1M314.2 395.0h1.1M310.6 392.8h1.1M311.9 392.1h1.1M316.1 393.5h1.1M312.4 393.4h1.1M307.7 393.0h1.1M309.6 394.9h1.1M307.8 384.0h1.1M311.1 391.4h1.1M310.3 389.4h1.1M311.6 394.8h1.1M310.5 386.8h1.1M312.3 395.0h1.1M307.9 389.8h1.1M316.0 386.2h1.1M314.9 394.2h1.1M307.7 391.9h1.1M313.9 392.9h1.1M308.0 394.4h1.1M309.6 389.9h1.1M308.8 393.7h1.1M308.6 394.2h1.1M314.1 390.6h1.1M310.1 384.5h1.1M308.8 394.8h1.1M316.2 388.5h1.1M313.7 394.4h1.1M308.0 391.5h1.1M314.5 386.0h1.1M313.4 392.0h1.1M313.8 391.8h1.1M309.4 394.3h1.1M309.7 393.9h1.1M314.7 394.1h1.1M310.9 383.6h1.1M309.4 392.9h1.1M312.6 389.8h1.1M307.6 393.9h1.1M310.9 382.8h1.1M314.5 386.8h1.1M308.3 384.8h1.1M316.5 391.2h1.1M311.3 394.6h1.1M310.8 395.0h1.1M310.2 387.3h1.1M310.6 389.2h1.1M307.9 393.2h1.1M316.2 385.1h1.1M309.4 383.0h1.1M314.0 390.2h1.1M314.2 389.9h1.1M312.6 394.2h1.1M308.4 393.6h1.1M308.7 384.5h1.1M314.1 394.9h1.1M310.3 394.7h1.1M309.4 391.2h1.1M315.5 393.3h1.1M313.5 391.9h1.1M309.6 392.9h1.1" stroke="#ff5f8f" stroke-width="1.1" stroke-opacity="0.86" fill="none"/><path d="M312.1 394.8h1.1M313.4 392.5h1.1M306.4 391.0h1.1M307.3 395.0h1.1M309.0 382.2h1.1M309.1 387.5h1.1M309.7 394.3h1.1M310.8 394.2h1.1M308.4 389.4h1.1M308.8 388.2h1.1M312.4 391.7h1.1M310.7 393.7h1.1M309.3 382.7h1.1M310.2 391.1h1.1M306.4 392.1h1.1M312.6 394.7h1.1M312.6 384.9h1.1M309.5 391.3h1.1M312.3 394.1h1.1M307.6 384.0h1.1M308.9 395.0h1.1M309.5 388.6h1.1M307.3 393.5h1.1M312.4 393.1h1.1M310.0 391.0h1.1M312.3 391.6h1.1M307.5 394.7h1.1M307.0 394.9h1.1M306.3 391.8h1.1M309.8 385.1h1.1M312.2 392.6h1.1M308.5 391.7h1.1M312.8 391.1h1.1M312.5 390.4h1.1M306.9 383.4h1.1M312.8 394.3h1.1M309.2 393.6h1.1M310.4 394.6h1.1M311.4 393.6h1.1M312.8 395.0h1.1M307.2 392.9h1.1M306.6 387.1h1.1M307.8 393.8h1.1M310.3 392.3h1.1M306.7 393.7h1.1M309.2 393.4h1.1M306.6 392.5h1.1M308.7 391.6h1.1M307.0 394.0h1.1M307.2 395.1h1.1M311.4 389.4h1.1M307.7 394.0h1.1M313.0 382.2h1.1M307.8 391.9h1.1M311.1 391.9h1.1M308.5 393.1h1.1M310.1 389.7h1.1M309.6 389.4h1.1M311.1 387.5h1.1" stroke="#ff4ade" stroke-width="1.1" stroke-opacity="0.79" fill="none"/><path d="M315.8 394.3h1.1M315.5 390.0h1.1M315.8 389.4h1.1M315.5 390.7h1.1M315.5 392.8h1.1M316.2 386.7h1.1M315.7 393.7h1.1M315.6 387.8h1.1M315.9 387.0h1.1M315.7 387.3h1.1M315.8 391.4h1.1M315.9 393.1h1.1M315.9 392.1h1.1M315.6 390.3h1.1M315.7 385.7h1.1M315.2 391.2h1.1M316.0 394.2h1.1M315.9 389.3h1.1M315.2 388.7h1.1M314.9 387.6h1.1M316.0 394.2h1.1M316.0 392.6h1.1" stroke="#5ce6a0" stroke-width="1.1" stroke-opacity="0.86" fill="none"/><path d="M316.7 392.8h1.1M317.2 389.1h1.1M317.3 389.1h1.1M316.9 389.9h1.1M316.8 392.0h1.1M317.2 389.0h1.1M317.3 389.3h1.1M316.6 391.8h1.1M316.3 393.9h1.1M316.8 393.5h1.1M323.0 392.2h1.1M323.4 393.3h1.1M323.7 395.2h1.1M323.2 393.3h1.1" stroke="#2f9e5a" stroke-width="1.1" stroke-opacity="0.72" fill="none"/><path d="M307.8 391.9h1.1M304.4 390.0h1.1M305.4 394.8h1.1M305.0 387.2h1.1M307.2 390.0h1.1M305.3 394.7h1.1M306.1 392.0h1.1M306.7 392.4h1.1M305.4 394.8h1.1M306.1 388.8h1.1M304.2 389.9h1.1M305.9 389.3h1.1M307.3 394.3h1.1M307.0 394.3h1.1M305.0 393.4h1.1M306.7 387.6h1.1M306.6 389.5h1.1M304.9 386.6h1.1M307.6 393.7h1.1M305.3 395.1h1.1M306.6 389.4h1.1M385.9 388.5h1.1M389.2 388.2h1.1M388.4 353.9h1.1M385.6 375.5h1.1M386.6 376.3h1.1M386.8 376.8h1.1M387.3 393.1h1.1M385.0 359.8h1.1M382.8 381.4h1.1M382.6 394.4h1.1M387.8 370.7h1.1M383.8 390.1h1.1M386.6 389.2h1.1M387.9 376.5h1.1M385.4 354.6h1.1M382.9 371.7h1.1M383.5 364.7h1.1M383.6 359.2h1.1M386.9 386.0h1.1M387.3 390.1h1.1M387.5 394.7h1.1M388.8 391.6h1.1M384.3 375.6h1.1M385.9 342.7h1.1M387.5 387.4h1.1M382.4 391.1h1.1M387.9 342.6h1.1M383.6 376.1h1.1M385.6 387.1h1.1M382.4 388.0h1.1M387.3 391.6h1.1M388.7 373.1h1.1M387.6 386.6h1.1M382.3 360.7h1.1M385.2 385.8h1.1M383.2 388.3h1.1M388.7 359.5h1.1M382.6 380.4h1.1M386.8 384.4h1.1M385.1 365.6h1.1M383.5 373.9h1.1M386.7 377.8h1.1M388.3 377.6h1.1M387.8 394.7h1.1M383.9 385.3h1.1M384.4 386.3h1.1M383.9 395.1h1.1M384.6 382.5h1.1M382.4 381.6h1.1M386.5 395.0h1.1M388.7 386.6h1.1M385.1 373.3h1.1M386.2 392.5h1.1M387.0 391.6h1.1M382.9 387.3h1.1M383.8 374.0h1.1M388.6 384.7h1.1M388.3 390.1h1.1M388.3 388.2h1.1M389.1 387.6h1.1M382.8 360.8h1.1M387.4 369.7h1.1M385.8 372.7h1.1M389.1 381.8h1.1M383.4 383.7h1.1M385.7 378.4h1.1M385.6 392.8h1.1M383.7 386.3h1.1M385.4 380.1h1.1M382.8 370.8h1.1M387.3 382.7h1.1M388.4 365.7h1.1M388.9 354.8h1.1M388.7 387.6h1.1M388.1 381.4h1.1M386.1 387.4h1.1M388.3 387.9h1.1M383.4 388.3h1.1M386.5 383.1h1.1M382.4 390.6h1.1M386.6 390.0h1.1M385.8 386.8h1.1M386.0 380.2h1.1M388.4 387.8h1.1M383.8 352.7h1.1M386.1 370.8h1.1M385.0 354.2h1.1M387.1 376.5h1.1M384.8 353.4h1.1M388.6 360.0h1.1M385.2 391.5h1.1M385.0 345.6h1.1M382.6 394.5h1.1M384.9 383.5h1.1M384.2 368.2h1.1M382.8 390.2h1.1M383.7 392.4h1.1M384.9 377.3h1.1M387.8 388.0h1.1M387.2 372.8h1.1M384.3 375.6h1.1M388.9 393.7h1.1" stroke="#ffbf66" stroke-width="1.1" stroke-opacity="0.72" fill="none"/><path d="M333.2 394.3h1.1M323.1 394.4h1.1M331.6 394.6h1.1M370.0 393.9h1.1M360.2 394.2h1.1M325.1 394.3h1.1M337.1 394.4h1.1M367.9 394.2h1.1M361.8 394.6h1.1M349.2 394.9h1.1M355.5 394.3h1.1M327.8 394.7h1.1M321.8 394.8h1.1M357.0 394.6h1.1M372.4 394.5h1.1M326.1 394.0h1.1M360.1 394.9h1.1M344.1 394.7h1.1M359.3 394.9h1.1M324.7 394.5h1.1M374.2 394.9h1.1M350.6 394.6h1.1M357.1 394.5h1.1M375.4 394.4h1.1M369.0 394.7h1.1M337.0 394.7h1.1M367.9 394.8h1.1M346.8 394.6h1.1M320.3 394.7h1.1M327.9 394.7h1.1M370.6 394.1h1.1M338.0 394.6h1.1M326.8 394.3h1.1M370.6 394.6h1.1M361.5 394.7h1.1M318.6 394.7h1.1M325.9 393.9h1.1M341.9 394.9h1.1M346.5 394.7h1.1M340.2 394.8h1.1M366.8 394.3h1.1M348.7 394.3h1.1M330.4 394.4h1.1M329.1 394.0h1.1M345.6 394.6h1.1M361.2 394.1h1.1M345.3 394.4h1.1M321.8 394.8h1.1M347.6 394.3h1.1M368.0 394.9h1.1M341.3 394.8h1.1M350.7 394.8h1.1M321.8 394.5h1.1M334.5 394.7h1.1M326.5 394.3h1.1M367.4 394.1h1.1M368.5 394.3h1.1M375.3 394.4h1.1M330.5 394.8h1.1M352.8 394.2h1.1M322.5 394.6h1.1M356.2 394.6h1.1M361.9 394.8h1.1M325.6 394.6h1.1M328.7 394.4h1.1M351.4 394.3h1.1M328.4 394.7h1.1M373.6 394.5h1.1M372.6 394.9h1.1M356.9 394.8h1.1M328.6 394.5h1.1M347.7 394.9h1.1M355.9 394.3h1.1M321.1 394.0h1.1M369.7 394.2h1.1M354.1 394.4h1.1M333.0 393.8h1.1M333.5 394.2h1.1M374.4 394.3h1.1M368.2 394.8h1.1M367.1 394.8h1.1M323.7 394.2h1.1M371.1 393.5h1.1M323.6 394.4h1.1M344.2 394.7h1.1M374.2 394.6h1.1M350.7 394.4h1.1M335.5 394.7h1.1M353.6 394.2h1.1M373.6 393.9h1.1M336.2 393.7h1.1M370.8 394.6h1.1M326.2 394.5h1.1M369.6 394.8h1.1M322.6 394.8h1.1M322.1 394.9h1.1M348.6 394.8h1.1M347.2 394.1h1.1M346.9 394.0h1.1M353.1 394.5h1.1M376.5 394.5h1.1M347.0 394.4h1.1M335.1 394.5h1.1M334.0 394.2h1.1M335.4 394.3h1.1M336.1 394.6h1.1M342.2 394.5h1.1M366.8 394.6h1.1M354.6 393.9h1.1M357.5 394.2h1.1M328.4 394.3h1.1M368.1 394.7h1.1M343.2 394.7h1.1M321.7 394.4h1.1M336.3 394.9h1.1M377.5 394.7h1.1M346.2 394.0h1.1M350.2 394.6h1.1M331.8 393.5h1.1M373.4 394.3h1.1M361.2 394.7h1.1M329.2 394.6h1.1M335.7 394.9h1.1M363.0 394.2h1.1M369.4 394.6h1.1M345.1 393.7h1.1M373.9 394.8h1.1M343.4 394.8h1.1M318.5 394.9h1.1M331.6 394.7h1.1M319.6 394.0h1.1M356.4 394.5h1.1M340.3 394.8h1.1M325.9 394.1h1.1M355.4 394.3h1.1M325.2 394.6h1.1M372.8 394.5h1.1M344.6 394.0h1.1M336.2 394.0h1.1M344.9 394.0h1.1M355.3 394.8h1.1M332.4 394.6h1.1M355.2 394.6h1.1M364.6 394.2h1.1M347.7 394.8h1.1M329.6 394.3h1.1M317.9 394.7h1.1M376.5 394.8h1.1M366.1 394.4h1.1M360.5 394.3h1.1M344.2 394.8h1.1M351.2 394.5h1.1M352.5 394.2h1.1M366.4 394.2h1.1M375.7 394.8h1.1M319.2 394.9h1.1M318.1 394.8h1.1M368.5 394.9h1.1M342.9 394.9h1.1M348.8 394.7h1.1M376.7 394.7h1.1M337.7 394.8h1.1M330.6 394.6h1.1M358.8 394.3h1.1M325.7 394.1h1.1M336.3 394.9h1.1M340.5 393.5h1.1M318.8 393.8h1.1M347.3 394.7h1.1M330.7 394.6h1.1M335.8 394.4h1.1M365.2 394.9h1.1M365.2 394.7h1.1M337.8 394.1h1.1M345.5 394.8h1.1M356.9 394.3h1.1M374.0 394.5h1.1M366.1 394.8h1.1M349.4 394.3h1.1M345.0 394.7h1.1M350.2 394.0h1.1M318.9 393.9h1.1M323.9 394.3h1.1M339.4 394.8h1.1M341.6 394.2h1.1M327.9 394.2h1.1M325.9 394.2h1.1M350.0 394.5h1.1M345.3 394.2h1.1M362.2 394.2h1.1M346.2 394.5h1.1M369.0 394.6h1.1M336.9 394.5h1.1M348.7 394.6h1.1M320.3 394.1h1.1M360.7 394.5h1.1M376.9 393.8h1.1M333.1 394.8h1.1M324.3 394.3h1.1M318.8 394.8h1.1M345.7 394.4h1.1M353.4 394.6h1.1M357.5 393.8h1.1M369.2 394.7h1.1M371.4 394.3h1.1M320.0 394.1h1.1M362.2 394.8h1.1M366.1 394.4h1.1M337.0 394.5h1.1M363.9 394.7h1.1M353.1 394.7h1.1M322.5 394.9h1.1M322.1 394.5h1.1M339.9 394.4h1.1M361.9 394.8h1.1M349.0 393.9h1.1M335.2 394.0h1.1M371.2 394.6h1.1M375.9 394.7h1.1M344.5 394.4h1.1M364.3 394.7h1.1M324.3 394.6h1.1M347.2 394.9h1.1M360.4 394.8h1.1M324.8 394.7h1.1M351.6 394.8h1.1M338.9 394.6h1.1M357.2 394.1h1.1M333.5 394.3h1.1M373.2 394.3h1.1M375.2 394.9h1.1M318.4 394.8h1.1M371.7 394.0h1.1M367.9 394.9h1.1M327.9 394.8h1.1M322.9 394.9h1.1M340.9 394.9h1.1M363.5 394.6h1.1M345.7 394.9h1.1M335.9 394.6h1.1M323.2 394.8h1.1M358.9 394.7h1.1M373.0 394.7h1.1M320.2 394.0h1.1M355.7 394.7h1.1M331.4 394.1h1.1M354.7 394.7h1.1M328.7 394.1h1.1M322.6 394.7h1.1M351.0 394.7h1.1M373.2 394.6h1.1M351.6 394.9h1.1M338.4 394.8h1.1M362.3 394.4h1.1M329.0 394.2h1.1M371.0 394.4h1.1M377.4 394.5h1.1M345.0 394.6h1.1M370.1 394.7h1.1M349.0 394.1h1.1M320.8 394.0h1.1M326.6 394.9h1.1M371.5 394.2h1.1M349.9 394.1h1.1M325.4 394.5h1.1M377.0 394.0h1.1M354.5 394.7h1.1M370.6 394.8h1.1M373.5 394.8h1.1M321.2 394.5h1.1M376.1 394.6h1.1M322.1 394.6h1.1M375.2 394.5h1.1M337.3 394.6h1.1M348.7 394.6h1.1M377.0 394.1h1.1M346.7 394.5h1.1M350.1 394.4h1.1M341.2 394.8h1.1M320.8 394.7h1.1M352.8 394.9h1.1M372.1 394.5h1.1M334.5 394.9h1.1M321.2 394.3h1.1M345.4 394.4h1.1M340.7 394.7h1.1M358.7 394.7h1.1M360.1 394.9h1.1M341.3 394.1h1.1M356.9 394.3h1.1M328.7 394.6h1.1M320.3 393.8h1.1M357.4 394.3h1.1M322.7 394.3h1.1M370.7 394.3h1.1M359.4 394.9h1.1M343.6 394.0h1.1M339.6 394.6h1.1M373.5 394.7h1.1M321.8 394.7h1.1M342.1 394.7h1.1M335.2 394.5h1.1M358.7 394.2h1.1M372.7 393.8h1.1M339.2 394.6h1.1M331.4 394.1h1.1M334.3 394.1h1.1M332.4 394.9h1.1M369.3 394.4h1.1M331.9 394.7h1.1M349.3 394.9h1.1M375.3 394.4h1.1M369.2 394.4h1.1M365.2 394.3h1.1M332.5 394.7h1.1M365.7 394.4h1.1M364.3 394.8h1.1M323.6 394.9h1.1M330.8 394.4h1.1M365.9 394.7h1.1M329.3 394.9h1.1M360.4 394.7h1.1M375.5 394.9h1.1M368.3 394.4h1.1M365.6 394.8h1.1M318.4 394.6h1.1M374.4 393.9h1.1M360.3 394.5h1.1M335.3 394.5h1.1M347.5 394.4h1.1M321.5 394.6h1.1M343.1 393.7h1.1M330.2 394.7h1.1M327.0 394.4h1.1M342.0 394.7h1.1M353.6 394.5h1.1M342.6 394.7h1.1M339.3 394.1h1.1M345.0 394.5h1.1M339.6 394.0h1.1M326.5 393.7h1.1M332.3 394.9h1.1M364.3 394.9h1.1M355.1 394.8h1.1M332.3 394.5h1.1M367.3 394.9h1.1M368.9 394.5h1.1M369.1 394.5h1.1M372.3 394.4h1.1M353.2 394.7h1.1M373.8 394.9h1.1M321.4 394.6h1.1M349.5 394.8h1.1M366.9 394.8h1.1M334.5 394.6h1.1M354.6 394.9h1.1M349.2 394.3h1.1M372.7 394.3h1.1M376.7 394.4h1.1M344.8 394.7h1.1M356.7 394.2h1.1M329.8 394.3h1.1M340.8 394.4h1.1M363.4 394.4h1.1M373.3 394.6h1.1M331.8 394.6h1.1M337.3 394.6h1.1M327.9 394.7h1.1M317.7 394.3h1.1M348.2 394.7h1.1M352.0 394.0h1.1M330.0 394.7h1.1M365.5 394.2h1.1M372.5 394.8h1.1M360.5 394.5h1.1M355.8 394.7h1.1M336.2 394.5h1.1M373.1 394.8h1.1M351.9 394.0h1.1M349.1 394.2h1.1M374.2 394.1h1.1M344.6 394.6h1.1M357.6 394.7h1.1M319.1 394.9h1.1M355.9 394.5h1.1M376.5 394.9h1.1M371.0 394.6h1.1M357.3 394.8h1.1M346.0 394.9h1.1M352.0 394.7h1.1M374.7 394.5h1.1M374.4 394.3h1.1M357.7 394.4h1.1M344.3 394.3h1.1M360.7 394.4h1.1M373.7 393.4h1.1M367.4 394.3h1.1M366.2 394.8h1.1M319.0 394.2h1.1M356.4 394.9h1.1M342.8 394.3h1.1M354.9 394.7h1.1M347.1 394.6h1.1M368.3 394.7h1.1M333.8 394.0h1.1M341.8 394.9h1.1M332.1 394.7h1.1M330.2 394.1h1.1M361.3 394.7h1.1M321.9 394.2h1.1M351.2 394.4h1.1M368.5 394.8h1.1M324.5 394.7h1.1M358.5 394.7h1.1M327.8 394.9h1.1M344.8 394.2h1.1M374.0 394.2h1.1M358.2 394.8h1.1M319.0 394.8h1.1M336.0 394.6h1.1M350.2 394.9h1.1M365.3 394.7h1.1M375.8 394.7h1.1M358.3 394.1h1.1M376.6 394.0h1.1M337.0 393.6h1.1M326.0 394.7h1.1M367.2 394.6h1.1M355.9 394.4h1.1M373.7 394.8h1.1M324.2 394.5h1.1M330.7 394.4h1.1M368.6 394.8h1.1M356.6 394.6h1.1M309.2 394.8h1.1M307.0 394.5h1.1M309.6 394.7h1.1M308.7 394.8h1.1M307.9 394.1h1.1M306.5 394.3h1.1M311.6 394.3h1.1M309.2 394.6h1.1M311.1 394.7h1.1M310.0 394.5h1.1M307.3 394.7h1.1M304.6 394.7h1.1M310.3 394.4h1.1M304.7 394.6h1.1M306.7 394.8h1.1M305.2 394.8h1.1M311.0 394.6h1.1M304.7 394.8h1.1M310.4 394.7h1.1M305.5 394.9h1.1M308.7 394.7h1.1M306.2 394.6h1.1M304.8 394.7h1.1M308.6 394.1h1.1M306.5 394.9h1.1M306.5 394.7h1.1M310.2 394.7h1.1M307.2 394.6h1.1M306.5 394.5h1.1M310.7 394.8h1.1M309.9 394.6h1.1M309.2 394.7h1.1M309.2 394.8h1.1M305.4 394.8h1.1M311.2 394.5h1.1M308.6 394.7h1.1M311.1 394.7h1.1M309.0 394.5h1.1M306.2 394.6h1.1M309.0 394.3h1.1M307.6 394.4h1.1M307.8 394.8h1.1M309.3 394.7h1.1M310.2 394.7h1.1M308.4 394.0h1.1M305.9 394.8h1.1M305.4 394.7h1.1M306.4 394.8h1.1M305.5 394.7h1.1M305.5 394.8h1.1M309.8 394.5h1.1M309.5 394.7h1.1M310.5 394.4h1.1M307.9 394.5h1.1M306.9 394.9h1.1M308.4 394.6h1.1M335.7 394.6h1.1M337.3 394.5h1.1M328.5 394.0h1.1M334.4 394.5h1.1M335.9 394.9h1.1M335.6 394.6h1.1M331.8 394.8h1.1M333.9 394.3h1.1M332.6 394.8h1.1M333.8 394.9h1.1M335.9 394.6h1.1M332.2 394.5h1.1M333.9 393.8h1.1M331.2 394.7h1.1M336.6 394.1h1.1M332.6 394.3h1.1M333.7 394.3h1.1M336.6 394.8h1.1M328.1 394.8h1.1M335.9 394.2h1.1M337.3 394.8h1.1M336.0 394.9h1.1M335.7 394.5h1.1M331.3 394.7h1.1M332.2 394.6h1.1M330.0 393.9h1.1M332.4 394.8h1.1M330.4 393.7h1.1M332.8 394.2h1.1M334.3 394.7h1.1M334.0 393.9h1.1M328.2 394.3h1.1M335.8 394.6h1.1M330.4 394.5h1.1M333.0 394.6h1.1M334.6 394.3h1.1M329.1 394.4h1.1M334.1 394.4h1.1M336.0 394.9h1.1M335.2 394.8h1.1M336.9 394.2h1.1M330.6 394.6h1.1M331.7 394.4h1.1M332.0 394.5h1.1M327.4 394.5h1.1M336.7 394.9h1.1M328.1 394.2h1.1M331.5 394.2h1.1M331.8 394.4h1.1M327.7 394.5h1.1M333.1 394.8h1.1M328.1 394.9h1.1M330.2 394.8h1.1M332.4 394.1h1.1M329.3 394.5h1.1M333.8 394.5h1.1M328.8 394.0h1.1M334.8 394.8h1.1M332.2 394.8h1.1M332.5 394.7h1.1M330.7 394.6h1.1M336.7 394.1h1.1M330.9 394.3h1.1M332.8 394.7h1.1M337.0 394.6h1.1M328.2 394.5h1.1M336.0 394.8h1.1M332.3 394.7h1.1M331.1 394.5h1.1M328.8 393.6h1.1M329.6 394.2h1.1M328.2 394.2h1.1M356.8 394.2h1.1M359.7 394.5h1.1M350.9 394.9h1.1M352.7 394.9h1.1M355.1 394.5h1.1M352.4 393.8h1.1M356.4 394.8h1.1M358.2 394.2h1.1M354.5 394.6h1.1M359.8 394.5h1.1M359.6 394.9h1.1M353.5 394.2h1.1M353.3 394.4h1.1M354.4 394.9h1.1M355.7 394.2h1.1M359.8 394.5h1.1M357.3 394.7h1.1M355.5 394.7h1.1M356.7 394.7h1.1M353.5 394.7h1.1M358.3 394.8h1.1M357.2 394.5h1.1M352.0 394.9h1.1M354.7 394.8h1.1M351.0 394.5h1.1M359.7 394.7h1.1M355.7 394.7h1.1M353.8 394.4h1.1M354.5 394.1h1.1M359.2 394.6h1.1M359.8 394.4h1.1M356.9 394.1h1.1M354.4 394.3h1.1M352.6 394.3h1.1M356.9 394.5h1.1M356.5 394.2h1.1M350.5 394.6h1.1M352.9 394.8h1.1M351.9 394.4h1.1M353.2 394.7h1.1M352.5 394.7h1.1M354.8 394.5h1.1M352.8 394.9h1.1M353.2 394.7h1.1M352.2 394.3h1.1M352.9 393.6h1.1M350.7 394.4h1.1M352.5 394.6h1.1M351.8 394.7h1.1M357.2 393.2h1.1M353.1 394.2h1.1M355.8 394.6h1.1M359.7 394.2h1.1M357.5 394.2h1.1M352.2 394.9h1.1M352.7 394.9h1.1M351.5 394.7h1.1M352.4 394.8h1.1M353.8 394.7h1.1M357.4 394.3h1.1M354.7 394.6h1.1M357.8 394.5h1.1M354.9 394.6h1.1M352.9 394.4h1.1M359.2 394.8h1.1M357.4 394.4h1.1M354.8 394.3h1.1M365.7 394.6h1.1M370.4 394.5h1.1M372.0 394.8h1.1M369.4 394.6h1.1M366.2 394.6h1.1M368.1 394.6h1.1M366.2 394.7h1.1M368.7 394.6h1.1M372.1 394.3h1.1M366.2 394.3h1.1M368.2 394.9h1.1M367.3 394.5h1.1M368.2 394.8h1.1M365.7 394.0h1.1M368.4 394.6h1.1M365.8 394.4h1.1M366.0 394.7h1.1M371.6 394.0h1.1M368.8 393.8h1.1M367.6 394.7h1.1M371.2 394.6h1.1M369.7 394.9h1.1M371.7 394.8h1.1M371.7 394.8h1.1M364.6 394.3h1.1M370.7 394.4h1.1M365.9 394.8h1.1M366.4 394.7h1.1M370.5 394.0h1.1M366.0 394.6h1.1M370.2 394.5h1.1M370.8 394.9h1.1M367.2 394.1h1.1M371.4 394.5h1.1M371.1 394.8h1.1M369.0 394.5h1.1M371.0 394.5h1.1M365.8 393.3h1.1M364.8 394.6h1.1M370.9 394.6h1.1M371.0 394.6h1.1M371.3 394.7h1.1M370.5 394.6h1.1M369.3 394.6h1.1M372.2 394.1h1.1M365.5 394.6h1.1M368.1 394.1h1.1M369.9 394.0h1.1M364.6 394.6h1.1M371.1 394.9h1.1M371.0 394.2h1.1M367.4 394.8h1.1M365.1 394.7h1.1M368.0 394.9h1.1M370.6 394.9h1.1M366.3 394.9h1.1" stroke="#ffe92e" stroke-width="1.1" stroke-opacity="0.94" fill="none"/><path d="M314.6 394.2h1.1M313.0 394.6h1.1M317.4 394.7h1.1M313.9 394.9h1.1M315.3 394.7h1.1M312.5 394.7h1.1M318.4 394.7h1.1M319.4 394.8h1.1M319.5 394.6h1.1M315.0 394.6h1.1M314.6 394.8h1.1M319.2 394.6h1.1M315.7 394.7h1.1M316.4 394.9h1.1M316.8 394.8h1.1M312.6 394.3h1.1M319.1 394.5h1.1M319.1 394.8h1.1M316.4 394.8h1.1M316.7 394.8h1.1M315.4 394.0h1.1M312.6 394.5h1.1M315.1 394.8h1.1M314.0 394.7h1.1M314.9 394.7h1.1M312.7 394.6h1.1M314.4 394.9h1.1M314.7 394.8h1.1M319.5 394.5h1.1M312.7 394.4h1.1M312.5 394.5h1.1M317.9 394.2h1.1M312.2 394.5h1.1M314.4 394.8h1.1M313.8 394.7h1.1M315.6 394.7h1.1M317.5 394.8h1.1M316.0 394.9h1.1M318.0 394.2h1.1M314.1 394.6h1.1M318.2 393.9h1.1M319.3 394.5h1.1M314.2 394.5h1.1M315.4 394.4h1.1M312.3 394.6h1.1M312.0 394.6h1.1M315.6 394.8h1.1M313.1 394.6h1.1M315.4 394.9h1.1M316.9 394.3h1.1M318.2 394.5h1.1M315.4 394.3h1.1M311.9 394.7h1.1M318.3 394.0h1.1M316.7 394.3h1.1M313.8 394.5h1.1" stroke="#ff5f8f" stroke-width="1.1" stroke-opacity="0.94" fill="none"/><path d="M319.2 394.7h1.1M319.2 394.5h1.1M325.8 394.6h1.1M323.9 394.6h1.1M320.5 394.7h1.1M323.4 394.0h1.1M322.2 394.5h1.1M325.9 394.3h1.1M328.3 394.6h1.1M321.4 394.9h1.1M318.1 394.6h1.1M321.7 394.7h1.1M321.4 394.8h1.1M322.6 394.7h1.1M323.2 394.7h1.1M325.3 394.8h1.1M322.8 394.4h1.1M328.5 394.2h1.1M318.7 394.6h1.1M322.7 394.6h1.1M318.2 394.0h1.1M321.5 394.2h1.1M325.6 394.7h1.1M322.6 394.5h1.1M324.5 394.2h1.1M328.7 394.6h1.1M322.6 394.1h1.1M326.3 393.9h1.1M321.8 394.7h1.1M321.6 394.8h1.1M320.6 394.7h1.1M321.2 394.5h1.1M327.7 394.6h1.1M321.6 393.0h1.1M319.2 394.6h1.1M328.8 394.8h1.1M323.5 394.3h1.1M325.4 394.8h1.1M318.1 394.7h1.1M320.7 394.6h1.1M318.9 394.4h1.1M323.6 394.2h1.1M322.5 394.2h1.1M322.6 394.9h1.1M324.6 394.0h1.1M322.1 394.7h1.1M323.0 394.9h1.1M319.3 394.6h1.1M318.2 394.6h1.1M325.1 394.1h1.1M327.8 394.0h1.1M328.3 394.0h1.1M321.1 394.5h1.1M322.3 394.5h1.1M326.7 394.5h1.1M322.4 393.9h1.1M318.8 394.6h1.1M328.0 394.9h1.1M328.7 394.8h1.1M320.1 394.7h1.1M321.3 394.5h1.1M323.9 394.7h1.1M325.1 394.8h1.1M327.5 394.2h1.1M318.7 394.5h1.1M328.5 394.6h1.1M323.5 394.8h1.1M324.8 394.6h1.1M328.7 394.8h1.1M321.7 394.6h1.1M321.7 394.5h1.1M328.4 394.7h1.1M322.5 394.8h1.1M319.2 394.3h1.1M324.0 394.9h1.1M327.4 394.5h1.1M328.5 394.4h1.1M319.0 394.5h1.1" stroke="#5fdc3c" stroke-width="1.1" stroke-opacity="0.94" fill="none"/><path d="M338.0 394.6h1.1M342.4 394.5h1.1M341.0 394.8h1.1M343.7 394.8h1.1M341.6 394.7h1.1M337.1 394.1h1.1M342.3 394.8h1.1M343.8 394.1h1.1M340.2 394.4h1.1M341.1 393.8h1.1M342.4 394.8h1.1M338.8 394.7h1.1M341.5 394.2h1.1M342.3 394.9h1.1M338.1 394.8h1.1M341.3 394.7h1.1M343.1 394.2h1.1M342.5 394.9h1.1M339.2 394.7h1.1M342.1 394.9h1.1M337.1 394.8h1.1M340.7 394.8h1.1M338.9 394.3h1.1M342.4 393.7h1.1M344.3 394.6h1.1M340.6 394.8h1.1M339.7 394.5h1.1M342.3 394.6h1.1M343.1 394.7h1.1M341.5 394.9h1.1M337.6 394.5h1.1M339.3 394.9h1.1M337.1 394.1h1.1M342.2 394.0h1.1M340.6 394.9h1.1M344.2 394.7h1.1M337.4 394.7h1.1M340.7 394.8h1.1M342.2 394.0h1.1M343.8 394.6h1.1M340.5 394.1h1.1M343.8 394.9h1.1M341.6 394.0h1.1M343.7 393.7h1.1M341.9 394.8h1.1M344.0 394.4h1.1M341.8 394.7h1.1M339.0 394.8h1.1M337.8 394.4h1.1M337.1 394.6h1.1M340.6 394.4h1.1M343.4 393.9h1.1M338.4 394.6h1.1M340.9 394.4h1.1M342.5 394.6h1.1M340.6 394.4h1.1M343.8 394.4h1.1M346.9 394.5h1.1M346.3 394.0h1.1M344.2 394.6h1.1M348.5 394.7h1.1M346.5 394.7h1.1M343.9 394.4h1.1M348.4 394.4h1.1M346.2 394.2h1.1M347.9 394.8h1.1M348.9 394.1h1.1M347.3 394.3h1.1M349.5 394.8h1.1M349.6 394.2h1.1M347.9 394.6h1.1M346.4 394.9h1.1M349.5 394.7h1.1M348.1 394.4h1.1M348.5 394.6h1.1M349.9 394.9h1.1M347.5 394.6h1.1M345.5 394.1h1.1M349.4 394.7h1.1M344.4 394.6h1.1M343.9 394.1h1.1M348.1 394.7h1.1M346.0 394.7h1.1M349.4 394.8h1.1M349.4 394.4h1.1M348.2 394.9h1.1M347.5 393.3h1.1M346.5 394.6h1.1M348.1 394.8h1.1M346.2 394.3h1.1M347.9 394.4h1.1M344.8 394.6h1.1M344.6 394.8h1.1M345.1 394.1h1.1M344.8 393.9h1.1M347.5 394.9h1.1M348.9 394.3h1.1M348.2 394.4h1.1M350.3 394.8h1.1M347.1 394.9h1.1M349.6 394.7h1.1M349.7 394.7h1.1M349.3 394.5h1.1M346.1 394.6h1.1M347.3 394.3h1.1M345.0 394.9h1.1M343.3 394.6h1.1M343.9 394.3h1.1M343.4 394.1h1.1M344.0 394.5h1.1M349.4 393.9h1.1M348.0 394.5h1.1" stroke="#a4ec2a" stroke-width="1.1" stroke-opacity="0.94" fill="none"/><path d="M347.7 394.6h1.1M350.8 394.7h1.1M345.7 394.3h1.1M348.8 394.3h1.1M348.3 394.9h1.1M347.0 394.7h1.1M351.7 394.5h1.1M346.4 394.9h1.1M349.2 394.6h1.1M343.0 393.7h1.1M348.8 394.4h1.1M350.0 394.4h1.1M348.7 394.5h1.1M348.7 394.2h1.1M344.0 394.6h1.1M350.1 394.5h1.1M349.6 394.6h1.1M347.4 394.9h1.1M350.0 394.3h1.1M351.5 394.0h1.1M350.3 394.8h1.1M349.6 394.2h1.1M349.3 394.9h1.1M346.8 394.4h1.1M345.7 394.3h1.1M344.4 394.5h1.1M350.4 394.2h1.1M350.5 394.8h1.1M351.1 394.6h1.1M343.5 394.9h1.1M343.6 394.7h1.1M351.7 394.5h1.1M343.6 394.8h1.1M343.7 394.9h1.1M348.6 394.4h1.1M349.3 394.6h1.1M349.8 394.8h1.1M345.4 394.5h1.1M351.7 394.7h1.1M350.6 394.9h1.1M351.7 394.0h1.1M348.4 394.8h1.1M346.1 394.5h1.1M349.1 394.4h1.1M345.5 394.8h1.1M351.6 394.5h1.1M348.8 394.8h1.1M344.2 394.5h1.1M342.9 394.1h1.1M350.7 394.5h1.1M347.3 394.0h1.1M347.4 394.6h1.1M351.9 394.8h1.1M344.1 394.0h1.1M345.3 394.3h1.1M347.1 394.2h1.1M344.6 394.3h1.1M348.3 394.2h1.1M344.8 394.3h1.1M349.0 394.8h1.1M343.7 394.8h1.1M345.1 394.5h1.1M348.2 394.7h1.1M349.3 394.8h1.1M343.7 394.2h1.1M351.8 394.1h1.1M343.2 394.6h1.1" stroke="#9a4cd0" stroke-width="1.1" stroke-opacity="0.94" fill="none"/><path d="M358.7 394.4h1.1M358.6 394.7h1.1M363.4 394.6h1.1M363.1 394.7h1.1M363.8 394.2h1.1M359.2 394.4h1.1M363.8 394.5h1.1M358.7 394.9h1.1M359.0 394.4h1.1M365.1 394.8h1.1M361.9 394.5h1.1M366.0 394.5h1.1M360.2 394.9h1.1M362.3 394.3h1.1M364.0 394.5h1.1M359.3 394.3h1.1M359.9 394.7h1.1M362.5 394.9h1.1M363.8 394.7h1.1M358.5 394.2h1.1M360.0 394.7h1.1M364.6 394.5h1.1M365.6 394.8h1.1M361.4 394.6h1.1M358.5 394.8h1.1M361.1 394.3h1.1M362.0 394.7h1.1M363.9 394.7h1.1M359.5 394.7h1.1M358.7 394.4h1.1M365.5 394.2h1.1M365.5 394.4h1.1M358.4 394.5h1.1M359.9 394.5h1.1M361.1 394.6h1.1M359.6 394.5h1.1M365.9 394.0h1.1M360.7 394.1h1.1M360.3 394.4h1.1M363.5 394.2h1.1M364.5 394.4h1.1M363.7 394.7h1.1M365.2 394.9h1.1M365.3 394.3h1.1M361.2 394.8h1.1M358.6 394.4h1.1M362.2 394.4h1.1M362.8 394.8h1.1M365.6 394.0h1.1M359.3 394.5h1.1M361.6 394.7h1.1M360.3 394.8h1.1M364.6 393.9h1.1M361.7 394.6h1.1M365.7 394.9h1.1M364.0 394.7h1.1M372.0 394.7h1.1M376.1 394.5h1.1M375.0 394.4h1.1M376.2 394.7h1.1M377.9 394.4h1.1M376.9 394.7h1.1M377.5 394.8h1.1M376.3 394.5h1.1M372.1 394.8h1.1M373.4 394.8h1.1M374.7 393.6h1.1M373.1 394.7h1.1M376.3 394.8h1.1M374.9 393.9h1.1M376.3 394.5h1.1M372.5 394.2h1.1M376.1 394.3h1.1M372.0 394.8h1.1M374.7 394.0h1.1M376.4 394.6h1.1M372.9 393.7h1.1M372.0 394.5h1.1M372.0 394.9h1.1M372.8 394.6h1.1M374.1 394.2h1.1M376.3 394.8h1.1M372.3 393.9h1.1M374.3 394.7h1.1M374.5 394.9h1.1M372.9 394.3h1.1M378.0 394.4h1.1M376.0 393.9h1.1M375.9 394.5h1.1M377.1 394.8h1.1M377.3 394.9h1.1M376.3 394.5h1.1M376.5 394.4h1.1M375.5 394.7h1.1M376.6 394.4h1.1M374.9 393.7h1.1M375.0 394.3h1.1M371.7 394.9h1.1M373.0 394.3h1.1M372.4 394.2h1.1M371.8 393.9h1.1M373.7 394.2h1.1M376.9 394.6h1.1M374.0 394.2h1.1M377.1 394.3h1.1M377.9 394.5h1.1" stroke="#ff4ade" stroke-width="1.1" stroke-opacity="0.94" fill="none"/><path d="M336.7 394.7h1.1M326.7 394.3h1.1M327.2 394.4h1.1M330.4 394.4h1.1M334.0 394.0h1.1M329.9 394.8h1.1M335.8 394.9h1.1M328.2 394.7h1.1M332.4 394.4h1.1M333.7 394.9h1.1M331.4 394.6h1.1M338.5 394.6h1.1M337.9 394.3h1.1M325.5 393.5h1.1M329.7 394.4h1.1M334.9 394.1h1.1M332.5 394.6h1.1M324.0 394.9h1.1M327.2 394.9h1.1M336.5 394.8h1.1M333.0 394.4h1.1M328.6 394.4h1.1M329.8 394.8h1.1M336.9 394.7h1.1M336.6 394.5h1.1M325.9 394.5h1.1M336.6 394.5h1.1M336.5 394.8h1.1M331.2 394.6h1.1M324.3 394.0h1.1M327.3 394.1h1.1M330.7 394.9h1.1M338.2 394.3h1.1M337.7 394.4h1.1M325.4 394.3h1.1M325.9 394.3h1.1M330.0 394.4h1.1M338.8 394.9h1.1M335.3 394.6h1.1M323.9 394.6h1.1M337.1 394.9h1.1M325.5 394.5h1.1M326.9 394.3h1.1M333.0 394.5h1.1M331.6 394.5h1.1M325.7 394.7h1.1M328.2 394.4h1.1M337.3 394.2h1.1M334.9 394.7h1.1M324.1 394.5h1.1M336.9 394.5h1.1M330.6 394.9h1.1M329.3 394.7h1.1M335.3 394.0h1.1M330.2 394.4h1.1M328.2 394.5h1.1M334.6 394.2h1.1M330.2 394.8h1.1M337.5 394.8h1.1M338.2 394.5h1.1M338.3 394.4h1.1M338.4 394.6h1.1M325.9 394.7h1.1M327.2 394.9h1.1M338.6 394.7h1.1M329.3 394.9h1.1M324.6 393.6h1.1M332.2 394.9h1.1M330.3 394.2h1.1M323.7 394.6h1.1M337.1 394.2h1.1M325.9 394.5h1.1M332.1 394.4h1.1M331.1 394.9h1.1M328.5 394.9h1.1M330.1 394.9h1.1M333.2 394.7h1.1M328.6 394.8h1.1M330.0 394.8h1.1M324.3 394.5h1.1M325.5 394.2h1.1M329.7 394.0h1.1M333.0 394.8h1.1M336.7 394.9h1.1M331.6 394.8h1.1M327.1 394.7h1.1M327.4 394.7h1.1M324.3 394.6h1.1M338.0 394.6h1.1M337.7 394.2h1.1M332.1 394.7h1.1M329.3 394.9h1.1M325.6 393.8h1.1M335.8 394.6h1.1M327.6 394.9h1.1M331.9 394.0h1.1M335.5 394.6h1.1M324.3 394.8h1.1M336.3 394.5h1.1M330.4 394.7h1.1M324.9 394.5h1.1M325.2 394.6h1.1M334.7 394.7h1.1M323.9 394.6h1.1M325.4 394.0h1.1M327.2 394.4h1.1M334.5 394.3h1.1M337.3 394.9h1.1M331.7 394.1h1.1M334.4 394.8h1.1M323.5 394.2h1.1M332.3 394.9h1.1" stroke="#2f9e5a" stroke-width="1.1" stroke-opacity="0.94" fill="none"/><path d="M354.3 394.8h1.1M354.1 391.8h1.1M354.3 387.5h1.1M354.6 388.4h1.1M354.6 388.0h1.1M354.7 392.5h1.1M354.4 392.9h1.1M354.3 395.2h1.1M354.9 389.4h1.1M354.2 393.7h1.1M354.3 391.5h1.1M353.8 393.8h1.1" stroke="#ffe92e" stroke-width="1.1" stroke-opacity="0.72" fill="none"/><path d="M344.6 391.6h1.1M344.5 395.0h1.1M344.1 392.9h1.1M344.7 395.0h1.1M344.7 392.1h1.1M349.5 394.5h1.1M349.2 393.0h1.1M349.1 394.0h1.1M349.2 392.6h1.1" stroke="#9a4cd0" stroke-width="1.1" stroke-opacity="0.72" fill="none"/><path d="M331.2 393.4h1.1M331.2 393.1h1.1M331.3 392.8h1.1M331.1 393.7h1.1M380.6 359.9h1.1M380.7 377.0h1.1M381.4 355.8h1.1M382.4 375.2h1.1M381.2 384.0h1.1M382.2 388.9h1.1M382.3 351.9h1.1M381.6 353.6h1.1M381.8 354.0h1.1M382.4 350.4h1.1M380.8 365.7h1.1M382.6 356.9h1.1M380.2 352.5h1.1M381.8 367.1h1.1M381.5 359.9h1.1M382.1 355.9h1.1M380.0 368.9h1.1M381.0 380.7h1.1M381.3 386.7h1.1M381.1 386.3h1.1M381.4 376.8h1.1M381.9 375.6h1.1M381.8 379.2h1.1M382.8 385.8h1.1M380.6 376.1h1.1M380.5 391.3h1.1M382.0 365.2h1.1M381.9 345.9h1.1M381.9 389.0h1.1M380.6 366.5h1.1M381.6 347.7h1.1M381.8 384.7h1.1M380.5 369.3h1.1M381.6 351.8h1.1M381.4 378.1h1.1M380.3 373.7h1.1M380.5 367.5h1.1M381.7 376.8h1.1M381.5 377.7h1.1M381.9 371.5h1.1M381.1 379.4h1.1M382.6 383.7h1.1M382.8 391.9h1.1M382.2 376.1h1.1M381.1 381.8h1.1M380.9 390.2h1.1M381.6 357.9h1.1M381.9 383.4h1.1M379.7 383.2h1.1M380.8 374.4h1.1M380.4 384.8h1.1M382.0 382.6h1.1M381.5 347.5h1.1M381.6 350.6h1.1M381.5 349.1h1.1M381.6 385.3h1.1M380.5 355.7h1.1M382.4 378.4h1.1M379.9 349.8h1.1M380.6 389.3h1.1M382.2 370.6h1.1M380.9 353.9h1.1M380.9 355.3h1.1M381.8 372.9h1.1M381.9 386.6h1.1M381.7 383.8h1.1M381.1 352.1h1.1M380.8 364.8h1.1M381.8 353.1h1.1M381.3 386.8h1.1M381.5 385.6h1.1M382.1 358.5h1.1M382.0 377.7h1.1M381.2 374.0h1.1M380.9 354.7h1.1M381.7 355.5h1.1M381.3 376.1h1.1M382.4 362.6h1.1M380.8 379.6h1.1M381.7 354.7h1.1M381.9 349.9h1.1M382.2 375.6h1.1M383.1 364.6h1.1M381.6 379.0h1.1M381.6 385.6h1.1M382.3 348.9h1.1M381.2 381.9h1.1M381.9 377.5h1.1M381.3 381.5h1.1M381.4 354.9h1.1" stroke="#5fdc3c" stroke-width="1.1" stroke-opacity="0.72" fill="none"/><path d="M366.9 392.4h1.1M367.1 392.3h1.1M366.4 392.9h1.1M366.6 394.1h1.1M378.0 384.0h1.1M378.0 388.8h1.1M378.0 376.0h1.1M377.8 379.4h1.1M377.8 373.7h1.1M378.1 384.8h1.1M378.1 374.1h1.1M377.9 389.3h1.1M378.4 378.0h1.1M378.1 373.5h1.1M377.9 376.4h1.1M378.1 389.7h1.1M377.9 389.0h1.1M377.9 389.0h1.1M377.8 375.1h1.1M378.0 384.9h1.1" stroke="#ff4ade" stroke-width="1.1" stroke-opacity="0.72" fill="none"/><path d="M369.9 391.8h1.1M370.2 394.6h1.1M369.9 392.3h1.1M369.8 393.5h1.1M338.4 394.6h1.1M338.4 393.4h1.1M338.3 393.1h1.1M338.1 394.8h1.1" stroke="#a4ec2a" stroke-width="1.1" stroke-opacity="0.72" fill="none"/><path d="M374.5 393.2h1.1M375.0 390.5h1.1M374.2 389.9h1.1M374.6 393.7h1.1M374.8 389.8h1.1M374.8 389.5h1.1M374.8 392.5h1.1M375.0 390.6h1.1M375.1 393.3h1.1M375.1 393.4h1.1M375.0 395.2h1.1M374.6 391.8h1.1M375.0 392.1h1.1M374.5 393.3h1.1" stroke="#6b7a3a" stroke-width="1.1" stroke-opacity="0.72" fill="none"/><path d="M366.4 289.5h1.1M366.4 292.1h1.1M366.4 299.1h1.1M366.4 303.9h1.1" stroke="#a8f08a" stroke-width="1.1" stroke-opacity="0.54" fill="none"/><path d="M350.5 240.8h1.1M350.9 260.6h1.1M350.1 261.3h1.1" stroke="#a8e8f0" stroke-width="1.1" stroke-opacity="0.54" fill="none"/><path d="M378.3 364.8h1.1M379.5 393.1h1.1M378.5 386.3h1.1M378.4 390.4h1.1M378.8 368.7h1.1M377.7 363.9h1.1M378.7 390.3h1.1M378.6 382.0h1.1M378.5 390.2h1.1M378.4 373.7h1.1M378.6 391.5h1.1M379.3 372.6h1.1M379.0 368.6h1.1M379.4 369.3h1.1M379.0 381.0h1.1M378.2 390.4h1.1M378.6 361.1h1.1M378.6 361.3h1.1M378.5 370.1h1.1M378.5 390.7h1.1M378.7 381.2h1.1M378.8 392.1h1.1M379.0 354.3h1.1M378.5 383.7h1.1M379.1 383.8h1.1M378.7 387.5h1.1M378.6 392.7h1.1M379.0 352.3h1.1M378.9 370.0h1.1M378.8 373.0h1.1M379.3 390.3h1.1M378.1 387.5h1.1M378.4 380.5h1.1M378.9 374.8h1.1M379.0 383.8h1.1M378.9 373.4h1.1M379.4 393.0h1.1M378.7 386.0h1.1M378.6 363.2h1.1M378.9 360.9h1.1M379.5 385.0h1.1M378.2 356.2h1.1M378.5 380.2h1.1M378.9 362.5h1.1M379.0 355.6h1.1M379.1 350.5h1.1M378.8 358.4h1.1M379.1 391.6h1.1M378.3 378.8h1.1M379.1 387.7h1.1M379.3 390.0h1.1M378.9 389.0h1.1M378.8 352.5h1.1M378.9 376.4h1.1M378.7 372.6h1.1M378.8 368.6h1.1M378.3 360.8h1.1M379.0 348.8h1.1M378.3 378.4h1.1M378.5 389.0h1.1M378.6 347.4h1.1M379.1 384.2h1.1M379.3 365.4h1.1M379.0 377.7h1.1M378.7 370.9h1.1M378.9 391.5h1.1M378.4 393.3h1.1M378.3 385.6h1.1M379.5 354.0h1.1M378.2 352.3h1.1M378.4 375.5h1.1M378.7 392.4h1.1M378.7 375.2h1.1M379.2 381.0h1.1M379.1 387.0h1.1M378.5 357.9h1.1M378.8 359.3h1.1M378.8 371.2h1.1M378.5 387.7h1.1M379.2 352.3h1.1M378.5 390.2h1.1M378.7 384.2h1.1M379.0 372.1h1.1M379.3 387.3h1.1M378.9 385.4h1.1M378.8 391.4h1.1M378.0 347.6h1.1M379.6 389.9h1.1M378.2 359.1h1.1M378.6 373.8h1.1M379.0 374.8h1.1M378.6 369.7h1.1M378.6 383.4h1.1M378.2 368.2h1.1M379.6 347.9h1.1M378.9 354.3h1.1M379.1 365.6h1.1M379.0 351.7h1.1M379.2 378.3h1.1M378.2 383.8h1.1" stroke="#ff4a14" stroke-width="1.1" stroke-opacity="0.72" fill="none"/><path d="M378.8 370.9h1.1M379.3 379.5h1.1M379.6 387.5h1.1M379.7 363.5h1.1M378.9 370.7h1.1M379.6 367.3h1.1M379.5 385.2h1.1M379.8 372.4h1.1M378.8 383.5h1.1M379.9 387.8h1.1M380.2 378.8h1.1M379.7 365.6h1.1M380.3 374.7h1.1M379.6 370.9h1.1M379.1 378.7h1.1M378.4 383.0h1.1M379.4 367.0h1.1M379.6 368.9h1.1M379.3 385.7h1.1M379.0 376.0h1.1M379.8 391.6h1.1M379.8 365.8h1.1M379.9 365.7h1.1M379.2 390.4h1.1M380.5 391.5h1.1M379.7 376.6h1.1M379.7 375.7h1.1M379.5 377.9h1.1M379.0 376.2h1.1M379.1 392.1h1.1M379.4 377.7h1.1M379.3 367.0h1.1M379.9 363.9h1.1M378.5 378.4h1.1M379.6 367.8h1.1M379.7 383.4h1.1M378.8 367.6h1.1M378.8 375.4h1.1M379.1 373.9h1.1M379.6 371.4h1.1M379.5 389.4h1.1M380.6 381.9h1.1M379.3 382.7h1.1M379.2 392.9h1.1M379.8 376.0h1.1M379.4 393.6h1.1M379.4 368.8h1.1M379.3 388.4h1.1M379.1 377.2h1.1M379.6 387.4h1.1M379.3 365.0h1.1M380.0 392.9h1.1M380.1 367.2h1.1M379.9 378.2h1.1M378.6 373.2h1.1M379.0 380.7h1.1M380.4 387.5h1.1M379.9 382.2h1.1M378.9 391.2h1.1M378.8 380.7h1.1M394.0 385.1h1.1M393.7 384.0h1.1M393.4 379.0h1.1M393.2 374.2h1.1M393.0 379.8h1.1M393.3 383.3h1.1M393.2 374.2h1.1M393.3 372.4h1.1M393.1 380.7h1.1M393.3 388.5h1.1M393.3 373.0h1.1M393.4 391.5h1.1M393.6 390.7h1.1M393.6 377.6h1.1M393.5 374.4h1.1M393.6 381.5h1.1M393.2 387.4h1.1M393.9 377.5h1.1M393.5 378.3h1.1M393.5 371.4h1.1" stroke="#ff8c1a" stroke-width="1.1" stroke-opacity="0.72" fill="none"/><path d="M388.4 382.9h1.1M382.4 371.8h1.1M380.1 351.2h1.1M385.8 390.2h1.1M386.7 384.2h1.1M381.1 390.5h1.1M389.0 388.8h1.1M381.1 375.0h1.1M386.5 389.1h1.1M384.5 393.8h1.1M387.0 390.7h1.1M389.2 394.0h1.1M384.3 378.1h1.1M381.5 368.4h1.1M384.8 392.0h1.1M385.8 381.1h1.1M387.1 385.4h1.1M382.8 393.1h1.1M380.7 394.7h1.1M388.6 374.7h1.1M382.8 393.9h1.1M384.1 385.2h1.1M382.1 375.0h1.1M383.3 392.3h1.1M379.8 386.8h1.1M382.2 374.3h1.1M385.8 377.6h1.1M382.2 366.0h1.1M385.1 394.5h1.1M387.8 366.4h1.1M388.5 393.9h1.1M383.7 363.3h1.1M382.7 394.9h1.1M379.8 384.1h1.1M382.2 377.4h1.1M382.5 386.3h1.1M387.0 392.8h1.1M382.9 387.8h1.1M384.6 360.5h1.1M382.6 386.1h1.1M383.3 389.0h1.1M388.3 379.9h1.1M381.5 389.1h1.1M379.6 390.3h1.1M385.4 365.5h1.1M388.9 359.7h1.1M380.4 360.9h1.1M382.3 378.4h1.1M385.8 358.0h1.1M382.6 381.4h1.1M387.7 388.6h1.1M384.9 364.2h1.1M385.6 394.6h1.1M388.7 373.7h1.1M381.5 394.0h1.1M380.9 377.0h1.1M381.8 384.6h1.1M382.4 356.5h1.1M379.6 385.4h1.1M385.9 389.7h1.1M385.4 390.8h1.1M380.8 373.3h1.1M385.1 388.0h1.1M387.8 389.1h1.1M385.8 391.8h1.1M383.2 372.6h1.1M379.9 387.7h1.1M383.9 387.5h1.1M380.6 389.7h1.1M381.3 372.6h1.1M383.3 380.3h1.1M380.7 385.6h1.1M385.7 388.1h1.1M388.6 382.1h1.1M387.1 365.8h1.1M380.3 358.5h1.1M379.9 381.9h1.1M383.7 391.1h1.1M386.1 392.0h1.1M382.3 395.0h1.1M387.9 381.5h1.1M385.2 384.0h1.1M388.5 376.2h1.1M388.9 387.3h1.1M383.0 366.4h1.1M383.4 385.5h1.1M387.7 394.7h1.1M386.5 383.5h1.1M383.5 379.2h1.1M379.9 383.0h1.1M381.0 364.6h1.1M387.1 389.7h1.1M382.8 393.4h1.1M387.1 392.5h1.1M380.6 389.1h1.1M382.0 394.0h1.1M388.1 374.5h1.1M384.1 394.7h1.1M383.6 375.7h1.1M383.5 365.1h1.1M386.1 391.1h1.1M381.3 381.5h1.1M382.0 381.1h1.1M386.6 376.5h1.1M387.4 368.7h1.1M379.9 373.4h1.1M383.9 392.1h1.1M386.1 375.4h1.1M386.1 389.7h1.1M387.1 379.0h1.1M387.5 381.8h1.1M381.6 392.3h1.1M388.4 347.9h1.1M382.3 387.0h1.1M384.1 372.2h1.1M385.7 391.0h1.1M386.8 369.3h1.1M379.9 362.4h1.1M380.4 369.7h1.1M383.7 379.6h1.1M380.3 380.6h1.1M386.2 360.6h1.1M383.0 389.1h1.1M384.2 392.8h1.1M385.1 393.0h1.1M380.2 381.4h1.1M385.5 389.6h1.1M381.4 358.4h1.1M381.9 367.2h1.1M384.8 388.3h1.1M380.3 361.8h1.1M380.7 346.6h1.1M385.6 390.3h1.1M379.6 388.7h1.1M385.9 395.0h1.1M387.9 380.1h1.1M387.5 386.0h1.1M385.2 391.2h1.1M380.5 352.7h1.1M383.7 384.9h1.1M386.1 353.1h1.1M385.2 374.7h1.1M386.5 385.0h1.1M383.8 392.0h1.1M384.2 378.3h1.1M388.0 357.5h1.1M382.4 384.4h1.1M380.0 377.4h1.1M387.4 355.1h1.1M379.6 392.9h1.1M386.2 393.8h1.1M387.9 355.4h1.1M381.2 346.1h1.1M388.9 390.8h1.1M384.0 394.0h1.1M383.4 394.6h1.1M386.9 384.8h1.1M384.5 387.5h1.1M380.7 391.8h1.1M382.2 384.4h1.1M379.5 387.5h1.1M381.1 388.7h1.1M380.3 360.2h1.1M386.5 364.6h1.1M389.1 393.6h1.1M383.1 364.8h1.1M379.8 358.0h1.1M388.2 368.5h1.1M387.4 387.7h1.1M381.9 384.5h1.1M383.4 394.0h1.1M384.6 372.5h1.1M381.2 383.3h1.1M387.8 369.6h1.1M383.3 383.2h1.1M387.2 380.2h1.1M386.9 383.2h1.1M381.0 372.4h1.1M385.1 369.7h1.1M384.6 385.7h1.1M379.8 392.6h1.1M382.4 384.1h1.1M389.0 385.0h1.1M383.1 388.4h1.1M380.1 360.8h1.1M389.0 394.8h1.1M382.9 395.2h1.1M386.7 393.2h1.1M387.8 373.2h1.1M381.5 391.9h1.1M386.1 371.7h1.1M379.7 385.2h1.1M381.4 386.4h1.1M380.9 357.2h1.1M386.3 351.3h1.1M383.5 389.6h1.1M382.0 389.0h1.1M385.2 393.5h1.1M387.6 383.7h1.1M381.2 378.2h1.1M387.2 346.5h1.1M382.5 381.8h1.1M382.3 389.1h1.1M382.4 385.5h1.1M382.0 378.0h1.1M381.1 393.2h1.1M384.2 360.4h1.1M380.2 388.3h1.1M380.5 389.7h1.1M380.8 382.2h1.1M388.6 379.9h1.1M381.5 383.7h1.1M386.0 395.3h1.1M387.5 390.7h1.1M385.7 395.3h1.1M380.2 382.6h1.1M379.9 383.3h1.1M383.2 387.2h1.1M380.0 382.7h1.1M382.0 386.5h1.1M388.0 390.8h1.1M388.0 390.6h1.1M386.0 393.1h1.1M382.3 366.9h1.1M384.9 394.4h1.1M387.2 390.7h1.1M388.5 379.4h1.1M384.6 379.9h1.1M385.9 386.3h1.1M384.6 378.1h1.1M383.0 377.7h1.1M385.8 371.0h1.1M381.3 381.1h1.1M379.5 379.3h1.1M383.6 391.2h1.1M381.2 393.5h1.1M384.3 377.2h1.1M388.0 384.4h1.1M383.4 382.0h1.1M384.3 372.4h1.1M380.7 381.4h1.1M388.2 389.8h1.1M385.2 377.3h1.1M382.1 371.7h1.1M381.9 355.6h1.1M388.2 392.4h1.1M381.5 356.4h1.1M384.7 388.8h1.1M380.2 390.3h1.1M388.9 387.0h1.1M386.5 346.4h1.1M383.4 383.4h1.1M382.9 385.4h1.1M383.0 391.3h1.1M380.3 381.6h1.1M380.3 355.2h1.1M386.0 364.6h1.1M388.2 375.6h1.1M386.9 394.1h1.1M384.4 387.6h1.1M380.2 344.6h1.1M380.5 376.7h1.1M388.4 393.0h1.1M388.9 380.2h1.1M379.5 376.6h1.1M382.9 390.1h1.1M381.7 386.5h1.1M381.0 395.1h1.1M387.5 378.8h1.1M382.0 394.3h1.1M379.9 360.0h1.1M384.5 358.9h1.1M384.6 390.8h1.1M388.3 346.0h1.1M383.5 359.9h1.1M385.1 394.1h1.1M384.1 348.2h1.1M380.1 378.4h1.1M387.5 367.2h1.1M384.5 392.8h1.1M383.2 392.2h1.1M388.3 366.5h1.1M379.8 385.6h1.1M388.3 384.7h1.1M381.1 359.8h1.1M380.4 370.4h1.1M380.9 393.0h1.1M388.4 376.8h1.1M380.5 383.0h1.1M380.7 381.5h1.1M384.6 389.2h1.1M379.6 391.9h1.1M379.8 377.7h1.1M384.0 367.8h1.1M379.8 363.1h1.1M382.2 384.0h1.1M381.2 374.3h1.1M380.2 358.4h1.1M380.1 383.1h1.1M384.2 363.8h1.1M386.4 391.1h1.1M386.7 366.6h1.1M380.2 380.3h1.1M386.8 370.9h1.1M388.9 371.4h1.1M381.6 390.5h1.1M386.8 392.1h1.1M384.9 381.3h1.1M387.3 364.4h1.1M389.2 390.8h1.1M383.1 362.6h1.1M382.8 393.1h1.1M380.6 360.1h1.1M388.1 385.2h1.1M382.7 381.0h1.1M388.4 388.8h1.1M381.2 394.5h1.1M388.5 383.6h1.1M386.9 394.7h1.1M388.3 388.6h1.1M382.6 374.1h1.1M384.5 355.7h1.1M384.5 390.1h1.1M387.0 382.9h1.1M387.6 394.8h1.1M380.8 391.1h1.1M388.8 370.4h1.1M385.3 381.5h1.1M383.4 386.0h1.1M382.3 384.7h1.1M380.0 395.0h1.1M388.0 363.8h1.1M386.9 382.2h1.1M381.4 386.3h1.1M385.7 352.2h1.1M380.8 376.4h1.1M385.2 377.9h1.1M383.6 367.9h1.1M383.1 387.9h1.1M384.6 360.5h1.1M382.6 372.4h1.1M387.1 390.9h1.1M388.4 386.4h1.1M384.9 391.5h1.1M383.7 386.3h1.1M386.8 372.7h1.1M384.3 389.0h1.1M382.5 350.5h1.1M387.7 393.9h1.1" stroke="#ff8c1a" stroke-width="1.1" stroke-opacity="0.79" fill="none"/><path d="M385.1 381.1h1.1M382.7 382.7h1.1M381.4 387.3h1.1M382.1 364.1h1.1M383.3 366.5h1.1M381.9 391.5h1.1M386.3 380.7h1.1M381.2 381.3h1.1M385.2 354.5h1.1M385.0 389.8h1.1M386.9 379.3h1.1M383.2 371.3h1.1M387.6 375.5h1.1M381.4 375.2h1.1M384.1 364.0h1.1M383.9 354.1h1.1M384.8 393.1h1.1M385.1 388.2h1.1M386.8 393.2h1.1M386.8 354.8h1.1M385.0 384.3h1.1M383.4 360.8h1.1M385.5 353.5h1.1M383.6 390.3h1.1M383.8 391.3h1.1M388.6 383.4h1.1M383.7 365.5h1.1M386.6 382.6h1.1M382.8 370.1h1.1M382.1 392.7h1.1M385.4 383.4h1.1M383.1 390.5h1.1M389.0 393.7h1.1M382.7 353.9h1.1M380.7 392.9h1.1M384.3 372.1h1.1M381.7 377.4h1.1M385.3 389.4h1.1M388.0 371.4h1.1M381.9 383.5h1.1M381.1 382.1h1.1M382.9 365.0h1.1M387.9 370.4h1.1M388.1 383.3h1.1M385.7 389.2h1.1M383.6 388.4h1.1M381.4 345.4h1.1M383.5 382.8h1.1M388.7 390.2h1.1M383.4 374.6h1.1M382.3 365.6h1.1M384.7 379.8h1.1M386.2 373.6h1.1M383.7 390.6h1.1M388.1 371.8h1.1M382.0 384.9h1.1M388.8 377.7h1.1M384.4 392.3h1.1M388.9 368.3h1.1M381.7 394.9h1.1M388.0 384.7h1.1M386.8 356.1h1.1M389.0 385.2h1.1M385.5 380.4h1.1M385.2 394.5h1.1M382.7 391.3h1.1M383.5 366.5h1.1M386.8 380.8h1.1M381.9 392.6h1.1M382.0 384.0h1.1M382.2 365.8h1.1M383.1 392.8h1.1M382.8 377.1h1.1M381.8 354.9h1.1M381.9 387.9h1.1M381.5 391.5h1.1M387.7 379.8h1.1M384.6 390.2h1.1M382.3 368.4h1.1M383.8 388.6h1.1M382.2 389.8h1.1M386.1 381.6h1.1M387.1 381.2h1.1M383.0 385.0h1.1M385.6 375.3h1.1M386.8 391.6h1.1M385.1 368.1h1.1M381.8 390.9h1.1M388.6 373.8h1.1M382.0 385.6h1.1M385.3 387.2h1.1M386.5 357.0h1.1M388.1 379.9h1.1M388.6 379.8h1.1M382.8 379.5h1.1M382.9 383.5h1.1M388.3 388.3h1.1M382.4 380.5h1.1M382.7 388.0h1.1M381.4 365.1h1.1M388.9 355.6h1.1M387.8 373.8h1.1M384.4 386.3h1.1M386.1 367.8h1.1M380.9 366.1h1.1M382.8 352.3h1.1M382.2 385.3h1.1M381.9 383.1h1.1M384.4 394.3h1.1M386.8 367.8h1.1M383.8 347.4h1.1M383.2 375.0h1.1M386.8 395.0h1.1M384.4 391.6h1.1M387.5 380.4h1.1M383.8 381.9h1.1M388.4 388.6h1.1M381.3 390.8h1.1M389.1 362.6h1.1M387.9 389.1h1.1M387.6 388.1h1.1M387.8 382.2h1.1M383.8 391.1h1.1M384.1 385.7h1.1M381.3 382.2h1.1M384.6 389.6h1.1M381.1 379.2h1.1M383.7 348.6h1.1M385.4 390.4h1.1M388.8 344.9h1.1M389.0 364.2h1.1M384.4 356.4h1.1M388.2 366.7h1.1M385.6 372.0h1.1M386.2 379.1h1.1M381.9 376.8h1.1M386.8 393.7h1.1M385.6 370.7h1.1M387.3 350.0h1.1M381.2 391.8h1.1M388.0 379.5h1.1M386.5 394.5h1.1M382.3 389.0h1.1M381.2 394.2h1.1M387.9 384.2h1.1M387.1 362.3h1.1M382.5 394.1h1.1M385.3 392.4h1.1M382.4 351.3h1.1M385.9 383.7h1.1M388.0 383.1h1.1M381.3 390.8h1.1M382.2 381.3h1.1M386.0 356.6h1.1M387.7 345.0h1.1M384.2 383.6h1.1M384.0 361.8h1.1M386.9 391.3h1.1M384.3 389.9h1.1M382.4 346.8h1.1M385.7 352.2h1.1M380.8 386.3h1.1M384.2 367.5h1.1M386.2 383.3h1.1M381.3 393.5h1.1M380.9 387.4h1.1M384.5 379.4h1.1M382.1 375.6h1.1M380.7 385.2h1.1M387.7 394.0h1.1M386.3 388.9h1.1M380.8 391.2h1.1M388.8 390.3h1.1M388.8 390.6h1.1M387.9 348.5h1.1M380.7 372.7h1.1M384.5 385.5h1.1M380.8 380.6h1.1M386.5 381.8h1.1M387.4 375.3h1.1M383.1 383.8h1.1M387.1 376.1h1.1M384.3 393.4h1.1M382.0 383.8h1.1M384.9 386.2h1.1M384.7 395.1h1.1M381.4 389.8h1.1M384.9 394.4h1.1M385.2 360.1h1.1M384.4 376.4h1.1M385.7 393.3h1.1M384.8 384.8h1.1M381.1 388.8h1.1M381.5 391.9h1.1M388.5 380.8h1.1M384.8 382.3h1.1M381.4 390.1h1.1M383.8 389.5h1.1M385.2 388.6h1.1M388.5 377.0h1.1M385.7 361.6h1.1M383.9 363.9h1.1M384.8 394.7h1.1M387.6 390.3h1.1M382.3 392.7h1.1M385.5 362.5h1.1M387.3 383.4h1.1M387.1 390.4h1.1M384.5 392.9h1.1M381.1 384.0h1.1M388.1 381.5h1.1M383.2 384.6h1.1M386.1 385.3h1.1M383.2 385.9h1.1M387.5 367.6h1.1M383.7 383.4h1.1M388.4 393.5h1.1M386.7 371.2h1.1M388.7 378.3h1.1M388.2 385.5h1.1M388.7 377.4h1.1M381.2 380.3h1.1M387.0 388.8h1.1M382.8 384.8h1.1M383.3 347.1h1.1M383.4 361.3h1.1M382.4 386.9h1.1" stroke="#ff5a5a" stroke-width="1.1" stroke-opacity="0.79" fill="none"/><path d="M386.1 394.1h1.1M382.5 384.6h1.1M387.7 387.1h1.1M384.0 379.1h1.1M387.9 359.1h1.1M385.5 361.5h1.1M385.8 378.5h1.1M385.9 366.0h1.1M386.9 371.6h1.1M386.2 385.7h1.1M383.3 380.1h1.1M382.9 392.1h1.1M383.5 388.8h1.1M384.9 385.8h1.1M387.8 386.5h1.1M388.3 380.8h1.1M385.9 393.2h1.1M383.6 379.7h1.1M384.3 390.9h1.1M385.4 380.1h1.1M385.0 387.9h1.1M384.0 388.3h1.1M382.4 383.2h1.1M386.4 357.9h1.1M383.5 390.4h1.1M385.5 379.1h1.1M384.3 384.7h1.1M387.0 379.0h1.1M383.4 374.2h1.1M385.4 375.6h1.1M385.8 394.1h1.1M382.5 383.9h1.1M385.2 387.4h1.1M387.3 388.5h1.1M388.1 390.7h1.1M386.7 380.2h1.1M387.8 374.2h1.1M387.3 386.3h1.1M388.3 373.8h1.1M387.7 387.7h1.1M387.6 378.9h1.1M385.4 372.7h1.1M383.0 361.1h1.1M385.2 367.6h1.1M388.2 371.2h1.1M384.5 385.9h1.1M385.8 359.1h1.1M388.4 383.6h1.1M386.6 361.4h1.1M387.5 388.8h1.1M385.7 394.1h1.1M387.8 369.9h1.1M387.9 373.3h1.1M382.7 395.0h1.1M383.0 393.6h1.1M387.5 380.1h1.1M386.5 385.5h1.1M385.7 372.3h1.1M386.6 376.8h1.1M383.9 379.0h1.1M387.1 392.0h1.1M386.5 391.0h1.1M382.5 386.4h1.1M385.0 385.1h1.1M383.9 370.7h1.1M382.5 382.4h1.1M385.6 383.7h1.1M386.1 382.0h1.1M385.5 391.8h1.1M384.5 384.1h1.1M386.3 385.8h1.1M384.0 394.7h1.1M384.7 392.8h1.1M387.2 391.2h1.1M384.2 376.9h1.1M385.8 394.3h1.1M385.8 382.4h1.1M382.5 391.6h1.1M386.9 365.0h1.1M382.7 392.1h1.1M386.0 384.5h1.1M386.4 387.2h1.1M387.6 390.6h1.1M385.4 394.8h1.1M386.1 389.8h1.1M384.2 376.8h1.1M386.1 389.5h1.1M386.1 392.6h1.1M385.3 378.5h1.1M386.3 361.7h1.1M387.8 371.5h1.1M388.2 375.4h1.1M382.9 392.0h1.1M383.8 393.5h1.1M385.0 393.4h1.1M383.1 388.4h1.1M383.3 385.0h1.1M384.1 367.7h1.1M383.4 379.1h1.1M386.0 394.9h1.1M385.3 363.6h1.1M384.7 381.0h1.1M386.2 380.7h1.1M385.4 393.2h1.1M384.8 392.1h1.1M387.4 379.4h1.1M384.0 369.0h1.1M384.1 393.3h1.1M385.3 368.4h1.1M386.6 384.7h1.1" stroke="#5fdc3c" stroke-width="1.1" stroke-opacity="0.79" fill="none"/><path d="M383.0 394.7h1.1M383.4 383.0h1.1M384.2 392.6h1.1M382.3 379.2h1.1M383.2 391.7h1.1M384.7 391.3h1.1M385.2 376.1h1.1M387.2 356.0h1.1M387.3 369.4h1.1M386.1 365.9h1.1M383.1 363.3h1.1M382.6 375.1h1.1M385.9 388.6h1.1M386.2 394.4h1.1M385.6 384.3h1.1M385.4 387.6h1.1M386.6 368.2h1.1M385.9 369.2h1.1M385.8 375.4h1.1M385.4 391.0h1.1M383.2 387.9h1.1M382.9 377.1h1.1M382.5 366.9h1.1M386.8 384.9h1.1M383.6 378.1h1.1M386.9 385.6h1.1M386.8 385.0h1.1M384.3 378.7h1.1M382.8 368.8h1.1M386.9 353.2h1.1M384.9 345.5h1.1M383.5 392.2h1.1M386.2 359.2h1.1M387.4 386.0h1.1M386.0 394.8h1.1M387.0 394.7h1.1M387.5 388.5h1.1M384.9 394.2h1.1M386.9 383.8h1.1M383.7 392.4h1.1M382.9 361.5h1.1M385.3 385.9h1.1M385.4 384.9h1.1M384.9 366.8h1.1" stroke="#ff3b30" stroke-width="1.1" stroke-opacity="0.61" fill="none"/><path d="M388.7 388.5h1.1M386.0 387.6h1.1M382.6 385.8h1.1M382.3 394.8h1.1M386.8 379.5h1.1M384.7 374.7h1.1M388.0 388.8h1.1M388.8 391.1h1.1M387.1 381.9h1.1M387.8 385.6h1.1M382.6 386.1h1.1M387.3 389.4h1.1M382.4 370.9h1.1M388.6 391.1h1.1M388.4 384.1h1.1M386.8 386.6h1.1M384.5 376.3h1.1M386.2 392.7h1.1M387.6 377.5h1.1M385.5 379.7h1.1M385.8 382.2h1.1M387.8 385.0h1.1M388.2 395.1h1.1M385.0 392.2h1.1M385.6 388.4h1.1M387.0 379.1h1.1M383.0 374.8h1.1M381.7 387.2h1.1M388.0 392.5h1.1M384.1 391.5h1.1M382.7 391.3h1.1M385.3 394.0h1.1M387.9 388.6h1.1M383.2 383.7h1.1M383.3 375.4h1.1M386.0 390.3h1.1M386.3 394.7h1.1M384.5 360.6h1.1M387.7 386.4h1.1M387.0 388.9h1.1M384.6 388.2h1.1M383.6 393.6h1.1M388.4 357.3h1.1M383.3 365.1h1.1M385.9 392.5h1.1M384.2 364.9h1.1M388.7 381.7h1.1M381.5 374.2h1.1M388.0 390.9h1.1M388.9 362.8h1.1M383.8 391.3h1.1M387.8 393.1h1.1M389.1 388.6h1.1M385.7 376.4h1.1M384.4 395.0h1.1M386.6 365.0h1.1M382.8 392.7h1.1" stroke="#ffe92e" stroke-width="1.1" stroke-opacity="0.58" fill="none"/><path d="M385.7 337.4h1.1M382.4 324.5h1.1M384.3 345.9h1.1M385.6 339.5h1.1M384.8 330.6h1.1M387.5 330.3h1.1M384.4 324.2h1.1M387.4 345.9h1.1M382.9 345.8h1.1M385.6 345.5h1.1M383.9 332.5h1.1M384.2 330.3h1.1M383.9 322.2h1.1M384.2 322.7h1.1M384.3 323.1h1.1M382.9 344.6h1.1M384.9 341.6h1.1M383.7 318.3h1.1M385.0 329.1h1.1M382.5 321.5h1.1M384.1 327.3h1.1M386.6 342.0h1.1M386.4 317.5h1.1M387.2 345.4h1.1M387.2 323.8h1.1M386.4 333.2h1.1M386.8 331.0h1.1M385.4 322.3h1.1M385.8 318.9h1.1M384.7 336.2h1.1M386.4 345.1h1.1M385.5 317.8h1.1M386.8 334.7h1.1M383.3 339.4h1.1M387.1 331.0h1.1M387.6 327.8h1.1M385.6 318.9h1.1M385.2 335.9h1.1M384.3 332.9h1.1M386.8 347.2h1.1" stroke="#ff5a5a" stroke-width="1.1" stroke-opacity="0.47" fill="none"/><path d="M385.7 326.8h1.1M384.4 345.0h1.1M384.9 328.1h1.1M384.2 331.9h1.1M386.6 340.6h1.1M386.1 329.0h1.1M384.7 342.0h1.1M383.6 345.2h1.1M385.4 346.2h1.1M383.2 319.6h1.1M386.3 312.5h1.1M385.3 331.3h1.1M384.3 333.7h1.1M386.3 320.0h1.1M386.8 339.2h1.1M385.7 345.8h1.1M384.9 326.2h1.1M383.0 345.8h1.1M386.7 314.6h1.1M383.1 333.4h1.1M385.4 325.0h1.1M386.4 338.4h1.1M384.8 319.5h1.1M385.7 346.0h1.1" stroke="#ffbf66" stroke-width="1.1" stroke-opacity="0.47" fill="none"/><path d="M383.6 338.7h1.1M384.1 319.0h1.1M383.4 337.7h1.1M382.6 330.3h1.1M383.9 325.4h1.1M384.4 333.0h1.1M383.2 342.9h1.1M383.5 321.7h1.1M385.0 311.1h1.1M383.3 328.2h1.1M383.5 311.7h1.1M383.0 316.3h1.1M383.5 342.5h1.1M383.1 309.0h1.1M383.7 324.4h1.1M384.1 311.6h1.1M382.9 328.7h1.1M384.0 334.1h1.1M383.2 312.2h1.1M384.5 313.5h1.1" stroke="#ffe9a0" stroke-width="1.1" stroke-opacity="0.58" fill="none"/><path d="M389.1 379.0h1.1M390.0 361.4h1.1M389.6 350.0h1.1M389.7 386.3h1.1M390.0 369.1h1.1M389.4 383.8h1.1M389.8 381.2h1.1M389.6 385.1h1.1M389.6 376.7h1.1M389.6 386.4h1.1M389.5 349.4h1.1M389.7 357.8h1.1M389.5 352.8h1.1M389.9 362.3h1.1M389.6 368.3h1.1M389.6 377.5h1.1M389.2 349.7h1.1M389.5 367.6h1.1M389.5 349.8h1.1M389.7 374.8h1.1M389.3 382.5h1.1M389.4 388.2h1.1M389.7 347.0h1.1M389.8 355.3h1.1M390.0 370.3h1.1M389.8 362.1h1.1M389.2 375.1h1.1M390.2 381.1h1.1M389.7 371.5h1.1M389.5 383.7h1.1M389.6 372.0h1.1M389.9 383.7h1.1M390.0 370.0h1.1M389.5 373.6h1.1M389.9 386.9h1.1M389.8 377.9h1.1M389.4 349.1h1.1M389.1 378.6h1.1M389.6 376.2h1.1M389.8 366.6h1.1" stroke="#b4a4ff" stroke-width="1.1" stroke-opacity="0.61" fill="none"/><path d="M391.4 382.5h1.1M390.7 346.6h1.1M390.7 388.2h1.1M391.2 366.3h1.1M390.9 366.1h1.1M391.0 338.4h1.1M391.2 371.5h1.1M391.2 355.9h1.1M390.9 350.7h1.1M391.1 388.6h1.1M391.1 354.0h1.1M391.7 325.9h1.1M391.5 331.5h1.1M391.5 388.2h1.1M391.5 358.1h1.1M391.1 346.6h1.1M391.1 373.9h1.1M391.3 341.6h1.1M390.9 383.8h1.1M391.0 366.0h1.1M390.6 381.5h1.1M390.7 377.6h1.1M391.0 353.2h1.1M391.1 385.1h1.1M391.2 356.7h1.1M391.1 330.1h1.1M391.2 324.7h1.1M390.4 329.5h1.1M390.8 344.0h1.1M390.8 352.1h1.1M391.3 325.5h1.1M391.2 374.6h1.1M391.1 361.0h1.1M390.7 375.5h1.1M391.1 374.2h1.1M391.2 382.0h1.1M391.2 353.6h1.1M391.3 386.3h1.1M390.8 347.0h1.1M391.4 325.9h1.1M391.1 325.3h1.1M391.1 337.2h1.1M391.1 321.3h1.1M390.7 341.9h1.1M390.9 335.4h1.1M391.2 379.9h1.1M390.7 358.5h1.1M391.4 349.7h1.1M391.1 330.7h1.1M391.7 386.9h1.1" stroke="#b4a4ff" stroke-width="1.1" stroke-opacity="0.58" fill="none"/><path d="M390.8 318.7h1.1M391.3 340.1h1.1M391.4 331.2h1.1M391.1 346.7h1.1M391.4 329.7h1.1M390.9 352.6h1.1M390.8 352.0h1.1M390.9 337.9h1.1M391.0 318.9h1.1M391.1 353.9h1.1M391.2 340.4h1.1M391.3 328.0h1.1M391.1 348.1h1.1M391.2 327.7h1.1" stroke="#3a6cff" stroke-width="1.1" stroke-opacity="0.43" fill="none"/><path d="M392.8 371.3h1.1M392.6 319.8h1.1M392.9 312.4h1.1M393.0 358.6h1.1M393.3 365.3h1.1M392.8 315.3h1.1M392.6 328.2h1.1M392.3 333.3h1.1M393.0 339.0h1.1M393.6 338.1h1.1M392.7 384.6h1.1M392.5 314.0h1.1M392.9 324.6h1.1M392.7 346.0h1.1M393.0 301.9h1.1M392.8 357.8h1.1M393.1 355.5h1.1M393.2 349.7h1.1M392.9 364.8h1.1M393.0 333.7h1.1M393.6 341.7h1.1M393.4 342.5h1.1M392.6 312.4h1.1M393.3 345.5h1.1M393.1 342.8h1.1M392.6 337.6h1.1M393.0 314.3h1.1M392.8 383.0h1.1M392.6 334.6h1.1M392.8 310.1h1.1M393.0 335.3h1.1M392.4 336.4h1.1M392.2 380.6h1.1M393.6 338.1h1.1M392.5 369.7h1.1M392.7 377.6h1.1M392.9 312.6h1.1M392.4 384.5h1.1M392.5 326.6h1.1M392.4 344.3h1.1M393.0 367.6h1.1M393.2 370.4h1.1M392.8 364.2h1.1M392.9 331.1h1.1M393.5 304.9h1.1M392.5 372.9h1.1M393.0 363.7h1.1M392.3 309.2h1.1M393.0 306.7h1.1M392.4 339.5h1.1" stroke="#ffbf66" stroke-width="1.1" stroke-opacity="0.61" fill="none"/><path d="M392.9 322.1h1.1M392.4 321.6h1.1M392.9 324.3h1.1M392.9 328.5h1.1M392.6 322.8h1.1M392.9 330.0h1.1M392.7 323.2h1.1M392.7 330.6h1.1M392.9 325.2h1.1M392.4 321.6h1.1M392.8 334.1h1.1M392.8 323.9h1.1M392.9 326.3h1.1M392.9 334.0h1.1" stroke="#ff8c1a" stroke-width="1.1" stroke-opacity="0.5" fill="none"/><path d="M391.8 369.8h1.1M395.2 384.8h1.1M389.9 385.6h1.1M391.1 372.4h1.1M392.5 374.8h1.1M394.8 383.7h1.1M390.7 387.7h1.1M393.6 385.2h1.1M393.2 380.7h1.1M389.8 375.6h1.1M390.4 370.3h1.1M394.3 368.2h1.1M389.4 391.7h1.1M390.8 381.7h1.1M389.6 386.9h1.1M393.5 393.1h1.1M396.4 380.6h1.1M394.4 386.3h1.1M392.8 386.7h1.1M391.0 371.8h1.1M396.3 393.5h1.1M389.3 380.5h1.1M392.1 390.6h1.1M394.5 370.0h1.1M394.5 386.9h1.1M390.6 369.4h1.1M391.5 369.2h1.1M396.0 377.5h1.1M394.5 383.9h1.1M394.8 388.2h1.1M391.7 374.6h1.1M390.1 364.7h1.1M389.4 391.2h1.1M395.7 389.6h1.1M395.1 388.9h1.1M394.2 386.5h1.1M389.6 364.2h1.1M391.4 374.1h1.1M389.8 390.3h1.1M391.8 371.8h1.1M392.8 384.4h1.1M390.2 381.3h1.1M393.8 393.2h1.1M394.5 373.8h1.1M389.5 364.1h1.1M391.5 382.6h1.1M391.6 378.2h1.1M392.7 364.5h1.1M391.9 363.6h1.1M392.7 390.9h1.1M390.4 378.6h1.1M392.7 371.4h1.1M393.4 392.8h1.1M391.4 390.6h1.1M395.2 390.6h1.1M390.3 374.0h1.1M396.2 385.9h1.1M395.9 393.3h1.1M393.4 364.3h1.1M393.0 384.0h1.1M396.8 382.3h1.1M392.7 393.7h1.1M395.4 382.7h1.1M391.4 390.1h1.1M392.5 383.8h1.1M392.0 393.6h1.1M394.5 392.2h1.1M389.3 390.0h1.1M393.2 387.1h1.1M395.9 389.0h1.1" stroke="#ffbf66" stroke-width="1.1" stroke-opacity="0.58" fill="none"/><path d="M389.3 390.5h1.1M393.2 384.5h1.1M391.3 380.5h1.1M393.2 382.8h1.1M394.9 368.6h1.1M390.4 369.9h1.1M393.3 391.4h1.1M396.7 366.9h1.1M390.0 385.8h1.1M396.8 393.7h1.1M391.9 378.6h1.1M392.2 382.8h1.1M395.5 392.9h1.1M394.2 375.8h1.1M389.3 381.8h1.1M394.1 388.3h1.1M391.0 370.6h1.1M390.0 374.9h1.1M392.9 373.2h1.1M392.1 373.0h1.1M389.4 382.7h1.1M389.5 385.0h1.1M393.7 388.5h1.1M394.3 382.7h1.1M395.8 367.0h1.1M396.2 384.6h1.1M394.4 366.9h1.1M392.6 373.7h1.1M393.1 390.8h1.1M396.6 373.0h1.1M394.7 387.5h1.1M393.0 367.0h1.1M390.6 383.7h1.1M391.0 379.9h1.1M396.8 367.5h1.1M391.6 393.9h1.1M394.4 382.3h1.1M391.8 373.1h1.1M394.1 390.8h1.1M392.4 367.9h1.1M389.5 392.8h1.1M396.2 379.9h1.1M394.7 382.1h1.1M396.6 377.7h1.1M391.8 388.6h1.1M392.1 379.9h1.1M391.4 374.7h1.1M396.8 392.4h1.1M390.1 389.6h1.1M391.2 380.6h1.1" stroke="#3a6cff" stroke-width="1.1" stroke-opacity="0.58" fill="none"/><path d="M395.3 381.8h1.1M395.1 372.2h1.1M395.1 379.5h1.1M395.1 373.8h1.1M395.0 384.1h1.1M394.9 391.3h1.1M394.5 387.4h1.1M394.8 368.6h1.1M395.2 375.4h1.1M395.1 377.5h1.1M394.8 380.8h1.1M395.0 371.7h1.1M394.8 381.7h1.1M395.3 368.6h1.1M394.9 363.5h1.1M394.9 387.6h1.1M395.4 374.9h1.1M395.2 368.5h1.1M395.6 368.4h1.1M394.7 377.7h1.1M395.4 367.4h1.1M394.5 366.0h1.1M394.7 378.8h1.1M394.7 379.7h1.1M394.8 385.4h1.1M394.7 375.7h1.1M395.0 366.6h1.1M395.1 365.3h1.1M394.6 391.1h1.1M395.3 369.4h1.1M395.1 387.5h1.1M395.0 388.0h1.1M394.8 367.3h1.1M395.4 385.7h1.1M395.3 378.7h1.1M395.1 377.1h1.1" stroke="#2a5be0" stroke-width="1.1" stroke-opacity="0.72" fill="none"/><path d="M394.9 368.4h1.1M393.4 384.2h1.1M396.1 376.0h1.1M395.6 370.1h1.1M390.6 387.6h1.1M396.8 369.8h1.1M396.4 377.0h1.1M394.0 363.9h1.1M394.1 382.9h1.1M390.1 382.2h1.1M389.6 368.1h1.1M394.3 388.9h1.1M391.4 379.9h1.1M391.5 369.8h1.1M390.2 364.5h1.1M390.8 392.9h1.1M395.3 393.9h1.1M391.7 376.7h1.1M390.4 373.2h1.1M392.1 377.2h1.1M390.5 369.4h1.1M390.9 385.4h1.1M392.7 364.3h1.1M390.7 388.7h1.1M393.3 379.5h1.1M394.0 388.7h1.1M393.7 379.2h1.1M396.7 378.9h1.1M395.3 393.9h1.1M396.4 364.7h1.1M393.8 391.1h1.1M393.4 385.2h1.1M396.4 371.2h1.1M392.9 372.1h1.1M393.9 372.9h1.1M393.4 372.7h1.1M390.3 364.0h1.1M389.8 371.2h1.1M391.1 377.4h1.1M394.9 380.5h1.1" stroke="#ffe9a0" stroke-width="1.1" stroke-opacity="0.72" fill="none"/><path d="M392.9 391.3h1.1M396.4 393.8h1.1M395.3 391.9h1.1M390.7 393.2h1.1M386.0 387.4h1.1M381.6 395.0h1.1M393.5 387.9h1.1M383.7 387.5h1.1M381.4 390.4h1.1M387.6 392.2h1.1M391.2 389.4h1.1M391.4 391.6h1.1M379.1 386.0h1.1M378.8 387.4h1.1M393.0 393.7h1.1M384.4 387.6h1.1M377.7 386.9h1.1M384.1 387.0h1.1M390.2 391.5h1.1M379.6 393.2h1.1M390.3 391.6h1.1M384.0 392.7h1.1M393.0 391.5h1.1M388.3 386.6h1.1M393.9 386.1h1.1M396.4 393.5h1.1M394.5 391.9h1.1M383.1 388.4h1.1M396.6 388.2h1.1M388.5 385.8h1.1M382.8 388.5h1.1M384.7 394.6h1.1M393.5 394.7h1.1M385.6 390.4h1.1M386.9 388.4h1.1M380.3 386.8h1.1M381.0 392.9h1.1M396.8 395.2h1.1M394.8 392.3h1.1M383.7 391.3h1.1M384.2 389.4h1.1M387.9 391.7h1.1M386.2 392.1h1.1M395.4 392.1h1.1M388.3 392.7h1.1M386.6 392.9h1.1M380.4 390.8h1.1M378.3 389.9h1.1M385.2 391.7h1.1M390.1 388.6h1.1" stroke="#6b7a3a" stroke-width="1.1" stroke-opacity="0.58" fill="none"/><path d="M429.8 315.2h1.1M427.5 313.4h1.1M430.4 317.1h1.1M428.5 315.6h1.1M426.2 313.0h1.1M427.8 312.9h1.1M427.8 318.7h1.1M426.5 312.1h1.1M428.5 320.1h1.1M426.3 312.0h1.1M426.9 314.4h1.1M427.2 317.1h1.1M426.9 313.1h1.1M427.0 315.9h1.1M428.7 321.1h1.1M427.2 316.8h1.1M426.2 315.7h1.1M429.0 315.9h1.1M429.0 316.4h1.1M429.1 313.5h1.1M429.7 313.0h1.1M427.8 310.3h1.1M429.3 316.5h1.1M426.8 313.8h1.1M429.4 316.0h1.1M428.4 315.4h1.1M427.3 314.0h1.1M428.7 316.4h1.1M428.0 315.5h1.1M426.5 321.3h1.1M429.3 314.2h1.1M428.5 316.8h1.1M428.4 315.1h1.1M428.3 314.7h1.1M426.4 316.3h1.1M426.1 316.8h1.1M430.3 314.8h1.1M430.3 312.9h1.1M429.2 315.8h1.1M429.2 312.5h1.1M426.2 314.9h1.1M430.0 313.5h1.1M427.0 316.6h1.1M428.0 316.0h1.1M428.0 314.7h1.1M428.2 316.1h1.1M429.6 317.5h1.1M426.4 319.2h1.1M429.9 312.8h1.1M428.9 314.0h1.1M435.4 314.4h1.1M436.9 311.8h1.1M436.8 312.1h1.1M436.4 316.7h1.1M435.6 313.1h1.1M436.0 314.0h1.1M435.9 316.4h1.1M436.8 314.5h1.1M435.4 316.0h1.1M436.7 313.3h1.1M435.1 315.6h1.1M436.3 314.2h1.1M435.7 315.8h1.1M436.1 315.9h1.1M436.6 315.2h1.1M436.7 311.1h1.1M518.8 318.3h1.1M514.3 307.6h1.1M513.9 315.1h1.1M518.5 314.7h1.1M516.5 320.8h1.1M517.6 319.5h1.1M514.1 315.3h1.1M518.3 317.0h1.1M519.0 308.0h1.1M515.4 317.3h1.1M517.6 321.0h1.1M515.8 313.4h1.1M516.2 311.5h1.1M519.1 319.9h1.1M515.1 312.6h1.1M518.8 310.0h1.1M516.2 315.1h1.1M515.6 310.4h1.1M519.0 316.0h1.1M515.0 319.7h1.1M518.4 311.8h1.1M514.4 314.3h1.1M516.8 317.8h1.1M515.4 314.9h1.1M519.1 309.4h1.1M517.4 312.4h1.1M514.0 305.2h1.1M517.1 314.1h1.1M516.5 320.3h1.1M513.9 318.4h1.1M514.9 319.0h1.1M517.7 312.5h1.1M514.1 320.1h1.1M515.0 321.4h1.1M517.0 316.2h1.1M516.6 312.2h1.1M515.4 309.6h1.1M514.7 314.1h1.1M518.1 317.1h1.1M516.7 321.5h1.1M514.2 318.7h1.1M519.0 315.1h1.1M519.1 315.8h1.1M515.9 313.7h1.1M517.9 314.4h1.1M514.4 316.0h1.1M518.5 312.2h1.1M514.8 311.4h1.1M516.5 310.7h1.1M516.2 310.3h1.1M514.2 310.2h1.1M518.5 319.9h1.1M514.5 319.5h1.1M517.6 308.9h1.1M517.2 320.6h1.1M515.7 317.5h1.1M517.2 315.9h1.1M515.1 316.5h1.1M514.4 318.7h1.1M515.3 315.4h1.1" stroke="#3a6cff" stroke-width="1.1" stroke-opacity="0.72" fill="none"/><path d="M427.3 318.3h1.1M429.2 319.2h1.1M427.7 318.4h1.1M429.8 317.9h1.1M426.3 314.0h1.1M427.8 317.4h1.1M428.1 317.8h1.1M428.4 317.2h1.1M427.4 317.6h1.1M427.5 316.9h1.1M428.0 314.1h1.1M428.5 318.6h1.1M428.9 316.2h1.1M427.8 319.4h1.1M427.5 314.9h1.1M429.4 316.6h1.1M474.2 313.5h1.1M472.0 313.6h1.1M474.0 313.6h1.1M473.3 312.8h1.1M471.6 310.6h1.1M471.3 317.8h1.1M472.9 310.6h1.1M473.1 313.3h1.1M471.5 315.0h1.1M472.2 312.4h1.1M471.5 310.7h1.1M473.6 311.7h1.1M474.2 314.6h1.1M473.0 312.4h1.1M472.9 313.3h1.1M471.7 313.5h1.1M470.8 311.5h1.1M471.4 310.5h1.1M472.9 317.3h1.1M471.1 313.2h1.1M472.0 313.6h1.1M472.8 314.9h1.1M471.4 314.0h1.1M473.7 318.1h1.1M471.4 313.3h1.1M471.3 314.3h1.1M473.4 310.9h1.1M473.0 311.5h1.1M472.3 313.2h1.1M472.0 311.6h1.1M470.9 314.5h1.1M473.8 314.6h1.1M472.9 307.6h1.1M473.5 315.0h1.1M473.5 313.8h1.1M472.8 313.3h1.1M477.4 320.2h1.1M475.2 319.7h1.1M477.2 316.5h1.1M474.8 320.6h1.1M475.1 317.7h1.1M476.9 322.1h1.1M475.3 322.2h1.1M476.0 318.3h1.1M476.5 318.1h1.1M476.6 320.8h1.1M474.8 319.1h1.1M477.6 320.8h1.1M476.2 321.9h1.1M474.9 319.2h1.1M475.2 316.0h1.1M477.2 318.3h1.1M477.0 320.4h1.1M474.6 318.7h1.1M476.7 321.1h1.1M474.8 318.8h1.1M476.3 321.0h1.1M475.7 321.3h1.1" stroke="#1e90ff" stroke-width="1.1" stroke-opacity="0.72" fill="none"/><path d="M435.7 312.6h1.1M432.4 314.8h1.1M433.6 316.7h1.1M438.4 316.8h1.1M435.8 315.6h1.1M432.7 314.5h1.1M435.8 315.2h1.1M428.1 315.2h1.1M437.5 316.2h1.1M428.2 315.4h1.1M433.0 316.4h1.1M438.0 316.9h1.1M434.0 314.5h1.1M432.6 315.9h1.1M436.3 315.9h1.1M433.4 315.0h1.1M428.0 314.3h1.1M430.0 314.8h1.1M436.8 315.8h1.1M431.2 314.5h1.1M437.4 315.8h1.1M435.9 315.7h1.1M436.6 314.6h1.1M434.9 316.0h1.1M434.8 312.5h1.1M437.4 313.6h1.1M430.7 314.2h1.1M431.4 315.0h1.1M437.0 313.2h1.1M428.0 314.9h1.1M431.1 314.9h1.1M432.5 314.2h1.1M434.5 314.7h1.1M436.4 316.5h1.1M430.5 314.6h1.1M429.5 314.7h1.1M436.2 315.1h1.1M429.3 317.0h1.1M430.2 316.2h1.1M432.5 315.4h1.1M437.0 314.0h1.1M433.9 315.5h1.1M436.9 316.9h1.1M438.4 314.5h1.1M437.4 315.2h1.1M432.4 315.6h1.1M432.5 315.9h1.1M435.4 315.6h1.1M434.0 315.6h1.1M437.9 315.2h1.1M434.1 316.0h1.1M430.2 316.3h1.1M434.5 313.7h1.1M438.4 313.6h1.1M435.8 313.9h1.1M429.0 315.5h1.1M438.0 315.0h1.1M431.3 314.5h1.1M429.1 315.6h1.1M438.0 314.0h1.1M430.3 315.3h1.1M429.1 313.4h1.1M427.8 315.7h1.1M432.3 315.4h1.1M432.3 314.9h1.1M431.6 314.1h1.1M438.0 316.1h1.1M435.3 317.5h1.1M428.7 315.8h1.1M431.9 315.4h1.1M432.6 313.9h1.1M432.3 314.9h1.1M432.2 316.7h1.1M431.1 314.4h1.1M430.4 314.4h1.1M437.3 315.3h1.1M430.9 315.8h1.1M431.9 315.2h1.1M429.6 315.0h1.1M433.7 312.6h1.1" stroke="#ffe9a0" stroke-width="1.1" stroke-opacity="0.72" fill="none"/><path d="M426.4 314.6h1.1M428.3 314.6h1.1M432.5 314.5h1.1M427.4 314.6h1.1M431.7 314.5h1.1M434.2 315.1h1.1M431.7 314.5h1.1M429.5 314.4h1.1M433.6 315.2h1.1M427.3 315.1h1.1M431.9 315.5h1.1M432.7 315.0h1.1M430.4 314.9h1.1M431.5 314.5h1.1M427.8 314.8h1.1M434.7 315.4h1.1M427.8 315.0h1.1M431.2 314.3h1.1M426.9 315.1h1.1M433.9 314.3h1.1M429.7 314.8h1.1M427.4 315.3h1.1M433.0 314.9h1.1M429.5 315.0h1.1M430.0 313.2h1.1M428.4 315.3h1.1M431.5 315.4h1.1M431.1 315.3h1.1M434.3 314.7h1.1M431.9 314.1h1.1M427.4 314.7h1.1M428.8 314.9h1.1M433.0 315.8h1.1M431.5 314.5h1.1M435.0 314.6h1.1M431.0 314.5h1.1M434.1 314.6h1.1M428.8 315.5h1.1M428.8 314.1h1.1M432.0 315.8h1.1M432.8 314.2h1.1M427.6 314.5h1.1M434.6 314.5h1.1M428.4 314.8h1.1M434.2 313.8h1.1M427.0 314.4h1.1M429.9 316.1h1.1M428.6 315.0h1.1M428.8 314.4h1.1M434.0 315.2h1.1M433.2 315.7h1.1M426.8 314.6h1.1M428.6 315.6h1.1M433.8 314.7h1.1M426.5 314.9h1.1M430.9 315.1h1.1M427.9 315.1h1.1M435.2 314.5h1.1M432.4 315.6h1.1M434.3 314.0h1.1M429.6 314.9h1.1M427.9 313.9h1.1M427.0 314.8h1.1M435.2 314.9h1.1M429.1 315.0h1.1M430.7 315.2h1.1M429.1 314.5h1.1M428.1 314.4h1.1M426.3 315.5h1.1M428.6 314.9h1.1M429.2 315.4h1.1M430.4 315.1h1.1M426.6 315.3h1.1M427.0 313.9h1.1M431.6 315.3h1.1M429.7 315.2h1.1" stroke="#ffbf66" stroke-width="1.1" stroke-opacity="0.94" fill="none"/><path d="M435.2 314.4h1.1M435.0 314.7h1.1M433.4 314.2h1.1M435.1 315.2h1.1M432.3 315.6h1.1M438.3 313.7h1.1M432.2 314.8h1.1M436.1 315.1h1.1M432.3 315.3h1.1M431.1 315.0h1.1M438.6 315.1h1.1M433.0 314.8h1.1M438.6 316.1h1.1M437.7 315.5h1.1M433.7 314.6h1.1M433.3 314.2h1.1M437.2 313.8h1.1M438.6 314.4h1.1M436.1 315.7h1.1M436.8 314.5h1.1M437.6 314.5h1.1M430.9 315.0h1.1M432.7 316.0h1.1M432.6 315.3h1.1M432.6 314.1h1.1M431.2 315.1h1.1M433.8 314.7h1.1M433.7 314.6h1.1M439.1 313.8h1.1M433.0 314.6h1.1M433.1 315.1h1.1M434.3 315.8h1.1M430.8 314.6h1.1M435.4 315.5h1.1M436.1 314.7h1.1M431.0 313.9h1.1M432.4 314.2h1.1M431.9 315.8h1.1M435.5 315.2h1.1M437.9 314.6h1.1M434.7 314.9h1.1M435.4 315.6h1.1M437.8 314.5h1.1M435.3 314.5h1.1M434.6 314.8h1.1M436.0 315.0h1.1M434.3 313.9h1.1M434.1 315.8h1.1M438.3 314.6h1.1M431.9 315.4h1.1M434.1 315.0h1.1M438.9 314.9h1.1M436.7 315.0h1.1M437.2 314.6h1.1M436.5 314.7h1.1M438.8 314.9h1.1M434.0 315.0h1.1M437.4 314.2h1.1M433.4 315.7h1.1M434.8 315.0h1.1M433.1 315.0h1.1M436.5 315.0h1.1M432.2 315.4h1.1M434.8 315.2h1.1M432.2 314.1h1.1M433.2 314.5h1.1M431.0 315.5h1.1M432.1 313.0h1.1M434.6 315.3h1.1M437.7 315.9h1.1" stroke="#ff5f8f" stroke-width="1.1" stroke-opacity="0.94" fill="none"/><path d="M438.5 314.8h1.1M441.2 314.6h1.1M442.3 314.7h1.1M440.7 314.8h1.1M441.4 314.6h1.1M438.6 314.2h1.1M438.4 314.8h1.1M438.8 315.5h1.1M441.4 316.0h1.1M443.1 315.0h1.1M438.3 314.4h1.1M438.5 315.0h1.1M439.0 314.3h1.1M441.9 314.1h1.1M443.1 313.5h1.1M441.0 314.9h1.1M438.3 315.3h1.1M440.2 314.4h1.1M440.9 315.0h1.1M441.0 315.3h1.1M441.7 314.6h1.1M439.8 314.9h1.1M440.9 315.5h1.1M439.4 315.3h1.1M442.5 315.4h1.1M442.4 315.1h1.1M440.4 314.5h1.1M443.1 315.3h1.1M439.8 314.3h1.1M438.0 314.6h1.1M440.8 314.2h1.1M437.9 314.3h1.1M440.4 314.8h1.1M443.1 314.5h1.1M438.8 315.8h1.1M442.0 315.1h1.1M440.7 314.9h1.1M438.5 314.5h1.1M439.9 314.3h1.1M438.1 314.5h1.1M439.4 314.4h1.1M441.6 314.4h1.1M440.1 315.1h1.1M438.4 314.6h1.1M485.5 315.1h1.1M485.3 315.2h1.1M482.1 315.8h1.1M483.7 315.7h1.1M484.5 314.9h1.1M483.3 313.6h1.1M486.1 314.0h1.1M486.2 313.8h1.1M484.4 314.3h1.1M484.5 315.3h1.1M485.4 315.5h1.1M484.5 314.6h1.1M486.1 314.5h1.1M482.7 314.3h1.1M484.1 315.5h1.1M484.1 315.1h1.1M485.4 315.4h1.1M484.1 314.0h1.1M485.5 315.2h1.1M485.8 314.6h1.1M484.1 314.8h1.1M483.6 315.8h1.1M481.6 313.7h1.1M485.5 315.2h1.1M482.7 314.3h1.1M485.7 315.3h1.1M484.0 315.0h1.1M482.3 315.1h1.1M485.2 314.3h1.1M484.4 314.4h1.1M484.2 314.9h1.1M482.1 315.0h1.1M484.5 314.5h1.1M485.8 314.3h1.1M486.4 314.8h1.1M481.0 315.7h1.1M481.8 314.7h1.1M483.5 314.8h1.1M482.0 315.5h1.1M483.5 316.1h1.1M484.3 315.3h1.1M483.2 315.0h1.1M484.0 315.0h1.1M485.3 315.0h1.1M483.0 314.1h1.1M481.3 314.2h1.1M481.3 314.9h1.1M485.7 314.9h1.1M486.4 314.3h1.1M481.5 315.0h1.1M483.6 314.2h1.1" stroke="#ff4ade" stroke-width="1.1" stroke-opacity="0.94" fill="none"/><path d="M448.6 314.9h1.1M446.2 315.2h1.1M447.4 315.4h1.1M445.7 315.4h1.1M441.8 315.3h1.1M447.5 314.7h1.1M447.1 312.6h1.1M442.7 314.1h1.1M449.9 314.7h1.1M445.0 314.1h1.1M449.2 314.6h1.1M442.3 314.3h1.1M443.2 313.8h1.1M447.0 315.0h1.1M446.5 314.4h1.1M450.0 313.9h1.1M442.7 314.2h1.1M447.9 314.9h1.1M446.0 315.3h1.1M443.3 315.1h1.1M448.7 315.0h1.1M444.0 315.0h1.1M447.5 314.9h1.1M449.9 315.6h1.1M447.3 314.8h1.1M447.5 316.3h1.1M442.6 315.1h1.1M443.8 314.9h1.1M450.3 315.2h1.1M450.4 314.8h1.1M450.4 314.8h1.1M442.1 314.0h1.1M442.5 314.9h1.1M442.5 316.2h1.1M449.8 313.2h1.1M446.8 315.1h1.1M448.6 315.0h1.1M445.1 315.4h1.1M445.1 314.2h1.1M447.8 314.8h1.1M445.4 314.8h1.1M448.9 314.1h1.1M449.3 314.8h1.1M445.8 314.7h1.1M444.8 314.7h1.1M442.8 314.6h1.1M446.5 314.5h1.1M445.9 314.5h1.1M443.0 314.2h1.1M443.9 315.1h1.1M441.8 314.8h1.1M442.0 314.1h1.1M445.0 315.1h1.1M448.8 315.2h1.1M450.2 314.3h1.1M450.3 315.1h1.1M446.7 315.0h1.1M446.1 315.3h1.1M444.8 314.4h1.1M448.0 313.8h1.1M443.8 314.9h1.1M446.5 314.8h1.1M443.1 314.6h1.1M446.2 315.5h1.1M447.3 314.6h1.1M448.4 315.0h1.1M445.9 314.9h1.1M441.9 314.9h1.1M442.7 316.0h1.1M446.7 315.6h1.1M449.9 314.3h1.1M446.4 315.0h1.1M442.9 315.2h1.1M441.7 314.9h1.1M447.2 315.1h1.1M444.4 314.6h1.1M485.9 316.1h1.1M492.4 314.7h1.1M487.7 315.1h1.1M488.0 315.1h1.1M486.2 315.7h1.1M487.0 315.1h1.1M490.6 313.4h1.1M491.9 314.6h1.1M487.3 315.5h1.1M488.2 315.0h1.1M491.8 314.0h1.1M489.3 314.4h1.1M488.9 314.3h1.1M492.7 315.0h1.1M488.2 315.6h1.1M487.2 313.7h1.1M493.4 314.8h1.1M488.0 315.3h1.1M490.7 315.1h1.1M492.1 315.8h1.1M491.1 315.0h1.1M490.6 314.8h1.1M492.4 315.2h1.1M493.0 315.4h1.1M489.8 314.1h1.1M488.8 315.2h1.1M486.7 315.2h1.1M486.6 315.0h1.1M491.9 313.3h1.1M492.6 314.8h1.1M486.2 314.1h1.1M491.3 313.7h1.1M491.5 314.5h1.1M492.1 314.8h1.1M490.5 314.1h1.1M493.6 314.4h1.1M491.7 315.0h1.1M490.7 314.9h1.1M491.0 314.8h1.1M491.7 313.8h1.1M488.1 315.0h1.1M488.9 314.7h1.1M486.7 315.6h1.1M491.4 314.0h1.1M493.0 314.5h1.1M488.1 314.5h1.1M490.7 314.9h1.1M487.9 314.3h1.1M489.2 314.5h1.1M493.2 315.4h1.1M488.2 315.7h1.1M490.8 313.6h1.1M488.6 314.1h1.1M486.3 316.0h1.1M490.9 315.5h1.1M493.3 315.0h1.1M491.4 314.6h1.1M487.3 315.5h1.1M487.5 314.8h1.1M491.4 314.9h1.1M490.4 314.7h1.1M487.8 315.8h1.1M492.8 315.8h1.1M500.1 313.8h1.1M498.6 316.0h1.1M500.6 314.9h1.1M498.0 315.0h1.1M499.1 314.9h1.1M499.0 315.8h1.1M499.6 315.8h1.1M499.2 314.7h1.1M498.5 316.6h1.1M499.5 314.2h1.1M497.5 314.7h1.1M499.4 314.5h1.1M498.1 314.5h1.1M500.3 315.6h1.1M497.1 314.5h1.1M500.0 315.3h1.1M499.8 314.9h1.1M499.1 314.1h1.1M499.1 314.9h1.1M499.4 314.4h1.1M497.4 315.2h1.1M500.6 314.4h1.1M497.6 314.6h1.1M500.5 314.5h1.1M500.7 313.6h1.1M499.2 315.0h1.1M499.3 314.9h1.1M496.9 314.2h1.1M498.7 314.0h1.1M500.9 315.1h1.1M500.7 314.2h1.1M497.1 315.6h1.1M497.9 314.5h1.1M496.9 314.7h1.1M497.0 315.2h1.1M497.3 314.5h1.1M499.2 315.4h1.1M497.1 315.5h1.1" stroke="#a4ec2a" stroke-width="1.1" stroke-opacity="0.94" fill="none"/><path d="M451.9 314.3h1.1M455.4 314.6h1.1M450.9 314.5h1.1M456.6 314.6h1.1M451.9 314.2h1.1M455.4 314.7h1.1M457.5 315.2h1.1M453.6 315.0h1.1M450.7 314.5h1.1M453.2 315.2h1.1M451.9 314.9h1.1M455.4 314.1h1.1M453.8 315.2h1.1M457.4 314.5h1.1M456.5 314.4h1.1M454.0 315.1h1.1M456.3 314.5h1.1M451.1 315.0h1.1M453.6 314.6h1.1M456.6 315.1h1.1M457.8 314.5h1.1M451.5 314.1h1.1M454.1 315.0h1.1M456.0 314.5h1.1M458.4 314.2h1.1M452.5 315.1h1.1M452.6 315.3h1.1M450.8 314.9h1.1M454.9 315.0h1.1M455.0 315.5h1.1M453.7 315.6h1.1M451.5 314.6h1.1M456.7 315.1h1.1M451.0 313.7h1.1M452.9 314.3h1.1M451.2 314.7h1.1M452.5 314.4h1.1M454.0 314.7h1.1M455.6 314.6h1.1M457.3 314.4h1.1M450.3 314.4h1.1M457.5 315.1h1.1M455.6 314.3h1.1M454.3 314.2h1.1M456.7 313.8h1.1M451.8 315.4h1.1M453.6 314.4h1.1M449.8 316.2h1.1M449.8 315.1h1.1M458.2 314.2h1.1M454.3 315.5h1.1M450.0 314.5h1.1M454.1 315.2h1.1M457.9 314.6h1.1M453.8 314.8h1.1M451.1 315.7h1.1M452.8 315.8h1.1M455.4 315.3h1.1M450.7 314.2h1.1M453.1 314.4h1.1M450.4 316.2h1.1M457.1 315.4h1.1M450.1 316.0h1.1M455.1 315.0h1.1M454.7 314.7h1.1M456.4 314.4h1.1M453.2 314.4h1.1M457.6 314.4h1.1M453.1 314.7h1.1M457.2 314.6h1.1M450.3 315.5h1.1M452.1 315.0h1.1M450.1 315.6h1.1M456.6 314.4h1.1M457.9 314.9h1.1M450.3 314.8h1.1" stroke="#a8f08a" stroke-width="1.1" stroke-opacity="0.94" fill="none"/><path d="M461.7 314.9h1.1M460.2 314.4h1.1M465.6 315.0h1.1M461.0 314.4h1.1M461.1 315.0h1.1M462.0 316.0h1.1M463.2 315.3h1.1M460.8 315.0h1.1M461.7 314.4h1.1M461.2 313.9h1.1M462.6 315.4h1.1M466.1 315.2h1.1M459.6 313.9h1.1M458.5 315.4h1.1M458.7 315.0h1.1M460.5 315.1h1.1M459.8 315.8h1.1M464.3 314.3h1.1M461.7 315.1h1.1M463.6 314.5h1.1M461.8 315.3h1.1M460.5 314.1h1.1M458.5 314.6h1.1M462.4 314.8h1.1M462.8 314.5h1.1M457.2 315.0h1.1M463.4 314.2h1.1M462.6 315.2h1.1M459.8 314.6h1.1M457.5 315.0h1.1M458.9 315.7h1.1M464.3 314.4h1.1M465.4 314.4h1.1M457.4 315.3h1.1M460.2 315.4h1.1M463.8 313.9h1.1M464.3 314.6h1.1M466.0 315.0h1.1M464.2 316.0h1.1M461.8 314.8h1.1M465.5 314.3h1.1M461.8 314.5h1.1M460.4 313.8h1.1M460.9 315.6h1.1M460.0 314.9h1.1M458.0 313.9h1.1M460.1 314.3h1.1M457.4 313.9h1.1M465.2 315.9h1.1M458.4 315.1h1.1M461.3 314.7h1.1M458.0 314.6h1.1M457.8 315.1h1.1M462.7 315.2h1.1M459.7 314.7h1.1M458.3 315.1h1.1M462.3 314.3h1.1M465.2 314.6h1.1M461.3 315.3h1.1M465.2 316.1h1.1M464.7 314.8h1.1M463.2 315.5h1.1M458.5 315.0h1.1M464.2 315.3h1.1M461.7 314.4h1.1M457.5 315.4h1.1M463.2 314.7h1.1M464.3 315.1h1.1M461.8 314.8h1.1M463.5 314.3h1.1M462.4 315.3h1.1M459.3 313.7h1.1M460.7 315.2h1.1M458.5 314.9h1.1M458.6 315.0h1.1M465.8 314.1h1.1M478.7 314.8h1.1M478.3 314.0h1.1M478.6 315.5h1.1M476.2 314.3h1.1M481.6 315.9h1.1M476.7 314.4h1.1M481.9 314.0h1.1M477.3 315.1h1.1M476.9 314.3h1.1M476.1 314.8h1.1M477.1 314.6h1.1M478.8 314.8h1.1M476.5 313.7h1.1M481.4 315.2h1.1M478.6 314.9h1.1M481.3 315.6h1.1M479.5 315.4h1.1M475.7 315.5h1.1M481.2 315.6h1.1M480.8 315.1h1.1M481.5 315.4h1.1M478.9 313.7h1.1M479.4 314.3h1.1M481.4 315.5h1.1M475.8 313.8h1.1M480.2 314.3h1.1M476.7 314.7h1.1M478.5 314.9h1.1M480.3 315.0h1.1M479.5 314.6h1.1M478.7 314.7h1.1M482.0 315.9h1.1M478.4 315.3h1.1M477.7 314.8h1.1M476.1 314.9h1.1M476.7 315.3h1.1M477.7 315.1h1.1M479.0 314.4h1.1M477.6 313.9h1.1M479.7 314.9h1.1M475.1 314.5h1.1M481.6 314.5h1.1M477.7 314.5h1.1M476.4 313.6h1.1M481.7 314.8h1.1M478.2 315.1h1.1M476.5 315.3h1.1M477.5 314.3h1.1M479.0 315.1h1.1M477.2 315.2h1.1M480.6 315.6h1.1M475.0 314.8h1.1M476.4 315.0h1.1M479.0 314.4h1.1M479.6 313.7h1.1M475.8 315.0h1.1M480.8 315.2h1.1M497.1 314.5h1.1M496.6 314.5h1.1M495.7 314.7h1.1M494.1 315.0h1.1M493.5 316.0h1.1M495.4 314.1h1.1M496.2 314.9h1.1M493.2 314.1h1.1M493.6 315.4h1.1M496.9 315.8h1.1M494.1 315.0h1.1M495.4 314.1h1.1M494.1 314.8h1.1M494.7 315.0h1.1M494.7 314.0h1.1M493.4 315.0h1.1M492.7 314.8h1.1M496.0 313.1h1.1M498.0 314.8h1.1M497.8 315.4h1.1M495.6 314.7h1.1M497.3 315.3h1.1M494.7 315.1h1.1M492.2 313.4h1.1M497.4 313.3h1.1M497.0 313.7h1.1M492.1 314.7h1.1M495.1 314.2h1.1M492.6 314.4h1.1M493.6 314.4h1.1M493.8 315.4h1.1M493.7 314.8h1.1M495.7 313.9h1.1M496.9 315.4h1.1M496.4 315.4h1.1M492.6 315.0h1.1M493.9 315.5h1.1M494.3 315.8h1.1M495.0 315.1h1.1M493.5 314.2h1.1M492.6 314.9h1.1M493.0 314.3h1.1M494.2 314.9h1.1M496.5 315.1h1.1M497.3 315.2h1.1M493.3 314.9h1.1M497.0 315.0h1.1M497.7 314.6h1.1M494.4 314.9h1.1M494.8 316.1h1.1M495.7 314.5h1.1" stroke="#ffe92e" stroke-width="1.1" stroke-opacity="0.94" fill="none"/><path d="M469.8 315.0h1.1M467.5 314.7h1.1M469.0 315.0h1.1M465.5 314.4h1.1M470.1 315.8h1.1M466.4 313.7h1.1M467.1 314.9h1.1M467.6 315.1h1.1M465.0 315.7h1.1M467.5 315.3h1.1M469.3 314.6h1.1M469.9 314.6h1.1M466.4 314.4h1.1M469.1 315.0h1.1M469.0 314.4h1.1M470.1 314.2h1.1M466.9 315.1h1.1M466.5 314.8h1.1M470.2 315.5h1.1M470.6 314.7h1.1M468.4 314.8h1.1M465.3 315.4h1.1M467.7 314.6h1.1M468.3 314.1h1.1M466.7 315.2h1.1M468.2 314.7h1.1M466.6 314.7h1.1M470.8 314.1h1.1M468.6 314.5h1.1M466.7 313.9h1.1M466.9 314.9h1.1M465.3 314.8h1.1M466.6 314.9h1.1M468.9 314.9h1.1M466.0 314.3h1.1M465.0 315.1h1.1M467.2 315.8h1.1M465.2 314.2h1.1M465.8 315.6h1.1M470.7 314.2h1.1M470.2 315.5h1.1M470.1 314.5h1.1M465.0 314.9h1.1M470.7 315.5h1.1M467.9 315.7h1.1M466.1 314.8h1.1M467.3 314.9h1.1M466.9 314.7h1.1M468.7 315.3h1.1M470.0 314.3h1.1M468.1 314.9h1.1" stroke="#9a4cd0" stroke-width="1.1" stroke-opacity="0.94" fill="none"/><path d="M454.0 311.9h1.1M456.3 310.8h1.1M454.0 311.2h1.1M454.8 311.6h1.1M454.7 311.5h1.1M454.7 311.4h1.1M455.7 312.5h1.1M457.6 313.3h1.1M455.2 312.9h1.1M453.4 311.4h1.1M452.7 312.2h1.1M457.0 312.7h1.1M456.9 312.8h1.1M454.3 312.1h1.1M453.5 312.9h1.1M454.5 311.2h1.1M454.6 311.0h1.1M453.8 311.9h1.1M455.5 311.8h1.1M453.5 313.7h1.1M455.8 313.0h1.1M457.5 312.8h1.1M452.7 312.4h1.1M455.1 311.6h1.1M453.5 311.9h1.1M453.8 312.4h1.1M456.3 312.4h1.1M457.2 312.3h1.1M457.2 312.5h1.1M457.4 312.7h1.1M513.5 310.2h1.1M513.2 308.3h1.1M511.0 309.8h1.1M512.4 313.7h1.1M512.0 309.2h1.1M511.1 311.5h1.1M512.7 309.9h1.1M513.2 312.7h1.1M513.6 311.9h1.1M513.0 311.8h1.1M511.5 311.5h1.1M510.8 310.8h1.1M512.3 312.7h1.1M512.0 305.2h1.1M511.6 306.1h1.1M512.6 314.4h1.1" stroke="#5fdc3c" stroke-width="1.1" stroke-opacity="0.72" fill="none"/><path d="M474.3 311.0h1.1M474.1 314.7h1.1M474.1 312.9h1.1M475.5 314.9h1.1M476.1 312.9h1.1M477.2 310.0h1.1M476.8 312.6h1.1M475.5 312.6h1.1M475.3 312.1h1.1M476.8 312.7h1.1M474.5 311.4h1.1M474.2 315.4h1.1M473.6 315.0h1.1M473.6 312.8h1.1M474.9 314.6h1.1M477.1 314.5h1.1M475.2 312.4h1.1M475.0 311.1h1.1M475.0 312.8h1.1M474.3 315.8h1.1M476.5 311.3h1.1M476.3 312.8h1.1M475.0 311.5h1.1M477.0 310.2h1.1M475.0 315.8h1.1M477.3 312.3h1.1M476.0 312.0h1.1M476.3 313.6h1.1M476.0 313.8h1.1M477.0 313.3h1.1" stroke="#ffe92e" stroke-width="1.1" stroke-opacity="0.72" fill="none"/><path d="M478.1 316.0h1.1M477.6 318.5h1.1M477.4 318.0h1.1M478.8 317.3h1.1M479.6 318.4h1.1M477.9 318.0h1.1M477.5 316.3h1.1M476.9 315.5h1.1M478.7 317.8h1.1M477.3 317.3h1.1M476.8 315.4h1.1M479.5 318.0h1.1M476.6 315.8h1.1M479.4 315.1h1.1" stroke="#9a4cd0" stroke-width="1.1" stroke-opacity="0.72" fill="none"/><path d="M483.6 320.5h1.1M483.5 318.7h1.1M484.8 317.7h1.1M483.5 320.9h1.1M483.8 318.7h1.1M484.0 318.2h1.1M484.3 318.4h1.1M483.3 317.7h1.1M483.7 317.7h1.1M485.6 314.9h1.1M485.4 317.5h1.1M485.0 317.6h1.1M483.5 320.9h1.1M485.3 318.5h1.1M483.5 319.7h1.1M485.4 316.4h1.1M485.7 319.4h1.1M485.2 321.0h1.1M483.3 319.6h1.1M484.8 319.0h1.1M484.3 322.6h1.1M483.8 316.5h1.1" stroke="#106a6a" stroke-width="1.1" stroke-opacity="0.72" fill="none"/><path d="M437.2 320.9h1.1M436.3 316.5h1.1M438.4 318.1h1.1M438.0 316.7h1.1M437.5 317.1h1.1M436.4 320.0h1.1M438.2 318.4h1.1M435.8 317.7h1.1M437.2 320.5h1.1M435.6 317.6h1.1M437.7 316.6h1.1M438.3 319.3h1.1M435.4 319.0h1.1M435.9 315.2h1.1" stroke="#2f9e5a" stroke-width="1.1" stroke-opacity="0.72" fill="none"/><path d="M509.5 318.3h1.1M505.1 316.0h1.1M512.3 314.3h1.1M500.5 318.0h1.1M501.9 312.4h1.1M511.0 320.1h1.1M507.0 315.2h1.1M503.6 319.1h1.1M502.7 313.5h1.1M501.0 313.3h1.1M506.2 317.9h1.1M511.0 313.0h1.1M506.5 319.6h1.1M508.7 316.4h1.1M501.5 308.8h1.1M501.0 317.1h1.1M507.9 311.6h1.1M511.3 313.7h1.1M512.7 310.5h1.1M504.9 319.2h1.1M506.0 315.3h1.1M501.9 315.1h1.1M511.8 317.4h1.1M510.8 315.7h1.1M507.4 314.2h1.1M509.5 314.0h1.1M511.4 313.9h1.1M502.8 318.8h1.1M505.6 314.0h1.1M509.6 310.7h1.1M503.6 315.3h1.1M503.2 314.2h1.1M505.7 318.9h1.1M502.6 309.8h1.1M502.8 316.4h1.1M504.7 312.1h1.1M506.2 313.8h1.1M510.6 313.5h1.1M504.3 317.5h1.1M510.0 305.9h1.1M507.7 321.1h1.1M507.4 315.1h1.1M501.0 314.7h1.1M507.4 309.5h1.1M509.6 319.1h1.1M510.8 316.6h1.1M512.5 314.3h1.1M507.9 308.6h1.1M502.2 313.7h1.1M513.0 312.3h1.1M501.0 319.5h1.1M504.6 315.6h1.1M504.1 313.6h1.1M503.0 315.4h1.1M511.8 312.4h1.1M503.5 314.6h1.1M505.9 312.0h1.1M505.2 316.6h1.1M510.6 319.3h1.1M500.9 313.8h1.1M501.2 316.4h1.1M511.9 316.4h1.1M502.2 314.3h1.1M502.8 313.2h1.1M511.8 312.5h1.1M511.1 314.6h1.1M506.0 313.3h1.1M509.2 310.6h1.1M509.8 320.6h1.1M501.6 318.2h1.1M509.7 314.6h1.1M508.0 312.2h1.1M500.7 316.9h1.1M500.6 312.6h1.1M504.0 315.9h1.1M504.0 314.1h1.1M511.6 312.8h1.1M500.3 312.0h1.1M509.5 314.3h1.1M502.5 316.8h1.1M505.9 315.1h1.1M508.4 314.6h1.1M506.2 312.4h1.1M502.4 312.2h1.1M512.4 314.2h1.1M504.9 318.5h1.1M500.8 313.1h1.1M507.5 314.6h1.1M509.4 318.9h1.1M503.1 313.6h1.1M508.0 318.0h1.1M504.0 315.9h1.1M501.2 309.9h1.1M508.5 311.1h1.1M508.5 312.6h1.1M506.4 316.0h1.1M504.4 312.0h1.1M501.5 314.7h1.1M503.8 314.3h1.1M510.5 314.2h1.1M505.7 319.3h1.1M512.5 315.3h1.1M507.6 314.6h1.1M499.9 316.2h1.1M501.7 311.2h1.1M501.8 318.4h1.1M512.2 314.8h1.1M512.3 315.2h1.1M505.3 314.2h1.1M503.6 314.3h1.1M507.8 311.3h1.1M510.6 316.8h1.1M504.1 318.8h1.1M507.0 317.1h1.1M508.4 313.2h1.1M512.4 316.1h1.1M502.1 315.7h1.1M507.6 315.7h1.1M503.4 312.4h1.1M511.8 315.1h1.1" stroke="#ff8c1a" stroke-width="1.1" stroke-opacity="0.72" fill="none"/><path d="M512.1 314.0h1.1M503.6 310.3h1.1M508.2 314.8h1.1M508.2 313.9h1.1M511.1 314.5h1.1M501.7 316.6h1.1M507.6 310.4h1.1M513.3 316.3h1.1M510.2 316.4h1.1M505.5 316.2h1.1M506.2 320.2h1.1M502.6 313.4h1.1M513.0 315.1h1.1M502.7 316.0h1.1M503.8 318.2h1.1M502.7 318.0h1.1M506.5 314.8h1.1M510.9 317.7h1.1M504.3 316.1h1.1M513.8 320.7h1.1M506.5 312.5h1.1M510.0 316.4h1.1M506.5 317.1h1.1M506.2 316.2h1.1M502.3 308.3h1.1M511.2 315.9h1.1M508.3 315.9h1.1M507.6 310.9h1.1M504.2 316.5h1.1M502.3 317.3h1.1M502.9 320.8h1.1M505.0 310.4h1.1M503.4 311.0h1.1M510.4 314.5h1.1M508.5 317.8h1.1M508.5 308.0h1.1M509.1 312.4h1.1M509.7 314.1h1.1M503.4 314.6h1.1M503.1 316.3h1.1M512.5 314.7h1.1M510.5 313.0h1.1M502.4 315.0h1.1M506.2 312.9h1.1M512.3 313.5h1.1M503.0 319.5h1.1M505.8 317.5h1.1M508.7 310.8h1.1M512.8 316.8h1.1M510.9 314.8h1.1M509.5 314.4h1.1M512.6 325.8h1.1M504.7 319.7h1.1M502.4 316.2h1.1M511.0 307.3h1.1M511.8 314.8h1.1M510.8 319.3h1.1M505.8 312.2h1.1M513.6 314.3h1.1M511.4 316.0h1.1M513.5 311.2h1.1M509.2 319.4h1.1M512.8 318.4h1.1M505.7 312.4h1.1M509.2 317.6h1.1M506.9 319.1h1.1M513.3 312.3h1.1M512.9 317.9h1.1M502.4 320.5h1.1M512.8 316.2h1.1M509.2 316.7h1.1M502.8 321.4h1.1M509.9 314.4h1.1M512.2 323.8h1.1M505.8 307.1h1.1M512.2 318.8h1.1M507.4 318.7h1.1M506.0 317.8h1.1M503.3 319.3h1.1M507.3 315.9h1.1M509.5 320.3h1.1M509.7 315.9h1.1M506.2 317.3h1.1M501.6 315.6h1.1M511.0 310.6h1.1M503.9 321.0h1.1M511.0 311.3h1.1M502.6 314.6h1.1M504.2 312.9h1.1M509.2 317.8h1.1M510.8 318.2h1.1M512.6 313.3h1.1M510.9 315.2h1.1M510.5 316.3h1.1M510.4 314.4h1.1M506.9 318.3h1.1M507.2 304.4h1.1M513.7 316.2h1.1M503.2 309.3h1.1M505.0 314.5h1.1M512.9 310.8h1.1M512.7 316.4h1.1M508.5 320.9h1.1M502.5 308.7h1.1M508.9 317.1h1.1M507.1 320.5h1.1M503.7 311.4h1.1M501.6 314.1h1.1M513.2 311.7h1.1M503.2 317.7h1.1M502.4 313.9h1.1M507.3 318.8h1.1M513.8 308.0h1.1M509.0 311.9h1.1M509.1 316.6h1.1M501.8 313.9h1.1M509.7 316.8h1.1M502.1 320.2h1.1M512.7 310.9h1.1M507.8 321.0h1.1M505.2 310.6h1.1M513.7 310.7h1.1M504.0 313.1h1.1M509.0 315.9h1.1M509.1 321.1h1.1M511.1 312.4h1.1M506.7 311.1h1.1M509.3 318.7h1.1M509.0 310.6h1.1M502.6 321.2h1.1M511.0 318.0h1.1M507.3 314.6h1.1M513.1 313.1h1.1M512.3 312.1h1.1M513.7 317.5h1.1M505.7 311.7h1.1M502.4 319.1h1.1M507.0 312.1h1.1M508.8 309.0h1.1M503.7 316.2h1.1M512.7 312.5h1.1M503.9 315.0h1.1M502.8 311.4h1.1M512.4 315.2h1.1M509.7 318.0h1.1M512.6 309.8h1.1M507.8 312.7h1.1M511.9 314.9h1.1M504.5 321.0h1.1M507.1 322.0h1.1M511.7 315.3h1.1M513.3 320.2h1.1M512.4 316.5h1.1M502.7 316.3h1.1M503.2 312.4h1.1M507.6 311.7h1.1M510.4 310.0h1.1M502.1 318.5h1.1M512.6 310.0h1.1M507.4 312.7h1.1M513.7 318.0h1.1M512.8 317.3h1.1M508.4 314.1h1.1M502.9 311.5h1.1M509.0 319.2h1.1M506.2 312.8h1.1M505.0 310.2h1.1M504.2 310.0h1.1M513.6 313.9h1.1M501.5 310.8h1.1M511.5 312.5h1.1M513.1 313.3h1.1M502.7 319.5h1.1M502.5 315.9h1.1M507.2 312.0h1.1M506.7 316.5h1.1M508.9 316.2h1.1M502.9 312.9h1.1M512.3 317.3h1.1M507.4 313.3h1.1M512.7 311.7h1.1M511.3 306.2h1.1M510.7 318.0h1.1M505.5 310.9h1.1M506.1 317.3h1.1M503.8 315.5h1.1M505.6 312.1h1.1M506.6 311.1h1.1M511.8 320.3h1.1M502.7 305.9h1.1M504.7 314.6h1.1M501.7 319.6h1.1M512.7 318.8h1.1M506.6 315.5h1.1M505.8 316.1h1.1M508.3 314.8h1.1M508.1 312.8h1.1M502.9 314.7h1.1M508.8 312.5h1.1M509.8 316.9h1.1M503.9 321.1h1.1M508.7 318.0h1.1M504.0 311.9h1.1M511.9 315.7h1.1M502.1 320.4h1.1M507.7 317.6h1.1M504.7 317.5h1.1M503.4 313.7h1.1M511.6 317.1h1.1M511.6 316.1h1.1" stroke="#ffbf66" stroke-width="1.1" stroke-opacity="0.72" fill="none"/><path d="M511.2 307.1h1.1M503.1 322.8h1.1M507.4 315.3h1.1M507.9 312.7h1.1M506.1 316.5h1.1M506.2 316.5h1.1M511.9 308.6h1.1M507.3 316.1h1.1M509.3 316.2h1.1M511.4 308.8h1.1M504.6 314.9h1.1M510.7 318.8h1.1M509.8 324.6h1.1M508.8 315.9h1.1M510.3 314.4h1.1M502.2 317.4h1.1M506.4 307.7h1.1M506.7 324.3h1.1M509.0 309.5h1.1M509.2 324.5h1.1M502.6 317.7h1.1M511.0 321.5h1.1M509.3 311.4h1.1M507.6 311.3h1.1M509.2 302.7h1.1M509.8 313.8h1.1M506.4 323.5h1.1M505.5 316.4h1.1M508.8 315.0h1.1M506.5 316.5h1.1M509.0 323.3h1.1M502.3 315.6h1.1M508.5 307.0h1.1M505.1 312.1h1.1M510.7 314.8h1.1M506.9 312.3h1.1M506.6 312.6h1.1M508.9 327.4h1.1M507.2 314.5h1.1M508.8 306.4h1.1M511.3 311.4h1.1M506.5 316.1h1.1M504.7 315.1h1.1M507.4 316.8h1.1M506.9 314.4h1.1M512.5 308.7h1.1M507.3 307.4h1.1" stroke="#ff8c1a" stroke-width="1.1" stroke-opacity="0.5" fill="none"/><path d="M517.9 315.0h1.1M514.9 314.9h1.1M514.5 315.9h1.1M515.0 315.6h1.1M518.2 315.3h1.1M514.3 313.7h1.1M517.3 316.0h1.1M513.4 315.3h1.1M518.2 314.1h1.1M513.5 316.0h1.1M513.7 316.3h1.1M517.6 316.4h1.1M517.1 315.0h1.1M515.1 314.9h1.1M516.3 316.1h1.1M516.2 314.9h1.1M513.3 315.2h1.1M513.9 314.7h1.1M514.8 314.2h1.1M517.1 316.0h1.1M514.2 317.1h1.1M517.7 315.8h1.1M517.0 315.0h1.1M515.3 316.8h1.1M517.3 314.0h1.1M515.7 315.9h1.1M513.7 316.9h1.1M517.3 314.8h1.1M518.6 316.1h1.1M518.8 314.5h1.1M514.4 316.3h1.1M518.2 315.2h1.1M513.2 312.6h1.1M515.9 316.4h1.1M514.7 313.9h1.1M515.3 315.3h1.1M515.1 314.7h1.1M516.6 313.9h1.1M516.8 315.8h1.1M515.2 312.7h1.1M514.3 315.9h1.1M519.1 314.5h1.1M513.6 313.6h1.1M517.9 316.8h1.1M513.4 315.6h1.1M517.6 316.1h1.1M514.3 314.4h1.1M513.4 315.7h1.1M516.3 316.9h1.1M515.9 315.2h1.1" stroke="#ffc4cc" stroke-width="1.1" stroke-opacity="0.72" fill="none"/><path d="M509.1 332.0h1.1M509.1 336.0h1.1M509.5 329.6h1.1M511.1 303.1h1.1M502.2 303.9h1.1" stroke="#ff8c1a" stroke-width="1.1" stroke-opacity="0.4" fill="none"/><path d="M513.5 315.7h1.1M515.1 314.3h1.1M503.9 316.6h1.1M505.2 317.1h1.1M503.4 314.6h1.1M510.4 312.7h1.1M501.7 316.7h1.1M505.8 316.3h1.1M514.9 316.2h1.1M504.1 314.2h1.1M508.8 313.8h1.1M506.3 315.1h1.1M512.0 315.0h1.1M513.0 313.8h1.1M506.4 314.2h1.1M511.4 313.6h1.1M509.0 316.6h1.1M513.0 314.1h1.1M508.3 312.1h1.1M508.6 316.3h1.1M502.8 316.1h1.1M505.9 315.4h1.1M502.2 315.3h1.1M508.6 312.9h1.1M507.9 313.9h1.1M501.8 315.7h1.1M506.1 316.5h1.1M502.7 316.0h1.1M512.1 316.2h1.1M506.7 315.4h1.1M514.1 313.7h1.1M505.1 314.6h1.1M512.7 315.3h1.1M506.1 314.2h1.1M507.9 314.9h1.1M504.0 316.5h1.1M511.2 314.6h1.1M505.5 314.2h1.1M512.0 314.1h1.1M510.4 315.6h1.1M503.5 317.2h1.1M510.7 315.7h1.1M514.3 314.5h1.1M508.3 316.3h1.1M506.1 315.3h1.1M504.2 315.9h1.1M514.3 313.9h1.1M507.7 315.3h1.1M507.9 315.8h1.1M504.2 316.4h1.1M510.8 316.3h1.1M505.2 315.7h1.1M506.1 314.0h1.1M507.1 315.5h1.1M514.1 316.6h1.1M508.3 316.4h1.1M514.0 315.5h1.1M511.0 315.8h1.1M504.5 317.0h1.1M504.5 316.0h1.1M513.8 316.7h1.1M504.9 313.9h1.1M511.1 316.5h1.1M501.7 315.7h1.1M507.6 315.3h1.1M506.6 316.2h1.1M511.3 315.1h1.1M506.8 315.0h1.1M507.2 315.1h1.1M505.6 315.7h1.1M503.4 313.1h1.1M510.9 316.2h1.1M510.3 314.9h1.1M507.1 314.3h1.1M508.0 315.7h1.1M509.7 319.1h1.1M507.4 317.0h1.1M506.4 315.7h1.1M513.7 314.0h1.1M508.5 315.3h1.1M514.6 314.1h1.1M509.5 315.2h1.1M511.4 314.5h1.1M511.1 315.7h1.1M503.4 315.8h1.1M504.7 317.4h1.1M505.7 316.0h1.1M502.3 313.8h1.1M503.5 315.0h1.1M515.3 315.8h1.1M514.6 313.8h1.1M510.1 317.5h1.1M505.2 316.3h1.1M504.4 312.4h1.1M510.6 315.8h1.1M503.9 317.1h1.1M506.1 313.3h1.1M506.5 316.3h1.1M502.4 315.6h1.1M512.2 315.2h1.1M508.2 314.4h1.1M515.3 314.5h1.1M511.0 316.2h1.1M513.4 314.9h1.1M512.7 315.3h1.1M505.7 315.7h1.1M506.1 316.7h1.1M503.8 313.7h1.1M504.9 315.7h1.1M505.3 316.0h1.1M510.5 316.0h1.1M504.8 315.2h1.1M511.8 315.7h1.1M513.0 315.0h1.1M508.4 316.7h1.1M514.6 313.8h1.1M504.3 317.1h1.1M510.5 315.6h1.1M509.5 314.4h1.1M508.0 313.2h1.1M506.1 314.7h1.1M514.6 313.8h1.1M504.0 316.7h1.1M508.0 315.8h1.1M504.6 316.2h1.1M513.3 315.5h1.1M508.6 315.3h1.1M509.2 313.2h1.1M512.8 314.4h1.1M503.9 315.0h1.1M509.8 314.1h1.1M507.7 317.0h1.1M507.4 314.3h1.1M507.7 313.5h1.1M502.1 314.5h1.1M506.3 314.6h1.1M512.9 314.5h1.1M509.6 311.9h1.1M506.8 315.3h1.1M510.0 315.0h1.1M508.0 316.1h1.1M508.6 316.1h1.1M511.1 315.5h1.1M512.4 316.7h1.1M514.4 315.1h1.1M512.9 313.5h1.1M507.7 315.8h1.1M504.2 314.1h1.1M510.3 315.9h1.1M511.7 314.3h1.1M503.8 314.5h1.1M511.5 315.3h1.1M505.2 313.4h1.1M512.8 314.3h1.1M509.9 314.5h1.1M515.3 314.2h1.1M502.0 317.3h1.1M510.1 314.7h1.1M512.2 315.7h1.1M507.4 316.1h1.1M509.5 316.7h1.1M507.0 315.8h1.1M515.1 316.7h1.1M503.7 315.7h1.1M512.3 316.3h1.1M503.8 314.9h1.1M501.4 315.3h1.1M507.2 315.4h1.1M512.2 315.1h1.1M502.4 315.2h1.1M501.8 314.7h1.1M504.0 314.0h1.1M503.4 314.7h1.1M508.3 314.5h1.1M504.0 315.8h1.1M512.6 314.8h1.1M503.8 314.7h1.1M514.8 314.6h1.1M510.1 316.0h1.1M511.0 316.0h1.1M505.2 314.4h1.1M503.5 315.1h1.1M505.5 315.5h1.1M506.9 315.4h1.1M513.8 314.0h1.1M508.3 314.5h1.1M512.5 315.3h1.1M514.6 316.3h1.1M507.4 314.8h1.1M505.2 315.1h1.1M503.1 315.5h1.1M513.1 317.9h1.1M501.9 315.3h1.1M515.2 314.8h1.1M511.9 312.4h1.1M503.1 314.7h1.1M511.6 313.9h1.1M515.3 315.7h1.1M510.1 315.1h1.1M508.8 315.9h1.1" stroke="#ffe9a0" stroke-width="1.1" stroke-opacity="0.72" fill="none"/></g><rect x="304.70" y="235.00" width="92.80" height="160.30" fill="none" stroke="#444444" stroke-width="0.85"/><path d="M320.17 395.30v-1.40M320.17 235.00v1.40M335.63 395.30v-1.40M335.63 235.00v1.40M351.10 395.30v-1.40M351.10 235.00v1.40M366.57 395.30v-1.40M366.57 235.00v1.40M382.03 395.30v-1.40M382.03 235.00v1.40M304.70 379.27h1.40M397.50 379.27h-1.40M304.70 363.24h1.40M397.50 363.24h-1.40M304.70 347.21h1.40M397.50 347.21h-1.40M304.70 331.18h1.40M397.50 331.18h-1.40M304.70 315.15h1.40M397.50 315.15h-1.40M304.70 299.12h1.40M397.50 299.12h-1.40M304.70 283.09h1.40M397.50 283.09h-1.40M304.70 267.06h1.40M397.50 267.06h-1.40M304.70 251.03h1.40M397.50 251.03h-1.40" stroke="#444444" stroke-width="0.7" fill="none"/><g font-size="7.60" fill="#2a2a2a" stroke="#2a2a2a" stroke-width="0.2"><g text-anchor="middle"><text x="304.70" y="406.20">0</text><text x="320.17" y="406.20">4</text><text x="335.63" y="406.20">8</text><text x="351.10" y="406.20">12</text><text x="366.57" y="406.20">16</text><text x="382.03" y="406.20">20</text><text x="397.50" y="406.20">24</text></g><g text-anchor="end"><text x="301.50" y="398.45">0</text><text x="301.50" y="382.42">0.5</text><text x="301.50" y="366.39">1</text><text x="301.50" y="350.36">1.5</text><text x="301.50" y="334.33">2</text><text x="301.50" y="318.30">2.5</text><text x="301.50" y="302.27">3</text><text x="301.50" y="286.24">3.5</text><text x="301.50" y="270.21">4</text><text x="301.50" y="254.18">4.5</text><text x="301.50" y="238.15">5</text></g></g><rect x="426.70" y="235.00" width="93.10" height="160.30" fill="none" stroke="#444444" stroke-width="0.85"/><path d="M442.22 395.30v-1.40M442.22 235.00v1.40M457.73 395.30v-1.40M457.73 235.00v1.40M473.25 395.30v-1.40M473.25 235.00v1.40M488.77 395.30v-1.40M488.77 235.00v1.40M504.28 395.30v-1.40M504.28 235.00v1.40M426.70 379.27h1.40M519.80 379.27h-1.40M426.70 363.24h1.40M519.80 363.24h-1.40M426.70 347.21h1.40M519.80 347.21h-1.40M426.70 331.18h1.40M519.80 331.18h-1.40M426.70 315.15h1.40M519.80 315.15h-1.40M426.70 299.12h1.40M519.80 299.12h-1.40M426.70 283.09h1.40M519.80 283.09h-1.40M426.70 267.06h1.40M519.80 267.06h-1.40M426.70 251.03h1.40M519.80 251.03h-1.40" stroke="#444444" stroke-width="0.7" fill="none"/><g font-size="7.60" fill="#2a2a2a" stroke="#2a2a2a" stroke-width="0.2"><g text-anchor="middle"><text x="426.70" y="406.20">0</text><text x="442.22" y="406.20">4</text><text x="457.73" y="406.20">8</text><text x="473.25" y="406.20">12</text><text x="488.77" y="406.20">16</text><text x="504.28" y="406.20">20</text><text x="519.80" y="406.20">24</text></g><g text-anchor="end"><text x="423.50" y="398.45">-5</text><text x="423.50" y="382.42">-4</text><text x="423.50" y="366.39">-3</text><text x="423.50" y="350.36">-2</text><text x="423.50" y="334.33">-1</text><text x="423.50" y="318.30">0</text><text x="423.50" y="302.27">1</text><text x="423.50" y="286.24">2</text><text x="423.50" y="270.21">3</text><text x="423.50" y="254.18">4</text><text x="423.50" y="238.15">5</text></g></g><g font-size="8.30" font-weight="bold" fill="#2a2a2a" stroke="#2a2a2a" stroke-width="0.18" text-anchor="middle"><text x="351.20" y="417.80">Local time [H]</text><text x="473.35" y="417.80">Local time [H]</text><text transform="translate(288.10 315.15) rotate(-90)">ROTI [Tecu/min]</text><text transform="translate(413.30 314.15) rotate(-90)">VTEC gradient [Tecu/km]</text></g><text x="417.80" y="231.20" font-size="7.60" fill="#2a2a2a" stroke="#2a2a2a" stroke-width="0.15" text-anchor="middle">Number of scintillations detected (ROTI&gt;=0.5): 1501 (9.98%)</text><text x="523.80" y="240.60" font-size="7.45" fill="#2a2a2a" stroke="#2a2a2a" stroke-width="0.25">E=20°</text></g></svg></body></html>
